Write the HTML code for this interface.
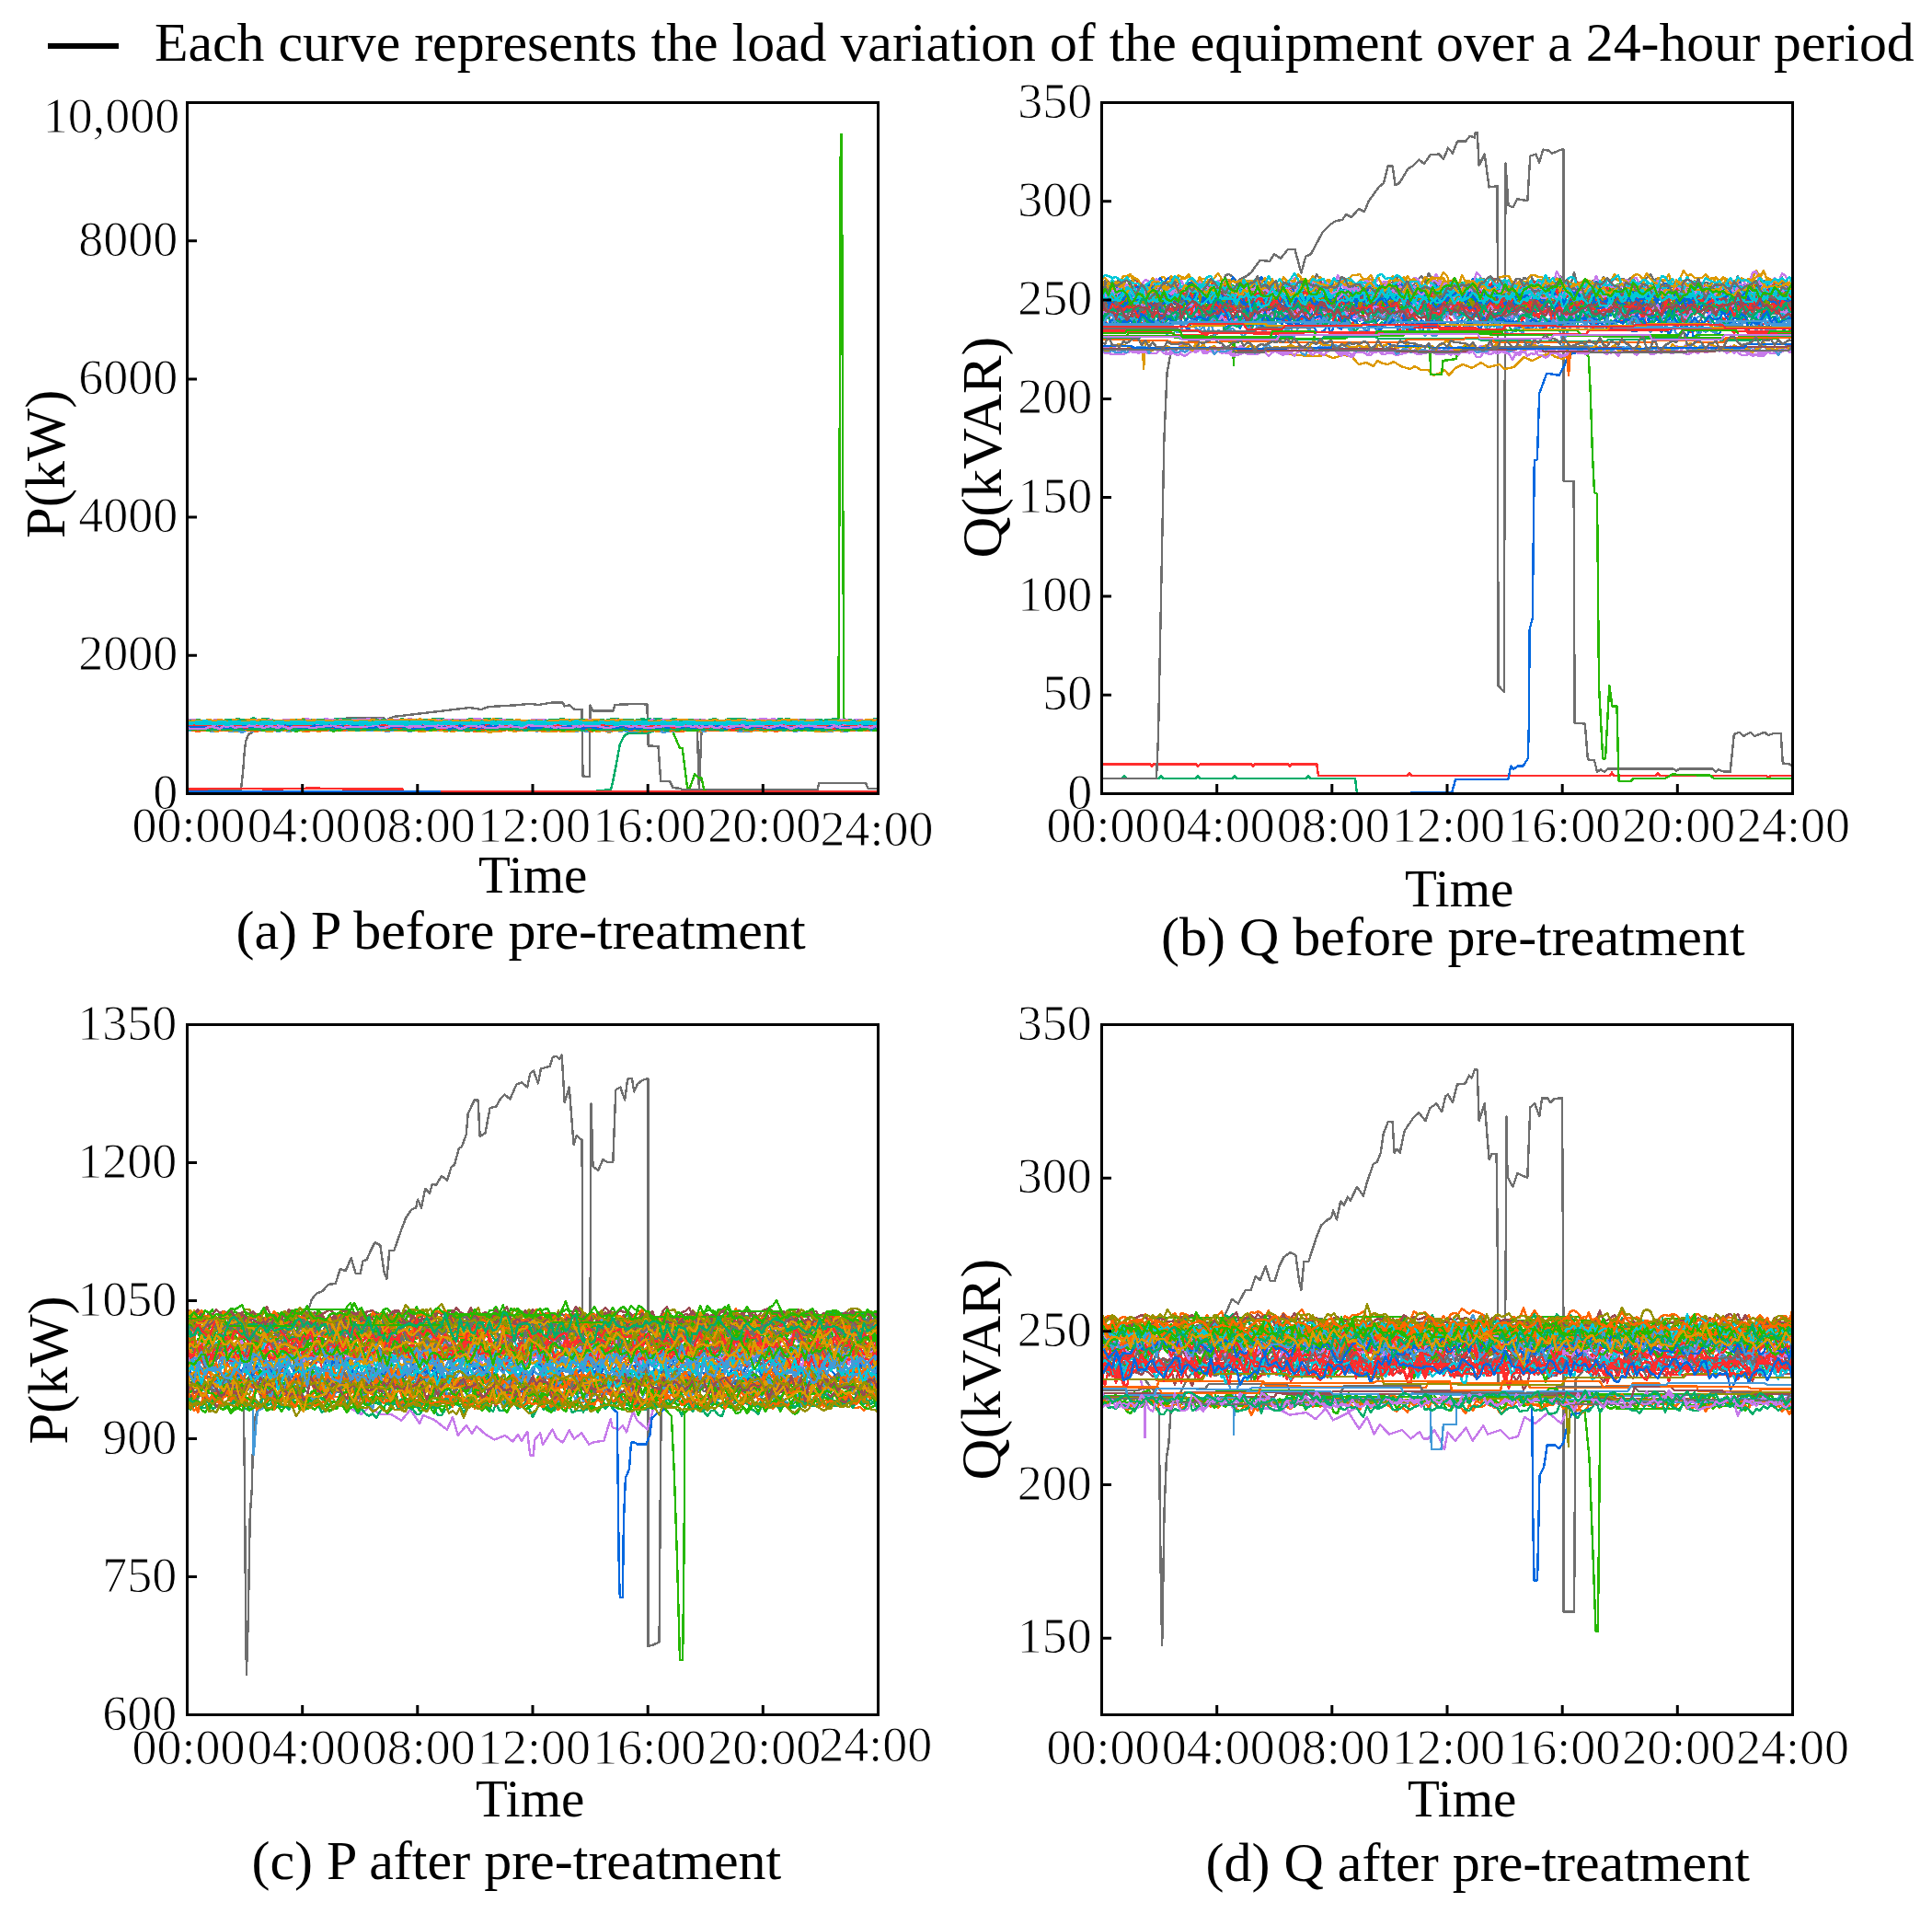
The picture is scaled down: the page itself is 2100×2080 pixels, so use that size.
<!DOCTYPE html><html><head><meta charset="utf-8"><title>Load curves</title><style>
html,body{margin:0;padding:0;background:#fff;width:2100px;height:2080px;overflow:hidden}
svg{position:absolute;left:0;top:0;display:block}
text{font-family:"Liberation Serif","Times New Roman",serif;fill:#000}.tk{stroke:#fff;stroke-width:0.9px}
</style></head><body>
<svg width="2100" height="2080" viewBox="0 0 2100 2080">
<rect width="2100" height="2080" fill="#fff"/>
<defs>
<clipPath id="ca"><rect x="203.5" y="111.5" width="751" height="751"/></clipPath>
<clipPath id="cb"><rect x="1197.5" y="111.5" width="751" height="751"/></clipPath>
<clipPath id="cc"><rect x="203.5" y="1113.5" width="751" height="750"/></clipPath>
<clipPath id="cd"><rect x="1197.5" y="1113.5" width="751" height="750"/></clipPath>
</defs>
<path d="M52 50H129" stroke="#000" stroke-width="6"/>
<text x="168" y="66" font-size="59.8">Each curve represents the load variation of the equipment over a 24-hour period</text>
<g clip-path="url(#ca)" fill="none" stroke-width="2.4" stroke-linejoin="round" shape-rendering="crispEdges">
<path d="M205 857.5l57 0 2-17.5 1.5-20 1.5-14 3-8 6.7-3.5 23.3-2.5 30-2 25.3-7.6 24.7-2 37.4 0 2.1 2 8.2-3.5 31.1-3.7 51.8-6.2 12.4 2 8.3-3 28.7-1.6 16.6-1.6 8.4 1.2 14.3-2.4 12.5 0 2 3.8 5.2-1 5.2 4.4 8.3 0 1 72.8 7.2 .4 .8-77.3 2.9 5.9 22.2 0 1.6-6.7 21.8-.9 13.4 .4 1.3 45 10.8 .6 2.7 37.7 10.1 .7 3.3 6.7 7.4 .7 2.7 1.4 146.7 0 2-7.4 50.5 0 2.7 6 11.4 0" stroke="#6e6e6e"/>
<path d="M756 791l1.9 .5 2 67.3 2.7-66.6 2.4-1.2" stroke="#6e6e6e"/>
<path d="M205 861l390.7 0 49.6-1 18.7-2 2-8 4-20 3.9-21.7 5.1-9.3 5.2-2.6 20.8 0 7-2.4" stroke="#00ad6a"/>
<path d="M700 792.5l30.3 .4 8.7 20.2 2.7 0 5.4 43 2.7 0 5.4-14.8 4 4.1 3.4-0 2.7 13.4 4.7 1.7 185-0" stroke="#26b800"/>
<path d="M900 791.5l11.3 0 .7-131.5 1-270 .8-244 1.2 0 .5 179 .7 205 1.1 250 1.4 11.5 11.3-.5" stroke="#26b800"/>
<path d="M205 857.5l55-.5 40 .5 40-1 40 1 57.3 0 .7 2.3 41.2 0 475.8 0" stroke="#ff2d2d"/>
<path d="M205 860l274.2 0" stroke="#0068e0"/>
<path d="M204 793l3 1 4 0 4 0 4 0 4 0 4-1 4 1 4 1 4-1 4 0 4-1 4 2 4 0 4 0 4-2 4-1 4 1 4 1 4 0 4-1 4 1 3 0 4 1 4-1 4-2 4 1 4 0 4 2 4-1 4 0 4 0 4 0 4 1 4-1 4 0 4 0 4-1 4-1 4 1 4 0 4 1 4 0 3 0 4-1 4 0 4 0 4 1 4 0 4 0 4-1 4-1 4 0 4 2 4 0 4-2 4 2 4 0 4-1 4 1 4 0 4 0 4 0 4-1 3 1 4 1 4-1 4-1 4 0 4 0 4 0 4 2 4-1 4 1 4-1 4 0 4 0 4 1 4-2 4 0 4 2 4-1 4 0 4 1 4-1 3 1 4 0 4-1 4-1 4 0 4 1 4 0 4 0 4 0 4 0 4 0 4 0 4 0 4 0 4 1 4-1 4-1 4 1 4 1 4 0 4-1 3 0 4-1 4 1 4 0 4-1 4 0 4 0 4 0 4 0 4 0 4 0 4 1 4-2 4 1 4 1 4-1 4 0 4 1 4 1 4-1 4 0 3 0 4 0 4 0 4 1 4-2 4 1 4 1 4-1 4 0 4 1 4-1 4 0 4-1 4 0 4 2 4-1 4 0 4 0 4-1 4 1 4-1 3 0 4 0 4 1 4 0 4 0 4 0 4-1 4 1 4 0 4-1 4 0 4 1 4 0 4 0 4 0 4 0 4 0 4-1 4 1 4-1 4 0 3 0 4 0 4 1 4 0 4-1 4 2 4 0 4 0 4 0 4-1 4-1 4 2 4-2 4 0 4 0 4 0 4 0 4-1 4 0 4 2 4-1 3 0" stroke="#dd9900"/>
<path d="M204 793l3 0 4 0 4 0 4 1 4-1 4 0 4 1 4-1 4 0 4 0 4 1 4-2 4 1 4 1 4-1 4 1 4-1 4 1 4-1 4 0 4 0 3 0 4 0 4 0 4 0 4-1 4 1 4 0 4 1 4 0 4-1 4 2 4-2 4-1 4 1 4 0 4-1 4 1 4 0 4 0 4-1 4 1 3 1 4 0 4-2 4 1 4 0 4-1 4 1 4 0 4 1 4-1 4 0 4-1 4 1 4 0 4 1 4 0 4-1 4 1 4 0 4-1 4-1 3 0 4 2 4 0 4-1 4 0 4-1 4 0 4 1 4 0 4 0 4 1 4 0 4 0 4-1 4 0 4 0 4 1 4-2 4 1 4 0 4 0 3 1 4 1 4-1 4-1 4 0 4 0 4 0 4-2 4 2 4 1 4-1 4 1 4 0 4-1 4 1 4 1 4-1 4-1 4 0 4 0 4 2 3 0 4-1 4-1 4-1 4 1 4-1 4 1 4 1 4 0 4 0 4 2 4-2 4-1 4 1 4 0 4-1 4 0 4 0 4-1 4 1 4-1 3 1 4-1 4 3 4-1 4 0 4-2 4 1 4 0 4 0 4-1 4 1 4 0 4 1 4 0 4-1 4 1 4-1 4 1 4-1 4 1 4-2 3 1 4 1 4 0 4 0 4 0 4 1 4 0 4 0 4-2 4 0 4 0 4 0 4 0 4 0 4 0 4 1 4-1 4 1 4-1 4 0 4 1 3 0 4 0 4-1 4 0 4 0 4 0 4 1 4-1 4 0 4 0 4 0 4 1 4 0 4 0 4 0 4 0 4-1 4 1 4-1 4 1 4 0 3 0" stroke="#dd9900"/>
<path d="M204 792l3 1 4-1 4 0 4 0 4-1 4 2 4 0 4-1 4 0 4 0 4-1 4 1 4 0 4-1 4 2 4-1 4 0 4 0 4 0 4-1 4 1 3 1 4-2 4 0 4 0 4 2 4 0 4-1 4 0 4 2 4-1 4 0 4 0 4 0 4-1 4 1 4-1 4-1 4 1 4 0 4 1 4-2 3 0 4 0 4 0 4 2 4 1 4-1 4-1 4-2 4 2 4 1 4 0 4 0 4-1 4 0 4 1 4 0 4-1 4 2 4-1 4-1 4 0 3 0 4 0 4 0 4 0 4 0 4 0 4 0 4-1 4 0 4 0 4 1 4 0 4-1 4 2 4-1 4-2 4 1 4-1 4 1 4 1 4 0 3 0 4 0 4 1 4-2 4 1 4 0 4 0 4 0 4 1 4-1 4-1 4 0 4 1 4 2 4-1 4-1 4-1 4 1 4 0 4 1 4 0 3 0 4 0 4-1 4 0 4 0 4-1 4 0 4 1 4-1 4 1 4 0 4 0 4 1 4-1 4 0 4 1 4-1 4-1 4 1 4 0 4 0 3 0 4 1 4-1 4 0 4 0 4 0 4-1 4 1 4-1 4 2 4 0 4-1 4 1 4-1 4-2 4 1 4 1 4-1 4 1 4 0 4 0 3 0 4 0 4 0 4-1 4 2 4 0 4-2 4 2 4-1 4 2 4-1 4 0 4-1 4 1 4-1 4 0 4-1 4 1 4 0 4 1 4-1 3 0 4 0 4 0 4 1 4-1 4 1 4 0 4-1 4 0 4 0 4-1 4 1 4 0 4 0 4 1 4-1 4 1 4-2 4 2 4-1 4 0 3-1" stroke="#ff6600"/>
<path d="M204 793l3 0 4 1 4-1 4 1 4-1 4 1 4 0 4-1 4 0 4 1 4-1 4 0 4 0 4 0 4 0 4 0 4 0 4 1 4-2 4 1 4 0 3 0 4 0 4 1 4-1 4 1 4-2 4 0 4 0 4 0 4 0 4 2 4-2 4 1 4 0 4 1 4-1 4 0 4 0 4-1 4 0 4 1 3 0 4-1 4 1 4-1 4 1 4 1 4-1 4 0 4-1 4-1 4 1 4 1 4 0 4 0 4 1 4 0 4-1 4-1 4 1 4 0 4 0 3-1 4 1 4-1 4 1 4 0 4 0 4 0 4-1 4 0 4 1 4 1 4-1 4-1 4 0 4 0 4 0 4 0 4 0 4-1 4 0 4 1 3 0 4 1 4 0 4 0 4 1 4 0 4-1 4 0 4 1 4-1 4-1 4 0 4 1 4 0 4 0 4 1 4 0 4 0 4-1 4 1 4-2 3 1 4 1 4 0 4 0 4 0 4-1 4 0 4-2 4 1 4 1 4 0 4 0 4-2 4 2 4 0 4 0 4-1 4 0 4 1 4 0 4 0 3 0 4-1 4 1 4-1 4-1 4 2 4 0 4 0 4 0 4 0 4 1 4 0 4-1 4 0 4 0 4 1 4-1 4-1 4 1 4 0 4 1 3-1 4 0 4 0 4 0 4-1 4 1 4 0 4 0 4-1 4 1 4 0 4 1 4-1 4-1 4 2 4 0 4 0 4 0 4-1 4-1 4 0 3 0 4 1 4 0 4 0 4 2 4-1 4 0 4 0 4 0 4-1 4 0 4 0 4 0 4 0 4 0 4-1 4 1 4-1 4 1 4-1 4 2 3 0" stroke="#dd9900"/>
<path d="M204 794l3 0 4 0 4-1 4 0 4 1 4 0 4 1 4-2 4 0 4 0 4 1 4 1 4-1 4 0 4 2 4-2 4-1 4 2 4-1 4-2 4 2 3 1 4-3 4 1 4 2 4-1 4 0 4 1 4-2 4 0 4 0 4 0 4 1 4-1 4 0 4 1 4 0 4 0 4 0 4-1 4 1 4-1 3 0 4 1 4 0 4-1 4 1 4-1 4 0 4 1 4 0 4-1 4 0 4 1 4 1 4-1 4-1 4 1 4-1 4 0 4 2 4-1 4 0 3-1 4 0 4 0 4 0 4 1 4 0 4 0 4-1 4-1 4 0 4 1 4 1 4 0 4 0 4-1 4 1 4 0 4 0 4 1 4 0 4-1 3-1 4 1 4 0 4-1 4-1 4 1 4 1 4 0 4 0 4-2 4 0 4 3 4-2 4 1 4 0 4-1 4 0 4 0 4 0 4 1 4-1 3 1 4 1 4-1 4 0 4 1 4-2 4 0 4 1 4-1 4 1 4 1 4-1 4-1 4 2 4-1 4 1 4 0 4 0 4-1 4 0 4 0 3-1 4 0 4 1 4 0 4 2 4-1 4-1 4 1 4-2 4 0 4 0 4 1 4 0 4 0 4-1 4 2 4-1 4 0 4 0 4 0 4 0 3 0 4-1 4 1 4 0 4 1 4-1 4 1 4-1 4-1 4 1 4-1 4 0 4 1 4 0 4-1 4 0 4-1 4 1 4 0 4 2 4-1 3-1 4 0 4 0 4 0 4 0 4 1 4 0 4 0 4 1 4-2 4 0 4 1 4 1 4-1 4 0 4 0 4 0 4-1 4 1 4 0 4-1 3 0" stroke="#4499d8"/>
<path d="M204 793l3-1 4 0 4 1 4-1 4 1 4 0 4 0 4 2 4-2 4 0 4 0 4 1 4-2 4 1 4 0 4 0 4 0 4 1 4 0 4-1 4 0 3 2 4-2 4 0 4-1 4 1 4 1 4-1 4 1 4-1 4 1 4 0 4-1 4-1 4 1 4 2 4-1 4-1 4 0 4 0 4 0 4 0 3 1 4-1 4 1 4 0 4-1 4 1 4-1 4 0 4 0 4 1 4-2 4 2 4-1 4-1 4 1 4 1 4 0 4 0 4-1 4 1 4 0 3 1 4-1 4-1 4 1 4 0 4-1 4 1 4-1 4-1 4 0 4 0 4 0 4 1 4 2 4-1 4 0 4-1 4 2 4-1 4 2 4-1 3-2 4 1 4-1 4 0 4 0 4 2 4-1 4 0 4 0 4 0 4 0 4 0 4 0 4 1 4-3 4 1 4 2 4-1 4-1 4 0 4 2 3 0 4-1 4 0 4 0 4-1 4 0 4 1 4 1 4-1 4-1 4-1 4 1 4 1 4 0 4-1 4 0 4 1 4 0 4-1 4 0 4 0 3 1 4-2 4 0 4 1 4 0 4 1 4-1 4 0 4-2 4 2 4 0 4 0 4-1 4 1 4 0 4 0 4 0 4 1 4-1 4 1 4 0 3 0 4-1 4 1 4 0 4-1 4 0 4 1 4-1 4-1 4 2 4 0 4 1 4-2 4 1 4 0 4 0 4-1 4 0 4 0 4 0 4-1 3 0 4 1 4 0 4 1 4 0 4 0 4 0 4-1 4 1 4-1 4 1 4-1 4 0 4 1 4-1 4 0 4 1 4-1 4 1 4-1 4 1 3-1" stroke="#dd9900"/>
<path d="M204 793l3 0 4 1 4 1 4-1 4 0 4 0 4-1 4 0 4 1 4-1 4 1 4-2 4 0 4 1 4-1 4 1 4 1 4 0 4 1 4-2 4 0 3-1 4 1 4 0 4 1 4-1 4 0 4 0 4 1 4 0 4-1 4 0 4 2 4-2 4 1 4 0 4 0 4 0 4-1 4 0 4 1 4 0 3 0 4-1 4 0 4 0 4 1 4-1 4-1 4 1 4 0 4-1 4 0 4 1 4 1 4-1 4 0 4 0 4 0 4 1 4-2 4 1 4 0 3 1 4-1 4 0 4-1 4 1 4 0 4-1 4 1 4 1 4 0 4-2 4 2 4 0 4-1 4 0 4 2 4-1 4 0 4-1 4 0 4 0 3-1 4 2 4 0 4-1 4-1 4 1 4 1 4-1 4 1 4-2 4 0 4 1 4 1 4 0 4-2 4 1 4 1 4 0 4-2 4 1 4 1 3-1 4 0 4 0 4 0 4-1 4 3 4-1 4-1 4 0 4 1 4 0 4 0 4-1 4-1 4-1 4 2 4 1 4-1 4 0 4 1 4 1 3-1 4 0 4 0 4 0 4-3 4 2 4 1 4 0 4 1 4 0 4-1 4 0 4-1 4 0 4 0 4 0 4 1 4 0 4 0 4 0 4 0 3-1 4 0 4 1 4 0 4-1 4 0 4 0 4 1 4-1 4 0 4-1 4 1 4-1 4 2 4 1 4-2 4-1 4 1 4 1 4 0 4-1 3 0 4-1 4 1 4 0 4 0 4 0 4 0 4-1 4 1 4-1 4 1 4 0 4 1 4-1 4 1 4-1 4 0 4 0 4 1 4-1 4-1 3 1" stroke="#ff6600"/>
<path d="M204 791l3 1 4-1 4 2 4-2 4 0 4 1 4-2 4 0 4 2 4-1 4 0 4 2 4-1 4 1 4-1 4-2 4 1 4 1 4 0 4 0 4 0 3 0 4 0 4-1 4 0 4 0 4 1 4 0 4-1 4-1 4 1 4 0 4 0 4 0 4 1 4-2 4 0 4 2 4-1 4-1 4 0 4 0 3 1 4-1 4 1 4-2 4 2 4-1 4 0 4 1 4 1 4 1 4-2 4 1 4-2 4 0 4 0 4 1 4 0 4 1 4 0 4 0 4-1 3 0 4 2 4-2 4 1 4-1 4-1 4 1 4 0 4-1 4 1 4 0 4 1 4-1 4-1 4 0 4 2 4-2 4 0 4 1 4 0 4 0 3-1 4-1 4 0 4 1 4 2 4-1 4-1 4 2 4 0 4 0 4 0 4-1 4-1 4 2 4 0 4-1 4-1 4 0 4 2 4 0 4-2 3 1 4-1 4 1 4 0 4 0 4 0 4-1 4 2 4-1 4-1 4 2 4 1 4-1 4-2 4 0 4 2 4-2 4 1 4 0 4 0 4-1 3 2 4-1 4 0 4-1 4 1 4-1 4 1 4 0 4 0 4 1 4-1 4 0 4 1 4-1 4 1 4 0 4 0 4-1 4-2 4 1 4 1 3-1 4 1 4 0 4 0 4 0 4 0 4 0 4 1 4-1 4 0 4 1 4 0 4-1 4-1 4 1 4 0 4 0 4-1 4 0 4 1 4-1 3 1 4 1 4-2 4 1 4 0 4 1 4 0 4-1 4 0 4 1 4-1 4 2 4-1 4 0 4-2 4 1 4 0 4 1 4-2 4 0 4 1 3-1" stroke="#6e6e6e"/>
<path d="M204 792l3-1 4 2 4-1 4 1 4 0 4 1 4-2 4 0 4 0 4 0 4 1 4-2 4 0 4 0 4 1 4 0 4 1 4 0 4 0 4-1 4 0 3-1 4 1 4 0 4 2 4-1 4-1 4-1 4 1 4 1 4-1 4-1 4 1 4 0 4 0 4 0 4 0 4 1 4-2 4 1 4 1 4 1 3-2 4 0 4 0 4-1 4 1 4 1 4 0 4 0 4-1 4 1 4-1 4 1 4 0 4 0 4 0 4 0 4-2 4 0 4 0 4 1 4-1 3 1 4-1 4 2 4-1 4 0 4 0 4-1 4 2 4-1 4 1 4-1 4 1 4 0 4 0 4 0 4 0 4 1 4-1 4-1 4 0 4 0 3 1 4-1 4 1 4-1 4 1 4-1 4 0 4 0 4 2 4-1 4 0 4 0 4 0 4 0 4-1 4 1 4 0 4 0 4-1 4 1 4-1 3 1 4 0 4-1 4 0 4 1 4 0 4 1 4-3 4 1 4 0 4-1 4 0 4 2 4 0 4 0 4-1 4-1 4 0 4 1 4-1 4 1 3 1 4 0 4-1 4 0 4-1 4 2 4-2 4 2 4-1 4 0 4 1 4 1 4 0 4-1 4-1 4-1 4 1 4 0 4-1 4 0 4 2 3-1 4-1 4 0 4 0 4 0 4 1 4 1 4-1 4-1 4 0 4 0 4 0 4 1 4-1 4 1 4 0 4 1 4-1 4 0 4-1 4 1 3 1 4 0 4 0 4 1 4-2 4 0 4 0 4 0 4 1 4-2 4 1 4 1 4 0 4 1 4-3 4 2 4 1 4-2 4-2 4 1 4 1 3 0" stroke="#26b800"/>
<path d="M204 790l3 1 4 1 4 0 4-1 4 0 4-2 4 0 4 1 4-1 4 0 4 0 4-1 4 1 4-1 4 3 4-1 4 1 4-1 4 0 4 0 4 0 3 1 4 2 4-2 4 0 4-2 4 1 4 0 4 1 4-1 4 1 4-1 4 0 4-1 4 2 4-1 4 1 4-1 4 1 4 1 4-1 4 0 3-1 4-1 4 2 4-1 4-2 4 0 4 0 4 2 4 1 4-1 4-1 4 1 4 0 4 1 4-2 4 0 4 0 4-1 4 2 4 1 4 0 3 0 4-2 4 0 4 1 4 0 4 1 4-1 4 0 4 0 4 1 4-2 4 0 4 0 4-1 4 1 4 1 4-1 4 0 4 2 4-2 4 1 3-1 4 0 4 1 4 1 4-2 4 0 4 1 4-1 4 0 4 0 4 1 4-1 4 1 4 0 4 0 4 1 4 0 4 0 4-1 4-1 4 1 3-3 4 1 4 0 4 1 4 0 4 0 4-1 4 0 4 2 4-1 4 1 4 0 4-1 4 0 4 1 4 1 4-2 4-1 4 3 4-2 4 0 3 1 4 1 4 0 4-1 4 0 4-1 4 0 4 0 4 1 4 0 4 0 4 0 4 0 4 1 4-1 4 1 4 0 4-2 4 0 4-1 4 1 3 1 4-1 4 0 4 1 4 0 4 0 4-1 4 2 4-1 4-1 4 0 4 1 4-1 4-1 4 0 4 1 4 1 4 2 4-2 4-1 4-1 3 0 4 2 4 0 4-1 4-1 4 0 4 2 4 0 4 1 4-1 4-1 4 2 4-2 4 1 4 0 4-1 4 1 4-1 4 0 4 1 4-2 3 2" stroke="#26b800"/>
<path d="M204 792l3-1 4 0 4 0 4 0 4 0 4 2 4 0 4-1 4 0 4 1 4 0 4 0 4 0 4 0 4 0 4-1 4 0 4 0 4 1 4 0 4-2 3 1 4 0 4-1 4 1 4 0 4 0 4 1 4 0 4 2 4-2 4-1 4 1 4 0 4 0 4 0 4 0 4-2 4 1 4 3 4-2 4-1 3-1 4 0 4 2 4 0 4-1 4 0 4 1 4 0 4-2 4 0 4 1 4-1 4 1 4 0 4 0 4 1 4 0 4-1 4 0 4 0 4 1 3-2 4 2 4-1 4 2 4-2 4 0 4 0 4 1 4 0 4-1 4 0 4 2 4-2 4 0 4 0 4 1 4 1 4-1 4-1 4 1 4 0 3-1 4 0 4 0 4-1 4 1 4-1 4 1 4 0 4 0 4 1 4 0 4-1 4 0 4 1 4 0 4-1 4-1 4 1 4-1 4 2 4 0 3-1 4-1 4 1 4 1 4 0 4 0 4 0 4 0 4-1 4-1 4 1 4 1 4 0 4-1 4-1 4 1 4 0 4 0 4 1 4-2 4 2 3 0 4 0 4 0 4 0 4 0 4 0 4-2 4 2 4 1 4-2 4 1 4 1 4 0 4 0 4-2 4 0 4-1 4 0 4 2 4-1 4 0 3-1 4 1 4 1 4 0 4-1 4-1 4 1 4 0 4-2 4 2 4 1 4 0 4 0 4-1 4 1 4 0 4 0 4-2 4 2 4 1 4-2 3 2 4-2 4 0 4 0 4 1 4-2 4 2 4 0 4-1 4 1 4-2 4 1 4 0 4 0 4 0 4 1 4 1 4-1 4-1 4-1 4 1 3-2" stroke="#26b800"/>
<path d="M204 788l3 4 4-1 4-3 4 1 4 0 4 1 4 0 4 1 4-2 4 1 4-1 4 0 4 0 4 0 4 2 4-1 4 0 4-1 4 1 4-1 4 1 3 0 4 0 4 0 4-1 4 0 4 0 4 1 4-1 4 1 4 1 4-2 4 0 4 0 4 1 4 1 4 0 4-1 4 1 4-2 4 1 4 0 3-1 4 2 4 1 4-1 4 1 4-2 4-1 4 0 4 1 4 1 4-1 4 0 4 0 4-1 4 1 4 0 4 0 4-1 4 1 4 0 4 2 3-2 4 0 4 0 4-1 4 0 4 1 4-1 4 1 4-1 4 1 4 1 4-1 4 1 4 0 4 0 4 0 4-1 4 0 4 0 4 0 4 0 3 0 4 0 4-1 4 0 4 1 4 0 4-1 4 0 4 2 4-1 4-1 4 0 4 0 4 0 4 0 4 0 4 1 4-1 4 0 4 1 4-1 3 2 4 0 4 0 4-1 4-1 4 1 4 0 4 0 4-1 4 0 4 0 4 1 4 1 4-2 4 1 4 0 4-1 4 2 4-2 4 0 4 0 3 1 4-1 4 1 4-2 4 0 4 3 4 0 4 0 4 0 4 0 4-3 4 3 4-1 4 0 4 1 4 0 4 0 4-2 4 1 4 0 4-1 3 1 4-1 4 0 4 1 4 0 4 0 4 0 4 0 4-1 4 1 4-1 4 0 4 1 4-1 4 0 4 1 4 0 4 0 4 0 4-1 4 2 3 0 4 0 4-1 4 0 4 0 4 0 4 1 4 0 4 0 4-1 4-1 4-1 4 1 4 1 4 1 4-2 4 0 4 1 4 0 4 0 4 0 3 0" stroke="#ff2d2d"/>
<path d="M204 788l3 2 4 0 4-1 4 0 4 0 4 1 4 2 4-3 4 0 4 0 4 1 4-2 4 0 4 2 4-1 4 1 4 0 4-1 4 0 4 0 4 0 3 0 4 2 4 0 4-1 4-1 4 0 4 1 4 0 4-1 4 2 4-2 4 0 4 0 4 0 4 1 4 1 4-2 4 3 4-3 4 0 4 0 3 0 4 0 4 1 4-1 4 1 4-1 4-1 4 1 4 0 4 1 4 0 4 0 4-2 4 2 4 0 4-1 4 1 4 1 4-3 4 1 4-1 3 0 4 0 4 1 4 0 4 0 4 0 4 0 4 1 4 0 4 2 4-2 4 0 4 0 4-2 4 1 4 0 4 0 4 0 4 1 4-1 4 1 3-1 4 1 4 0 4-1 4 0 4 1 4 0 4-1 4 0 4-1 4 0 4 1 4 0 4 2 4-3 4 2 4-1 4-1 4 2 4 2 4-1 3-2 4 1 4-1 4 0 4-1 4 3 4-2 4 1 4-1 4 0 4 0 4 0 4 0 4 1 4-1 4 1 4 1 4-1 4 1 4-1 4 0 3-1 4 2 4 0 4-2 4 2 4-1 4 1 4-1 4-1 4 0 4 2 4-2 4 1 4 0 4 1 4 0 4-1 4-1 4 0 4 0 4 1 3 0 4 0 4 1 4 0 4 0 4 0 4 0 4-1 4 1 4-1 4-1 4 0 4 0 4 0 4 0 4 1 4 0 4 0 4-1 4 0 4-1 3 1 4-1 4 2 4-1 4 2 4-2 4 1 4-1 4 0 4 1 4 0 4 0 4-1 4 2 4 0 4-1 4-1 4-1 4 3 4-1 4 1 3-1" stroke="#6e6e6e"/>
<path d="M204 792l3-1 4 1 4-1 4 0 4 2 4 1 4-2 4-1 4 1 4 0 4 1 4 0 4-1 4-1 4 1 4-1 4 0 4 2 4-1 4 1 4 1 3-3 4 1 4 1 4 0 4-1 4-1 4-1 4 1 4 1 4 1 4-1 4-1 4 0 4 1 4 0 4 0 4 0 4 0 4 0 4 0 4 1 3-1 4 0 4 0 4 0 4 0 4 1 4 0 4 0 4 0 4-1 4 0 4 1 4 0 4-1 4-1 4 2 4 0 4 0 4 1 4 0 4-2 3 1 4-2 4 0 4 0 4 2 4-1 4 0 4 0 4 0 4 0 4 0 4 0 4 0 4 0 4-1 4 1 4 0 4-1 4 1 4-1 4 0 3 1 4 0 4-1 4 0 4 0 4 1 4-1 4 0 4 1 4 0 4-1 4 1 4 0 4 0 4-1 4 0 4 0 4 0 4 3 4-1 4-1 3-1 4 0 4 1 4-1 4 1 4-1 4-1 4 2 4 1 4-1 4 0 4 0 4-1 4 0 4 2 4 0 4-2 4 0 4 0 4 2 4 0 3-1 4-1 4-1 4 1 4 2 4-1 4 0 4-1 4 0 4 1 4 1 4 0 4-1 4 2 4-2 4 0 4 0 4 1 4-2 4 2 4 0 3-1 4-1 4 1 4 0 4-1 4 0 4-1 4 2 4 0 4 0 4 1 4 0 4-2 4 2 4 0 4-2 4 1 4-1 4 1 4-1 4 0 3 1 4 0 4 0 4-1 4 1 4 0 4 0 4-1 4 2 4 0 4 0 4-1 4 2 4-1 4 0 4-1 4 0 4 1 4-2 4 2 4 1 3-1" stroke="#26b800"/>
<path d="M204 791l3 1 4-1 4 1 4-1 4 1 4 1 4 0 4 0 4-1 4 1 4-1 4 0 4 1 4 0 4-1 4 0 4 0 4 0 4 0 4 1 4-2 3 0 4 0 4 0 4 1 4-1 4 1 4 0 4 2 4-1 4-1 4 0 4-1 4 0 4 0 4 0 4 1 4-1 4 0 4 2 4-1 4 0 3-1 4 1 4 0 4 1 4-1 4-1 4 0 4 0 4 2 4-1 4 1 4 0 4-1 4 0 4 1 4-1 4 0 4-2 4 1 4 0 4 0 3 1 4 0 4-1 4 0 4 0 4-1 4 1 4 1 4-1 4 1 4 1 4 1 4-1 4 1 4 0 4-2 4-1 4-1 4 2 4 0 4-1 3 0 4 1 4 0 4 0 4 0 4 0 4 1 4-1 4 2 4-2 4-1 4 0 4 1 4-1 4 1 4 0 4-1 4 1 4-1 4 1 4 0 3 0 4 0 4-1 4 1 4-1 4 0 4 1 4 0 4 1 4 0 4 0 4-1 4 1 4-1 4-1 4 1 4 0 4 0 4 0 4-1 4 1 3 1 4-2 4 1 4 0 4 1 4 1 4-2 4-1 4 1 4 0 4-1 4 0 4 0 4 1 4 0 4 1 4-1 4 1 4-1 4 1 4 1 3-1 4-1 4-1 4 1 4 1 4-1 4-1 4 2 4-1 4 0 4 1 4-1 4-1 4 1 4 1 4-2 4 0 4 1 4 1 4-2 4 0 3-1 4 2 4 2 4-2 4 0 4 0 4 0 4 0 4-1 4 0 4 1 4-1 4-1 4 1 4 0 4 1 4 0 4-1 4 1 4 1 4-2 3 0" stroke="#00ad6a"/>
<path d="M204 793l3 0 4-1 4 0 4 0 4-1 4 0 4 1 4 0 4-1 4 1 4-1 4-1 4 2 4 1 4-1 4 0 4-1 4-2 4 2 4 1 4-1 3 2 4 0 4-1 4 1 4-2 4 1 4 0 4-1 4 0 4 0 4 1 4 0 4 0 4-1 4 1 4 0 4-1 4 1 4-1 4-1 4 1 3 1 4 0 4 1 4 0 4 1 4-2 4 0 4 0 4 0 4 0 4-1 4 1 4 0 4-2 4 2 4-1 4 1 4 1 4-1 4 0 4 0 3 0 4-1 4 2 4-2 4 0 4 1 4-1 4 0 4 3 4-2 4-1 4 0 4 1 4 0 4-1 4 1 4 1 4-1 4 0 4 0 4-1 3 2 4-1 4-1 4 0 4 1 4 0 4-1 4 1 4-1 4 1 4 1 4 0 4-1 4-1 4 1 4 0 4-2 4 2 4 0 4-1 4 0 3 1 4-1 4 2 4 1 4-2 4-1 4 1 4 0 4 0 4-1 4 1 4-2 4 2 4 0 4 0 4 0 4-1 4-1 4 2 4 0 4 0 3 0 4-1 4-1 4 3 4 0 4-2 4 1 4-1 4 0 4 0 4 2 4 0 4-1 4 0 4-1 4 0 4 0 4 1 4 0 4-1 4 2 3-2 4 0 4 2 4-2 4 1 4-2 4 1 4 1 4-2 4 2 4 1 4-1 4 0 4-1 4 0 4 1 4 2 4-2 4-1 4 1 4 0 3-1 4 0 4 1 4 1 4-1 4 1 4 1 4-2 4-1 4 2 4-2 4 1 4-1 4-1 4 2 4 0 4 0 4-1 4 0 4 0 4 0 3 2" stroke="#00ad6a"/>
<path d="M204 788l3 1 4 0 4 0 4-1 4 0 4 0 4-1 4 2 4 0 4 0 4-1 4-1 4 1 4 1 4 1 4-2 4-1 4-1 4 1 4 0 4 1 3-1 4 1 4 0 4 0 4 0 4 0 4 1 4 0 4-1 4-1 4 1 4 0 4-1 4 1 4 0 4 1 4 0 4-1 4 0 4-1 4 2 3-1 4 0 4-1 4 1 4 0 4 0 4-1 4 1 4 0 4 0 4-1 4 2 4-1 4 1 4 0 4-1 4-2 4 2 4-1 4 1 4 0 3 1 4 2 4-2 4 0 4 0 4-3 4 1 4 3 4-2 4-2 4 1 4 2 4 0 4-2 4 0 4 2 4-1 4 1 4-1 4 1 4 0 3-1 4 1 4 0 4-1 4-1 4 0 4 0 4 0 4 1 4 0 4 0 4 1 4-1 4-2 4 1 4 1 4 0 4 0 4 0 4-2 4 1 3 1 4-1 4 0 4 0 4 1 4 2 4-1 4-1 4 1 4-1 4 0 4-1 4 1 4 1 4-1 4 0 4 1 4-2 4 2 4 0 4-1 3 0 4 0 4 0 4-1 4-1 4 1 4 0 4-2 4 2 4-1 4 1 4 0 4 2 4 0 4 0 4-1 4 2 4-2 4 0 4-2 4 2 3 0 4-1 4 1 4 0 4-1 4 0 4-1 4 2 4 0 4 0 4 0 4-1 4 1 4 1 4-2 4 0 4 0 4 0 4 0 4 1 4 1 3 0 4-1 4-2 4 1 4 1 4-1 4-2 4 1 4 2 4-1 4 1 4 0 4 0 4-1 4 2 4-1 4 1 4-3 4-1 4 1 4 2 3 0" stroke="#ff2d2d"/>
<path d="M204 791l3-1 4 0 4-1 4-2 4 2 4-1 4 2 4 0 4-1 4 0 4 0 4 0 4 1 4 1 4-2 4 0 4 0 4 2 4-2 4 0 4 1 3 0 4-1 4 1 4-2 4 0 4 0 4 1 4 1 4 0 4-1 4 0 4 0 4 0 4 2 4-1 4-1 4-1 4 1 4 1 4-1 4-1 3 1 4 0 4 0 4 0 4-2 4 2 4-1 4 1 4 0 4 0 4 0 4 0 4 1 4 0 4 0 4-1 4 0 4 1 4-3 4 0 4 1 3 0 4 0 4 1 4-1 4-1 4 0 4 1 4 2 4 0 4 2 4-2 4 0 4-1 4-1 4 0 4 1 4 1 4-1 4 2 4-2 4 0 3 2 4-3 4 1 4 1 4-1 4 1 4 1 4-1 4 0 4-1 4 0 4 0 4 0 4 1 4-1 4 1 4 0 4-1 4 0 4 0 4 2 3-2 4 1 4-1 4-3 4 2 4 1 4 0 4 0 4 1 4 1 4-2 4 1 4-1 4-1 4 1 4 1 4-1 4 1 4-2 4 2 4-2 3 1 4 1 4-1 4-1 4 1 4 1 4 1 4-2 4 0 4-1 4 1 4 0 4 1 4-1 4 2 4-1 4 0 4 0 4-1 4-2 4 1 3 0 4 0 4 2 4 0 4-1 4 2 4-1 4 0 4-2 4 3 4 0 4-2 4 1 4 0 4-1 4-1 4 3 4 0 4-1 4-1 4 1 3-1 4 2 4-2 4 0 4 0 4 1 4 0 4-1 4 1 4-2 4 2 4 0 4-1 4-1 4 3 4 0 4-1 4-1 4 0 4 0 4-1 3 0" stroke="#6e6e6e"/>
<path d="M204 790l3 0 4-1 4 1 4 0 4 1 4 0 4-2 4-1 4 1 4 0 4 1 4-2 4 0 4 1 4 0 4 1 4-2 4 1 4 0 4 0 4 1 3-2 4 2 4-2 4 1 4 1 4-1 4 1 4-1 4 0 4 0 4 1 4-2 4-1 4 1 4 2 4 0 4 0 4-1 4 1 4 0 4-2 3 2 4-1 4 2 4-2 4-1 4 1 4 0 4-1 4 1 4-1 4 2 4-1 4 2 4-1 4 1 4 0 4-2 4-1 4 0 4 0 4 2 3-1 4 2 4-2 4 1 4-1 4 1 4-1 4 1 4 1 4 0 4-1 4-1 4 0 4 0 4 1 4-3 4 3 4 2 4-1 4-2 4-1 3 2 4 1 4-1 4-1 4 1 4-2 4 2 4-1 4 0 4-1 4 0 4 0 4 1 4 0 4 1 4-1 4 0 4 0 4 0 4 0 4 0 3 1 4-1 4 0 4 1 4 2 4-1 4-3 4 1 4-1 4 2 4 0 4-1 4 1 4-1 4 1 4-1 4 1 4 0 4-1 4 0 4 0 3 1 4-3 4 2 4 1 4-1 4-1 4 1 4 1 4-2 4 0 4 1 4 0 4 0 4 0 4 0 4 1 4 1 4-2 4 1 4 0 4-1 3 0 4 0 4 0 4 1 4 0 4-2 4 2 4 1 4-3 4 2 4-2 4 1 4 0 4 0 4 1 4 0 4-2 4 0 4 1 4 0 4 0 3 0 4-1 4 0 4 1 4-1 4 1 4 1 4-1 4-1 4 0 4 1 4 0 4 0 4 0 4 0 4 0 4 1 4-2 4 0 4 0 4 1 3-2" stroke="#ff2d2d"/>
<path d="M204 786l3-1 4 3 4 0 4 0 4 0 4-2 4 0 4 1 4-1 4 1 4-1 4 1 4 1 4 0 4 0 4-2 4 1 4 0 4 0 4 0 4 0 3 0 4 0 4 0 4 0 4 0 4-1 4 2 4-1 4 0 4 0 4 1 4-1 4 0 4 0 4 0 4 1 4 0 4-1 4 0 4 0 4-1 3-1 4 3 4-1 4-2 4 2 4-1 4 2 4-1 4-3 4 3 4 1 4-1 4 1 4 0 4 0 4 1 4-1 4 0 4-1 4 0 4 0 3-1 4 1 4 0 4 0 4 1 4 0 4-1 4-1 4-1 4 2 4-1 4 0 4 2 4 0 4 0 4 0 4-1 4 0 4 0 4 1 4-2 3 0 4 1 4-1 4 1 4 0 4-1 4 1 4 1 4 1 4 0 4-1 4-1 4 0 4-1 4 1 4-1 4 0 4-1 4 1 4-1 4 0 3 1 4 1 4 0 4-1 4 1 4 2 4 0 4-1 4-1 4 0 4 1 4-1 4 1 4-1 4 0 4 1 4-1 4-3 4 3 4 0 4 0 3 0 4-1 4 0 4 1 4 1 4-2 4 1 4 0 4 0 4 0 4-1 4 0 4-1 4 0 4 0 4 1 4-1 4 1 4 1 4 1 4-1 3 1 4-2 4 1 4 0 4 0 4 0 4 1 4 0 4 0 4-2 4 0 4 1 4 0 4 1 4 0 4 0 4-1 4 1 4-1 4 1 4-1 3-2 4 2 4 1 4-1 4 2 4-1 4 0 4-1 4 0 4 1 4 0 4-2 4 1 4 0 4 1 4-1 4 0 4 0 4-1 4 0 4 0 3 2" stroke="#6e6e6e"/>
<path d="M204 789l3 0 4-1 4 1 4-1 4-1 4 2 4-1 4 0 4 2 4-1 4 0 4 0 4 0 4-2 4 1 4-1 4 1 4 0 4 2 4 0 4-1 3 0 4 0 4-2 4 1 4 0 4 0 4 2 4-1 4 1 4-2 4 2 4-1 4-1 4 0 4 0 4 1 4 0 4 0 4 0 4 0 4 0 3 0 4 0 4 0 4 0 4-1 4 1 4 0 4-1 4 1 4 1 4-2 4 2 4 0 4 1 4-2 4 1 4 0 4-2 4-1 4 2 4 0 3-1 4-1 4 1 4 0 4 1 4 1 4-1 4 0 4 0 4-1 4 1 4-1 4 1 4 0 4 1 4 0 4 2 4-2 4-1 4-1 4 2 3 0 4 0 4-1 4-2 4 1 4 0 4 1 4 0 4 0 4 0 4 2 4-3 4 0 4 0 4 1 4 0 4-1 4 1 4-1 4 1 4 0 3 1 4-2 4 0 4 1 4-1 4-1 4 3 4-1 4 1 4 0 4-1 4 0 4 1 4-1 4 1 4 0 4-1 4 1 4 0 4 0 4 0 3-1 4 0 4 1 4-2 4-2 4 2 4 1 4 0 4 0 4 1 4 0 4-1 4 0 4 0 4 1 4 0 4-1 4 1 4 0 4-2 4 0 3-1 4 0 4 2 4-1 4 1 4 1 4-1 4 0 4 0 4-1 4 0 4 2 4 0 4-1 4 0 4 1 4-1 4 1 4-2 4 1 4 1 3 1 4-2 4 0 4 0 4 0 4 0 4 1 4 0 4-1 4-2 4 0 4 2 4 1 4-1 4 1 4 0 4-1 4 0 4 0 4 0 4 1 3-1" stroke="#0068e0"/>
<path d="M204 790l3 0 4 0 4 0 4 0 4 0 4-1 4-1 4 0 4 2 4 0 4 0 4 0 4 1 4-1 4 0 4 0 4-1 4 1 4-1 4-1 4 1 3-1 4 0 4 0 4 0 4-1 4 0 4 0 4 3 4-3 4 2 4 1 4-1 4 1 4 0 4 0 4 0 4 0 4-1 4-1 4 2 4-3 3 3 4 0 4-2 4 0 4 1 4 1 4-1 4 0 4 2 4 0 4-2 4 0 4-1 4 0 4 1 4 1 4-1 4 1 4-1 4 0 4 1 3-1 4 2 4-1 4-2 4 2 4-1 4 1 4 1 4-2 4 0 4 2 4-3 4 4 4-3 4 1 4 0 4 0 4 1 4-2 4-1 4 0 3 0 4 2 4 0 4 0 4-2 4 3 4-1 4 0 4 0 4-1 4 1 4 0 4-1 4 0 4 0 4-1 4 0 4 2 4 1 4-1 4 0 3-2 4 3 4-1 4 0 4 0 4 0 4-2 4 1 4-1 4 0 4 2 4 0 4 0 4 0 4-1 4 0 4 0 4-1 4 0 4 1 4 2 3-2 4-1 4 1 4 0 4 0 4-1 4 0 4 0 4 0 4 3 4-1 4-1 4 1 4-1 4 1 4 0 4-2 4 2 4-2 4 1 4 1 3 0 4-2 4 1 4 0 4 2 4-1 4-1 4 2 4-2 4 1 4 0 4 1 4-1 4-1 4-1 4 0 4 2 4-1 4 1 4 0 4 1 3-1 4-1 4 1 4-1 4 1 4-2 4 1 4 0 4-1 4 2 4 0 4-1 4 1 4-1 4 0 4 0 4 0 4 0 4 0 4 0 4 0 3 0" stroke="#0068e0"/>
<path d="M204 788l3 0 4 1 4-3 4 2 4-1 4 0 4-1 4-1 4 1 4 1 4-1 4 0 4 1 4 0 4-1 4 1 4 0 4 0 4 1 4-1 4 2 3-2 4-1 4 2 4 0 4 1 4-2 4 1 4-1 4-1 4 1 4-1 4 2 4-1 4-1 4 0 4 2 4-1 4 0 4-1 4 1 4-1 3 1 4 0 4-1 4 1 4 0 4-1 4 1 4 0 4 0 4 1 4-2 4-1 4 1 4 0 4 1 4-2 4 1 4-2 4 3 4-1 4 2 3-1 4-2 4 0 4 1 4 1 4 0 4 1 4 1 4-2 4 1 4 0 4-1 4 1 4-2 4 1 4 0 4 0 4-1 4 2 4 0 4-2 3 1 4 1 4 0 4 0 4 0 4-1 4 0 4 0 4 0 4-1 4-1 4 2 4 1 4 0 4-1 4 1 4 0 4-1 4 1 4-1 4-2 3 1 4 0 4-1 4 0 4 0 4 2 4 1 4-2 4 3 4-2 4 1 4-1 4 1 4-1 4 0 4-1 4-1 4 1 4 1 4-1 4 2 3 0 4-1 4 0 4 1 4-3 4 3 4-1 4 2 4-3 4 0 4 0 4 1 4 1 4 0 4-2 4 1 4 1 4 0 4-1 4 0 4 0 3 0 4 0 4 2 4 0 4-1 4-2 4 0 4 1 4 0 4-2 4 1 4 0 4 2 4 0 4 0 4-1 4 1 4-1 4 1 4-1 4 1 3 1 4 0 4-3 4 0 4 2 4 0 4-1 4 0 4 2 4-1 4-2 4 1 4 1 4 1 4-1 4-1 4 0 4 1 4-1 4 1 4-1 3 0" stroke="#ff2d2d"/>
<path d="M204 790l3 1 4 0 4 0 4-2 4 0 4 0 4 2 4 0 4-1 4 0 4-1 4-1 4 2 4-1 4 1 4 0 4-1 4 1 4 0 4 0 4 1 3 0 4 0 4 0 4 1 4-2 4 0 4-1 4 0 4 1 4 1 4 2 4-3 4 0 4 0 4 1 4-1 4 1 4 0 4-1 4 0 4-1 3 0 4 1 4 1 4-3 4 2 4 0 4 0 4 0 4-2 4 1 4 1 4-1 4 1 4 0 4-1 4 2 4-2 4 1 4 2 4 0 4-1 3 0 4 0 4 0 4 0 4 0 4 0 4-1 4-2 4 2 4 1 4-2 4 2 4 0 4 0 4-2 4 2 4-1 4-1 4-2 4 3 4-2 3 3 4 0 4 1 4 0 4 0 4 0 4-1 4-1 4 1 4-2 4 0 4 1 4 0 4 0 4 0 4 1 4-1 4-2 4 3 4 0 4-1 3-1 4 2 4 1 4-3 4 2 4 1 4-2 4 0 4 1 4-2 4 2 4-1 4-1 4 1 4 0 4 0 4-1 4-1 4 2 4-1 4 0 3 1 4 1 4-2 4 1 4 0 4 0 4-1 4 1 4 0 4-1 4 3 4-1 4-2 4 1 4 1 4-1 4 1 4 0 4-1 4 0 4-1 3 2 4 0 4 0 4-1 4 1 4-1 4 0 4-1 4 1 4 0 4 1 4-1 4 1 4-1 4 0 4-1 4 2 4-1 4 1 4 0 4 0 3-1 4 0 4 2 4-1 4-1 4 0 4-1 4 0 4 0 4 0 4 0 4 0 4 0 4 1 4 0 4 1 4-1 4-1 4 0 4 2 4-1 3-1" stroke="#00ad6a"/>
<path d="M204 787l3 1 4-1 4 0 4 0 4 0 4-1 4 1 4 0 4 0 4 1 4 0 4-1 4 0 4 0 4 1 4-1 4-1 4 1 4 0 4 1 4-1 3 0 4 0 4 1 4 0 4 1 4 0 4-1 4-2 4 2 4-1 4-1 4 0 4 0 4 2 4 0 4-1 4-2 4 3 4 0 4 0 4 0 3-1 4-1 4 2 4 0 4 0 4 0 4-1 4 2 4-1 4-2 4 1 4 0 4-1 4 0 4 1 4 2 4-3 4 0 4 0 4 1 4 0 3 0 4 2 4-2 4 0 4 1 4 0 4-1 4 0 4 1 4-1 4 1 4 0 4 0 4 1 4 0 4 0 4-2 4 0 4 1 4 1 4-2 3-1 4 2 4 0 4 1 4-2 4-1 4 2 4 0 4-2 4 1 4-1 4 0 4 2 4-2 4 3 4 2 4-2 4-1 4 0 4 1 4-1 3 0 4-1 4 0 4 0 4 1 4 1 4 0 4-2 4 0 4-1 4 0 4 0 4 0 4 1 4 1 4 0 4-1 4-1 4 1 4 1 4 2 3-2 4-2 4 2 4 1 4-1 4-2 4 2 4-1 4-2 4 0 4 2 4-1 4 0 4 0 4 0 4 2 4 0 4-1 4-1 4 1 4 0 3 2 4-2 4 2 4 0 4 0 4-2 4-1 4 1 4-2 4 0 4 3 4 0 4-1 4-1 4 2 4-1 4 0 4-1 4 1 4 0 4-1 3 2 4 0 4 1 4-1 4-1 4 2 4-2 4 1 4-2 4 1 4 0 4 2 4-1 4-1 4-1 4-1 4 1 4 0 4 0 4 1 4 1 3 0" stroke="#0068e0"/>
<path d="M204 790l3-2 4-1 4 1 4 0 4 0 4-1 4 0 4 1 4-1 4 1 4 0 4 1 4 1 4-2 4 1 4 2 4-1 4 0 4 0 4-1 4 0 3 0 4-1 4 1 4 0 4 0 4 0 4 0 4 0 4 0 4 0 4 1 4 0 4-1 4 0 4 0 4 1 4-1 4 0 4 1 4 1 4-1 3-3 4 1 4 0 4 1 4 1 4-2 4 1 4 0 4 0 4 0 4 2 4-3 4 1 4 0 4-1 4 0 4 0 4 1 4-2 4 2 4 0 3 0 4-1 4 2 4 0 4-1 4-1 4-1 4 2 4 0 4 0 4 0 4 0 4-1 4 0 4-1 4 2 4 0 4 0 4-2 4 2 4-1 3 1 4-1 4 0 4 2 4-2 4 1 4 1 4-1 4 2 4-2 4 0 4-1 4 2 4-2 4 1 4-1 4 0 4 3 4-1 4-2 4 0 3 1 4 1 4 0 4 0 4 1 4-2 4 1 4-1 4 1 4 0 4 1 4-1 4-1 4 0 4 1 4 0 4-1 4 1 4-3 4 2 4 0 3-1 4 1 4-1 4 1 4-1 4 0 4 1 4 1 4 0 4 0 4-2 4 0 4 0 4 2 4 0 4-1 4-1 4 1 4 1 4 0 4-1 3 0 4 2 4-1 4 1 4-1 4-3 4 1 4 1 4 0 4 2 4-1 4 2 4-3 4 2 4-2 4-1 4 4 4-2 4-2 4 1 4-1 3-1 4 1 4 1 4-1 4 1 4 1 4 0 4 0 4 0 4-1 4 1 4 0 4-2 4 0 4 0 4 1 4 1 4-2 4 0 4 1 4-1 3 1" stroke="#ff2d2d"/>
<path d="M204 791l3 0 4-1 4 0 4 0 4 0 4 0 4 0 4-1 4 0 4 0 4 2 4-1 4 0 4 0 4 1 4-3 4 3 4 0 4-1 4 0 4-1 3 4 4-1 4-1 4-1 4 0 4 0 4-1 4 0 4 0 4 1 4 1 4 1 4-1 4-1 4 0 4-1 4 0 4 1 4-2 4 3 4 1 3-2 4 0 4 1 4 0 4-1 4 0 4-1 4 2 4 0 4 0 4 0 4-2 4-1 4 1 4 1 4-1 4 0 4 1 4-1 4 3 4-2 3 0 4 0 4 0 4 1 4-2 4 0 4 0 4 1 4 1 4 0 4-1 4 1 4 0 4 0 4-1 4 0 4 0 4-1 4 1 4 0 4-1 3 2 4 0 4-1 4 0 4 1 4 0 4-1 4 0 4-1 4 0 4 0 4 0 4 2 4-1 4 1 4 0 4 0 4 0 4 0 4-1 4 1 3-1 4-1 4 2 4 0 4-1 4 2 4 0 4-1 4-2 4-1 4 2 4 0 4-1 4 1 4-1 4 0 4 2 4-1 4 0 4 3 4-3 3 0 4 0 4-1 4 2 4-2 4 0 4 3 4 0 4 1 4-3 4 1 4 0 4-1 4 0 4 1 4-2 4 0 4 0 4 0 4 0 4 1 3 2 4-1 4-1 4 0 4 1 4 0 4 0 4 0 4-2 4 0 4 1 4-1 4 1 4 1 4-1 4 1 4 1 4-1 4 0 4 1 4-1 3-1 4 0 4 0 4-1 4 1 4-1 4 0 4 1 4 1 4-1 4 0 4 0 4 0 4 0 4 0 4 0 4 1 4-2 4 0 4 1 4 0 3 1" stroke="#00ad6a"/>
<path d="M204 790l3 0 4-2 4-1 4 1 4 1 4 0 4-1 4 1 4 0 4 0 4 2 4-2 4 1 4-1 4 1 4 2 4-3 4 1 4 0 4-1 4 0 3-1 4 0 4 0 4 0 4 2 4 0 4 1 4-1 4 0 4 1 4-3 4 2 4-2 4 2 4-2 4 2 4-2 4 1 4 0 4-1 4 1 3-2 4 1 4 0 4 1 4 0 4 1 4 0 4 1 4-1 4 0 4-2 4 1 4 1 4-1 4 1 4-1 4-1 4 0 4-1 4 2 4 0 3 0 4 1 4-1 4 1 4-2 4 0 4 0 4-1 4 0 4 2 4-1 4 0 4 0 4 1 4 0 4 1 4-1 4-1 4 1 4 2 4-2 3 0 4-1 4 1 4-1 4 1 4 0 4 0 4-1 4 0 4 1 4 1 4 0 4-2 4 2 4-1 4 2 4-3 4 0 4 1 4 0 4 0 3 2 4-2 4 1 4-2 4 1 4-1 4 1 4-1 4 1 4-1 4-2 4 3 4 0 4-1 4 2 4 1 4-1 4-1 4 0 4-2 4 1 3 1 4 0 4 1 4 0 4-1 4 2 4-1 4-1 4 1 4-2 4 2 4 0 4 1 4 0 4 0 4-1 4 0 4-1 4 0 4 1 4-1 3 0 4-1 4 1 4 0 4 0 4 0 4 0 4 1 4 0 4-1 4 1 4-1 4 1 4 0 4 1 4 0 4-1 4 1 4 0 4-1 4 1 3-2 4 1 4-1 4-1 4 1 4 2 4-2 4 0 4 0 4 1 4-1 4 0 4 1 4 0 4 0 4-1 4 1 4-2 4 2 4 0 4-1 3-1" stroke="#0068e0"/>
<path d="M204 787l3 2 4 0 4 0 4 0 4-1 4 1 4 0 4-2 4 1 4-1 4 1 4 0 4 0 4 1 4 0 4-1 4-1 4 1 4 0 4 1 4-2 3 0 4 1 4 0 4 0 4 1 4-2 4 0 4 1 4-1 4 0 4 1 4 1 4-1 4 1 4-1 4 0 4 1 4 1 4-1 4-2 4 0 3 0 4 1 4 1 4-1 4-1 4-1 4 3 4 0 4 1 4-2 4 1 4-2 4 2 4-1 4 1 4-1 4 1 4 0 4-1 4-1 4 1 3 1 4 0 4-2 4 2 4 1 4-2 4 1 4 1 4-2 4 0 4 1 4 0 4-1 4 0 4 0 4 0 4 0 4 1 4 0 4 1 4-2 3 0 4 0 4 1 4-2 4 1 4-1 4 0 4 3 4-1 4 0 4-2 4 1 4 0 4 2 4-3 4 1 4-1 4 1 4 1 4-1 4 1 3-1 4 1 4-1 4-1 4-1 4 2 4 0 4 1 4 1 4-1 4-2 4-2 4 1 4 0 4 2 4 1 4 0 4-1 4 0 4 0 4 0 3 1 4 1 4-3 4 2 4 1 4-2 4 0 4 1 4-1 4 0 4 1 4 0 4-1 4-1 4 0 4 2 4 0 4-2 4 2 4 0 4 1 3-1 4-1 4 1 4 0 4 0 4-1 4 0 4-1 4 0 4 0 4 1 4 2 4-2 4 0 4 1 4-1 4 0 4-1 4 0 4 0 4 2 3-1 4-1 4 0 4 2 4 0 4-1 4 1 4-2 4 0 4 1 4 2 4-1 4-1 4-2 4 3 4 1 4-3 4 0 4 1 4 1 4-1 3 0" stroke="#c67aea"/>
<path d="M204 788l3 1 4-1 4 1 4 0 4 0 4 0 4 1 4 1 4-2 4 1 4-2 4 1 4-1 4 0 4 2 4 1 4-1 4-1 4 0 4 1 4 0 3-1 4-1 4 1 4 1 4 0 4 0 4-2 4 2 4-2 4 0 4 0 4 1 4 0 4 0 4 0 4 0 4 1 4-1 4 2 4-2 4 1 3 0 4-1 4 1 4-1 4 0 4 2 4-3 4 1 4 0 4 0 4 0 4-1 4 1 4 0 4 0 4 3 4-2 4 0 4 0 4 0 4 1 3 0 4-2 4 0 4 0 4 1 4 0 4 2 4 0 4-4 4 1 4-1 4 1 4-1 4 1 4 2 4 0 4-1 4 0 4-1 4 2 4 0 3-2 4 1 4 0 4-1 4 1 4-1 4 0 4 1 4 0 4-1 4 0 4 0 4 0 4 1 4 0 4-2 4 2 4-2 4 2 4 1 4-2 3-2 4 0 4 1 4 2 4-2 4 3 4-2 4 1 4-2 4 1 4-1 4 2 4-1 4 1 4 0 4 0 4-1 4-1 4 1 4 1 4 1 3-1 4-1 4 1 4-1 4-1 4 2 4 0 4 1 4-2 4 1 4 0 4 0 4-2 4 2 4 1 4-1 4 1 4-2 4 0 4-1 4 3 3-2 4 2 4 2 4-1 4-1 4-2 4-1 4 0 4 2 4 0 4-1 4-2 4 2 4 0 4-1 4-1 4 1 4 1 4 0 4-1 4 0 3 2 4 0 4 0 4-1 4 1 4-1 4-1 4 1 4 2 4 1 4-2 4 1 4-2 4 1 4-1 4-1 4-1 4 3 4 0 4-1 4 0 3 0" stroke="#ff2d2d"/>
<path d="M204 791l3-1 4 0 4 0 4 0 4 0 4 0 4 0 4 1 4-1 4 1 4 0 4-1 4 1 4-1 4 0 4-2 4 2 4-1 4 1 4 0 4 0 3 0 4 0 4 0 4 0 4 1 4-4 4 1 4 2 4 0 4 1 4-1 4 1 4-1 4-1 4 0 4 0 4 1 4 0 4 0 4 1 4-1 3 0 4 1 4-1 4-1 4-1 4 2 4 0 4-1 4 2 4-1 4 0 4 0 4 0 4 0 4 0 4 0 4 0 4 0 4 0 4 2 4-1 3 0 4-2 4 4 4-2 4-1 4 0 4 1 4-1 4 2 4-1 4 0 4-2 4 1 4 0 4-1 4 1 4-1 4 0 4 1 4-1 4 1 3-1 4 1 4 0 4 0 4-1 4 0 4 0 4-1 4 0 4 2 4 2 4-1 4 0 4-2 4 1 4 0 4 1 4 0 4-1 4 0 4-1 3 1 4 0 4 0 4 2 4-2 4 0 4 1 4 1 4-1 4-1 4 1 4 0 4 0 4-1 4-1 4 3 4 1 4-2 4 1 4-1 4 0 3 1 4-1 4 0 4 0 4-2 4 1 4-1 4 0 4 1 4 1 4-2 4 1 4-2 4 1 4 1 4 0 4-2 4 0 4 2 4-1 4 0 3 3 4-1 4 0 4-1 4 0 4-1 4 0 4 2 4-2 4 1 4-1 4 2 4-1 4 2 4-1 4-1 4 1 4 0 4-1 4 0 4 1 3 1 4-2 4 0 4 2 4-2 4 1 4 0 4 0 4-2 4 1 4 1 4-1 4 0 4 0 4 0 4 2 4-3 4-1 4 1 4 3 4-2 3 0" stroke="#0068e0"/>
<path d="M204 791l3 1 4 0 4 0 4 0 4 0 4-2 4 0 4 1 4 1 4-3 4 1 4-2 4 3 4-1 4 0 4 0 4-1 4 0 4 1 4 0 4 1 3-1 4-1 4 1 4 1 4-2 4 1 4 2 4-2 4 0 4 0 4 0 4 0 4 1 4 0 4-1 4 0 4-1 4 0 4-1 4 2 4 0 3 1 4-1 4 0 4 0 4 0 4 0 4 0 4-1 4 0 4-2 4 4 4 0 4-1 4-1 4 0 4 0 4 0 4 0 4 2 4-2 4 1 3 0 4 0 4-1 4 0 4 0 4 2 4 0 4 0 4-1 4-1 4 1 4 2 4-1 4-2 4 0 4 0 4 1 4-1 4 2 4 0 4 0 3 0 4-1 4 0 4 0 4-1 4 1 4 0 4 1 4-2 4-1 4 1 4 0 4 0 4 0 4 1 4-1 4 2 4-1 4 1 4 0 4 0 3 0 4-2 4 1 4-2 4 1 4 0 4 0 4 0 4 1 4 1 4 0 4-1 4-1 4-1 4 0 4 1 4 1 4-1 4 1 4 0 4 1 3 0 4 0 4-1 4 0 4-1 4 0 4 0 4 0 4 1 4-1 4 0 4 0 4 1 4-1 4 2 4-1 4 0 4-1 4 2 4 0 4-2 3 1 4 1 4-1 4-1 4 0 4 0 4 2 4-2 4 0 4 0 4 0 4 1 4 1 4-1 4-1 4-1 4 1 4 1 4 2 4-2 4-1 3 1 4-1 4 0 4 0 4 1 4 0 4 0 4 1 4 0 4-2 4 1 4 1 4 0 4 0 4-1 4 0 4-1 4 1 4 0 4 1 4-2 3 1" stroke="#c67aea"/>
<path d="M204 782l3 0 4 0 4 0 4 1 4 0 4-1 4 1 4 0 4 0 4 0 4-1 4 0 4 0 4-1 4 2 4 0 4 0 4-3 4 2 4 0 4-1 3 0 4 1 4 1 4 0 4 0 4 0 4-1 4 0 4 0 4 0 4 0 4 0 4 0 4 0 4 0 4 0 4 1 4-1 4 0 4-1 4 1 3-1 4 1 4 0 4-1 4 1 4 0 4 1 4 0 4 0 4 0 4-2 4 2 4-1 4 0 4 0 4 1 4-2 4 2 4-1 4 0 4 0 3 0 4 0 4 0 4 0 4-1 4 0 4 0 4 1 4 0 4 0 4 0 4 0 4 0 4 0 4-1 4 0 4 0 4 1 4-1 4 2 4-1 3-1 4 0 4 1 4 0 4 0 4 1 4-1 4 1 4 1 4-1 4 0 4-1 4 0 4 0 4 1 4-1 4 0 4 0 4-1 4 1 4 0 3 0 4 0 4 0 4 0 4 1 4 0 4-1 4 0 4 0 4 1 4-1 4-1 4 0 4 1 4 0 4 0 4 0 4 1 4 0 4-2 4 1 3-1 4 1 4-1 4 0 4 1 4 0 4 0 4-1 4 1 4 0 4 0 4 0 4 0 4 0 4 0 4 1 4 0 4-1 4-1 4 2 4 0 3 0 4-2 4 0 4 0 4 0 4 0 4 1 4 0 4 1 4-1 4 0 4 1 4 1 4-1 4-1 4-1 4 1 4-1 4 1 4 0 4 0 3 0 4 0 4 1 4-1 4 0 4 0 4 1 4-1 4 0 4-1 4 1 4 1 4-1 4 0 4 1 4-1 4 1 4 0 4 0 4 0 4-2 3 0" stroke="#00ad6a"/>
<path d="M204 784l3 0 4 0 4 0 4-1 4 0 4 0 4 1 4 0 4 0 4 0 4 0 4 0 4 0 4 0 4 0 4-2 4 0 4 1 4 0 4 0 4 1 3 0 4-1 4 1 4 0 4-1 4 0 4 0 4 0 4 2 4-1 4-1 4 0 4 0 4 0 4 0 4-1 4 0 4 2 4-1 4 1 4 0 3-1 4 0 4 0 4 0 4-1 4 1 4 1 4 1 4-1 4-1 4 1 4-1 4 1 4-1 4 1 4 0 4-2 4 1 4 2 4-1 4 0 3 1 4-1 4 0 4-1 4 0 4 0 4 0 4 1 4 0 4 1 4 0 4-1 4 0 4-1 4 0 4 0 4 1 4 0 4 0 4-1 4 1 3-1 4 0 4-1 4 1 4 1 4 0 4 0 4-1 4 1 4 0 4-1 4 1 4-1 4 0 4 0 4 0 4 0 4 1 4-1 4 1 4 0 3 1 4-2 4 1 4 0 4-2 4 1 4 1 4 0 4-1 4 0 4 0 4 1 4-1 4 0 4 0 4 1 4-1 4 1 4 0 4 0 4 0 3-1 4 0 4 1 4 0 4-1 4 0 4 1 4 1 4-1 4 0 4-2 4 3 4-1 4-2 4 1 4 0 4 0 4 0 4 0 4 0 4 0 3 1 4 0 4 0 4 0 4-1 4 1 4 0 4 0 4 0 4 0 4 1 4-1 4 1 4-1 4-1 4 1 4 0 4 0 4 0 4 0 4 0 3 0 4-1 4 0 4 0 4 0 4 1 4-1 4 1 4 1 4-1 4-1 4 0 4 0 4 0 4 0 4 1 4 0 4 0 4 0 4-2 4 1 3 1" stroke="#dd9900"/>
<path d="M204 783l3 0 4-1 4 2 4-1 4 1 4-1 4 1 4 0 4-1 4 0 4 0 4 0 4 0 4 0 4 0 4 0 4 0 4 1 4-1 4 0 4 1 3-1 4-1 4 2 4 0 4 0 4 1 4-1 4 0 4 0 4-1 4 0 4-1 4 1 4 0 4-1 4 2 4-1 4-1 4 0 4 1 4 0 3 0 4 0 4 0 4 1 4-1 4-1 4 1 4 0 4 1 4-2 4 0 4 0 4 0 4 1 4-1 4 1 4 1 4-1 4 0 4 0 4 0 3 1 4 0 4-1 4 0 4 0 4 0 4 0 4 0 4 0 4 1 4-1 4 0 4 0 4 1 4-1 4 0 4 1 4 0 4-1 4-1 4 1 3 1 4 0 4-1 4 1 4-1 4 1 4 0 4-1 4 0 4 0 4 0 4 1 4-2 4 1 4 0 4 0 4 0 4 1 4 0 4-1 4 0 3 1 4-1 4 1 4-1 4 0 4-1 4 0 4 2 4 0 4-1 4 1 4-1 4 1 4-1 4 0 4 1 4 0 4-1 4 1 4-1 4 0 3 1 4-2 4 1 4 0 4 0 4 1 4 0 4 0 4 0 4-1 4 0 4 1 4-1 4 1 4 0 4 0 4 0 4 0 4 1 4-2 4 0 3 0 4 1 4 1 4-1 4-1 4-1 4 1 4-1 4 2 4-1 4 1 4-2 4 2 4 0 4 0 4 0 4-1 4 1 4 1 4-1 4-1 3 1 4 0 4 1 4-1 4 0 4 0 4-1 4 2 4-2 4 1 4-1 4 0 4 0 4 0 4 0 4 1 4-1 4 1 4 1 4 0 4-1 3-1" stroke="#c67aea"/>
<path d="M204 783l3 0 4 1 4-1 4 1 4 0 4-1 4 0 4 1 4-1 4 0 4 1 4-1 4-1 4 0 4 1 4 0 4 0 4-1 4 1 4 0 4 0 3 1 4 0 4 0 4-1 4 1 4 0 4-1 4 0 4 0 4 0 4-2 4 2 4 0 4-1 4 0 4 1 4 0 4 1 4-1 4 0 4 1 3 0 4 0 4 0 4 0 4-1 4 0 4 1 4-1 4-1 4 1 4 1 4-1 4 1 4 0 4 1 4-1 4-1 4 0 4 1 4-1 4 1 3 0 4 0 4 0 4-1 4 0 4 0 4 1 4 0 4 0 4-1 4 0 4-1 4 1 4 0 4 0 4 1 4 0 4-2 4 1 4 1 4 0 3 0 4 0 4 0 4 0 4 0 4 0 4 0 4-1 4 1 4 0 4 0 4-1 4 0 4-1 4 1 4 1 4 0 4 0 4-1 4-1 4 1 3 0 4 0 4 0 4 0 4 0 4 0 4 0 4 0 4 0 4 0 4 0 4 0 4 1 4 0 4-1 4 1 4 0 4 1 4-2 4 1 4 0 3-1 4 0 4 0 4 0 4 1 4 0 4 0 4-1 4 1 4 0 4 0 4 0 4-1 4 0 4 1 4 0 4 0 4 0 4 0 4-1 4 1 3-1 4-1 4 2 4-1 4-1 4 2 4 0 4 0 4-1 4 1 4-1 4 0 4 0 4 1 4 0 4-1 4 1 4-2 4 0 4 3 4 0 3-2 4 1 4-1 4 0 4 1 4 0 4-1 4 0 4 0 4 0 4 0 4 1 4-1 4 0 4 1 4 0 4 0 4-1 4 0 4 0 4 1 3-1" stroke="#dd9900"/>
<path d="M204 783l3-1 4 0 4 2 4-1 4 0 4 0 4 0 4-1 4 0 4 1 4 0 4 0 4 1 4-1 4 0 4 0 4 0 4 0 4-1 4 0 4 0 3 1 4 0 4 0 4 1 4-1 4-1 4 0 4 1 4 0 4 1 4-2 4-1 4 2 4 0 4-1 4 1 4-2 4 1 4 2 4 0 4-2 3 1 4 0 4 0 4-1 4 0 4 0 4 0 4-1 4 2 4-1 4-1 4 1 4 0 4 1 4 0 4-1 4 0 4 1 4-2 4 1 4 1 3-1 4 1 4 0 4 0 4 0 4-1 4 1 4-1 4 0 4 1 4-1 4 0 4 0 4 1 4 0 4-2 4 0 4 1 4 1 4 1 4-1 3 0 4-1 4 0 4 1 4 1 4-1 4 0 4 0 4 0 4 1 4-2 4 0 4 0 4 0 4 1 4 0 4 1 4-1 4 0 4 0 4 0 3 1 4-1 4 1 4-1 4 0 4 0 4 1 4 0 4 0 4 0 4-1 4 1 4-2 4 0 4 1 4 0 4 1 4-1 4-1 4 1 4 1 3 0 4-1 4 1 4-1 4-1 4 0 4 1 4 0 4 1 4 0 4-1 4 0 4 0 4-1 4 1 4-1 4 2 4 0 4-2 4 1 4 1 3 0 4 1 4-2 4 0 4 0 4 0 4 1 4-1 4 0 4-1 4-1 4 0 4 2 4-2 4 1 4 0 4 1 4 0 4-1 4 1 4-1 3 1 4 0 4-1 4 0 4 1 4 0 4 0 4 0 4 0 4 0 4 0 4-1 4 0 4 0 4 1 4-1 4 0 4 1 4-1 4 0 4 0 3 1" stroke="#c67aea"/>
<path d="M204 783l3 0 4 0 4 0 4 0 4 1 4 1 4-2 4 1 4 0 4-1 4 0 4 0 4 0 4 0 4-1 4 1 4 1 4-1 4 0 4 1 4 1 3-1 4-1 4 0 4 1 4 0 4-1 4 1 4 0 4 0 4-2 4 0 4 2 4 0 4 0 4-2 4 0 4 1 4 2 4-1 4 0 4 0 3-1 4 1 4 0 4 0 4 0 4-1 4 0 4 0 4 0 4-1 4 1 4-1 4 1 4 1 4 1 4 0 4-1 4-1 4 0 4 1 4 0 3-2 4 1 4 1 4-1 4 1 4 0 4-1 4 0 4 1 4 0 4-1 4 0 4 1 4-1 4 1 4-1 4 0 4 0 4 0 4-2 4 2 3 1 4-1 4 1 4 0 4 0 4 1 4-1 4-1 4 0 4 0 4 0 4 0 4 1 4 0 4-1 4-1 4 1 4 1 4 0 4-1 4 1 3-1 4 0 4 0 4 0 4 1 4 0 4 0 4 0 4 1 4-1 4 0 4 0 4-1 4 1 4 0 4 0 4-2 4 1 4-1 4 0 4 1 3 1 4 0 4-1 4 1 4 1 4-2 4 0 4 0 4-1 4 1 4 0 4 0 4 1 4-1 4 0 4 1 4 0 4 0 4-1 4 1 4 0 3 0 4 0 4-1 4 0 4 0 4 0 4 0 4 0 4-1 4 2 4 0 4 0 4-1 4 0 4 0 4-1 4 1 4 1 4-1 4-1 4 1 3-1 4 1 4 0 4 0 4 1 4-1 4 0 4 0 4 0 4 1 4 0 4 1 4 0 4-3 4 1 4 1 4-1 4 0 4 1 4 0 4-1 3-1" stroke="#00ad6a"/>
<path d="M204 783l3 1 4-1 4 0 4 0 4 0 4-1 4 1 4 0 4-1 4 1 4 1 4 0 4-1 4 1 4 0 4 0 4-1 4-1 4 1 4-1 4 0 3 1 4 0 4 1 4-1 4 0 4 0 4 0 4-1 4 1 4-1 4 2 4-1 4 0 4 0 4 0 4 0 4 0 4 0 4 1 4-1 4 0 3 0 4 0 4 0 4 0 4 0 4 0 4 0 4 0 4-1 4 1 4 0 4 0 4 0 4-1 4 1 4 0 4-1 4 0 4 0 4 0 4 1 3-2 4 2 4 0 4-1 4 0 4 2 4-1 4 0 4 1 4-1 4 0 4 1 4-1 4 0 4-1 4 1 4 0 4 1 4-2 4 2 4-3 3 1 4 1 4 1 4-1 4 0 4 0 4-1 4 1 4 0 4 1 4-1 4 1 4-1 4 1 4 0 4-1 4 0 4 0 4-1 4 1 4 0 3-1 4 0 4 1 4 0 4 0 4 0 4-1 4 0 4 2 4-1 4 0 4-1 4 1 4-1 4 1 4 0 4 0 4 0 4 0 4 1 4 0 3 0 4 0 4 0 4-1 4 1 4-1 4 0 4 0 4-1 4 0 4 0 4 1 4 0 4 0 4 0 4 0 4 0 4 0 4-1 4 1 4 0 3 1 4-1 4 0 4 0 4 0 4 0 4 0 4 0 4 1 4-1 4 0 4 1 4-1 4 0 4 1 4-1 4-1 4 1 4-1 4 0 4 1 3 0 4 1 4-1 4 0 4 0 4 1 4 0 4 0 4-1 4 0 4 0 4 1 4-1 4 0 4 1 4 1 4-2 4 0 4-1 4 0 4 1 3-1" stroke="#dd9900"/>
<path d="M204 785l3 1 4 0 4 0 4 1 4-1 4 1 4 0 4 0 4 0 4 0 4 1 4-1 4 0 4 0 4 0 4-1 4 0 4 0 4 0 4 1 4-1 3 1 4-1 4 0 4 0 4 1 4-1 4 1 4 0 4 0 4 0 4-1 4 0 4 0 4 0 4-1 4 0 4 1 4 0 4 0 4 0 4 0 3 1 4-1 4 0 4 1 4 0 4 1 4-1 4 1 4-1 4-1 4-1 4 1 4 0 4 1 4 0 4 0 4 0 4-1 4 0 4-1 4 0 3 1 4 0 4 0 4 1 4 0 4-1 4-1 4 0 4 1 4 1 4 0 4-1 4 1 4-1 4 1 4 0 4-1 4 0 4 0 4 0 4 0 3 0 4 0 4 0 4 0 4 0 4 0 4 1 4 2 4-2 4-2 4 1 4 1 4 0 4 0 4 0 4-1 4 0 4 0 4-1 4 1 4 1 3 0 4 0 4 0 4-1 4 0 4 0 4 0 4 1 4-1 4 0 4 0 4 1 4 0 4 0 4 0 4 0 4 0 4 0 4 0 4-1 4 1 3 0 4-1 4 1 4 0 4 0 4 0 4-1 4 1 4 1 4-1 4-1 4 0 4 0 4 1 4 0 4 0 4 0 4 0 4-1 4 1 4 0 3 1 4-1 4 0 4 0 4-1 4 0 4 1 4 0 4 0 4-1 4 1 4 0 4 0 4 0 4 0 4-1 4 0 4 1 4 0 4-1 4 1 3-1 4 1 4-1 4 0 4 0 4 1 4-1 4 1 4-1 4 0 4 1 4-1 4 0 4 1 4-1 4 0 4 0 4 0 4 1 4 0 4 0 3 0" stroke="#00c8d8"/>
<path d="M204 785l3 1 4 0 4 0 4-1 4 0 4 0 4 0 4 0 4 0 4 0 4 1 4 0 4 0 4-1 4 1 4-1 4 0 4-1 4 1 4 0 4 1 3 0 4-1 4 0 4 1 4-1 4 1 4-1 4 1 4-1 4 1 4 0 4-1 4 0 4 1 4-1 4 0 4 0 4 0 4 1 4-2 4 0 3 0 4 1 4 1 4 0 4-1 4 0 4 0 4 1 4 0 4-1 4 0 4 1 4 0 4-1 4 1 4 0 4-1 4 1 4-1 4 0 4 0 3 1 4 0 4 0 4-1 4 0 4 0 4 0 4 0 4 0 4 1 4-1 4 1 4-1 4 1 4 0 4 0 4 0 4-1 4 1 4-1 4 1 3 0 4 0 4-1 4 1 4 0 4-1 4 1 4-1 4 0 4 1 4 0 4 0 4 0 4-1 4 0 4 0 4 0 4 1 4-1 4 0 4 0 3 1 4 0 4-1 4 0 4 1 4 1 4-1 4-1 4 0 4 1 4 0 4 0 4 0 4 0 4 0 4 0 4-1 4 0 4 0 4 0 4 1 3 0 4 0 4 0 4-1 4 0 4 1 4 1 4-1 4 0 4-1 4 1 4-2 4 0 4 1 4 0 4 1 4 0 4 0 4 0 4 0 4-1 3 0 4 1 4-1 4 1 4 0 4 0 4 0 4 0 4-1 4 0 4 0 4 0 4 0 4 0 4 0 4 1 4-1 4 1 4-1 4 0 4 1 3-1 4 0 4 1 4 1 4-1 4-1 4 1 4 0 4-1 4 0 4 0 4 1 4 0 4-1 4 1 4-1 4 0 4 0 4 0 4 1 4 0 3-1" stroke="#00c8d8"/>
<path d="M204 787l3 0 4-1 4 1 4 0 4 0 4-1 4-1 4 2 4 0 4 0 4-1 4 0 4 0 4 1 4-1 4 1 4-1 4 1 4-2 4 1 4 1 3-1 4 1 4 0 4-1 4 0 4 0 4 1 4 0 4 0 4 0 4 0 4-1 4 0 4 0 4 0 4 1 4-1 4-1 4 1 4 1 4-1 3 1 4-1 4 1 4-1 4 1 4-1 4 0 4 1 4-1 4 1 4-1 4 0 4 0 4-1 4 1 4 0 4 0 4 0 4 0 4 1 4 0 3 0 4-1 4 0 4 0 4 0 4 0 4 1 4 0 4 0 4 0 4-1 4 0 4 1 4 0 4 0 4-2 4 1 4 0 4 0 4 0 4 0 3 1 4-1 4 0 4 1 4-1 4 0 4 0 4 0 4 1 4-2 4 0 4 1 4 1 4-1 4 1 4 0 4-1 4 0 4 1 4 0 4-1 3 0 4 0 4 0 4 0 4 1 4 0 4-1 4 0 4 0 4 0 4 1 4 0 4-1 4 1 4-1 4 0 4 1 4-1 4 0 4 0 4 0 3 1 4 0 4 0 4 0 4 0 4 0 4-1 4 1 4 0 4 1 4-2 4 1 4 0 4 0 4 0 4 0 4-1 4 0 4 1 4-1 4 0 3 0 4 0 4 1 4-1 4 0 4 0 4 0 4 0 4 1 4 0 4-1 4 0 4 0 4 1 4 0 4-1 4 0 4 0 4 0 4 1 4 0 3-1 4 0 4 0 4 0 4 1 4-1 4 0 4 0 4 0 4 0 4 0 4 0 4 0 4 0 4 0 4 0 4-1 4 1 4 0 4 1 4-1 3 0" stroke="#00c8d8"/>
<path d="M204 786l3 1 4-1 4 0 4 1 4-1 4-1 4 0 4 1 4 0 4 0 4 0 4-1 4 1 4 0 4 1 4-1 4 0 4 1 4-1 4 0 4 0 3 0 4 0 4 0 4 0 4-1 4 1 4 0 4 1 4 0 4 0 4-1 4 1 4-1 4 0 4 0 4 0 4 1 4-1 4 0 4 0 4 0 3-1 4 1 4 0 4 0 4 0 4-1 4 1 4 0 4-1 4 1 4 0 4 0 4 0 4 0 4 0 4 1 4-1 4 2 4-1 4-1 4 0 3 0 4 0 4 1 4-2 4 1 4 0 4 0 4 0 4 0 4 0 4 1 4-1 4 0 4 0 4 1 4-1 4 1 4-1 4 0 4 0 4 1 3-1 4-1 4 1 4-1 4 1 4 0 4 0 4 0 4 0 4 0 4-1 4 0 4 0 4 1 4 0 4 0 4 0 4 0 4 0 4 1 4 0 3-1 4 0 4 0 4 0 4-1 4 0 4 1 4 1 4-1 4 0 4 0 4 1 4 1 4-1 4-1 4 0 4-1 4 1 4 0 4 0 4 0 3 0 4 0 4 0 4 0 4 0 4 0 4 0 4 0 4-1 4 1 4 0 4 0 4 0 4 1 4 0 4-1 4 1 4 0 4 0 4-1 4 1 3 0 4 0 4-1 4-1 4 1 4-1 4 2 4 0 4 0 4-1 4 0 4 0 4 0 4 0 4-1 4 0 4 0 4 0 4 1 4 1 4-1 3 0 4 0 4 0 4 1 4-1 4 1 4 0 4-1 4 0 4-1 4 0 4 1 4-1 4 0 4 2 4 0 4-1 4 0 4 0 4-1 4 1 3 1" stroke="#00c8d8"/>
<path d="M204 786l3 0 4 0 4 0 4 0 4 0 4-1 4 1 4 0 4 0 4 1 4-1 4 0 4-1 4 2 4-1 4 0 4-1 4 0 4 1 4-1 4 1 3 0 4-1 4 0 4 1 4 0 4 0 4 0 4 0 4 0 4 0 4 0 4-1 4 2 4-1 4 0 4 0 4 0 4 0 4 0 4 0 4 0 3-1 4 0 4 1 4 0 4 0 4 0 4 0 4 0 4 0 4-1 4 0 4 0 4 1 4 0 4-1 4 1 4-1 4 0 4 1 4 0 4 1 3-1 4 0 4 0 4 1 4 0 4-1 4-1 4 1 4 0 4 0 4 0 4-1 4 1 4 0 4 0 4 0 4 0 4 0 4 0 4-1 4 0 3 0 4 1 4 1 4-1 4 0 4 1 4-1 4 0 4 0 4 0 4 0 4 0 4 0 4 0 4 0 4 0 4 0 4 0 4 0 4-1 4 2 3-1 4 0 4-1 4 1 4-1 4 1 4 0 4 0 4 0 4 0 4-1 4 1 4 1 4-1 4 0 4-1 4 1 4 0 4 0 4 0 4 1 3-1 4 0 4 0 4 0 4 0 4 0 4 0 4 1 4 0 4-2 4 1 4 0 4-1 4 1 4 0 4 0 4 1 4-1 4 0 4 0 4 1 3-2 4 1 4 0 4 1 4-1 4 0 4 0 4 1 4 0 4 0 4 0 4-1 4 0 4-1 4 1 4 0 4 0 4 1 4-1 4 0 4 1 3-1 4-1 4 1 4 0 4 0 4 0 4 0 4 0 4 0 4 0 4 0 4 0 4-1 4 2 4-1 4 0 4 0 4 1 4-1 4 0 4 0 3 0" stroke="#00c8d8"/>
<path d="M204 785l3 0 4 0 4 1 4-1 4 0 4-1 4 1 4 0 4-1 4 2 4-1 4-1 4 2 4 0 4-1 4 0 4 0 4 0 4 1 4 0 4-1 3 0 4 1 4-1 4 1 4 0 4 0 4 0 4 0 4-2 4 0 4 0 4 1 4 0 4 0 4 0 4-1 4 1 4 0 4 1 4 0 4-1 3 0 4 0 4 1 4 0 4-1 4-1 4 1 4 0 4 1 4 0 4-1 4-1 4 0 4 1 4 1 4-1 4-1 4 0 4 1 4 0 4 0 3 1 4-1 4 0 4 0 4 1 4-1 4 0 4-1 4 0 4 1 4 0 4 1 4-1 4 0 4 2 4-2 4 1 4-2 4 2 4-1 4-1 3 1 4 0 4 0 4 0 4 0 4 0 4 1 4 0 4-1 4-1 4 2 4-1 4 0 4 0 4 0 4 0 4 1 4-1 4 0 4 0 4 0 3 0 4-1 4 1 4 0 4 0 4 0 4 1 4 0 4-1 4 1 4-1 4 1 4-1 4 0 4 0 4 1 4-2 4 1 4-1 4 1 4 0 3 1 4-1 4 0 4 1 4 0 4 0 4 0 4 0 4 0 4-1 4 0 4-1 4 1 4 0 4 0 4 0 4 1 4-1 4 0 4 1 4 0 3-1 4-1 4 1 4 0 4 0 4 1 4 0 4 0 4 0 4 0 4 0 4 0 4-1 4 1 4-1 4 0 4 0 4 0 4 0 4-1 4 1 3 1 4-1 4 1 4 0 4-2 4 0 4 1 4 0 4 0 4 1 4-1 4 0 4 1 4-1 4 0 4 0 4 0 4-1 4 1 4 0 4 0 3 0" stroke="#00c8d8"/>
<path d="M204 785l3 0 4 0 4 0 4 0 4 1 4 0 4 0 4 0 4-1 4 1 4 0 4 0 4 0 4 0 4 0 4 0 4-1 4 1 4 0 4-1 4-1 3 0 4 0 4 1 4 0 4-1 4 1 4 0 4 0 4-1 4 1 4 1 4 0 4-1 4 0 4-1 4 1 4 0 4 0 4 2 4-2 4 0 3 0 4-1 4 1 4 0 4 0 4 0 4 0 4 1 4-1 4 0 4 0 4 0 4 0 4 1 4-1 4 1 4 0 4-1 4 1 4-1 4 0 3 0 4 0 4 0 4 1 4-1 4 0 4 1 4 0 4-1 4 0 4 0 4 1 4 0 4 0 4-1 4 0 4 0 4 0 4 0 4 1 4 0 3 0 4 0 4-1 4 1 4 0 4 0 4-1 4 0 4 1 4-1 4 1 4 0 4 0 4 0 4 0 4 0 4 0 4 0 4-1 4 1 4-1 3 1 4 0 4-1 4 0 4 1 4-1 4 1 4-1 4 0 4 0 4 0 4 0 4 0 4 0 4 0 4 0 4 0 4 0 4 0 4 2 4-2 3 0 4 0 4 1 4 0 4 0 4-1 4 0 4 1 4-1 4 0 4 1 4 0 4-1 4 0 4 1 4 0 4 0 4-1 4 0 4 1 4-1 3 0 4 1 4 0 4-1 4 0 4 0 4 1 4-1 4 0 4 0 4 0 4 0 4 0 4 0 4 1 4 0 4 0 4 0 4 0 4-1 4 0 3 1 4-1 4 1 4-1 4 1 4-2 4 1 4 0 4-1 4 1 4 0 4 0 4 0 4 0 4-1 4 1 4 0 4 0 4-1 4 1 4 0 3 1" stroke="#00c8d8"/>
<path d="M204 785l3 0 4 0 4-1 4 0 4-1 4 1 4 1 4 0 4 0 4-1 4 1 4-1 4 0 4 0 4 1 4 0 4 0 4 0 4 0 4 0 4 0 3 1 4-1 4 0 4-1 4 1 4 0 4 0 4-1 4 0 4 0 4 0 4 1 4 0 4 0 4 0 4 0 4 0 4 0 4 0 4-1 4 0 3 1 4 1 4-2 4 1 4 0 4 0 4-1 4 1 4 1 4-2 4 0 4 1 4 0 4-1 4 0 4 1 4 0 4 0 4 0 4-1 4 0 3 0 4 0 4 0 4 1 4 0 4 0 4 0 4-1 4 1 4 0 4 0 4 0 4 0 4 0 4 1 4-1 4 0 4 0 4 1 4 0 4-1 3 0 4 0 4-1 4 0 4 0 4 0 4 1 4 0 4 0 4 0 4-1 4 0 4 0 4 0 4 1 4 0 4 1 4-1 4 0 4-1 4 1 3 0 4-1 4 1 4 0 4 0 4 0 4 0 4 0 4-1 4 1 4 0 4-1 4 2 4-1 4-1 4 0 4 0 4 1 4 0 4 0 4-1 3 1 4 0 4 0 4 0 4 0 4 0 4 0 4 0 4 0 4 1 4-1 4 0 4 0 4 1 4-1 4 0 4 0 4 0 4 0 4 1 4-1 3 0 4 0 4 0 4 0 4 0 4-1 4 1 4 0 4 0 4 0 4 0 4 0 4-1 4 1 4 0 4 0 4-1 4 1 4 0 4 0 4 0 3-1 4 1 4 0 4 1 4-1 4 0 4 0 4-1 4 0 4 0 4 1 4 1 4-1 4 0 4 0 4 1 4 0 4 0 4 0 4 0 4-1 3 0" stroke="#00c8d8"/>
<path d="M204 785l3 0 4 0 4-1 4 0 4 1 4 0 4 0 4 1 4-1 4 0 4 1 4-1 4 0 4 1 4-1 4 0 4 0 4-1 4 1 4 0 4 1 3 0 4 0 4 0 4-1 4 0 4 0 4 0 4 0 4-1 4 0 4 1 4 1 4 0 4-1 4-1 4 1 4 0 4 0 4 0 4 0 4 0 3-1 4 1 4-1 4 1 4 0 4-1 4 1 4 0 4 0 4 0 4 0 4 0 4 0 4 0 4 1 4-2 4 1 4 0 4 0 4 0 4 0 3 0 4 0 4 0 4 0 4 0 4 0 4 1 4-1 4 0 4 0 4 0 4 0 4 0 4 0 4 0 4 0 4 0 4 1 4 0 4-1 4 1 3-1 4-1 4 1 4 0 4 0 4 0 4-1 4 1 4 0 4 1 4 0 4-1 4 0 4 0 4 0 4 1 4-1 4 0 4-1 4 2 4 0 3-1 4-2 4 1 4 1 4 1 4-1 4 2 4-1 4 0 4 0 4-1 4 1 4-1 4 0 4-1 4 1 4 0 4 0 4-1 4 0 4 1 3 0 4 0 4 0 4 0 4-1 4 1 4 0 4-1 4 1 4 0 4-1 4 0 4 0 4 1 4 0 4 0 4 0 4 1 4 0 4-1 4 0 3 0 4 0 4 0 4 0 4 0 4 0 4 0 4 0 4 0 4-1 4 1 4 0 4-1 4 1 4 0 4 0 4 0 4 0 4 0 4 0 4 1 3 0 4-1 4 0 4 0 4 0 4-1 4 1 4 0 4 0 4 0 4 1 4-1 4 1 4 0 4-1 4 1 4 0 4 0 4-1 4 0 4 0 3-1" stroke="#00c8d8"/>
</g>
<rect x="203.5" y="111.5" width="751" height="751" fill="none" stroke="#000" stroke-width="3"/>
<path d="M328.7 862.5v-10.5M453.8 862.5v-10.5M579 862.5v-10.5M704.2 862.5v-10.5M829.3 862.5v-10.5M203.5 712.3h10.5M203.5 562.1h10.5M203.5 411.9h10.5M203.5 261.7h10.5" stroke="#000" stroke-width="3" fill="none"/>
<text class="tk" x="193.3" y="878.5" text-anchor="end" font-size="54">0</text>
<text class="tk" x="193.3" y="728.3" text-anchor="end" font-size="54">2000</text>
<text class="tk" x="193.3" y="578.1" text-anchor="end" font-size="54">4000</text>
<text class="tk" x="193.3" y="427.9" text-anchor="end" font-size="54">6000</text>
<text class="tk" x="193.3" y="277.7" text-anchor="end" font-size="54">8000</text>
<text class="tk" x="195.3" y="143.5" text-anchor="end" font-size="54">10,000</text>
<text class="tk" x="205" y="915" text-anchor="middle" font-size="54">00:00</text>
<text class="tk" x="330.2" y="915" text-anchor="middle" font-size="54">04:00</text>
<text class="tk" x="455.3" y="915" text-anchor="middle" font-size="54">08:00</text>
<text class="tk" x="580.5" y="915" text-anchor="middle" font-size="54">12:00</text>
<text class="tk" x="705.7" y="915" text-anchor="middle" font-size="54">16:00</text>
<text class="tk" x="830.8" y="915" text-anchor="middle" font-size="54">20:00</text>
<text class="tk" x="953" y="919" text-anchor="middle" font-size="54">24:00</text>
<text x="520" y="969.8" font-size="57">Time</text>
<text transform="translate(70 585) rotate(-90)" font-size="60.5">P(kW)</text>
<text x="256.5" y="1030.5" font-size="60">(a) P before pre-treatment</text>
<g clip-path="url(#cb)" fill="none" stroke-width="2.4" stroke-linejoin="round" shape-rendering="crispEdges">
<path d="M1199 830.5l51 0 2 2.5 2-2.5 46 0 2 2.5 3-2.5 35 0 20 0 2 2.5 2-2.5 36 0 2 2.5 2-2.5 27.3 0 1.7 12.2 67 0 30 0 2-2.7 2 2.7 46 0 60 0 20 0 90 0 2-3.2 2 3.2 46 0 2-2.7 2 2.7 36 0 60 0 20 0 2 2.8 3-2.8 24 0" stroke="#ff2d2d"/>
<path d="M1199 845.7l21 0 2-2.7 2 2.7 36 0 2-2.7 2 2.7 36 0 2-2.7 2 2.7 36 0 2-2.7 2 2.7 76 0 2-2.7 2 2.7 49 0 2 16.8" stroke="#00ad6a"/>
<path d="M1199 845.7l58 0 2-45.7 2-100 2-100 2.3-120 3.2-74.2 3.9-21.8 17.6-12 20-4 20-8 16-55.4 9-4.6 5-4 9.7-13.3 10.3 1.3 5-8 7 5 8-10 7.4-.2 7 25.8 4.9-17.9 5.7-2.7 12.2-23 8.8-9 6-4 7-1 4-6 6 3 8-9 6 3 5-12 10.8-14.7 5.2-4.3 4.7-18.5 4.9-0 3 20.8 4.4-2.3 9.5-15.5 5.5-3.5 6.4-6.5 5.6 4.5 7-10 9.3-.4 4.7 5.4 5-12.4 5 6 5-12.9 8.8-0 5-6 5 2 1-5.9 1.9-0 2 35.7 6-11.9 4.9 35.7 9-1 .9 542.6 6.5 7.1 .6-302 .9-272.5 3 45.7 4.9 2 5-9 10.9 2 3-48.6 6-2 3.9 8.9 4-13.9 6 1 3.9 3 9.9-4 2.4-0 .2 360.2 11-0 1 262.8 11.2 1 3.1 38.8 7.1 1 3 12.2 4-2.1 4 2.5 3.3-3.5 71.3-0 3.4 2 4-2 35.4-0 3.6 3.1 3-2.1 5.6 2.1 7.1-0 4.1-40.7 6.2-2.2 4 4.3 8-4.3 4 4.3 11-4.3 4 3.3 6.6-2.2 7.1 0 2.1 32.6 7.1 1.1 4.1 2" stroke="#6e6e6e"/>
<path d="M1482 862.5l96.2-1.5 4-14.3 57.1 0 3-14.2 2.7 3.5 5-3.5 5.6 0 5.1-8.2 1-28.5 1-112.1 3.1-12.2 1-89.6 1-81.5 3.1-1 2.3-71.8 8-21.8 13.8 2 6-11.9 4-9.9 4-2 12-2 19-4" stroke="#0068e0"/>
<path d="M1700 379l22.9 3 3.9 6 2 39.6 2 62.4 2.2 45 3 2 2 207.9 4.2 79.4 2.8 0 4.3-79.4 3.1 22.4 5.1 0 2 81.5 13.2 0 3.1-3.1 34.6 0 7.2-4.1 41.7 1.1 3.1 3 86.6 0" stroke="#26b800"/>
<path d="M1380 380l13.5 4 16.5 2 19.3 1 11.7-1 8 3 11-3 9 1 8 9 8-2 8 4 4-6 6 3 5.7 1 6.3-3 7.6 5 9.9 3 5.5-3 6.4 4 8 0 5.6 5.8 8-2.8 4-3.2 5 6 7-7.8 8-4 10 4 10-6 7.6 5 12-3 5.9 5 9.9-2 11-11 8.9 4 7.9-4 11-4 6.8 4 8 2 8-8 13-4" stroke="#dd9900"/>
<path d="M1703 380l2 27.8 2-27.8" stroke="#ff6600"/>
<path d="M1520 377l34 0 1.3 30 11.7 0 1.5-15 14.5-2 2-12 15-2" stroke="#26b800"/>
<path d="M1238 372l4 0 1 29 2-29 5 0" stroke="#dd9900"/>
<path d="M1335 372l5 0 1 25 1-25 5 0" stroke="#26b800"/>
<path d="M1198 319l3-6 4 6 4 3 4 3 4-4 4 0 4-4 4 8 4 1 4-8 4-5 4 5 4-1 4 7 4-3 4 4 4-8 4 11 4-11 4-7 4 2 3 1 4 11 4-2 4-3 4-2 4 1 4 10 4-9 4-9 4 1 4 4 4 0 4-5 4-3 4 9 4 6 4-1 4-7 4 5 4-4 4 14 3 3 4-13 4 1 4 3 4-3 4-9 4 9 4-6 4-4 4 12 4 3 4-2 4-5 4 1 4-11 4 5 4 8 4-9 4 2 4-1 4-2 3 6 4 7 4-1 4-8 4 3 4 7 4-5 4-3 4-2 4-6 4 8 4 2 4 0 4 6 4-3 4-5 4 4 4-13 4 12 4 7 4-6 3-9 4 8 4 2 4-8 4 3 4 2 4 2 4-3 4 2 4-9 4 4 4 8 4-4 4-8 4-1 4 11 4-7 4 1 4 1 4 12 4-5 3-6 4 3 4-6 4 4 4-9 4 1 4 10 4-2 4-2 4-1 4 7 4-5 4 9 4-1 4 4 4-2 4-14 4-11 4 16 4 10 4 8 3-10 4-4 4 0 4-10 4-2 4 14 4-2 4 6 4-5 4 1 4-5 4 8 4 5 4-6 4-14 4 4 4 5 4-3 4 4 4 6 4-7 3 3 4 0 4 1 4-2 4-15 4-4 4 15 4 3 4-1 4-1 4 2 4 0 4-7 4-4 4 1 4 1 4 3 4-1 4-3 4 7 4-8 3 10 4-12 4 8 4-4 4 9 4 0 4 2 4-12 4 5 4 2 4 5 4 4 4-8 4-4 4 15 4 1 4-4 4-4 4-4 4 3 4-8 3 7" stroke="#969100"/>
<path d="M1198 320l3 2 4-1 4 6 4-1 4-8 4 7 4-11 4 2 4 2 4 2 4-3 4 2 4 2 4 2 4-9 4 0 4-5 4 9 4-3 4 2 4-1 3-4 4 8 4 2 4-2 4 7 4-6 4 0 4 7 4-4 4 5 4-10 4 3 4 8 4-6 4 1 4-3 4 1 4 4 4-11 4 6 4-7 3 6 4 1 4-2 4 2 4 9 4-6 4 0 4-6 4 7 4 2 4-7 4 11 4-9 4 1 4-11 4 10 4-1 4-1 4 7 4-11 4 9 3-1 4-4 4-5 4 1 4-3 4 0 4-2 4 3 4 9 4-6 4 0 4 4 4 5 4-5 4-8 4 18 4-18 4 1 4 0 4 14 4 2 3-6 4 1 4-10 4 14 4-7 4 6 4-1 4-6 4 3 4 2 4 1 4-2 4 1 4-5 4-5 4 6 4-1 4 2 4-4 4-5 4 5 3-6 4-1 4 3 4 7 4-8 4-1 4-1 4 0 4 5 4 2 4-9 4 15 4-8 4 9 4-12 4-3 4 5 4-1 4 4 4-3 4 9 3 0 4-6 4 1 4-4 4 5 4-3 4-9 4 5 4 2 4-1 4 11 4 0 4-2 4-3 4-2 4-8 4 3 4 5 4 2 4-5 4 10 3-7 4 3 4 10 4-18 4-6 4 1 4 12 4 3 4-5 4 4 4-2 4 2 4-5 4 3 4 0 4 5 4 2 4-14 4-1 4 9 4-3 3-2 4-2 4 9 4-11 4 3 4 4 4-5 4-2 4 2 4 13 4-3 4-2 4-4 4-7 4-8 4 4 4 14 4-3 4 0 4 9 4-4 3 10" stroke="#994a52"/>
<path d="M1198 320l3 7 4-1 4-1 4 9 4-3 4-6 4-5 4 6 4-7 4 3 4-1 4 2 4 4 4-1 4-1 4-8 4 2 4-8 4 12 4 1 4 7 3-5 4 4 4-11 4 4 4-2 4 0 4-6 4 4 4-2 4 10 4-7 4 8 4-5 4-2 4-6 4 6 4 7 4-5 4 8 4-3 4-8 3-9 4 4 4 7 4-2 4 14 4-8 4-8 4 7 4 3 4-12 4 5 4 3 4-7 4 0 4 5 4 2 4 4 4-2 4 5 4-9 4 0 3-6 4 8 4-4 4-2 4 5 4 5 4-2 4-2 4-9 4 5 4 4 4-2 4 2 4 1 4-5 4 3 4 3 4 2 4-5 4-8 4 8 3 7 4-6 4 0 4-8 4 1 4 8 4 5 4 1 4-14 4 3 4 4 4 4 4-1 4-5 4 2 4-5 4-5 4 7 4-6 4 0 4 0 3 1 4 8 4 5 4-7 4 4 4-1 4-6 4 3 4 5 4-4 4 2 4-2 4 5 4 7 4-12 4-2 4 8 4-6 4 0 4-10 4 14 3 6 4-4 4 3 4-5 4 5 4 4 4-9 4-15 4 7 4 1 4 5 4 11 4-13 4-2 4-2 4 9 4-2 4 3 4 0 4-7 4 0 3 6 4-5 4-2 4 5 4-4 4 0 4-4 4 2 4 9 4 0 4-4 4 1 4-3 4 8 4-8 4 8 4-7 4-5 4 6 4 4 4-1 3-6 4 6 4-6 4-2 4-2 4 4 4-5 4 3 4 2 4 6 4-2 4-9 4 4 4 6 4-2 4 1 4 4 4-8 4 18 4-17 4-9 3 5" stroke="#0068e0"/>
<path d="M1198 382l3 1 4 1 4 1 4 0 4 0 4 0 4-2 4-1 4-1 4 3 4-2 4 0 4 0 4-1 4-3 4 2 4 4 4 1 4-3 4 3 4 1 3-4 4 0 4-4 4 4 4-1 4-4 4 7 4 0 4-4 4 5 4-4 4-2 4 5 4 0 4 3 4-1 4-1 4-2 4 1 4 1 4 0 3-1 4-2 4 1 4 4 4-4 4-2 4 2 4 0 4 2 4-2 4 4 4-6 4-2 4 1 4 3 4 3 4-4 4 0 4-1 4 1 4-4 3 3 4 0 4 3 4 0 4 3 4 1 4-5 4 0 4 0 4 2 4 1 4-5 4 0 4 2 4-2 4 0 4 3 4 2 4-1 4-1 4-1 3-2 4 2 4 2 4-1 4 0 4-2 4-2 4 1 4 2 4-2 4-1 4 1 4 4 4-1 4-1 4 0 4 0 4-1 4 6 4 0 4-5 3 1 4 1 4-2 4 1 4-2 4 1 4-2 4-2 4 7 4-4 4-2 4-2 4 2 4 0 4 6 4 0 4 3 4-3 4-5 4 3 4 1 3 2 4-3 4-3 4-1 4 4 4 0 4 0 4-3 4-1 4 3 4-3 4 3 4 2 4-6 4 3 4 5 4-6 4 1 4-4 4 4 4 0 3 1 4-4 4-1 4 4 4 3 4-3 4 2 4-5 4 4 4 1 4-2 4 1 4 0 4 2 4-1 4-3 4 2 4-2 4 2 4-1 4-3 3 2 4-4 4 4 4 2 4-3 4 4 4-5 4 2 4-2 4 5 4 3 4-2 4 0 4 2 4-4 4-4 4 1 4-1 4 0 4-2 4-2 3 7" stroke="#c67aea"/>
<path d="M1198 307l3 2 4 13 4-3 4-8 4-2 4 10 4-7 4-6 4-2 4 2 4 8 4-5 4 1 4 3 4 5 4-1 4-1 4-4 4-6 4 5 4-9 3 11 4-1 4-5 4 0 4 9 4-5 4 6 4-4 4-3 4 6 4-5 4 1 4-13 4-1 4 3 4 5 4 5 4-1 4-1 4 2 4 1 3-1 4-8 4 15 4-4 4 4 4-4 4 3 4-1 4 5 4-2 4-3 4-10 4 1 4 1 4 4 4 0 4-14 4 6 4 7 4-1 4 2 3-1 4 2 4 7 4-4 4 0 4 0 4 0 4 3 4-3 4-3 4-2 4-2 4 2 4 4 4-4 4-4 4 0 4-8 4 15 4 5 4-1 3-4 4-5 4-5 4-4 4 7 4-10 4 8 4 4 4 0 4 4 4 2 4 5 4 6 4-3 4-8 4-5 4 5 4-4 4-1 4 5 4-12 3 7 4 1 4-3 4 5 4-7 4 2 4 2 4 4 4-6 4 7 4-13 4 1 4-3 4 8 4 0 4 5 4 2 4 3 4-12 4-4 4 13 3 0 4-10 4 5 4-14 4 15 4-5 4 4 4-2 4-3 4 9 4-7 4-6 4 11 4-4 4-6 4 3 4-2 4 1 4 4 4 7 4-4 3-4 4 1 4-6 4-4 4 7 4-3 4 2 4 7 4-6 4 6 4 0 4 13 4-10 4-5 4 1 4 2 4 1 4-2 4-4 4 1 4 2 3 0 4 2 4-3 4-6 4 9 4-3 4-9 4 10 4 8 4-6 4-7 4 5 4 0 4 4 4-7 4 1 4 0 4 2 4-9 4 11 4 4 3-11" stroke="#6e6e6e"/>
<path d="M1198 323l3-9 4 4 4 0 4-5 4 6 4 2 4-1 4-6 4-4 4 3 4 0 4 2 4 3 4 13 4-11 4 4 4-2 4 2 4-1 4-6 4-6 3 1 4-1 4 2 4-1 4-3 4-5 4 12 4-2 4 5 4 1 4 2 4-3 4 5 4-4 4-5 4 1 4 3 4 0 4-2 4 5 4-10 3 3 4-6 4 1 4 4 4 1 4-4 4 8 4 2 4-9 4 12 4-13 4 1 4 2 4-6 4 4 4-1 4 0 4-3 4 3 4 1 4 6 3-4 4 2 4 1 4 1 4-3 4-9 4 11 4-8 4 8 4 6 4 2 4-11 4 0 4-1 4 5 4-4 4-3 4 9 4-9 4 3 4 0 3-3 4 3 4 3 4 0 4-3 4 1 4 6 4 3 4 1 4-2 4 3 4-4 4-6 4 5 4-2 4-6 4-3 4 4 4-11 4 4 4 4 3 1 4 5 4 2 4 3 4-9 4 5 4 2 4-7 4 8 4-10 4 1 4 2 4 3 4 1 4-2 4 1 4-1 4 5 4-3 4-8 4 4 3 0 4-1 4 4 4 11 4-4 4-3 4-3 4 4 4-2 4-7 4 4 4 3 4 2 4-7 4 3 4-4 4 7 4-11 4 0 4 4 4 2 3-2 4 6 4 2 4 0 4 0 4-4 4-3 4 9 4-3 4 0 4-5 4-3 4 0 4 2 4 4 4-2 4-5 4 2 4 2 4-7 4 2 3 6 4-5 4 1 4 4 4 2 4-2 4-4 4 3 4-3 4-1 4-3 4 5 4 2 4-2 4-1 4 1 4 1 4 3 4-1 4-2 4 5 3-7" stroke="#00c8d8"/>
<path d="M1198 303l3-1 4 5 4 4 4-3 4 0 4-8 4 0 4-2 4 11 4-1 4 2 4 0 4-1 4-7 4 5 4-5 4-1 4 5 4 2 4-6 4 5 3-4 4 0 4-3 4 7 4 0 4-3 4-1 4 0 4 4 4 1 4-2 4-2 4 0 4 0 4 2 4 1 4-2 4-1 4 2 4 7 4-4 3 6 4-9 4-1 4 2 4 6 4-4 4 1 4-8 4 3 4 7 4-3 4-2 4-4 4 2 4 1 4-6 4 7 4-6 4 4 4 0 4 5 3 1 4 0 4-6 4 4 4-5 4-5 4 0 4-1 4 6 4 0 4-5 4 8 4 8 4-8 4 2 4-4 4-2 4 5 4-1 4-6 4 5 3-1 4 0 4-2 4 6 4-8 4 3 4-3 4 5 4-2 4-2 4 7 4-4 4-1 4 5 4 0 4 1 4 5 4-4 4 1 4-9 4 1 3 7 4-9 4 2 4 0 4 2 4 5 4 0 4-5 4 0 4 3 4-3 4 0 4 2 4-1 4-2 4-1 4 2 4 2 4-2 4 2 4 0 3 0 4-4 4 4 4 0 4 1 4-2 4 0 4 7 4 0 4-5 4-1 4 3 4 5 4-6 4 2 4 2 4-5 4-4 4 3 4 11 4-6 3-7 4 0 4 7 4 3 4-1 4-13 4 2 4 1 4-7 4 13 4 4 4-1 4-5 4 6 4-4 4-6 4 10 4-3 4-2 4 1 4-4 3-6 4 5 4-5 4 7 4 0 4-3 4 0 4 8 4-2 4-4 4-5 4-8 4 8 4-8 4 11 4-1 4 7 4-2 4 4 4-2 4 1 3-12" stroke="#dd9900"/>
<path d="M1198 339l3-5 4-5 4-8 4 12 4 7 4-5 4 2 4-3 4-3 4 4 4 4 4 2 4-11 4 6 4-8 4 4 4 4 4 1 4-2 4 0 4-1 3 2 4 4 4-4 4-4 4 3 4-1 4 3 4-5 4-9 4 14 4-5 4 0 4 1 4 2 4-4 4-2 4-5 4 6 4 4 4 3 4-4 3-3 4 3 4-3 4 2 4 4 4 3 4 7 4-8 4-9 4 8 4-1 4-4 4 3 4-7 4 2 4 1 4 3 4-4 4-5 4 3 4 6 3-6 4-3 4 7 4-4 4-3 4 5 4 7 4 12 4-9 4-11 4 3 4 8 4 2 4 3 4-6 4 2 4 0 4-12 4 7 4-5 4 4 3-5 4 3 4-7 4 7 4-7 4 7 4 7 4-10 4-7 4 4 4-5 4 2 4 8 4-2 4 1 4-12 4 10 4 8 4 1 4-7 4 11 3 1 4-11 4-7 4-3 4 18 4-1 4-2 4-6 4 13 4 2 4-3 4 0 4-11 4 5 4-5 4 2 4 6 4 1 4-2 4-4 4 9 3-4 4-10 4 4 4 6 4-2 4 2 4-11 4-8 4 5 4 2 4-1 4 0 4 4 4 2 4-5 4 7 4-8 4 8 4 1 4-13 4 8 3 6 4 4 4-2 4-4 4 1 4 6 4-7 4-1 4-8 4 9 4 4 4 2 4-6 4-1 4-1 4 5 4 0 4-2 4 0 4-5 4 5 3 4 4-1 4 0 4-1 4-1 4-12 4-2 4 7 4 4 4 5 4 3 4-7 4-2 4-4 4 0 4 6 4-6 4 4 4 2 4-7 4 9 3-9" stroke="#00ad6a"/>
<path d="M1198 376l3 3 4-2 4 3 4-1 4 1 4-1 4 1 4 2 4 1 4-5 4 3 4-1 4 0 4 0 4 0 4 1 4-2 4 5 4 1 4-7 4 1 3-6 4 6 4 1 4 1 4-3 4 1 4-2 4 1 4 3 4 3 4-3 4 3 4-2 4 0 4 3 4-2 4-7 4 1 4 8 4-5 4 3 3 2 4-3 4 0 4-3 4 0 4 1 4-1 4 1 4-1 4 5 4-4 4-4 4 0 4 3 4 3 4 0 4-2 4 2 4-6 4 1 4 2 3 0 4 5 4 3 4-5 4-2 4-3 4 5 4-2 4 1 4-1 4 0 4 0 4 1 4 4 4 0 4-3 4-1 4 3 4-2 4 1 4-3 3 2 4 0 4 1 4-3 4 3 4-2 4 1 4 3 4 0 4 0 4-2 4 3 4-4 4 4 4-5 4 0 4 3 4-3 4 0 4-5 4 0 3 1 4-3 4 3 4 3 4 0 4 2 4 2 4 7 4-8 4 0 4 0 4-3 4-1 4-6 4 6 4 1 4 3 4-3 4 0 4-1 4 1 3 1 4-3 4 2 4 2 4-3 4 2 4 4 4-1 4-5 4 3 4 0 4-1 4-1 4 4 4-7 4 1 4-1 4 3 4 3 4-2 4-1 3-1 4 0 4 2 4 4 4 0 4-5 4 0 4-1 4-1 4 2 4-4 4 2 4 6 4-2 4 1 4-1 4 0 4-4 4 2 4-5 4 1 3 3 4 3 4-4 4 6 4-3 4-3 4 2 4 2 4 0 4 3 4-5 4 2 4 1 4 0 4-2 4-1 4 2 4 2 4-2 4-2 4 2 3-1" stroke="#c67aea"/>
<path d="M1198 378l3 6 4-2 4-7 4 5 4 1 4 0 4-1 4 2 4-1 4 0 4 2 4 0 4 1 4 0 4 0 4-5 4-1 4 0 4 4 4 0 4 1 3 2 4 2 4-3 4-3 4 2 4-3 4 0 4 3 4-2 4-1 4 0 4-3 4 7 4-3 4 0 4-4 4 3 4 1 4 2 4-2 4 2 3 0 4-1 4-1 4 1 4-1 4 1 4 2 4 2 4-4 4 0 4-5 4 6 4-3 4 1 4-1 4 1 4 1 4 2 4 2 4-4 4-2 3 0 4-3 4 4 4 4 4-2 4 3 4-7 4 3 4 0 4 4 4-4 4 1 4-1 4 1 4-2 4 3 4 0 4-5 4 3 4-3 4 0 3 4 4-2 4-2 4 6 4-3 4-1 4-1 4 1 4-1 4 3 4-1 4-4 4 5 4-1 4 0 4-3 4 4 4-2 4 1 4 1 4 0 3 0 4-3 4 2 4-1 4-2 4 5 4-2 4 0 4 2 4 2 4-7 4 8 4-3 4 1 4-4 4 1 4-2 4-2 4 6 4 0 4 4 3-1 4-1 4-7 4 1 4 2 4-2 4 1 4 1 4 1 4 0 4-1 4-1 4 2 4-3 4 2 4 2 4-3 4 0 4 1 4 1 4 3 3-3 4 0 4-4 4 2 4 2 4 0 4 0 4-2 4 1 4-1 4 0 4 2 4-6 4-3 4 6 4 2 4 2 4-4 4-3 4 4 4 0 3-2 4 1 4 0 4-1 4-3 4 3 4 4 4 3 4 0 4-1 4 0 4 1 4 1 4-2 4-3 4 2 4 0 4-2 4 0 4-3 4 4 3 0" stroke="#c67aea"/>
<path d="M1198 323l3 3 4 1 4-8 4 6 4-1 4 5 4-2 4-4 4-7 4 8 4-6 4 6 4 4 4-2 4 0 4 2 4-1 4-12 4 5 4-3 4-1 3 2 4 3 4 10 4-4 4-10 4 7 4 1 4 0 4-1 4 0 4-2 4 0 4 2 4-2 4-3 4-6 4 15 4-2 4-2 4 10 4-14 3 12 4-8 4-2 4 3 4-5 4 12 4-12 4 8 4 5 4-5 4-2 4 0 4-14 4-1 4 13 4-9 4 11 4-1 4 2 4 2 4-1 3 5 4-7 4 0 4 0 4-2 4 3 4 2 4-9 4 13 4 4 4-9 4-9 4-4 4 6 4 10 4-5 4-4 4-2 4-2 4 3 4 3 3 2 4 3 4-14 4 3 4 0 4 9 4 3 4-3 4 8 4-5 4 5 4 0 4-4 4-2 4-1 4-6 4-6 4 16 4-8 4-12 4 17 3 1 4-4 4-11 4 10 4-3 4 5 4-11 4 7 4 5 4-4 4-3 4-1 4 8 4 5 4 1 4-9 4 5 4-16 4 13 4-4 4 13 3-5 4-12 4 1 4 1 4 13 4-7 4 12 4-3 4-6 4 4 4-8 4-4 4 4 4-2 4 7 4-2 4-5 4-4 4 3 4-7 4 8 3 4 4-5 4 12 4 4 4-12 4 0 4-7 4-1 4-2 4-1 4 8 4 3 4 4 4 1 4-4 4-5 4 7 4-12 4 2 4 13 4-4 3-5 4 5 4-6 4 5 4 4 4-6 4 4 4 5 4-16 4 4 4 3 4 9 4-8 4 3 4-12 4-3 4 14 4-6 4 9 4-3 4-4 3-2" stroke="#ff2d2d"/>
<path d="M1198 334l3 5 4 7 4-9 4 3 4-4 4 2 4 0 4 0 4 9 4 0 4-13 4 0 4 6 4-6 4 8 4-3 4-7 4 3 4 11 4-5 4-7 3 1 4 0 4-3 4 1 4 6 4-2 4 2 4 5 4-2 4-7 4 16 4-1 4-10 4 2 4-4 4 4 4-6 4 5 4-9 4 3 4 7 3-2 4-2 4 3 4 6 4-1 4 0 4-4 4 1 4 2 4 0 4 1 4-11 4 0 4-6 4 0 4 6 4-8 4 1 4 1 4 8 4-3 3 12 4 3 4-8 4 7 4-7 4-1 4 5 4-10 4-1 4 5 4-2 4 4 4 1 4-3 4 5 4-3 4-1 4 0 4-4 4 4 4-3 3 5 4 3 4-8 4-3 4-9 4 7 4 8 4 5 4-3 4 0 4-3 4-3 4 5 4 0 4 5 4-8 4-4 4 1 4 7 4 2 4-9 3 5 4 7 4-6 4-1 4-1 4 12 4-18 4 5 4-4 4-2 4 4 4 1 4 7 4-4 4 5 4 1 4-15 4 11 4 2 4-8 4-8 3 5 4-1 4 0 4 3 4-4 4 14 4-4 4 4 4-6 4 6 4-11 4-1 4 1 4 4 4 6 4 1 4-4 4 5 4 1 4-7 4 6 3 4 4 1 4-9 4-6 4 6 4 3 4-6 4 0 4 5 4-8 4 4 4 3 4 7 4-7 4-4 4-8 4 3 4 9 4-6 4-1 4 7 3-4 4 0 4 9 4-3 4-4 4-5 4-5 4 9 4 1 4-5 4 2 4-5 4 12 4-6 4 3 4 0 4-3 4-4 4 2 4-1 4 1 3-3" stroke="#ff2d2d"/>
<path d="M1198 328l3 8 4 3 4-6 4 5 4-2 4 0 4 2 4 0 4-7 4 7 4 1 4-8 4 1 4 9 4-10 4 7 4-4 4 6 4-12 4 1 4 1 3 13 4-2 4-5 4-4 4 0 4 1 4 3 4 2 4-7 4 1 4-6 4 2 4 6 4-10 4 10 4 3 4-3 4 4 4 1 4 0 4-2 3-6 4-10 4 5 4-1 4 4 4 8 4-14 4 4 4-3 4 15 4-1 4-3 4 4 4 10 4-1 4-14 4 3 4-11 4 12 4 3 4-8 3-5 4 12 4-3 4 6 4-7 4-2 4-4 4 5 4 4 4-8 4 1 4-2 4 0 4 6 4-3 4 3 4 6 4-11 4 1 4 0 4 2 3-5 4 8 4-6 4 8 4-4 4 4 4-3 4 6 4-5 4-6 4 5 4-13 4 13 4 3 4-3 4-13 4 6 4 8 4 0 4-6 4 0 3-1 4 2 4-6 4-5 4 9 4 3 4-1 4 6 4-7 4-5 4 2 4-4 4 0 4 10 4 1 4 3 4 0 4 4 4-2 4-8 4-6 3 7 4 5 4-1 4 2 4 6 4-7 4-6 4 0 4 4 4-4 4 2 4-10 4 2 4-1 4 3 4 6 4-2 4 3 4 3 4-14 4 14 3 3 4-6 4-4 4 1 4 1 4-3 4 9 4-10 4 0 4 5 4-1 4-5 4 1 4-2 4 3 4-2 4 1 4 4 4 0 4 0 4-13 3 8 4 3 4 7 4 0 4-2 4-5 4-3 4 2 4 7 4-6 4 3 4-3 4 2 4 0 4-3 4 7 4-9 4-3 4 4 4 9 4 1 3-7" stroke="#4499d8"/>
<path d="M1198 334l3-4 4-3 4 10 4-3 4 7 4-7 4 6 4-6 4 0 4 0 4-5 4 10 4-9 4 8 4-4 4 4 4 12 4-14 4-6 4-6 4 10 3-1 4-7 4-3 4 14 4 6 4 1 4-6 4 10 4-10 4 1 4-3 4-4 4 5 4 0 4-7 4-1 4 9 4-3 4-2 4 7 4-3 3 1 4 8 4-10 4-10 4 12 4-5 4-5 4 8 4-1 4-4 4-4 4 13 4-8 4 6 4-5 4 10 4-3 4 1 4-3 4-2 4-10 3 18 4-10 4 0 4 5 4-2 4-1 4 8 4-5 4 1 4-1 4-9 4 8 4-2 4-4 4 3 4 1 4-3 4 2 4 11 4-4 4 8 3-9 4 5 4-7 4-1 4 0 4 1 4-7 4 14 4-4 4-8 4-4 4 0 4 5 4-1 4-1 4 5 4 0 4 4 4-7 4-3 4 9 3-4 4-5 4 3 4-3 4-2 4 0 4 1 4 5 4-5 4-4 4-4 4 10 4-5 4 6 4 0 4 4 4-8 4 7 4 10 4-10 4-2 3-7 4 9 4 0 4 1 4 0 4-3 4 3 4 2 4 1 4 10 4-4 4-2 4-1 4-7 4-9 4 7 4-1 4-8 4 9 4 2 4-7 3-1 4 13 4-5 4-1 4 0 4 2 4 0 4 9 4-15 4 12 4-1 4-3 4 1 4-4 4 1 4-12 4 10 4-8 4 9 4 6 4-12 3 4 4-2 4 1 4-2 4 8 4-7 4 4 4 2 4-3 4-12 4 13 4 4 4-5 4 6 4-2 4-3 4 0 4 4 4 1 4-1 4 4 3-8" stroke="#0068e0"/>
<path d="M1198 318l3 2 4 1 4-3 4 0 4 9 4-5 4-5 4 3 4 7 4-4 4 0 4 1 4 0 4 0 4 1 4-6 4-5 4 3 4 0 4-4 4 8 3 4 4-2 4-1 4-1 4-3 4 1 4 3 4 1 4-1 4 0 4-2 4-4 4 5 4 3 4 0 4-2 4 5 4-4 4-2 4-9 4 10 3-2 4-4 4 6 4-6 4 0 4 5 4-8 4-1 4 2 4-4 4 10 4 0 4-4 4 0 4 7 4 1 4-2 4-5 4 0 4 8 4-4 3-3 4-2 4 7 4-8 4 2 4-6 4 6 4 5 4-4 4-3 4 5 4-1 4 2 4-5 4 2 4 5 4-8 4 0 4-4 4-1 4 2 3 9 4 3 4-1 4-2 4-2 4-3 4-3 4 2 4 15 4-10 4-2 4 1 4 1 4-5 4 9 4-3 4 0 4 1 4-4 4-5 4 8 3-3 4-2 4-1 4 6 4-5 4-9 4 8 4 6 4-5 4 8 4-2 4 2 4-7 4 6 4-4 4 0 4 0 4-1 4 8 4-5 4 5 3-9 4-1 4 5 4-2 4-2 4 1 4 2 4-1 4-5 4 4 4-1 4 0 4 4 4 5 4-2 4-6 4 1 4 4 4 0 4-5 4 3 3 5 4 3 4-4 4 1 4-9 4-2 4 7 4-5 4 10 4-2 4-5 4-6 4 3 4 8 4-7 4 0 4 3 4-2 4 7 4 4 4-17 3 4 4-2 4-8 4 6 4 2 4 4 4-5 4 5 4-1 4-4 4 3 4-5 4 3 4 5 4-5 4 5 4-1 4-1 4-1 4 8 4-4 3-1" stroke="#dd9900"/>
<path d="M1198 326l3 9 4-7 4-8 4 11 4 9 4-4 4 1 4-1 4-2 4 6 4-10 4-8 4 1 4 8 4-3 4-8 4 6 4 4 4 1 4 6 4 8 3-6 4-1 4-3 4-7 4-5 4 2 4 3 4-4 4 3 4 6 4 1 4-5 4-4 4 8 4-4 4-2 4 7 4 5 4-2 4-3 4-1 3-7 4 1 4 6 4 5 4-6 4 3 4-3 4 9 4 1 4-4 4 8 4-4 4-7 4 9 4-12 4-5 4 0 4 13 4-11 4 2 4-10 3 2 4 19 4-6 4-3 4-8 4 21 4-9 4-5 4 1 4 2 4-1 4 2 4-8 4 6 4 5 4 6 4-10 4 1 4-5 4 0 4-5 3 11 4-1 4-4 4-1 4 2 4 4 4-7 4-3 4-1 4 8 4 1 4-3 4 7 4-2 4 6 4-5 4-4 4 10 4-17 4 3 4 0 3 0 4 2 4 1 4-5 4 3 4-2 4-2 4 8 4 4 4-2 4-10 4 7 4-2 4-9 4 4 4-5 4 10 4-4 4 5 4-5 4-1 3-1 4 1 4 4 4 2 4 0 4-4 4 6 4-10 4 0 4 3 4 6 4 4 4-1 4-5 4 0 4 7 4-6 4-2 4 3 4 1 4-1 3-2 4 1 4-4 4 4 4-1 4 0 4-3 4 10 4-14 4 13 4-5 4 3 4 0 4 5 4 5 4-14 4 3 4-2 4-1 4 2 4 1 3-13 4-4 4 4 4 13 4 9 4 2 4-16 4 5 4-14 4 12 4-9 4 5 4 9 4-10 4 7 4-10 4 5 4 2 4 6 4 7 4-14 3-3" stroke="#0068e0"/>
<path d="M1198 327l3-1 4-7 4 3 4 7 4-1 4-3 4 7 4-6 4-3 4-2 4 0 4 4 4 5 4 2 4 11 4-9 4-4 4-6 4 7 4-12 4 12 3 1 4-6 4 4 4-1 4-8 4-7 4 10 4-6 4 12 4-9 4 3 4 17 4-5 4-4 4 5 4-3 4-3 4-8 4-1 4-4 4 3 3 14 4-6 4-7 4 6 4 5 4-10 4-3 4 9 4 3 4-6 4-7 4 3 4 7 4-3 4 7 4-8 4 7 4 1 4-7 4 7 4-9 3 7 4-2 4-7 4 8 4-5 4 3 4-3 4 4 4-2 4 1 4 3 4-6 4 6 4 3 4 0 4-3 4-2 4 5 4-3 4 1 4-1 3-14 4 7 4 3 4 6 4-3 4-14 4 12 4 6 4-4 4-4 4 0 4 0 4-2 4 10 4-12 4 9 4 1 4-3 4-1 4-3 4 1 3-3 4-4 4 3 4-2 4 4 4 6 4 0 4-7 4 3 4-1 4-1 4-6 4 12 4-13 4 9 4 3 4-9 4 7 4-4 4 6 4 0 3-7 4-3 4 10 4 11 4-4 4-6 4 2 4-6 4-1 4 4 4 0 4 5 4-5 4-11 4 4 4 1 4 11 4-9 4 0 4 5 4 5 3 0 4-5 4 1 4 4 4-8 4-3 4-8 4 8 4-5 4 7 4-3 4-5 4 2 4 6 4 7 4 0 4-5 4-3 4 10 4-5 4 8 3-10 4-1 4-2 4 6 4 6 4-12 4-8 4 0 4 12 4 1 4-5 4-10 4 8 4-3 4 12 4-5 4 6 4-4 4 2 4-10 4 6 3 14" stroke="#6e6e6e"/>
<path d="M1198 332l3-9 4-7 4 10 4-9 4 5 4 0 4 4 4-2 4-5 4 3 4 7 4-4 4-1 4 1 4-4 4 3 4-10 4 0 4 2 4 7 4-2 3-7 4 3 4 8 4 0 4-1 4 1 4 9 4-10 4 5 4 0 4-5 4-5 4 2 4-6 4-2 4 9 4 3 4-4 4 1 4-3 4 9 3 0 4-1 4-5 4-3 4 2 4 0 4-1 4-1 4 9 4 0 4-5 4 0 4 1 4-1 4-1 4-9 4 6 4 0 4 2 4-3 4 8 3 0 4-6 4 0 4 7 4-2 4-4 4 4 4-12 4 1 4 8 4-1 4 4 4-6 4-8 4 8 4 5 4 3 4 0 4 1 4-13 4 8 3-1 4-4 4-1 4 4 4 1 4-2 4 0 4-7 4 5 4-1 4 7 4-3 4 2 4-2 4 1 4-3 4-2 4 1 4 10 4 2 4-4 3 2 4-4 4-10 4 7 4-4 4 5 4-2 4-8 4 16 4 1 4 4 4-14 4-4 4 7 4 3 4 0 4-1 4-1 4-5 4-2 4 0 3-1 4 3 4 2 4 2 4-5 4 3 4-1 4 5 4 0 4 7 4-7 4 1 4 1 4-7 4-3 4 7 4-7 4 3 4 3 4-1 4 0 3 2 4-10 4 3 4 3 4 6 4-2 4 2 4-2 4 1 4 0 4-9 4 4 4 1 4-1 4 3 4 3 4-9 4 1 4 5 4 3 4-5 3 5 4-6 4-1 4-6 4 7 4 4 4 3 4 2 4-6 4 7 4-3 4-4 4-3 4 3 4-3 4 5 4 1 4 1 4-3 4-4 4 1 3 2" stroke="#00c8d8"/>
<path d="M1198 319l3-1 4-6 4 6 4 0 4 12 4-2 4-13 4 6 4-2 4 7 4 6 4-13 4 1 4-4 4 3 4 8 4 1 4 0 4-11 4-8 4 6 3 3 4-1 4 6 4-2 4 0 4-6 4-2 4 1 4-3 4 13 4-4 4 0 4 7 4-3 4-10 4-4 4 3 4 6 4-4 4 7 4-7 3 13 4 1 4-8 4-3 4-2 4 3 4-7 4-6 4 13 4 0 4-4 4 8 4-3 4 8 4-5 4-5 4 1 4 2 4 1 4-4 4-4 3 6 4 3 4-17 4 10 4-6 4 4 4-1 4 2 4 11 4-3 4-7 4 15 4-13 4-3 4 0 4 11 4-1 4-9 4 2 4-5 4 7 3 7 4-7 4-6 4 4 4-1 4 7 4-4 4-1 4-3 4 4 4 2 4-5 4 6 4-7 4-7 4 3 4 8 4-7 4-3 4 10 4 8 3-14 4 1 4-1 4 4 4-3 4 6 4 5 4-6 4-1 4-2 4 3 4-6 4 1 4 3 4-12 4 5 4 5 4-1 4 4 4 1 4 3 3-5 4-4 4-1 4 1 4 12 4-2 4 0 4-7 4 4 4-12 4 3 4 9 4-4 4-5 4 2 4 3 4 0 4 7 4-2 4 2 4-4 3 2 4 0 4-12 4 9 4 3 4 6 4-11 4 8 4 1 4-6 4 1 4-3 4 4 4-4 4 5 4-10 4 5 4 10 4-12 4 5 4-2 3-6 4 15 4-2 4 1 4-25 4 9 4 2 4 4 4 4 4-12 4 5 4 15 4-17 4 8 4-8 4 6 4 7 4-1 4 2 4-8 4-7 3 7" stroke="#c67aea"/>
<path d="M1198 322l3-2 4 3 4-6 4 6 4-2 4 7 4-3 4 9 4-3 4-11 4 7 4 1 4-4 4 1 4-1 4 0 4 6 4-3 4 0 4 3 4 2 3 4 4-6 4-6 4-3 4 0 4-4 4-5 4 1 4 5 4 8 4-6 4 9 4 3 4-5 4 5 4-11 4-1 4-2 4-1 4 6 4-1 3-4 4 9 4 1 4 6 4-9 4 4 4-9 4-1 4 5 4 3 4 2 4-4 4 0 4 2 4-1 4 4 4-7 4-2 4-1 4 11 4-6 3-5 4-3 4 4 4 2 4 3 4 12 4-12 4 2 4-5 4 1 4 4 4 0 4 0 4-6 4-6 4-1 4 7 4-2 4 6 4-2 4-1 3 1 4-4 4 13 4-12 4 18 4-3 4-3 4-13 4 6 4 1 4-1 4-1 4-3 4-4 4 10 4-5 4-3 4 5 4-3 4 1 4 0 3-12 4 7 4 6 4 11 4-5 4-3 4-13 4 1 4-2 4 3 4 3 4-3 4 1 4 0 4 5 4-3 4-2 4-4 4 4 4-1 4 11 3-5 4 4 4 4 4-4 4-10 4 5 4 5 4-2 4-4 4-4 4 9 4 4 4-5 4 2 4 2 4-1 4 1 4 4 4-11 4-3 4 2 3-1 4-1 4 6 4-5 4 3 4-9 4 12 4 14 4-9 4 1 4-5 4 10 4-9 4-1 4-8 4 8 4 4 4-9 4 2 4 3 4-4 3 0 4-1 4-5 4 10 4-5 4 0 4-1 4 11 4-6 4 1 4 1 4 3 4-7 4 9 4-10 4 6 4-4 4-8 4 1 4 9 4-2 3-3" stroke="#26b800"/>
<path d="M1198 329l3 5 4-7 4-7 4 10 4-3 4 3 4-1 4 7 4-9 4-3 4-1 4-3 4 11 4-12 4 8 4 5 4-4 4-6 4 9 4-3 4-13 3 10 4 1 4 8 4-4 4-4 4-4 4 4 4 8 4-5 4 3 4-3 4-7 4 1 4 1 4-3 4 7 4-7 4 10 4-9 4 7 4 3 3-5 4-12 4 4 4 8 4-4 4-1 4 7 4 4 4-2 4 1 4 5 4-7 4-2 4-5 4 4 4 4 4-1 4-2 4 4 4-5 4 0 3-2 4 8 4-4 4-6 4 8 4 7 4-6 4 4 4-3 4-9 4 6 4-7 4 1 4 7 4-3 4 2 4-3 4 3 4-4 4 3 4-1 3 11 4-1 4-5 4-8 4 3 4-2 4 5 4-4 4-2 4-8 4 11 4-3 4-4 4 1 4 1 4 10 4-4 4 2 4-5 4 4 4-6 3 6 4 14 4-8 4 0 4 0 4-5 4-5 4 3 4 0 4 1 4 1 4 4 4-4 4-2 4-3 4-8 4 13 4 3 4-4 4 1 4-11 3 7 4 0 4 0 4-6 4 12 4-8 4-5 4 1 4-7 4 9 4 6 4-4 4 3 4-4 4 10 4 5 4-9 4-7 4 6 4-2 4-7 3 11 4 3 4 4 4-6 4-7 4-2 4 1 4 6 4-10 4 6 4 3 4 0 4-10 4 3 4 11 4 2 4-2 4-1 4-8 4 1 4-6 3 0 4 8 4-3 4 2 4 13 4-13 4 0 4-5 4-2 4 0 4 10 4 2 4-4 4-3 4 1 4 3 4-9 4 11 4-3 4 4 4-1 3-10" stroke="#0068e0"/>
<path d="M1198 316l3-7 4-3 4 4 4 7 4-6 4 14 4-7 4 0 4 4 4-8 4 0 4 0 4 1 4-5 4 1 4 8 4 1 4-1 4 3 4 9 4 1 3-16 4 4 4 2 4-11 4 8 4-6 4 7 4-3 4 1 4-1 4 6 4 3 4-2 4-7 4 2 4-9 4 1 4-6 4 2 4-1 4 20 3 2 4-11 4 1 4 4 4 1 4 5 4 3 4-10 4 1 4 2 4-5 4-2 4-1 4-1 4 2 4-4 4 3 4-1 4 7 4-1 4-6 3-3 4 13 4-10 4 4 4 0 4-4 4 3 4 7 4-3 4-7 4-3 4 8 4 5 4-10 4 3 4 4 4 1 4-2 4-3 4 1 4 1 3-5 4 1 4-1 4 0 4 4 4-6 4 3 4 3 4-8 4 2 4 6 4-4 4 1 4 0 4-4 4 4 4-1 4 0 4-6 4 19 4-8 3-6 4-2 4-5 4 3 4-3 4 16 4 2 4-8 4 5 4 3 4 5 4-10 4 1 4-1 4 5 4-5 4-7 4 2 4 2 4-6 4-11 3 4 4 11 4-2 4 5 4 1 4-10 4 5 4 3 4-1 4-2 4-3 4 0 4 3 4 3 4 4 4-12 4-1 4 0 4-5 4-2 4 10 3 10 4 1 4-5 4 2 4-8 4 11 4-7 4-5 4 2 4 13 4-7 4-3 4-5 4 1 4 7 4 0 4 0 4 1 4 1 4-7 4-2 3-3 4 11 4-3 4 3 4-6 4 3 4 4 4-3 4 2 4-5 4-1 4 7 4-4 4 4 4-8 4 8 4-6 4-3 4-6 4 6 4 11 3-4" stroke="#6e6e6e"/>
<path d="M1198 333l3 10 4-5 4 2 4-8 4 3 4-1 4-4 4-3 4 13 4-6 4-7 4 3 4 2 4-6 4-1 4 10 4 7 4-6 4 3 4 2 4-5 3 5 4-5 4 2 4 2 4-8 4-4 4 6 4 2 4-6 4 10 4-1 4-2 4-2 4-4 4 3 4-1 4-5 4 9 4-6 4 9 4-2 3-5 4 1 4 1 4-10 4-1 4 7 4 9 4 0 4 3 4 6 4-13 4 3 4-11 4 8 4-3 4 1 4-2 4 0 4-6 4 5 4-1 3 4 4 0 4 1 4 9 4-6 4-3 4 5 4-8 4-5 4 7 4-5 4 3 4 7 4-1 4-10 4 7 4-10 4 10 4 2 4 2 4-15 3 3 4 0 4 2 4-3 4 3 4 6 4-3 4 2 4 2 4 3 4-5 4-4 4 13 4 2 4-10 4 1 4-1 4-6 4 3 4-6 4 10 3 0 4 1 4-5 4-3 4 0 4 2 4 10 4-10 4 3 4 3 4-7 4 2 4-4 4 5 4 3 4-8 4 14 4-8 4-1 4 6 4 8 3-12 4-2 4-1 4 0 4-4 4-2 4 7 4 10 4-10 4-2 4-1 4-2 4 2 4 5 4 3 4 0 4-1 4-10 4 0 4 1 4 6 3-8 4 8 4 8 4-15 4 4 4-1 4 7 4 11 4-11 4-6 4 6 4-3 4 4 4-1 4 7 4-8 4 0 4-12 4 6 4 1 4-4 3-1 4-6 4 11 4-3 4 0 4 10 4-5 4 5 4-12 4 2 4 7 4 1 4 8 4-3 4 1 4-3 4 1 4-6 4 8 4-3 4 15 3-9" stroke="#6e6e6e"/>
<path d="M1198 321l3-5 4 3 4 1 4-5 4 1 4 7 4 2 4-5 4 3 4 3 4-6 4 2 4 8 4-3 4-10 4 2 4-3 4 3 4 9 4-5 4-7 3 4 4 0 4-1 4 0 4 3 4-3 4-3 4 1 4 0 4 6 4 3 4-9 4 3 4-8 4 10 4-5 4-3 4 4 4-4 4 4 4-2 3 0 4 2 4 4 4-6 4 9 4-2 4 2 4-6 4 6 4-4 4-3 4-2 4 4 4-1 4 3 4 1 4-5 4-2 4 2 4-1 4 2 3 2 4 5 4 0 4-4 4 3 4 0 4-4 4-4 4 0 4-4 4 3 4 0 4-3 4 0 4 4 4-1 4-1 4-1 4 1 4 3 4 1 3-5 4 1 4 4 4 5 4-1 4 0 4 1 4-5 4-1 4-2 4 0 4-3 4 2 4 8 4 3 4 5 4-7 4-8 4 4 4 3 4-3 3 3 4-4 4-5 4 4 4 2 4-3 4 4 4 4 4-7 4 2 4-4 4 4 4-1 4-3 4-4 4 6 4 6 4-6 4 3 4 0 4-1 3-4 4 1 4-7 4 6 4 4 4 1 4 2 4-4 4-4 4-3 4 11 4-6 4 4 4-8 4 2 4 7 4 2 4 1 4-11 4 9 4 3 3-2 4 0 4-2 4 0 4 2 4-3 4-4 4 8 4-1 4 1 4-12 4 1 4 1 4 1 4-3 4 4 4 10 4-6 4-2 4-2 4 9 3-6 4 1 4 8 4-3 4-7 4 2 4-4 4 2 4-1 4 2 4-1 4 0 4-2 4 1 4-5 4 5 4 5 4-3 4 1 4-1 4 6 3-7" stroke="#dd9900"/>
<path d="M1198 314l3-9 4 10 4-6 4-3 4-1 4 5 4 6 4 5 4 0 4-8 4 1 4-1 4 11 4-15 4 5 4 12 4-7 4 2 4-5 4 0 4 1 3 4 4-5 4 2 4 9 4-6 4-13 4-1 4 3 4 10 4-1 4 4 4-2 4-8 4 3 4 11 4 2 4-7 4 3 4-2 4-9 4 4 3 12 4-6 4 2 4-9 4-3 4 0 4-1 4-5 4 5 4 3 4 3 4-3 4 9 4-11 4 0 4 2 4 2 4-2 4-3 4 6 4-4 3 2 4-1 4-1 4 8 4-5 4 7 4-5 4-7 4 4 4-3 4-5 4 7 4 3 4 0 4-1 4 5 4 6 4-12 4-6 4 12 4-15 3 7 4 1 4-3 4 3 4 6 4-3 4-3 4 1 4 1 4-1 4 0 4 5 4-10 4 6 4-5 4 7 4-5 4 1 4 11 4-6 4-2 3-4 4-3 4-7 4 10 4 1 4 11 4-10 4 7 4 1 4-6 4 5 4-5 4-9 4 8 4 5 4-6 4-7 4-8 4 17 4-1 4 7 3-8 4 2 4 0 4 7 4-12 4-3 4 14 4-15 4-1 4 0 4-1 4-2 4 11 4 6 4 0 4 6 4-7 4 3 4-5 4 3 4-2 3-9 4-2 4 4 4 3 4-3 4-1 4-1 4 9 4 5 4-11 4-1 4-9 4 13 4 3 4-1 4-3 4 3 4-7 4 8 4-5 4 2 3 8 4-1 4-11 4 6 4-2 4-1 4 4 4-2 4 3 4-8 4 0 4-1 4 9 4 1 4 0 4-3 4-1 4 5 4 2 4-10 4-2 3 6" stroke="#6e6e6e"/>
<path d="M1198 312l3 0 4 3 4 3 4-3 4-1 4-5 4 1 4 0 4 4 4-10 4 12 4 0 4-7 4 6 4 4 4-10 4 9 4-1 4-1 4 3 4-10 3 10 4-4 4 2 4-1 4-3 4-1 4-1 4 10 4-10 4-5 4 5 4-1 4 2 4-6 4 12 4 4 4-5 4 4 4-6 4 8 4-1 3-6 4 3 4 8 4-8 4-13 4 5 4 9 4-2 4-1 4-3 4 2 4 6 4 1 4-13 4-1 4 1 4 6 4-9 4 12 4-3 4 6 3-5 4 1 4 2 4-2 4-4 4 4 4-1 4 0 4-5 4 6 4 2 4-10 4 5 4 0 4 12 4-10 4-5 4-4 4 8 4-4 4 1 3 3 4 6 4-2 4-5 4 1 4-2 4 9 4-1 4-3 4-2 4-4 4-7 4 8 4-4 4 3 4 9 4 0 4-8 4 0 4 5 4-5 3-6 4 2 4-7 4 15 4-7 4-1 4-1 4 3 4 7 4-4 4-5 4-1 4-2 4 0 4-2 4 5 4 6 4-7 4 1 4 11 4-10 3 9 4-5 4-5 4 0 4-3 4 6 4-2 4 12 4-7 4 7 4-8 4-3 4 1 4 4 4 5 4 1 4-3 4-6 4 1 4 3 4-7 3 6 4 0 4-2 4-1 4-3 4 2 4-2 4 4 4-3 4-1 4 5 4-6 4 7 4 0 4-3 4 5 4 1 4-9 4 3 4 5 4 3 3-10 4 4 4-1 4 4 4 4 4-13 4 1 4 2 4-2 4 0 4 0 4-1 4 1 4 0 4 6 4 1 4-9 4 15 4-15 4 10 4-2 3 0" stroke="#ff2d2d"/>
<path d="M1198 320l3 2 4-7 4-10 4 4 4-1 4 7 4-6 4 1 4 4 4 6 4-3 4 2 4-4 4 4 4-5 4-7 4 7 4-2 4 3 4 8 4-3 3-2 4 1 4 3 4-6 4 7 4-11 4 1 4 8 4-8 4 9 4-5 4 2 4-4 4 4 4-9 4 6 4-2 4 4 4-4 4-5 4 6 3-7 4 5 4 2 4-1 4 1 4 0 4 3 4-6 4 9 4-1 4 5 4-12 4-4 4-5 4 7 4 6 4 4 4 7 4-5 4-2 4 3 3-6 4-3 4 2 4 1 4-1 4-11 4 15 4 1 4-4 4-4 4-3 4 6 4-2 4 5 4-1 4 2 4-7 4 4 4-3 4 9 4-3 3 2 4 3 4-11 4-1 4-2 4-8 4 7 4 5 4-4 4 8 4 2 4-7 4 6 4-1 4-13 4 6 4 6 4 3 4-14 4 14 4-6 3 5 4-3 4 2 4-9 4 3 4-2 4-3 4 1 4-1 4 15 4 1 4 2 4-9 4 0 4 1 4-12 4 9 4-2 4 4 4 4 4-10 3-4 4 7 4 5 4-1 4-4 4-1 4 5 4-6 4 0 4 3 4 2 4-2 4 10 4-16 4 1 4-2 4 8 4-3 4 0 4 4 4-2 3-1 4 3 4 7 4-8 4-12 4 4 4 4 4-5 4 5 4 6 4-1 4-2 4 0 4 4 4-2 4-5 4 7 4 8 4-10 4-6 4 1 3-3 4 5 4-5 4 3 4-3 4 3 4 5 4 0 4-6 4 1 4-4 4 4 4-7 4 6 4-5 4 0 4 9 4-5 4 0 4 6 4-8 3 4" stroke="#26b800"/>
<path d="M1198 341l3 1 4 0 4-8 4 7 4 2 4-3 4 3 4-13 4 6 4-8 4 11 4-5 4-1 4 8 4-15 4 5 4 0 4 4 4 1 4 6 4-6 3 0 4-1 4-4 4 11 4 1 4-8 4-2 4 3 4-1 4 3 4 1 4-10 4 9 4 4 4-7 4-3 4 3 4 1 4-3 4 1 4-1 3 1 4-1 4 9 4-6 4-5 4-5 4 14 4-5 4 1 4 0 4 0 4-9 4 8 4 6 4-2 4-11 4 9 4 2 4-5 4 1 4 1 3-7 4 1 4 7 4-3 4 8 4 4 4-3 4-13 4 4 4 0 4-2 4-7 4 11 4-9 4 4 4-2 4 6 4 2 4 7 4 4 4-8 3-3 4 1 4 0 4-4 4 11 4-2 4-13 4 1 4-3 4 3 4 4 4-4 4 5 4 5 4-1 4-5 4-1 4-5 4 5 4 4 4 0 3 11 4-3 4-11 4-2 4-2 4 9 4-5 4 5 4 0 4 7 4-6 4-2 4-10 4 8 4-4 4-1 4 7 4-4 4 4 4-5 4-8 3 8 4 9 4-1 4-2 4-4 4-2 4-6 4 8 4 2 4-8 4 3 4-3 4 9 4-3 4-7 4 0 4 7 4 5 4-5 4-6 4-6 3 12 4 3 4-5 4 3 4 10 4-5 4-3 4-2 4 0 4-1 4 0 4 5 4-3 4-7 4 8 4-5 4-3 4-8 4 14 4 1 4 5 3 4 4-16 4-6 4 4 4 7 4-9 4-4 4 11 4-8 4 1 4 12 4 5 4-5 4 0 4-8 4 0 4 0 4 2 4 3 4-5 4 4 3-5" stroke="#ff2d2d"/>
<path d="M1198 378l3 4 4 0 4-1 4 2 4 0 4-1 4 1 4-6 4 2 4-2 4 0 4 0 4 7 4-5 4 0 4 0 4 2 4-4 4 1 4 5 4 0 3-3 4 3 4-3 4-2 4-1 4 0 4 1 4 1 4-2 4 8 4-4 4 1 4 0 4-2 4-2 4 1 4 2 4-2 4 1 4-1 4 5 3-4 4 0 4-4 4-1 4 5 4 0 4-1 4 0 4-1 4-3 4 2 4 1 4 6 4 2 4-11 4 4 4 0 4-3 4 3 4-5 4 5 3-4 4 1 4 2 4 2 4-5 4 4 4 3 4-4 4 1 4 3 4-4 4-1 4 3 4-1 4-4 4 6 4-2 4 6 4-3 4-4 4 3 3 2 4-2 4 1 4-2 4 0 4 3 4-2 4 0 4 2 4-3 4 2 4-6 4 4 4-3 4 0 4 1 4 1 4-1 4 5 4-1 4 0 3 0 4-4 4-1 4 2 4 0 4 0 4 3 4-1 4-4 4 1 4-1 4-5 4 4 4-1 4 2 4-2 4 5 4-2 4 0 4 1 4-2 3-2 4 4 4 0 4-3 4 4 4 1 4-6 4 1 4 0 4 4 4-4 4 4 4-3 4 4 4-2 4-2 4 0 4 1 4-2 4 3 4 0 3 1 4 0 4-3 4 4 4-3 4 4 4 1 4-6 4 2 4 1 4-1 4-1 4-1 4 2 4-2 4 3 4-2 4-3 4 3 4 0 4 1 3-1 4 0 4-1 4 0 4 4 4-2 4 2 4-5 4 0 4 3 4-2 4 1 4 1 4-4 4 5 4-2 4 2 4 6 4-6 4-4 4 0 3 5" stroke="#4499d8"/>
<path d="M1198 334l3-4 4-3 4 1 4-7 4 5 4 5 4 2 4-4 4 18 4-5 4-5 4-6 4-7 4-3 4 7 4-2 4 2 4 13 4-4 4-3 4 5 3-2 4-7 4-1 4 5 4 2 4 2 4 0 4-7 4 2 4 5 4 4 4-4 4-12 4-2 4 14 4-11 4 8 4 4 4-12 4-1 4 6 3 5 4-3 4-3 4 3 4 1 4-4 4 4 4 7 4-10 4 5 4-1 4 1 4 1 4-13 4 10 4 2 4-3 4 0 4 1 4 8 4-3 3-13 4 6 4 7 4-9 4 6 4-3 4 5 4-3 4 5 4-10 4-3 4 5 4-6 4-1 4 16 4-10 4 9 4-5 4-2 4-1 4 1 3 0 4 0 4-3 4-2 4-2 4-3 4 6 4 1 4 10 4 0 4-13 4-4 4 6 4-1 4-7 4 0 4 12 4-9 4 2 4 7 4 12 3-11 4-8 4 4 4 0 4-4 4 7 4-3 4 3 4-2 4 1 4 5 4-10 4 14 4 1 4-1 4-4 4 0 4-1 4-3 4 0 4-3 3 5 4 2 4-4 4-11 4 4 4 9 4-8 4-1 4 2 4 7 4-6 4 0 4 10 4-8 4-6 4 9 4 1 4-2 4-6 4-5 4 7 3 0 4 2 4-2 4 4 4 4 4-9 4 10 4-8 4 14 4-15 4 7 4-4 4 3 4 2 4-5 4 4 4 1 4-9 4 9 4-4 4-6 3 5 4 9 4-6 4-6 4 4 4 2 4-7 4-4 4-5 4 10 4 2 4 4 4 5 4-4 4-2 4-13 4 0 4 4 4 6 4-2 4 6 3-5" stroke="#26b800"/>
<path d="M1198 340l3-1 4-7 4 10 4 0 4 11 4-13 4 13 4-7 4-4 4-2 4 3 4 2 4 8 4-12 4-2 4-6 4 8 4 2 4 2 4 0 4-13 3 7 4-5 4 4 4 7 4 1 4 9 4-7 4-5 4-6 4-1 4 0 4 6 4 1 4 5 4-4 4 0 4-8 4-1 4 6 4 7 4-10 3 1 4 9 4-3 4-1 4-1 4-1 4-2 4 2 4 5 4 0 4-4 4 1 4 3 4-5 4 0 4 7 4-5 4-4 4 5 4-3 4-4 3 1 4 4 4 4 4-18 4 2 4 15 4-8 4 8 4 2 4 3 4-7 4 6 4-2 4-4 4-10 4 12 4 5 4-11 4-3 4 8 4 0 3 3 4-7 4 14 4-7 4 3 4-9 4 2 4 4 4-9 4-2 4 1 4-3 4 8 4-5 4 1 4 1 4-6 4-1 4 6 4 6 4 1 3 2 4-2 4-1 4-5 4 4 4-3 4 8 4-1 4-6 4 1 4-3 4-4 4-3 4 7 4 6 4 0 4 1 4 0 4-3 4-14 4 1 3 5 4 1 4-3 4 12 4-12 4 5 4 3 4-3 4 2 4-6 4 0 4 1 4 7 4 0 4-7 4 5 4-4 4 8 4-3 4-6 4 6 3-3 4-6 4 11 4 0 4 5 4-3 4 0 4-2 4 9 4-5 4-12 4-3 4 10 4-4 4 1 4-2 4 2 4-10 4 1 4 5 4 5 3 6 4-10 4 3 4 1 4 2 4-14 4 4 4 11 4-8 4 6 4 2 4 1 4 3 4 1 4-7 4-4 4-2 4 2 4 6 4-3 4 5 3-1" stroke="#0068e0"/>
<path d="M1198 314l3-1 4 5 4-2 4 11 4-10 4 3 4-1 4 3 4-2 4 3 4 0 4-14 4 8 4-3 4 1 4-1 4-3 4 3 4 1 4-2 4 2 3-10 4 8 4 4 4-2 4-3 4-6 4 8 4 9 4-11 4 5 4-2 4 1 4-2 4 1 4-3 4 7 4-4 4-4 4 12 4-1 4-11 3 0 4 7 4-4 4 2 4 4 4 2 4-8 4 5 4 1 4-5 4 0 4 1 4 4 4-12 4 14 4-6 4-1 4 3 4 2 4-6 4 4 3-1 4-18 4 8 4 2 4 3 4 1 4 4 4 6 4-11 4 7 4-8 4 10 4-1 4-9 4 3 4-1 4 0 4 0 4-9 4 11 4-1 3 10 4-2 4-8 4-2 4 1 4-1 4 3 4-1 4-7 4 7 4-7 4 8 4 12 4 0 4-8 4-1 4 0 4-7 4 3 4 3 4 3 3 0 4-2 4-4 4-5 4 2 4 1 4-6 4 6 4 1 4 12 4-11 4-2 4 7 4 2 4-7 4 2 4 7 4-2 4-5 4-3 4 2 3-5 4-2 4 10 4 5 4-4 4-2 4-2 4-2 4-6 4 6 4 3 4-3 4 9 4-5 4 0 4 5 4-4 4-7 4 3 4 9 4-3 3-2 4-3 4 0 4-5 4 3 4 7 4-6 4-1 4 1 4-4 4-4 4 1 4-2 4 4 4 1 4 2 4 7 4-6 4 5 4 0 4 1 3 5 4 1 4-10 4 9 4-6 4-4 4 0 4 4 4 4 4-5 4 1 4-4 4-1 4-2 4 5 4 10 4-8 4-4 4 4 4-6 4 2 3 2" stroke="#c67aea"/>
<path d="M1198 348l3 1 4 5 4-5 4 2 4-6 4 3 4-8 4-7 4 17 4-3 4 5 4-4 4 1 4 5 4 0 4-6 4 6 4-8 4-8 4 2 4 0 3 17 4-8 4-6 4-5 4 9 4-5 4 7 4-3 4 5 4-2 4 2 4-3 4-4 4 3 4 0 4-1 4 0 4 3 4 11 4-6 4 9 3-10 4 4 4-7 4 4 4 0 4-3 4-11 4 10 4-3 4 7 4-4 4 2 4-8 4 0 4 3 4 1 4 1 4-2 4-5 4 4 4-3 3 7 4 6 4-9 4-2 4 8 4-2 4-2 4-5 4-1 4 8 4-5 4 3 4 5 4 3 4-10 4-3 4 1 4-1 4 2 4 9 4 4 3-12 4-4 4 6 4 6 4-4 4 5 4-1 4-4 4-7 4 1 4-1 4 3 4 7 4-3 4 10 4 1 4-14 4-2 4 4 4-2 4 3 3 2 4-4 4-3 4 2 4-2 4 1 4-4 4 5 4-7 4 12 4-8 4 2 4 5 4 0 4-10 4 8 4 9 4-12 4-2 4 4 4 4 3-4 4-8 4 6 4-3 4 3 4-4 4 6 4-4 4 12 4-7 4-2 4-3 4 4 4 1 4-1 4-6 4 7 4-1 4 7 4 2 4-8 3-2 4-6 4 13 4-2 4-1 4 2 4-4 4-1 4 3 4-1 4 6 4-5 4 2 4 4 4 3 4-2 4-5 4 2 4-8 4 2 4 7 3 4 4-9 4-6 4 13 4-16 4 20 4-11 4-5 4 0 4 5 4-5 4 8 4-2 4-1 4-2 4 1 4-6 4 1 4 6 4 15 4-8 3-5" stroke="#ff2d2d"/>
<path d="M1198 312l3 4 4-5 4-2 4 4 4-1 4 12 4-11 4 3 4-2 4-3 4 4 4 0 4-6 4 5 4-2 4-10 4 6 4-5 4-2 4 12 4-1 3 2 4-2 4-3 4-2 4 6 4-2 4 2 4-6 4 5 4 5 4 2 4-8 4 4 4-1 4-13 4 6 4 8 4 0 4 0 4-10 4 8 3-5 4-7 4 6 4 3 4 1 4-6 4 17 4-12 4-2 4 0 4 10 4-3 4 3 4-9 4-1 4 2 4 7 4 0 4 5 4-4 4-8 3-4 4-1 4 10 4 0 4 1 4-3 4 12 4-3 4 2 4-8 4-8 4 0 4 3 4-1 4 0 4-2 4 4 4-2 4 3 4-8 4 1 3 5 4 2 4-3 4 6 4 1 4-2 4-2 4-3 4 4 4 10 4-13 4 0 4-9 4 10 4-2 4 10 4-10 4-7 4 5 4 8 4 7 3-11 4 1 4-3 4 0 4 7 4 3 4-4 4-7 4 2 4 9 4-3 4-9 4 4 4 6 4-5 4-3 4 1 4 12 4-12 4-4 4 11 3-7 4 6 4-5 4 6 4-2 4-7 4-4 4 3 4 0 4-2 4 9 4-6 4-6 4 5 4 8 4-5 4 6 4-3 4-4 4-1 4 10 3-2 4-6 4 5 4-1 4-3 4 8 4-1 4-4 4 5 4-12 4 2 4 2 4 0 4 0 4 1 4 3 4-5 4 0 4 6 4 2 4 2 3-11 4-4 4 13 4-12 4 1 4 5 4-9 4 6 4 0 4 6 4 1 4-4 4-2 4-6 4 2 4 12 4 1 4-13 4 3 4 6 4-7 3 12" stroke="#0068e0"/>
<path d="M1198 326l3-3 4 0 4-2 4 8 4-6 4-4 4 5 4 5 4 1 4-8 4 4 4 5 4-7 4-3 4 5 4-4 4 2 4-8 4 9 4-8 4 10 3-4 4-3 4 7 4 2 4-11 4 6 4 11 4-10 4-3 4-1 4 0 4 2 4 2 4 3 4 4 4 1 4-8 4-7 4 3 4-2 4-7 3 0 4 3 4 11 4-7 4 4 4-4 4-1 4-7 4 5 4 0 4 5 4 1 4-4 4 11 4-5 4 4 4-4 4 7 4-4 4 3 4-4 3-1 4 0 4-5 4 0 4 6 4 1 4-10 4 5 4-2 4-2 4 10 4-4 4-1 4-3 4 3 4 1 4 1 4-2 4 2 4-10 4 4 3-2 4 3 4-2 4-2 4 1 4 7 4 0 4-2 4-4 4 5 4 4 4-5 4 8 4-13 4 1 4 4 4 2 4 6 4-6 4 1 4 4 3-5 4-4 4 12 4-14 4 6 4-3 4-3 4 11 4-1 4-4 4-1 4-2 4-3 4 3 4 3 4 2 4-3 4 4 4-2 4 1 4-2 3-2 4-1 4-7 4 16 4-3 4 4 4-7 4 7 4-13 4 4 4 0 4 0 4 6 4-11 4-6 4 2 4 6 4-5 4 17 4-8 4-1 3-5 4 10 4-6 4 1 4-6 4 2 4 1 4 10 4-5 4-7 4 0 4 4 4-1 4 1 4 5 4-3 4-5 4 2 4 8 4 0 4-6 3 1 4 5 4-2 4-9 4 8 4 0 4 4 4-3 4-7 4 10 4 0 4-7 4-6 4 4 4 9 4-7 4-5 4 1 4 1 4 1 4-7 3 1" stroke="#969100"/>
<path d="M1198 356l3-5 4 2 4-2 4-5 4-2 4 7 4-2 4 8 4-6 4 4 4 1 4-2 4 3 4-9 4 4 4-5 4 12 4-4 4-4 4 1 4-13 3 10 4 6 4 4 4-14 4 7 4 0 4-3 4-4 4 5 4-10 4 1 4 6 4 10 4-4 4 1 4-1 4 4 4-10 4 5 4-9 4-5 3 15 4 1 4 1 4-9 4 11 4 7 4-7 4-8 4 2 4 3 4-6 4 4 4 2 4-4 4-2 4 3 4 10 4 0 4-1 4-7 4 10 3-10 4-15 4 11 4-1 4 4 4 5 4-1 4-3 4 4 4 3 4-7 4 1 4 7 4-8 4-2 4-6 4 4 4 7 4 6 4-4 4-6 3 4 4 3 4-7 4 11 4-11 4-10 4 15 4-6 4 4 4 8 4-8 4-2 4-3 4 1 4-3 4 3 4 0 4 2 4-1 4 6 4-9 3 1 4 5 4-5 4 7 4-9 4-2 4 7 4-1 4-3 4 3 4-2 4 5 4 1 4-2 4-1 4 6 4-10 4-1 4 8 4-4 4-7 3-3 4 3 4 2 4-6 4 9 4-3 4-3 4 6 4 2 4 2 4-4 4 3 4 4 4-2 4 2 4-2 4-1 4-6 4 10 4 2 4 0 3-11 4-3 4-2 4 12 4-2 4-3 4 10 4-6 4 9 4-8 4-3 4-6 4 15 4 3 4-11 4 17 4-11 4-11 4 4 4-2 4 5 3 8 4-1 4-10 4-1 4-1 4-1 4 4 4-7 4-7 4 12 4-5 4 4 4 1 4 3 4 4 4-12 4 11 4-12 4 8 4 7 4-1 3-1" stroke="#0068e0"/>
<path d="M1198 323l3-6 4 0 4 11 4-5 4 8 4-4 4-9 4-8 4 10 4-5 4 2 4-4 4 6 4-5 4 9 4-2 4 3 4-9 4 5 4 0 4 5 3-5 4-1 4-4 4 7 4-1 4-1 4-9 4-1 4 8 4-2 4 9 4 0 4-2 4 5 4-3 4-3 4 3 4 5 4-6 4-4 4 7 3-7 4-2 4 7 4-12 4 6 4 6 4 2 4-11 4 4 4 8 4-10 4 12 4-11 4-1 4 2 4 0 4 4 4-8 4 12 4 3 4-8 3-2 4-2 4-4 4 8 4 2 4-6 4 0 4-3 4-3 4 9 4 6 4-1 4-6 4-10 4 7 4-7 4 8 4 6 4-4 4 6 4-7 3 6 4-2 4 3 4-3 4 2 4-4 4-4 4 2 4 6 4-5 4 1 4-7 4 6 4-1 4 4 4-6 4 1 4-7 4 8 4-3 4 12 3-10 4 8 4 5 4-6 4-2 4 1 4 6 4-5 4-3 4 5 4 1 4-2 4 1 4 6 4-11 4-5 4 6 4-4 4-1 4-5 4 13 3-2 4-4 4 4 4 3 4-6 4 0 4 1 4-2 4-2 4 7 4 1 4-7 4 9 4 0 4-7 4 0 4 4 4 2 4-3 4 4 4 0 3-5 4 3 4 2 4-13 4-1 4 4 4 2 4 11 4-8 4 12 4-10 4-6 4 0 4 2 4 0 4 5 4-1 4-5 4 8 4-2 4 2 3 8 4-13 4 2 4 1 4-2 4 5 4 4 4-6 4 1 4-5 4 1 4-9 4 4 4-2 4-3 4 4 4 17 4-9 4 6 4-10 4-1 3 7" stroke="#ff2d2d"/>
<path d="M1198 333l3 7 4-19 4 6 4 8 4-13 4 1 4 3 4-2 4 0 4 3 4 2 4 0 4-2 4-7 4 3 4 5 4-16 4 14 4 3 4-5 4 7 3 1 4-4 4-4 4 4 4 6 4-6 4-15 4 10 4 4 4-6 4 0 4 4 4 3 4-6 4 3 4 4 4 8 4-4 4-2 4-3 4 2 3-4 4 2 4-7 4 5 4-1 4 0 4 4 4-3 4-4 4-1 4 2 4 1 4 7 4 1 4-3 4-2 4-11 4 3 4 11 4-6 4-3 3 5 4 6 4 4 4 2 4-16 4 1 4-7 4 17 4-9 4 3 4-2 4 7 4-2 4-3 4-4 4 6 4-3 4 14 4-18 4 0 4-7 3 9 4 6 4-5 4 2 4 9 4-7 4-1 4-14 4 11 4 7 4 5 4-12 4 10 4 1 4-9 4-5 4 3 4 8 4-3 4 8 4-6 3-7 4 9 4 0 4-5 4-2 4 2 4-7 4 2 4-3 4 14 4 0 4-2 4 1 4-8 4-3 4 0 4-1 4-5 4 3 4 6 4-2 3 14 4-6 4-8 4 5 4 3 4-2 4 1 4-6 4 4 4-8 4-1 4 9 4-1 4-3 4-4 4 2 4 9 4-3 4 1 4-7 4-5 3 0 4 8 4-4 4 1 4 8 4 5 4-2 4 0 4 0 4-6 4-6 4 2 4-9 4 9 4 2 4 5 4-8 4 4 4 8 4-9 4 12 3-14 4-5 4 5 4 8 4-9 4 7 4 8 4-8 4-4 4-4 4 10 4-5 4 1 4 2 4 0 4 3 4 7 4-1 4-7 4-4 4 7 3-9" stroke="#969100"/>
<path d="M1198 321l3 1 4 8 4 0 4 1 4 1 4 1 4-3 4-11 4 7 4 0 4-6 4 7 4-6 4-2 4 1 4-2 4 6 4 7 4-7 4-3 4 8 3-5 4 0 4-3 4 8 4-11 4-2 4 3 4 6 4 3 4-1 4-5 4 8 4 0 4-5 4 6 4-12 4 1 4 6 4 13 4-7 4-7 3 5 4 1 4-9 4-2 4-2 4 5 4 6 4 6 4-2 4 3 4-8 4-8 4 3 4 2 4 1 4-5 4 4 4 10 4 0 4 2 4-14 3 0 4 8 4-8 4-5 4 1 4 0 4 4 4 1 4 4 4-1 4 4 4-6 4 2 4-3 4 5 4-6 4 2 4-2 4-4 4 2 4 6 3-3 4 7 4-9 4-5 4 5 4 10 4-6 4 1 4-4 4 3 4 1 4-8 4 1 4 0 4 2 4 4 4-3 4 0 4 2 4 0 4 4 3 1 4-4 4 7 4 1 4-5 4 0 4-3 4 12 4-12 4-4 4 2 4-6 4 5 4 1 4 1 4 4 4-1 4-1 4 2 4 7 4-13 3-5 4 11 4-1 4-7 4 1 4 8 4-6 4 10 4-4 4-12 4 12 4-2 4 0 4-3 4-5 4-10 4 16 4-6 4-3 4-1 4 10 3 6 4-3 4-8 4 1 4 0 4 10 4 1 4 7 4-5 4-4 4 5 4-6 4-4 4 9 4-7 4 1 4-2 4 5 4-5 4 4 4-5 3-2 4 3 4 0 4-5 4-6 4 7 4 5 4 6 4-3 4-10 4 4 4-2 4-4 4 7 4-7 4-1 4 3 4-2 4 7 4 1 4 2 3-5" stroke="#0068e0"/>
<path d="M1198 323l3-7 4 6 4-4 4 0 4-3 4 1 4 4 4-3 4 5 4-4 4 1 4-3 4 4 4 6 4-10 4 2 4 7 4-3 4 1 4 0 4-1 3 5 4 0 4-9 4-5 4 2 4 1 4 6 4 0 4-4 4-2 4-1 4 3 4 1 4 2 4 8 4-9 4-3 4-2 4-1 4 10 4 2 3-5 4 2 4 1 4-5 4-6 4 6 4-2 4 3 4-4 4 7 4-1 4 2 4-5 4 10 4-5 4-3 4-3 4 5 4-3 4-3 4 5 3-2 4 1 4-4 4-1 4-3 4 3 4 7 4-5 4 1 4-1 4 1 4-5 4 3 4 0 4 10 4-6 4-2 4 7 4-4 4-2 4 4 3-1 4-1 4 0 4 1 4-5 4-3 4 1 4 3 4 8 4-7 4 0 4 1 4 1 4-2 4-9 4 3 4 3 4-1 4 6 4 7 4-2 3-5 4-5 4 5 4-4 4-4 4 4 4 6 4-6 4 6 4-1 4-4 4 6 4-9 4 8 4-4 4-1 4-2 4 1 4 2 4 7 4-5 3 4 4-8 4 3 4 2 4-1 4-2 4 6 4-9 4-3 4 0 4 0 4 3 4 4 4 2 4 0 4-3 4 8 4-9 4 8 4-3 4-3 3 3 4-2 4 9 4-7 4-4 4-6 4 7 4-2 4-6 4 4 4 8 4-4 4 0 4 2 4-1 4-1 4 3 4 0 4-1 4 1 4-6 3 5 4 0 4-2 4-2 4-2 4-4 4 2 4 0 4 8 4-4 4 8 4-6 4-6 4 5 4-3 4 3 4-4 4 8 4-8 4-2 4 0 3 2" stroke="#00c8d8"/>
<path d="M1198 322l3 0 4 5 4 3 4-4 4-6 4 6 4-6 4 4 4 2 4-1 4-4 4 6 4 3 4 2 4-2 4 1 4-1 4-9 4 1 4 8 4-3 3 5 4-7 4 8 4-6 4 8 4 0 4-12 4 5 4 3 4 2 4-14 4 2 4 3 4 0 4 4 4-3 4 1 4 5 4-1 4 0 4 13 3-5 4-5 4-6 4-7 4 1 4-2 4 13 4-9 4 0 4 12 4-5 4-8 4 4 4 1 4-5 4 8 4 1 4 5 4-7 4-1 4-5 3-1 4 0 4 1 4 6 4-2 4-7 4 11 4-9 4-2 4 5 4 4 4 5 4-9 4-6 4 6 4 13 4-1 4-15 4 0 4 2 4-10 3 14 4 3 4-3 4-1 4 6 4-4 4 0 4 6 4-4 4-8 4-4 4 2 4-1 4-5 4 0 4 15 4-14 4 7 4 6 4 0 4 0 3-4 4-4 4-6 4 12 4 0 4 4 4-2 4 2 4-9 4 1 4 0 4-3 4 3 4 0 4 2 4 0 4-1 4-5 4-4 4 8 4 1 3 2 4 4 4-8 4-4 4 0 4 8 4-1 4-9 4 5 4 11 4-7 4 11 4-11 4 3 4-6 4 7 4 2 4-1 4-7 4 11 4-4 3-5 4 0 4-1 4-4 4 1 4 7 4-10 4-10 4 6 4 1 4 11 4 2 4-2 4-1 4 1 4-3 4-1 4-4 4 10 4-3 4 2 3 2 4 3 4-8 4-2 4-5 4 2 4 5 4-1 4-5 4 7 4 5 4 5 4-5 4-8 4 3 4 2 4 1 4 3 4-7 4-4 4 6 3-1" stroke="#0068e0"/>
<path d="M1198 378l3 3 4 0 4-5 4-1 4-1 4 1 4 1 4 3 4-1 4 0 4 1 4-1 4 2 4 1 4-3 4-1 4 2 4-3 4 3 4 0 4-1 3-2 4-1 4 3 4 3 4-8 4 5 4-4 4 6 4-2 4-2 4 4 4-2 4 1 4 0 4-2 4 4 4-2 4 3 4-5 4-2 4 2 3 2 4 2 4-1 4 2 4-4 4-1 4 1 4-1 4 0 4-2 4 2 4 0 4 0 4 2 4-2 4-6 4 1 4 1 4 2 4 0 4 0 3 6 4-1 4-5 4-1 4 3 4 0 4 0 4-2 4 3 4-2 4 2 4 3 4-6 4 1 4-1 4-2 4 6 4-1 4-1 4 0 4-4 3 6 4-4 4 5 4-3 4 0 4-1 4 0 4 4 4-5 4-2 4-3 4 6 4 4 4 0 4-1 4-5 4 4 4-3 4 5 4-1 4-3 3-1 4 4 4-3 4-3 4 7 4 0 4-2 4-1 4 0 4-2 4 5 4-1 4-5 4 1 4 2 4 1 4-2 4 0 4 3 4-1 4 1 3-2 4-1 4 3 4 0 4-2 4-1 4 1 4 1 4 0 4-2 4 6 4-5 4 4 4-3 4-3 4 6 4-1 4 0 4-1 4-1 4 3 3-5 4 6 4-2 4-3 4 0 4 1 4 2 4-2 4 3 4-7 4 4 4-1 4 1 4-3 4-2 4 3 4 3 4 0 4 0 4-5 4 1 3 2 4 2 4 2 4-2 4 3 4-7 4 3 4-2 4 3 4 1 4 3 4-4 4-1 4-6 4 7 4-1 4 3 4-3 4 0 4-1 4 2 3-1" stroke="#dd9900"/>
<path d="M1198 318l3 5 4-10 4 2 4 0 4-2 4-1 4-3 4 5 4 10 4-1 4-14 4-5 4 2 4 3 4-6 4 5 4 10 4-3 4 5 4-5 4 0 3-3 4 2 4 3 4-4 4 1 4 3 4-8 4 3 4 3 4-5 4 3 4-5 4-6 4 8 4 6 4 1 4 6 4-6 4-5 4 2 4 0 3-6 4-2 4 7 4 5 4 0 4-6 4 1 4-5 4 6 4 5 4-1 4-5 4-2 4-1 4 6 4-10 4 3 4 7 4-10 4 2 4 5 3 6 4-3 4-11 4 7 4 2 4 0 4 3 4-3 4-7 4-3 4 4 4-1 4 11 4 0 4-9 4-2 4 9 4 2 4-7 4 4 4-8 3 3 4-8 4 1 4 7 4 1 4 11 4-16 4-8 4 7 4 8 4 2 4-8 4 4 4 0 4 4 4 2 4-1 4-6 4-14 4 4 4 12 3-1 4 9 4-3 4 1 4-3 4-4 4-4 4 6 4 4 4 1 4-2 4 3 4 1 4-10 4-1 4-2 4 0 4 3 4 1 4-16 4 7 3 7 4-2 4 3 4 6 4-6 4-4 4 5 4 1 4-2 4-10 4 9 4 3 4-3 4 3 4 0 4-2 4 0 4-6 4 2 4-4 4 0 3 8 4 0 4 3 4 0 4 0 4-8 4 11 4 1 4 4 4-2 4-9 4 4 4-4 4 10 4-14 4 3 4-3 4 2 4 12 4-7 4 11 3-5 4-4 4-2 4-1 4-2 4 0 4-4 4-4 4 7 4 0 4-13 4-1 4 14 4-1 4-2 4 3 4-7 4 6 4-11 4 3 4 11 3 0" stroke="#c67aea"/>
<path d="M1198 333l3-5 4 12 4 0 4-4 4 3 4 0 4 1 4-9 4-1 4 0 4 6 4 0 4-9 4 5 4-1 4-8 4 2 4-1 4 1 4 4 4 0 3 6 4 2 4 0 4-5 4-5 4 7 4-2 4 4 4-6 4 3 4-10 4-6 4 5 4 2 4 14 4-3 4-3 4 4 4-4 4-3 4-7 3 5 4-2 4 6 4-6 4 5 4-4 4 13 4-7 4 10 4-15 4 5 4 10 4-11 4 1 4 4 4-1 4-2 4-2 4 1 4-4 4 1 3 7 4 5 4 3 4-6 4-9 4-4 4-4 4 4 4-3 4 6 4-3 4 13 4-4 4 7 4-2 4-1 4-9 4 0 4-4 4 5 4-3 3 6 4 2 4 0 4-2 4-9 4 7 4 4 4 1 4-1 4-3 4 1 4 4 4-5 4-2 4 3 4 1 4 7 4-6 4-6 4 8 4 12 3-8 4-4 4-7 4-5 4 2 4-4 4 5 4 8 4-3 4-4 4 0 4 1 4 6 4-6 4 5 4 7 4-6 4-11 4 6 4-8 4 12 3-1 4-4 4-5 4 2 4 9 4 0 4 4 4-14 4 7 4-2 4-3 4 2 4 2 4-1 4-4 4-3 4-4 4 8 4 7 4-8 4 1 3 4 4 1 4-3 4 4 4-2 4 12 4-11 4-13 4 7 4 6 4 8 4-2 4-5 4 4 4-1 4-10 4-5 4 0 4 12 4 2 4-1 3 2 4-9 4-4 4 2 4 5 4 2 4-9 4 9 4-7 4 2 4 5 4-11 4 1 4 2 4-2 4 3 4-2 4 6 4 10 4-7 4-4 3-2" stroke="#994a52"/>
<path d="M1198 315l3 8 4-6 4 3 4-11 4 3 4-4 4 2 4 6 4-3 4 3 4-4 4 7 4 1 4-2 4-6 4 0 4-1 4 6 4-4 4 8 4-9 3-1 4 6 4-2 4-4 4 3 4 2 4 2 4-1 4-5 4 0 4-7 4 9 4 6 4-7 4 1 4 4 4-5 4-5 4 6 4 1 4 0 3 2 4-10 4 7 4-2 4 1 4 9 4-5 4 7 4-8 4-6 4-8 4 12 4-3 4 2 4 1 4 0 4-2 4 1 4 6 4-7 4 6 3 2 4 5 4-4 4-5 4 4 4-11 4 7 4-1 4-6 4-3 4-3 4 6 4-6 4 4 4-1 4 2 4 8 4-2 4 0 4 5 4-3 3-1 4-4 4 6 4 4 4-4 4 3 4-17 4 3 4 3 4-2 4 9 4-2 4 0 4-1 4 0 4-3 4 2 4 5 4-3 4 0 4 3 3-7 4-7 4 4 4 4 4 2 4 4 4-1 4-5 4-4 4 0 4 6 4 0 4 11 4-13 4 9 4 4 4 0 4-4 4 4 4-2 4 4 3-8 4 1 4-7 4 0 4 0 4-4 4 2 4 4 4-2 4 2 4 2 4 7 4-3 4-1 4-4 4-2 4-2 4 1 4-7 4 7 4 2 3 0 4 2 4 1 4 0 4-1 4-1 4-5 4 6 4 1 4-2 4 2 4 0 4-4 4-1 4-1 4 8 4-5 4 9 4-11 4 6 4-7 3 2 4-2 4 6 4-1 4-8 4 13 4-11 4-1 4 5 4-2 4 5 4-4 4 6 4 0 4 1 4-4 4 1 4-1 4 0 4-1 4-4 3 4" stroke="#c67aea"/>
<path d="M1198 315l3 3 4-5 4-9 4 4 4 4 4 7 4-7 4 2 4-1 4 6 4-3 4-6 4-3 4-2 4 6 4 0 4 4 4 3 4-3 4-3 4 2 3-3 4 1 4 0 4 5 4 0 4-8 4 2 4-2 4 1 4 0 4-2 4 5 4 3 4 1 4-3 4 0 4-2 4-3 4-4 4 0 4 1 3 9 4-6 4 2 4 1 4-2 4 2 4-3 4 3 4-1 4-1 4-2 4 3 4 5 4-8 4 5 4 3 4-8 4 2 4 2 4-2 4 2 3 4 4-5 4-2 4-4 4-3 4 3 4 5 4-2 4 3 4 0 4-3 4-3 4 10 4 5 4-3 4-5 4-3 4-2 4-4 4 6 4 4 3-5 4 10 4-7 4 5 4-4 4-5 4 1 4 5 4-1 4 4 4-2 4 6 4-5 4-6 4-1 4-1 4 1 4 0 4 0 4-6 4 9 3 1 4 2 4 0 4 0 4-5 4-1 4-4 4 7 4 1 4 4 4-4 4 5 4-1 4-5 4-7 4 3 4 4 4 0 4 7 4-8 4 0 3 1 4-4 4 2 4 1 4-1 4 1 4 1 4-5 4 1 4 1 4 11 4-9 4 0 4-1 4 1 4 6 4 0 4 0 4 3 4-10 4-2 3 5 4 3 4 5 4-10 4-5 4 7 4 1 4 0 4-3 4-2 4 3 4 0 4 3 4-6 4 2 4 13 4-5 4-6 4 5 4-2 4 3 3-4 4-5 4 4 4-4 4 3 4-3 4 2 4 1 4 2 4-4 4 6 4 1 4-4 4 10 4-17 4 7 4-1 4-7 4 8 4 2 4 0 3-5" stroke="#00c8d8"/>
<path d="M1198 311l3 16 4-5 4-3 4 6 4-3 4-3 4-7 4 11 4 7 4-1 4-7 4-11 4 2 4 9 4 6 4-1 4-10 4 3 4 11 4-12 4 11 3 0 4-5 4 0 4 4 4-5 4-11 4-2 4 7 4 11 4-6 4-7 4 9 4-2 4 2 4-6 4 8 4-4 4-8 4 5 4 2 4 1 3 4 4 7 4-4 4-10 4-7 4 7 4 0 4 4 4-6 4 4 4-4 4 5 4 6 4 2 4-11 4-5 4 7 4 1 4-12 4 11 4 2 3-4 4-1 4-4 4 6 4 5 4 1 4-11 4 11 4-1 4-5 4 6 4-12 4-2 4-2 4 7 4-4 4 7 4-1 4 3 4-5 4-3 3 9 4 7 4-10 4 1 4 1 4 9 4-5 4-2 4-10 4-3 4 2 4 2 4 0 4-5 4 16 4-6 4-10 4 3 4 7 4-1 4 3 3 3 4-5 4 0 4 0 4 1 4 0 4 2 4-2 4-6 4 2 4 0 4 1 4-2 4 8 4-7 4-2 4 4 4 3 4-1 4 4 4-2 3 11 4-6 4-9 4 7 4-4 4 4 4-5 4-7 4-2 4 5 4 0 4 2 4-1 4 12 4-11 4 0 4 8 4-2 4-14 4 10 4-7 3 1 4-2 4-7 4 15 4-5 4 4 4 1 4 0 4-7 4 10 4-3 4-1 4-1 4 1 4 3 4-14 4 7 4 6 4-10 4 0 4 9 3 8 4-3 4 5 4 0 4-5 4-9 4 6 4 4 4-7 4-3 4 1 4 9 4-9 4 0 4 6 4-10 4 4 4-5 4 11 4-4 4 3 3 2" stroke="#00c8d8"/>
<path d="M1198 345l3 4 4-9 4 1 4 6 4-4 4 5 4-4 4 2 4 2 4-1 4 1 4-3 4-4 4 6 4 4 4-5 4 3 4 4 4 2 4-14 4-1 3 5 4-5 4 1 4-12 4 13 4 6 4-11 4 2 4 2 4 2 4 7 4-8 4-3 4 2 4 9 4-1 4 1 4-2 4-5 4 8 4 2 3-12 4 8 4 5 4-1 4-5 4-5 4 8 4-11 4-1 4 1 4 7 4-6 4 10 4-6 4 3 4 2 4-1 4 0 4 4 4-1 4-8 3-1 4-1 4 1 4-5 4 19 4 9 4-17 4-12 4 0 4 1 4 8 4-9 4 8 4-1 4 7 4-3 4-3 4 5 4-12 4 2 4 4 3-12 4 7 4 0 4 4 4 0 4-4 4 9 4-4 4 9 4-13 4 0 4 1 4 2 4 3 4-2 4-3 4 7 4-1 4-6 4-4 4 9 3 0 4 0 4 9 4-13 4-1 4-3 4 2 4 2 4 0 4 9 4 2 4-4 4-5 4-2 4 11 4-8 4 6 4-4 4 0 4 4 4 1 3 5 4-9 4 1 4-1 4-11 4 5 4-2 4-1 4 5 4 3 4 1 4-9 4 2 4-1 4 3 4 3 4-10 4 12 4 10 4-14 4 6 3-6 4 5 4-10 4 4 4 4 4-6 4 4 4-2 4 4 4 0 4 5 4-8 4-2 4-1 4 9 4-3 4 6 4 2 4-9 4-4 4 0 3 4 4-7 4 15 4-4 4-3 4-8 4 7 4-3 4 2 4-8 4 11 4-8 4 8 4-5 4 2 4 4 4-2 4 2 4-10 4 4 4 2 3-3" stroke="#00c8d8"/>
<path d="M1198 304l3 13 4-10 4 7 4-5 4 3 4-2 4-7 4-4 4 3 4 2 4 6 4 0 4 5 4-9 4 0 4 1 4 7 4 1 4-15 4 5 4-6 3 2 4 1 4-4 4 6 4 6 4-9 4 7 4-2 4 0 4-4 4-5 4 6 4 4 4 1 4-3 4 2 4 0 4-3 4 2 4-1 4 1 3 6 4-4 4-6 4 7 4-6 4 10 4-1 4-11 4 5 4-1 4 1 4-8 4 5 4 1 4 2 4-1 4 1 4 3 4 0 4-5 4 1 3 1 4 1 4 0 4-4 4 0 4 8 4-2 4-4 4-2 4 0 4 1 4 1 4-4 4 9 4 5 4-8 4-7 4 5 4-1 4 3 4-7 3 5 4-2 4 7 4-1 4 4 4-7 4-3 4-1 4 1 4-7 4 4 4 12 4-5 4 5 4-13 4 7 4-1 4 6 4 4 4-12 4 5 3-1 4-4 4 3 4-4 4-1 4-1 4 0 4 8 4 1 4-4 4 6 4-6 4-6 4 0 4 2 4 0 4 3 4-1 4 4 4-4 4 2 3 3 4 4 4 1 4-5 4 0 4-1 4-3 4 1 4 2 4 3 4-3 4-5 4 2 4 1 4-7 4 7 4-1 4 1 4 5 4-10 4-2 3 1 4 5 4-7 4 6 4 4 4 1 4 3 4-1 4 1 4 0 4 0 4-8 4-9 4 6 4-2 4 4 4 0 4 0 4-4 4 5 4-1 3 6 4 0 4-6 4 1 4 5 4 0 4-3 4-3 4 3 4-2 4 3 4-5 4-3 4 12 4-8 4 2 4 2 4 3 4-4 4 1 4 2 3 0" stroke="#dd9900"/>
<path d="M1198 349l3-12 4 3 4-5 4 4 4 0 4 1 4 2 4-5 4 2 4-8 4 3 4-2 4 4 4 2 4 1 4 2 4 1 4-3 4 5 4-3 4-2 3 0 4-4 4-3 4-1 4 11 4-2 4 0 4 4 4 4 4-6 4 9 4-8 4 6 4-1 4 6 4-8 4-10 4 9 4 5 4-6 4 2 3-6 4-4 4 9 4-7 4 5 4-2 4 2 4-1 4-2 4-5 4 9 4-8 4 4 4 4 4-2 4-7 4 8 4 5 4-10 4 3 4-2 3-5 4 4 4-3 4 2 4 8 4 1 4-3 4 5 4-1 4-4 4-4 4-6 4 1 4 12 4-8 4 1 4 11 4-15 4 9 4-7 4 8 3-1 4-13 4-2 4 5 4 4 4 9 4-2 4-9 4 3 4 3 4 6 4-15 4 13 4-7 4 0 4-3 4 11 4-7 4 4 4 2 4 0 3-7 4-10 4 10 4 6 4-7 4 8 4-7 4 6 4-7 4 4 4-1 4 6 4 3 4-5 4 7 4-2 4-14 4 6 4 4 4 3 4-11 3-3 4 11 4-10 4 8 4 2 4-2 4-8 4-4 4 3 4 9 4-4 4 0 4-7 4-1 4 5 4 5 4 5 4-6 4 11 4-10 4 0 3 3 4-5 4 5 4-7 4-4 4-3 4 15 4-13 4 7 4 1 4 0 4-1 4 4 4 2 4-8 4 4 4-6 4 7 4 4 4-7 4-2 3-2 4-2 4 4 4 1 4-4 4-4 4 10 4-4 4 4 4 3 4 3 4 4 4-12 4-5 4 3 4 12 4 2 4-11 4-2 4 2 4-5 3 8" stroke="#c67aea"/>
<path d="M1198 350l3 11 4-8 4-3 4-3 4 5 4-7 4 4 4 0 4-4 4 13 4-14 4 10 4-8 4 2 4 1 4-2 4 2 4 3 4 4 4-7 4-3 3 7 4-2 4-6 4-1 4 6 4 2 4-5 4-1 4 5 4-6 4 5 4 1 4 6 4-1 4-4 4 3 4-11 4 9 4 6 4-10 4-1 3 1 4-6 4 7 4 4 4 2 4 1 4 8 4-10 4 0 4-1 4-5 4-6 4 2 4 8 4-1 4 0 4 2 4-5 4-7 4 3 4 7 3 0 4-2 4 2 4-4 4-1 4 11 4-7 4-8 4 3 4 8 4-7 4 6 4-14 4 6 4-1 4-2 4 5 4 2 4 11 4-2 4-7 3 6 4-2 4 0 4 6 4 4 4-7 4-8 4-5 4 5 4-4 4-6 4 1 4 0 4 8 4 2 4-4 4-6 4 5 4 5 4 2 4-8 3 6 4-2 4-2 4 3 4 7 4-4 4-10 4 6 4-8 4 10 4 0 4 4 4 0 4-7 4 1 4-1 4 0 4-1 4-2 4 1 4 5 3-6 4 9 4-2 4-2 4-3 4 0 4 7 4 6 4-7 4-8 4-3 4 3 4 8 4 1 4 2 4-18 4 5 4 2 4 1 4 8 4-2 3-4 4 1 4 7 4-6 4-2 4-3 4 2 4 6 4-2 4-1 4 2 4 1 4-2 4-1 4-2 4 1 4-5 4 0 4 1 4 2 4 11 3 5 4-15 4 3 4-1 4-7 4-3 4 3 4 7 4 1 4 1 4-3 4 5 4 2 4-12 4 11 4 0 4-5 4-11 4 6 4-3 4 13 3-10" stroke="#4499d8"/>
<path d="M1198 302l3-3 4 1 4 2 4-1 4 3 4 1 4-4 4 6 4 1 4 0 4 5 4-3 4 7 4-2 4-6 4-1 4-2 4 3 4-1 4-8 4 3 3 9 4-2 4-6 4-2 4 5 4 4 4-3 4-7 4-1 4 6 4 1 4 3 4 4 4-6 4 5 4-1 4 2 4-10 4 7 4-1 4-6 3 6 4-1 4 0 4-9 4 8 4 1 4-6 4 6 4-1 4-5 4-6 4 7 4 10 4-7 4 3 4-7 4 2 4-1 4-1 4 11 4-6 3-6 4 6 4-5 4 0 4 2 4 0 4 4 4-3 4 1 4 1 4 2 4-4 4-7 4-1 4 5 4-1 4 1 4-4 4 2 4 5 4 4 3-4 4 0 4 0 4 6 4-3 4 5 4-1 4 4 4-4 4 6 4-6 4-6 4 1 4 1 4 0 4-1 4 0 4-2 4 0 4-2 4 0 3 6 4-10 4 9 4 2 4-5 4-2 4 9 4-4 4 2 4-1 4-3 4 6 4-8 4 6 4 3 4-5 4-10 4 8 4-5 4 9 4-6 3 3 4-4 4-3 4 1 4 10 4-1 4 1 4-4 4-1 4 10 4-12 4 5 4-5 4 0 4-3 4-3 4 11 4 0 4 0 4-6 4 5 3-1 4-4 4 1 4 4 4 7 4-4 4-12 4 1 4 7 4-5 4 6 4-7 4 6 4-7 4 6 4-1 4 2 4 1 4-7 4 3 4 1 3 2 4-3 4 6 4-4 4-5 4 6 4-7 4 4 4-1 4 2 4 3 4-3 4-4 4 5 4-1 4 1 4-4 4 2 4-3 4 4 4-5 3 6" stroke="#00c8d8"/>
<path d="M1198 327l3 4 4 7 4 0 4-11 4 8 4 9 4 0 4-8 4 7 4 0 4-9 4 9 4-5 4 4 4-2 4-13 4 14 4-9 4 8 4-2 4 7 3 2 4-12 4 8 4 2 4-7 4 2 4 8 4-7 4-6 4 2 4-1 4 1 4 2 4-2 4-4 4-4 4 10 4-3 4 8 4-7 4-5 3 7 4 6 4 4 4-6 4-4 4 7 4-7 4 7 4-2 4-6 4 7 4 0 4-10 4 3 4-8 4 4 4 5 4-1 4-2 4 3 4-1 3-7 4 9 4-2 4-1 4 1 4-5 4 2 4 9 4 1 4 5 4-15 4 13 4-4 4 3 4 0 4-13 4 15 4 6 4-14 4-4 4 7 3 4 4-6 4-5 4 5 4-5 4 4 4-8 4 10 4 8 4-17 4 0 4-5 4 4 4 7 4-3 4 1 4 3 4 0 4 2 4-3 4 9 3-1 4-5 4-6 4-1 4 2 4 6 4-2 4-1 4 1 4-7 4 4 4 1 4 1 4 3 4-10 4 2 4 1 4 0 4 16 4-17 4 0 3 2 4-1 4 3 4-2 4 1 4-1 4-7 4 4 4-2 4 8 4-2 4-2 4 2 4-6 4 3 4 6 4-9 4 3 4 10 4 6 4-13 3 0 4 7 4-10 4-3 4-3 4 10 4 3 4-10 4 2 4-4 4 3 4 4 4 10 4 6 4-4 4 1 4 0 4-6 4-8 4-4 4 7 3 2 4-7 4-2 4-6 4 7 4 10 4-5 4 1 4 1 4 0 4 3 4-11 4 6 4-9 4 11 4-1 4 1 4-1 4-8 4-2 4-1 3 6" stroke="#6e6e6e"/>
<path d="M1198 316l3-2 4-2 4 1 4-7 4 3 4 3 4 6 4-8 4 9 4-1 4 4 4 0 4-6 4 2 4-7 4 0 4-1 4 3 4-3 4 0 4 7 3 1 4-8 4 2 4 0 4 2 4 3 4-1 4 2 4-6 4 5 4 6 4-14 4 0 4-2 4 11 4-3 4 8 4-8 4 2 4-6 4-5 3-2 4 10 4-1 4 0 4-8 4 6 4 1 4 5 4-2 4 6 4-3 4 4 4-12 4 4 4 3 4 0 4-7 4 5 4-4 4-1 4 7 3-8 4-1 4-2 4 4 4-2 4 1 4 1 4 0 4 7 4-8 4-2 4 6 4 1 4 7 4-8 4-3 4 3 4 1 4 0 4 4 4-9 3 10 4 1 4-8 4 4 4-5 4 8 4-4 4 0 4-1 4-9 4 1 4 6 4 1 4 5 4-1 4-8 4-2 4-2 4 4 4 3 4-1 3 4 4 1 4-3 4 6 4 0 4-2 4-6 4 4 4 2 4-9 4 2 4-1 4 3 4 1 4-2 4 1 4-5 4 2 4-1 4 0 4 9 3-9 4 7 4-1 4-3 4-3 4 7 4 2 4-7 4-3 4 5 4 4 4-4 4 7 4-1 4-2 4-4 4-4 4 5 4 0 4 2 4-1 3-3 4 3 4 1 4-5 4 4 4 6 4 3 4-8 4 0 4 2 4-13 4 5 4-4 4 6 4-2 4 6 4 0 4-1 4 3 4-4 4 3 3-2 4 1 4-7 4 9 4 3 4 1 4-5 4-2 4 1 4-4 4-3 4 9 4-1 4-5 4 1 4-1 4 0 4 1 4-1 4-3 4 3 3 5" stroke="#dd9900"/>
<path d="M1198 355l3-14 4 4 4 11 4-9 4 3 4-1 4-2 4 7 4-6 4 11 4-16 4 4 4 5 4-3 4-8 4 10 4 3 4-7 4-4 4 8 4-11 3-3 4 10 4 7 4-6 4 6 4-2 4-7 4 8 4-8 4-2 4 6 4 1 4 10 4-5 4-3 4 3 4-1 4-4 4 4 4 6 4-12 3-1 4-5 4 5 4-1 4 1 4 4 4-11 4 2 4 5 4-5 4 7 4 0 4-4 4-1 4 3 4 0 4 4 4 1 4 1 4-2 4-9 3-2 4 12 4 1 4-8 4 3 4 10 4 1 4-5 4-3 4-1 4 0 4-2 4 7 4-5 4 4 4-15 4 12 4-1 4-3 4 9 4-7 3-3 4 1 4 3 4 2 4 0 4-9 4 4 4-8 4 6 4 6 4 3 4 4 4-5 4 4 4 1 4-7 4-4 4-2 4-2 4 2 4 6 3 5 4-15 4 13 4-5 4-6 4 7 4 4 4 6 4 0 4-16 4-2 4 2 4 1 4 3 4 4 4-9 4 3 4 7 4-6 4 8 4-1 3-10 4 5 4-7 4 10 4-4 4-13 4 6 4 6 4-2 4-2 4-2 4 0 4 11 4-4 4 3 4-1 4-6 4 6 4-4 4-2 4 0 3 3 4 4 4 8 4-10 4 1 4-5 4 9 4 6 4-12 4-7 4 1 4 7 4 8 4-9 4-6 4-2 4 0 4 3 4 4 4-4 4 7 3 2 4-7 4 4 4 8 4-14 4-2 4 7 4-3 4-2 4 8 4-6 4 2 4 2 4-4 4-6 4 6 4-1 4 7 4-3 4-1 4-1 3 3" stroke="#00ad6a"/>
<path d="M1198 314l3-3 4 6 4-10 4 4 4-2 4-3 4-1 4 3 4 13 4-5 4-7 4 5 4 12 4-5 4-2 4-6 4-6 4 1 4 4 4-6 4 10 3 13 4-4 4-13 4 4 4-5 4 7 4-3 4-5 4-7 4 4 4 6 4 1 4 5 4-8 4 5 4-6 4-3 4 4 4-3 4 0 4-2 3-6 4 12 4-3 4 5 4-5 4-4 4 16 4-14 4 1 4 3 4 2 4-6 4-1 4 3 4-1 4 3 4-1 4 3 4-1 4 1 4-2 3 2 4-2 4-10 4 2 4 9 4-1 4-2 4 0 4 7 4-3 4 0 4 4 4-3 4 8 4-4 4-1 4-6 4 6 4 1 4-7 4-5 3 7 4 7 4-6 4 0 4-2 4 1 4 4 4 3 4 4 4-3 4-8 4 2 4-5 4 3 4-4 4 2 4-2 4 5 4 5 4-11 4-1 3-4 4-3 4 5 4-3 4 5 4 7 4 3 4-7 4-7 4 0 4 8 4-4 4 6 4 5 4-3 4 3 4-5 4-3 4 3 4-6 4 2 3-1 4-4 4 11 4-2 4 4 4-6 4 14 4-5 4-5 4-8 4 3 4-3 4-5 4 5 4 4 4 0 4 8 4-12 4 2 4 1 4 7 3-3 4-5 4 1 4 6 4 5 4 0 4-12 4 2 4-1 4 8 4-2 4 8 4-18 4-2 4 1 4 5 4-7 4 9 4 13 4-11 4-2 3-3 4 1 4-1 4 4 4 1 4-8 4 5 4 4 4-4 4-1 4-2 4-3 4 10 4 4 4 2 4 2 4 1 4-3 4-9 4 2 4-1 3-5" stroke="#6e6e6e"/>
<path d="M1198 337l3-2 4 6 4-11 4 4 4-1 4 5 4-5 4 2 4 1 4 9 4-4 4-3 4 4 4 3 4-6 4 3 4 1 4-6 4-2 4 4 4-8 3 2 4 8 4-4 4-2 4-5 4 10 4-3 4 0 4-5 4-2 4 3 4 4 4 3 4-7 4 0 4 5 4 10 4-5 4 3 4-4 4-12 3-5 4-1 4 9 4-2 4-1 4-5 4 11 4 2 4-1 4-6 4 6 4 6 4 4 4-5 4-11 4 3 4 8 4 0 4 0 4 0 4-9 3 12 4-9 4-11 4 8 4-2 4 10 4-4 4-2 4-1 4 1 4-3 4 12 4-9 4-1 4 2 4-2 4-1 4-4 4 10 4-4 4 1 3 7 4 0 4-7 4-3 4 3 4-6 4 10 4 0 4 2 4-15 4 8 4 2 4-6 4-2 4 7 4-2 4 4 4-1 4 2 4-2 4-4 3 2 4-6 4 4 4 2 4-9 4 15 4-5 4 1 4-3 4 1 4-5 4 0 4 5 4 8 4-2 4-1 4-2 4-3 4 17 4-17 4-1 3 6 4 2 4-8 4-2 4 0 4-5 4 5 4 3 4 0 4 2 4 2 4-3 4 2 4-3 4-2 4 1 4-1 4 0 4 1 4-2 4 3 3 3 4 8 4-12 4 2 4 6 4 3 4-6 4-7 4 2 4 1 4-3 4 5 4 3 4-6 4-3 4 11 4-7 4-9 4 4 4-2 4-2 3 2 4 6 4-5 4 11 4-6 4 9 4-6 4-3 4-3 4 4 4-9 4 8 4 1 4 3 4-5 4 5 4 0 4 3 4-14 4 2 4 5 3 4" stroke="#ff2d2d"/>
<path d="M1198 358l3 1 4-7 4-5 4 4 4 6 4-8 4 0 4 0 4 6 4-4 4-10 4 3 4 4 4 2 4 1 4-8 4 0 4 3 4 2 4 3 4-1 3 3 4-3 4-6 4 4 4-2 4-2 4 2 4 2 4-9 4-1 4 7 4-11 4 4 4 10 4-4 4 1 4-1 4-1 4 9 4 1 4-4 3 6 4-4 4-12 4 10 4-2 4-1 4 1 4 0 4-4 4 9 4 3 4-8 4-4 4 3 4 3 4-2 4-2 4-2 4 5 4 1 4 4 3 2 4 0 4 3 4-11 4-4 4 5 4 1 4 6 4-4 4 2 4 1 4-1 4 10 4-7 4-6 4 2 4-5 4 9 4-2 4-7 4 7 3 5 4-11 4 4 4-3 4 3 4 5 4-8 4 7 4-4 4-1 4 6 4-7 4 9 4-1 4 1 4-3 4-1 4-13 4-1 4 8 4-4 3 4 4 6 4-7 4-1 4-2 4 3 4 4 4-3 4 2 4 5 4 0 4 2 4-10 4-1 4 5 4 4 4-2 4-5 4 7 4-3 4-3 3 9 4-5 4-7 4 3 4-6 4 2 4 1 4 0 4-1 4 1 4 0 4-2 4 2 4 6 4-5 4 1 4 2 4-4 4 1 4-1 4-5 3 5 4-1 4 10 4-13 4 0 4 5 4 4 4-1 4-3 4-8 4 9 4 4 4 6 4-5 4-3 4-6 4 6 4 3 4-5 4-6 4 4 3 0 4-1 4-7 4 7 4 6 4-6 4 0 4-5 4 3 4 14 4-9 4 3 4-2 4-8 4-4 4 13 4-6 4 9 4-5 4 0 4-4 3 5" stroke="#0068e0"/>
<path d="M1198 315l3 3 4 1 4 7 4 0 4 1 4-7 4-7 4 1 4 8 4 2 4-9 4 9 4 4 4-3 4 1 4-2 4 1 4 5 4-6 4-3 4-1 3 0 4 5 4-1 4 5 4-3 4 5 4-1 4-4 4-4 4-4 4 5 4 1 4 1 4 0 4 0 4 6 4-9 4 1 4-4 4 19 4-3 3-6 4 5 4-2 4-1 4-11 4-2 4 2 4-1 4 12 4 3 4-12 4-7 4 8 4 7 4-7 4-5 4 7 4 2 4-1 4 7 4 1 3 8 4-13 4-3 4 1 4-1 4-4 4 0 4-2 4-2 4 12 4-3 4 0 4-4 4-8 4 8 4-8 4 9 4 3 4-8 4 13 4-14 3 4 4 4 4 10 4-10 4-2 4-1 4 2 4 4 4 0 4-3 4-6 4 2 4 8 4-6 4 3 4-2 4-2 4-5 4 3 4 3 4 6 3-13 4 7 4 4 4 1 4-7 4 0 4 6 4-8 4 9 4 1 4-5 4 2 4-6 4 1 4 3 4-9 4-2 4 10 4 10 4-6 4-9 3 3 4-9 4 2 4 11 4 0 4-3 4 4 4 4 4-10 4-2 4 13 4 0 4 1 4-12 4-4 4 2 4 6 4-5 4-1 4 8 4-9 3 4 4-7 4 10 4-1 4-6 4 1 4 8 4-2 4-3 4 3 4-2 4-4 4 1 4 1 4-2 4 4 4 8 4-1 4-2 4-7 4-1 3 8 4 2 4-3 4 8 4-15 4 7 4-1 4-3 4 5 4 0 4 0 4-15 4 7 4 6 4-4 4-4 4 3 4 4 4-1 4 1 4-10 3 6" stroke="#00c8d8"/>
<path d="M1198 320l3-6 4 7 4-14 4 11 4-2 4 0 4 4 4 11 4-5 4-7 4 1 4 7 4-8 4-4 4 2 4 10 4-11 4 10 4 1 4-4 4 5 3-11 4-1 4-5 4-2 4 3 4 3 4 4 4 4 4-9 4-2 4 11 4-17 4-4 4 11 4 3 4 1 4-9 4 5 4-5 4 13 4-3 3-7 4 10 4 1 4 0 4-3 4 6 4-6 4-7 4 8 4 8 4-7 4-2 4-5 4-11 4 16 4 1 4 0 4-7 4 3 4 10 4 4 3-1 4-10 4-2 4 1 4-1 4 5 4-4 4 1 4-6 4 6 4 10 4-6 4-9 4-3 4 2 4-4 4 2 4 0 4 10 4 3 4-9 3 12 4-7 4-7 4 3 4 0 4 8 4-12 4 7 4-1 4-6 4-2 4 1 4-9 4 8 4 11 4-6 4-3 4-4 4 5 4 12 4-10 3 5 4 3 4-8 4 4 4 0 4-10 4 7 4-3 4 5 4 8 4-11 4-2 4-3 4 1 4-2 4 4 4 4 4-3 4-3 4 1 4-9 3 8 4 6 4 2 4 7 4-9 4-6 4-8 4 5 4 4 4 10 4-8 4 6 4 0 4 2 4-6 4 1 4 0 4-4 4 9 4-15 4 4 3 7 4 2 4-4 4-2 4-3 4 12 4-6 4 4 4-4 4 2 4-2 4 10 4-6 4-1 4-10 4 5 4-7 4 8 4-2 4 0 4 4 3-2 4 2 4-2 4 4 4 0 4 5 4-4 4 2 4 1 4-13 4 5 4-1 4 10 4-7 4 1 4 1 4-8 4 4 4 5 4 1 4-9 3-5" stroke="#26b800"/>
<path d="M1198 342l3 2 4-4 4-4 4 2 4 4 4-3 4 0 4-3 4 0 4 0 4-11 4 1 4 20 4-12 4 0 4 3 4 1 4 7 4-3 4-3 4 1 3-3 4-2 4 10 4-2 4-5 4-7 4 13 4-6 4 3 4-14 4-2 4 4 4 6 4-1 4 12 4-6 4 9 4-12 4 5 4 7 4-20 3 13 4 2 4-2 4 2 4 6 4-12 4 3 4-5 4 3 4-4 4 1 4-7 4 10 4-3 4 5 4 5 4-12 4 2 4 9 4-4 4 0 3-2 4-6 4 5 4-6 4 0 4 5 4 0 4 1 4-2 4 6 4-3 4 4 4-5 4 2 4-2 4-3 4 1 4 4 4-2 4-3 4-1 3-2 4 4 4 6 4-3 4-8 4 17 4-6 4 5 4-3 4-3 4-7 4 4 4 1 4 0 4 1 4 3 4 4 4-3 4 0 4-4 4-8 3 6 4 3 4 0 4 1 4-3 4-5 4 6 4-5 4 1 4-2 4-2 4 10 4 0 4-10 4 6 4-3 4-7 4-1 4 8 4 6 4 8 3-9 4-8 4 13 4-12 4 19 4-11 4-11 4 6 4 7 4-6 4 11 4-5 4 3 4-9 4 8 4-10 4-4 4 9 4 0 4 0 4-3 3 2 4 1 4 2 4 3 4 0 4-8 4 13 4 0 4-14 4 11 4-19 4 11 4-2 4-1 4-4 4 9 4-11 4-1 4 2 4 4 4-3 3 1 4 3 4 1 4 2 4-15 4 2 4 19 4-9 4-3 4 11 4 0 4-4 4-3 4-1 4-2 4 8 4-4 4-5 4 4 4-8 4 9 3 2" stroke="#00ad6a"/>
<path d="M1198 325l3 12 4 2 4 0 4 8 4-14 4 7 4 8 4-5 4-8 4-3 4 2 4 0 4 2 4 7 4-11 4 15 4-3 4-8 4-6 4 7 4-7 3 17 4-11 4-5 4-4 4 2 4 4 4 4 4 5 4 1 4-3 4 1 4-6 4-5 4 6 4 9 4-6 4-1 4 4 4 7 4-5 4-7 3 4 4-4 4 0 4 0 4-3 4-2 4-2 4 7 4-2 4 7 4 4 4-5 4-4 4 6 4 4 4-4 4-4 4-11 4 1 4 8 4 0 3 6 4-7 4 8 4 0 4 2 4-13 4 8 4-3 4-3 4 7 4-2 4 0 4-5 4 5 4-4 4 5 4 0 4-2 4-1 4 1 4 7 3-1 4-5 4 4 4 2 4-3 4 9 4-17 4 2 4-3 4-4 4 3 4 9 4-6 4 3 4-9 4 11 4 4 4 2 4-10 4 12 4 2 3-4 4-8 4 6 4-2 4 0 4-3 4-13 4 4 4 8 4-5 4 0 4 5 4 0 4-13 4 8 4 6 4 3 4-8 4 6 4-2 4-2 3 4 4-1 4 2 4-1 4-3 4-3 4 0 4-4 4 9 4 2 4-3 4 4 4-5 4 1 4-9 4 4 4 6 4 5 4-8 4-2 4 1 3-7 4 12 4 1 4 0 4-4 4-1 4 6 4-7 4-3 4 2 4-4 4 3 4-3 4 10 4-9 4 0 4 7 4-1 4-3 4-3 4 3 3 8 4-9 4-3 4 1 4-2 4 0 4-12 4 10 4 13 4-4 4 0 4-5 4-8 4 9 4-2 4 5 4 1 4 2 4 7 4-3 4-2 3 4" stroke="#994a52"/>
<path d="M1198 356l3-8 4-5 4-1 4 11 4 5 4-6 4 5 4 5 4-7 4-3 4 2 4-2 4 9 4-4 4-8 4 3 4 9 4 2 4-8 4 5 4 1 3-3 4-6 4-2 4-2 4 9 4 2 4-4 4 9 4-15 4 15 4-5 4 2 4 0 4-3 4-1 4 5 4-1 4 6 4-11 4 2 4 3 3-8 4 5 4 2 4-6 4 2 4-2 4 10 4-8 4 3 4-3 4 10 4-10 4 0 4-5 4 10 4-15 4 9 4-2 4-8 4 5 4 1 3 2 4 2 4-3 4-1 4-1 4 10 4 5 4-5 4 0 4-5 4 9 4 2 4-11 4-3 4 2 4-7 4-5 4 3 4 2 4 9 4-1 3-3 4 3 4 1 4 3 4 4 4-6 4 8 4 0 4-4 4 2 4-2 4-3 4-7 4 7 4 4 4-10 4 5 4-3 4-5 4 1 4 0 3 10 4-6 4-6 4 8 4 2 4-1 4 7 4-3 4-7 4 6 4 1 4-15 4 10 4 3 4-7 4 6 4 1 4-1 4-11 4 6 4 8 3 12 4-11 4-7 4-3 4 5 4-4 4 3 4-10 4 2 4 9 4 0 4 0 4-12 4 10 4-2 4 6 4-5 4 3 4-6 4-6 4 1 3 5 4 4 4 0 4 6 4-8 4 0 4 2 4 2 4-8 4 3 4 11 4 1 4-9 4 3 4 1 4-9 4 16 4-8 4 3 4-3 4 3 3-3 4-10 4 7 4 1 4-3 4-2 4 4 4-3 4 6 4-2 4-2 4 5 4 2 4-6 4 5 4-2 4 2 4-6 4-2 4-3 4-1 3 1" stroke="#4499d8"/>
<path d="M1198 361l75 0 4 3 35 0 2-3 30 0 2 0 98 0 2 2 102 0 2-2 66 0 3 2 106 0 1-4 87 0 3-2 82 0 2 5 48 0" stroke="#ff2d2d"/>
<path d="M1198 379l95 0 4-1 47 0 2 3 87 0 3-2 31 0 4 0 45 0 2 3 74 0 4-2 50 0 4-1 26 0 2 3 53 0 4-4 27 0 4 4 98 0 2-5 75 0 3-1 4 0" stroke="#994a52"/>
<path d="M1198 376l31 0 4 2 79 0 3 1 80 0 5-1 47 0 2-6 59 0 5 4 41 0 3 2 81 0 2 1 48 0 4 0 97 0 3-1 104 0 3-4 49 0" stroke="#0068e0"/>
<path d="M1198 357l82 0 4 3 79 0 5-4 58 0 3-1 30 0 5 1 105 0 2 3 89 0 4-1 106 0 4-1 59 0 4 2 28 0 4-4 79 0" stroke="#6e6e6e"/>
<path d="M1198 359l104 0 4 3 55 0 4 1 50 0 3-2 102 0 3-5 81 0 3 2 28 0 4 1 68 0 3-1 56 0 3-1 109 0 5 3 65 0" stroke="#ff2d2d"/>
<path d="M1198 365l26 0 3-3 49 0 1 5 86 0 3 1 96 0 5-3 58 0 1-2 92 0 5 1 79 0 5 1 73 0 5 3 57 0 2-4 74 0 3 2 27 0" stroke="#26b800"/>
<path d="M1198 380l71 0 2-1 36 0 4 0 28 0 4 4 31 0 2-5 50 0 3 3 110 0 4 2 43 0 4-3 29 0 5-3 102 0 3 6 104 0 1-2 110 0 4-4" stroke="#6e6e6e"/>
<path d="M1198 368l39 0 3-2 41 0 4 3 43 0 3-3 73 0 3 3 29 0 3-3 56 0 3 2 109 0 3 2 52 0 2 1 82 0 2-2 40 0 2-2 76 0 4 3 43 0 4-4 31 0" stroke="#00ad6a"/>
<path d="M1198 353l76 0 3-1 108 0 5 3 71 0 1 1 73 0 4-6 93 0 4 1 64 0 5 3 97 0 2-2 33 0 3 1 48 0 4-4 30 0 5 5 21 0" stroke="#4499d8"/>
<path d="M1198 352l69 0 5-2 98 0 3 0 79 0 4 3 56 0 4-3 59 0 4 3 33 0 2 0 77 0 4-3 60 0 5 6 37 0 2 0 65 0 2-7 51 0 2 3 29 0" stroke="#4499d8"/>
<path d="M1198 365l109 0 4 2 48 0 3 1 66 0 1-4 73 0 4-2 47 0 4-1 76 0 1 3 107 0 2 2 82 0 3 1 41 0 5 1 57 0 2-5 15 0" stroke="#26b800"/>
<path d="M1198 362l25 0 2-3 57 0 4 7 95 0 2-6 45 0 3 4 64 0 2-4 107 0 3-1 107 0 5 5 106 0 4-5 58 0 4 7 29 0 4-6 24 0" stroke="#26b800"/>
<path d="M1198 369l33 0 2 1 35 0 5 2 51 0 4-1 61 0 4 1 92 0 2 0 38 0 5-3 61 0 2-2 29 0 2 5 102 0 4 0 69 0 2-2 41 0 3 2 29 0 2-5 72 0" stroke="#ff6600"/>
<path d="M1198 355l97 0 5-1 29 0 4-2 43 0 1 2 90 0 3-1 89 0 4 0 90 0 4 5 90 0 3-4 39 0 2-2 66 0 5 4 54 0 1 0 31 0" stroke="#dd9900"/>
<path d="M1198 372l3 2 4-9 4 10 4 0 4 2 4-6 4 2 4-3 4-3 4 1 4 7 4-5 4 7 4-5 4 5 4 0 4 1 4-7 4 3 4 0 4 0 3-2 4 2 4 0 4 5 4-1 4-6 4 1 4-2 4-2 4-1 4 4 4 1 4 5 4-2 4-4 4 0 4-3 4 7 4-4 4 2 4 8 3-6 4-2 4 1 4-2 4-2 4 1 4-2 4 2 4-4 4 5 4-5 4 5 4 5 4-2 4-4 4 0 4 2 4-6 4 5 4-1 4-2 3 7 4 2 4-5 4 2 4-4 4 2 4-1 4 1 4-3 4 1 4 7 4-2 4-7 4 6 4 4 4-3 4-2 4 1 4-6 4 3 4-1 3 1 4 0 4 2 4 0 4 3 4-5 4 6 4 0 4-5 4-1 4 4 4-7 4 2 4 0 4 1 4 0 4 3 4-4 4 6 4 2 4 1 3-4 4-7 4 10 4-2 4-10 4 1 4 4 4 4 4 0 4-8 4 1 4 6 4-1 4-6 4 4 4-5 4-4 4 5 4-1 4 1 4 5 3-8 4 6 4 5 4-2 4-1 4-2 4 2 4-4 4 2 4 2 4-7 4 8 4 1 4-5 4 1 4 3 4-7 4 5 4 2 4 4 4-2 3-8 4-4 4 15 4-2 4-11 4 11 4 2 4-5 4-2 4-3 4 2 4-6 4-6 4 15 4 0 4-2 4-4 4 4 4 6 4-6 4 0 3-3 4 9 4-1 4-8 4-4 4 0 4 6 4 3 4-1 4-1 4-2 4-5 4 10 4-7 4 1 4-1 4 6 4-6 4 5 4-2 4-3 3 2" stroke="#6e6e6e"/>
<path d="M1198 355l29 0 2 0 61 0 3-3 58 0 5 6 37 0 4-4 82 0 3-1 80 0 3 5 69 0 2-4 54 0 3 1 82 0 3-2 94 0 4 4 72 0" stroke="#ff2d2d"/>
<path d="M1198 366l84 0 3 3 103 0 3-5 107 0 2-1 106 0 3 5 76 0 4-4 55 0 3 0 46 0 3 5 75 0 4-5 73 0" stroke="#c67aea"/>
</g>
<rect x="1197.5" y="111.5" width="751" height="751" fill="none" stroke="#000" stroke-width="3"/>
<path d="M1322.7 862.5v-10.5M1447.8 862.5v-10.5M1573 862.5v-10.5M1698.2 862.5v-10.5M1823.3 862.5v-10.5M1197.5 755.2h10.5M1197.5 647.9h10.5M1197.5 540.6h10.5M1197.5 433.4h10.5M1197.5 326.1h10.5M1197.5 218.8h10.5" stroke="#000" stroke-width="3" fill="none"/>
<text class="tk" x="1187.3" y="878.5" text-anchor="end" font-size="54">0</text>
<text class="tk" x="1187.3" y="771.2" text-anchor="end" font-size="54">50</text>
<text class="tk" x="1187.3" y="663.9" text-anchor="end" font-size="54">100</text>
<text class="tk" x="1187.3" y="556.6" text-anchor="end" font-size="54">150</text>
<text class="tk" x="1187.3" y="449.4" text-anchor="end" font-size="54">200</text>
<text class="tk" x="1187.3" y="342.1" text-anchor="end" font-size="54">250</text>
<text class="tk" x="1187.3" y="234.8" text-anchor="end" font-size="54">300</text>
<text class="tk" x="1187.3" y="127.5" text-anchor="end" font-size="54">350</text>
<text class="tk" x="1199" y="915" text-anchor="middle" font-size="54">00:00</text>
<text class="tk" x="1324.2" y="915" text-anchor="middle" font-size="54">04:00</text>
<text class="tk" x="1449.3" y="915" text-anchor="middle" font-size="54">08:00</text>
<text class="tk" x="1574.5" y="915" text-anchor="middle" font-size="54">12:00</text>
<text class="tk" x="1699.7" y="915" text-anchor="middle" font-size="54">16:00</text>
<text class="tk" x="1824.8" y="915" text-anchor="middle" font-size="54">20:00</text>
<text class="tk" x="1949.5" y="915" text-anchor="middle" font-size="54">24:00</text>
<text x="1527" y="984.9" font-size="57">Time</text>
<text transform="translate(1087.5 606.6) rotate(-90)" font-size="62.2">Q(kVAR)</text>
<text x="1262" y="1038.1" font-size="60">(b) Q before pre-treatment</text>
<g clip-path="url(#cc)" fill="none" stroke-width="2.4" stroke-linejoin="round" shape-rendering="crispEdges">
<path d="M250 1500l12 10 2.9 21.5 1 74.7 1 127.8 1 85.6 1.9-61.9 1-57.1 1-55 2-27.6 .9-37.4 3-41.3 12.3-39.3 20-20 20-40 9-28.2 5-6 6.9-3 5.9-6.9 8-1 4.9-15.9 6 2 6-13.9 4.9 16.9 5 0 3-14 3.9-.9 4-9 5-9.9 5.9 3 4 28.8 3 7.9 2.9-30.7 5 0 8-22.9 4.9-12.9 6-8.9 4.9-2 2-8.9 4 8.9 4-20.8 4.9 4.9 3-9.9 4 1.3 5.9-10.2 6 4.9 4.9-14.9 3.2-1.8 4.8-18 3.2-2 4.7-12.9 2-22.8 7-14.9 3.9 0 2 39.7 6-4 4.9-26.8 7-2 4.9-8.9 4-4 6 5 6.9-15.9 6-2 5.9 5 3-14.9 3.8-3 4.9 13.9 3-15.9 9.9-3 3-9.9 4.2-.7 3 3 2.7-4.3 3 51.6 5-16.8 4.9 62.5 3-9.9 6 4.9 1 266 6.9 0 1-65 1-240.7 2 68.5 5.9 4 5-11.9 4.6 3.1 6.3-.1 3-78.5 5-2.9 4.9 13.9 3-22.9 4.8-.5 2.2 14.4 3.8-8.4 5-4 5-1.5 1.4 0 0 358.5 0 257.7 4.6-.7 4-2 3.6-1.4 1-141.6 1-108 6.4-15" stroke="#6e6e6e"/>
<path d="M380 1530l12.6 6.8 7.4-6.8 6 2 6.4 4.8 12.6 0 11.3 7 9.7-11.8 10.1 14.8 3.9-8.8 12 5 13.9 10.7 6.1-13.7 5.8 19.7 9.2-10.7 6 9 5-8 9.6 8.7 9.9 5.9 11.5-4.6 8.4 6.6 5.6-7.6 4 7 6.2-10.3 3 25.8 3.8-0 1-16.5 6.2-7.6 2.8 12.6 10.5-16.6 4.5 9.6 6.7 4.6 7.1-13.2 5.2 9.1 8-6.1 8.2 12.2 3.8-2 12.5-2 7.1-23.5 2.1 9.2 7.1 2.1 4.2-4.1 4 7.1 7.1-22.4 4.1 9.2 11.2 10.2 4-12.3 3.1-12.1 9.5-1" stroke="#c67aea"/>
<path d="M665 1530l5.8 5 1 85.6 1 83.5 1 31.6 3.1 0 1-82.5 2-46.9 4.1-10.2 2-28.5 4 0 3.2 2 9.1 0 4.1-10.1 2.1-18.4 4.5-4.1 12-7" stroke="#0068e0"/>
<path d="M722 1530l7.9 9.1 3 63.2 3.1 91.7 3 110 3.1 0 1-79.5 1-112.1 0-77.4 5.9-5" stroke="#26b800"/>
<path d="M268 1525l6.7 6.5 1 49.1 2.3-29.6 2-18 10-5" stroke="#4499d8"/>
<path d="M204 1457l3-6 4 6 4 18 4-1 4-3 4-12 4-8 4 3 4-8 4 16 4 1 4-11 4-6 4 3 4-2 4 20 4-8 4 3 4 1 4-12 4 0 3-2 4 7 4-3 4 9 4-5 4-6 4-9 4 5 4 4 4-3 4-2 4-6 4 7 4 7 4-9 4 13 4 12 4 1 4-10 4-10 4 2 3-3 4-5 4 3 4 4 4 18 4-5 4 0 4-6 4-3 4-5 4-4 4 0 4 15 4-19 4 23 4-6 4-15 4 0 4 2 4 4 4 3 3-8 4 5 4 8 4-11 4 2 4-1 4-8 4 13 4 8 4-4 4-1 4-9 4 7 4 4 4-7 4-3 4 0 4-7 4 7 4 6 4 12 3-17 4 8 4-1 4-1 4 1 4-4 4-3 4-4 4 10 4 2 4-9 4-3 4 5 4 23 4-15 4-11 4-8 4 8 4 3 4-2 4-11 3 16 4 4 4-2 4 5 4-6 4 4 4-11 4 15 4-10 4 7 4-12 4-2 4 6 4 10 4 5 4-10 4 12 4-17 4 9 4-9 4 2 3 9 4-1 4-8 4 3 4-5 4-3 4-1 4 0 4 3 4 6 4-2 4 7 4-10 4 2 4-6 4 6 4-2 4 6 4-7 4 12 4-11 3 6 4 0 4-11 4 1 4 2 4 11 4 1 4-13 4-6 4 5 4 3 4-1 4-1 4 10 4 3 4-3 4-16 4 4 4-3 4 5 4 1 3 9 4-9 4 0 4 4 4-17 4 21 4-9 4 12 4-11 4 12 4-7 4 4 4-9 4 8 4 3 4-1 4-10 4 8 4-3 4-6 4-7 3 10" stroke="#969100"/>
<path d="M204 1442l3-1 4-2 4 3 4-6 4-4 4 5 4 3 4-4 4 6 4-2 4-10 4 4 4 8 4 0 4-5 4 5 4 6 4-9 4 1 4 0 4 1 3-5 4 3 4 7 4-4 4-7 4 0 4 0 4 2 4 5 4-5 4 2 4-1 4-2 4-10 4 8 4 1 4 3 4 3 4 9 4-6 4-5 3 1 4 3 4-6 4 3 4-14 4 2 4 11 4 1 4 2 4 0 4 1 4-7 4 3 4 5 4-4 4 1 4 0 4-9 4 8 4 0 4 2 3-3 4 0 4-1 4-6 4 1 4 5 4 4 4-2 4 1 4-2 4 7 4-3 4-6 4 0 4-9 4 8 4-4 4 4 4 0 4-3 4 7 3-3 4 6 4 1 4 0 4 2 4 0 4-4 4-6 4-1 4-3 4-4 4 4 4 6 4 4 4-7 4 2 4-3 4 0 4 6 4 3 4-13 3 7 4 8 4-2 4-7 4 3 4-2 4 7 4 2 4-7 4-5 4 4 4 3 4-4 4 3 4-6 4 4 4-5 4 0 4 8 4-7 4 10 3 3 4-12 4 3 4 4 4-1 4-5 4 10 4-5 4-8 4 5 4 3 4 1 4-3 4-11 4 0 4 19 4-5 4-7 4-4 4 6 4-3 3 19 4-16 4 0 4 3 4 5 4-6 4 2 4 1 4 1 4-2 4-9 4 7 4 3 4-3 4-6 4 6 4 2 4 7 4-3 4-1 4-4 3-1 4-4 4-2 4 5 4 1 4 4 4-2 4 5 4-2 4-3 4-7 4 0 4-3 4 8 4 6 4 0 4 7 4-3 4-9 4-2 4 5 3-7" stroke="#994a52"/>
<path d="M204 1446l3-2 4 7 4-4 4 11 4-9 4-6 4-1 4-8 4-1 4 7 4 0 4-11 4 7 4 10 4-4 4 2 4-3 4 0 4-6 4 2 4 1 3-3 4 5 4-13 4 13 4-6 4-9 4 4 4 8 4-2 4 5 4 6 4-1 4-5 4 4 4-2 4 10 4-10 4 0 4 2 4-2 4-7 3-4 4 9 4-3 4 11 4-11 4 2 4 2 4 6 4 6 4-21 4 16 4 1 4-8 4 7 4-11 4-1 4-6 4 3 4-5 4-1 4 15 3-15 4 12 4 6 4 3 4-5 4 3 4-1 4 0 4-3 4-4 4 2 4 2 4-5 4 1 4 3 4 3 4-9 4 16 4-11 4-3 4 8 3-8 4 1 4 2 4-5 4 1 4 6 4-3 4-1 4 7 4 1 4-10 4 17 4-7 4-11 4-3 4-1 4-1 4 13 4 5 4-16 4 13 3 1 4 10 4 2 4-9 4-6 4-1 4-13 4 6 4 8 4-5 4 2 4-2 4 0 4 5 4 11 4-6 4-8 4 1 4 2 4-4 4-1 3 3 4 0 4-4 4 10 4-1 4 4 4-4 4 1 4-9 4-2 4 4 4-3 4 5 4 0 4 1 4-6 4-3 4 6 4 7 4 0 4-3 3-11 4-6 4 10 4 2 4 0 4-12 4 9 4 2 4 13 4 10 4-7 4-7 4-5 4-6 4 5 4 12 4-13 4-7 4 7 4-5 4-1 3 13 4 5 4-4 4-10 4 0 4 5 4-1 4-5 4 8 4 0 4-1 4-5 4 1 4 1 4-10 4 0 4 0 4 8 4 2 4-1 4 3 3 3" stroke="#26b800"/>
<path d="M204 1525l3-9 4 8 4-11 4-5 4-5 4 4 4 6 4 9 4-11 4 3 4 2 4-3 4 9 4 0 4-7 4-2 4 3 4-10 4-6 4 17 4 12 3-15 4-2 4 5 4-2 4 3 4 3 4 3 4-17 4 6 4 0 4 7 4 4 4-4 4-10 4-3 4 6 4 3 4 2 4-6 4 0 4-8 3 14 4-6 4 3 4-5 4-4 4-4 4 2 4-6 4 18 4-5 4 4 4 3 4 7 4-9 4-2 4-2 4-11 4 2 4 15 4 0 4 0 3-1 4-2 4-20 4 7 4 14 4 7 4-1 4 1 4-9 4 9 4-1 4-1 4 2 4-1 4-17 4 18 4-7 4 7 4-7 4 1 4-2 3 1 4-2 4 9 4-15 4-5 4 13 4 5 4-2 4-6 4-15 4 11 4 16 4 0 4-4 4-8 4 2 4 3 4-8 4 4 4 7 4-9 3 2 4-3 4-4 4-1 4 10 4 0 4-4 4 7 4-8 4-15 4 9 4 6 4 4 4 1 4-5 4-3 4-1 4-4 4 1 4 11 4-2 3 5 4-1 4-5 4 4 4-5 4-5 4 7 4 4 4-11 4-2 4 6 4 8 4-6 4-11 4 14 4 4 4 8 4-3 4-7 4 0 4-6 3 1 4-2 4 1 4 8 4 8 4-8 4 0 4-13 4 2 4-2 4 0 4 1 4 14 4-4 4 2 4-7 4 2 4-1 4 0 4 7 4 7 3-13 4-1 4 5 4 4 4-1 4-1 4-3 4-6 4-1 4-3 4 1 4 14 4-3 4-12 4 8 4-1 4 1 4-14 4 10 4 9 4-2 3 3" stroke="#969100"/>
<path d="M204 1442l3 11 4-3 4 0 4-5 4 15 4-12 4 20 4-9 4 2 4 11 4 3 4-18 4-5 4 5 4 0 4-10 4 2 4 1 4 0 4 18 4-15 3 7 4 2 4-4 4 5 4 8 4-14 4 6 4 1 4-4 4-4 4-1 4-4 4-2 4-2 4 1 4 1 4-4 4-9 4 11 4 12 4-4 3-2 4 0 4 11 4-4 4-6 4-1 4-2 4 16 4-7 4-11 4 3 4 5 4 5 4-7 4-6 4 10 4-5 4-7 4 1 4 4 4-11 3 2 4-7 4 19 4-4 4 8 4-1 4-14 4 2 4 1 4 4 4 0 4-9 4 5 4-4 4 6 4 2 4 9 4 8 4-23 4 10 4 3 3 1 4-21 4 19 4 0 4-15 4 7 4 2 4 3 4-4 4 11 4-4 4-6 4 8 4 1 4 1 4 1 4-2 4 1 4 3 4-11 4 3 3 11 4-12 4-9 4 11 4-10 4 7 4 6 4 0 4-2 4-5 4-8 4 15 4-9 4 3 4-10 4 4 4 5 4-5 4 3 4 0 4-8 3 17 4 0 4-6 4 1 4 0 4-1 4 2 4 5 4-14 4-1 4-1 4 7 4 4 4-1 4-13 4 4 4-8 4 20 4-5 4-7 4 6 3 12 4-16 4 9 4-2 4 7 4-11 4-4 4 9 4-10 4 10 4-3 4 0 4-6 4-3 4 4 4 8 4-5 4-3 4-5 4 11 4 5 3 1 4-5 4-2 4-3 4 3 4 1 4-3 4-2 4 0 4 7 4 1 4 8 4-11 4 3 4-11 4-4 4 2 4-14 4 16 4 4 4 6 3-8" stroke="#c67aea"/>
<path d="M204 1524l3-5 4 3 4 13 4-9 4-3 4 1 4-4 4-4 4-2 4 5 4-3 4 6 4 3 4 3 4 0 4-4 4-4 4 2 4 4 4 3 4-2 3-5 4-2 4 7 4-5 4 0 4-3 4-3 4-3 4 1 4 9 4 4 4-8 4-1 4 1 4 4 4 1 4-4 4-1 4-2 4 1 4 1 3 2 4 0 4 0 4-5 4 9 4-1 4 0 4-1 4-4 4 3 4-3 4-2 4 2 4 5 4-1 4 1 4 6 4-3 4-2 4-8 4 6 3 8 4-4 4-8 4 0 4-2 4 4 4-4 4 7 4-3 4 2 4 0 4 0 4 0 4 1 4-4 4 11 4-7 4-8 4 12 4-10 4 3 3 0 4 3 4-3 4 7 4 1 4-7 4-5 4-6 4 13 4-3 4 0 4 2 4 1 4-3 4 0 4 3 4 6 4 2 4-6 4 6 4-9 3 1 4-1 4 2 4-1 4-3 4 5 4 1 4-9 4 3 4 8 4-5 4-1 4-4 4-2 4 2 4 2 4-3 4 4 4 2 4 2 4-6 3 4 4-2 4-4 4 0 4 1 4-4 4 6 4 0 4-3 4-10 4 5 4 9 4 5 4-2 4 2 4-8 4-3 4 2 4 5 4-4 4-6 3 3 4 6 4 5 4 2 4-7 4 1 4 3 4 1 4 1 4-6 4-4 4 13 4-9 4 1 4-2 4 6 4-3 4 5 4-4 4-5 4 2 3 6 4-1 4 0 4-4 4-1 4 7 4-6 4-2 4-4 4-2 4 7 4-10 4 7 4 3 4 8 4 0 4-1 4 4 4-7 4-11 4 7 3-2" stroke="#ff6600"/>
<path d="M204 1448l3-8 4 13 4-9 4-1 4 1 4 12 4-9 4-3 4-16 4 8 4 8 4-3 4-5 4 8 4-4 4-4 4 12 4-2 4-6 4 11 4-4 3 4 4 1 4-8 4 6 4-8 4-9 4 9 4-7 4-4 4 3 4 1 4 0 4 8 4 7 4-4 4-5 4-7 4 24 4-10 4-7 4 1 3-2 4-3 4 10 4-6 4 5 4-3 4 2 4-9 4 11 4-5 4 8 4-8 4-11 4 9 4-3 4 15 4-10 4 13 4-15 4 4 4 0 3-3 4 9 4 0 4-16 4-5 4 10 4 1 4 7 4-10 4 4 4 7 4-4 4-13 4 0 4-5 4 3 4 14 4-6 4 8 4 2 4-17 3 3 4 9 4 2 4 5 4-4 4 5 4-11 4 3 4-5 4-12 4 7 4 8 4 2 4 3 4-5 4-6 4-1 4 8 4-9 4 12 4 3 3 6 4 1 4-13 4 2 4 5 4-1 4-3 4-2 4 5 4-2 4 17 4-12 4-5 4 3 4-3 4 5 4-18 4 4 4 15 4-1 4-15 3 4 4 6 4 14 4-16 4 1 4 11 4-11 4 9 4-14 4-6 4 15 4 1 4-6 4-1 4 3 4-3 4 5 4-11 4 11 4-5 4 0 3-4 4-1 4 7 4-5 4 4 4 7 4-10 4 2 4-1 4 0 4 4 4 1 4-9 4-5 4 8 4 4 4-4 4-13 4-3 4 0 4 12 3 2 4 3 4 2 4 0 4-7 4 3 4 5 4 4 4-1 4-2 4-14 4 15 4-1 4 0 4-12 4 7 4-6 4 0 4-11 4 23 4 0 3-11" stroke="#26b800"/>
<path d="M204 1464l3-8 4 2 4 0 4 15 4-5 4 2 4 12 4-8 4-4 4 5 4-3 4 2 4-11 4 10 4-6 4 1 4-2 4 12 4-11 4-3 4 3 3 0 4 15 4-10 4 4 4-10 4 11 4-8 4-14 4 8 4 2 4 0 4 11 4-7 4 10 4-8 4-4 4 10 4 1 4-10 4-1 4-9 3-5 4 8 4 12 4 0 4-5 4 9 4-1 4-4 4-10 4 9 4 2 4 10 4-6 4-15 4 0 4 14 4-7 4 8 4-6 4 5 4-1 3-12 4 17 4-12 4 6 4-10 4 6 4 1 4 4 4 1 4 2 4 10 4-2 4-14 4 4 4-7 4-9 4 7 4-6 4 19 4-9 4 5 3-7 4 8 4-10 4-8 4 13 4 12 4-9 4 2 4-7 4 2 4-1 4-2 4 4 4-2 4-8 4 2 4-5 4 24 4-7 4 1 4-1 3 1 4-6 4 1 4-2 4 9 4-20 4 5 4 8 4-1 4 8 4-9 4 3 4-8 4 11 4-7 4-5 4-21 4 25 4 0 4 4 4 1 3-4 4-9 4 1 4 5 4 8 4-7 4-4 4 10 4 10 4-4 4-10 4 3 4-1 4 5 4-9 4-5 4 12 4-4 4-6 4 6 4-6 3-9 4 5 4 14 4-5 4-13 4-14 4 11 4 3 4 13 4 2 4-12 4-6 4 12 4 7 4 6 4-9 4-3 4-1 4 7 4 0 4-4 3 0 4-3 4 0 4-1 4-3 4 0 4 8 4-1 4 0 4 1 4 1 4-4 4 10 4-8 4 12 4-8 4 10 4-11 4-5 4 0 4 2 3 1" stroke="#6e6e6e"/>
<path d="M204 1436l3 0 4 0 4 4 4-4 4 6 4-2 4 1 4 12 4 2 4-17 4 14 4-9 4-4 4 9 4-4 4 1 4-8 4 1 4-9 4 9 4 1 3 6 4-5 4-7 4 19 4-23 4 16 4-5 4 5 4-5 4-8 4 14 4-9 4 5 4-13 4 10 4 10 4-8 4 0 4-1 4 1 4 17 3-15 4-4 4 5 4 10 4-12 4-6 4 4 4 9 4 9 4-7 4 8 4-4 4-8 4-21 4 5 4 13 4-7 4-3 4 8 4-2 4 3 3 6 4-5 4 16 4-8 4 1 4-10 4 4 4-4 4 1 4-6 4-6 4 16 4-11 4 6 4 0 4 5 4-7 4-9 4-1 4 1 4 9 3-2 4 0 4 5 4 4 4 2 4-21 4 10 4 2 4-1 4-9 4 6 4 10 4-5 4-3 4 13 4-8 4-2 4 5 4-6 4-11 4 16 3 0 4 5 4-8 4 0 4 7 4 2 4-5 4-10 4-4 4 14 4 1 4 0 4-8 4 1 4-5 4-9 4 10 4 24 4-12 4-13 4 8 3-2 4-7 4 4 4-1 4-7 4 1 4 6 4 9 4 0 4 0 4 6 4-11 4 2 4-10 4 3 4 7 4-4 4 9 4 0 4-3 4 2 3 1 4 3 4-2 4-12 4 6 4 4 4-9 4-1 4 9 4-9 4 6 4-2 4-2 4-4 4 2 4 3 4 7 4-8 4-1 4-5 4 25 3-13 4 8 4-4 4-7 4-11 4 7 4 11 4-6 4 15 4-21 4 9 4 1 4-5 4 1 4 3 4-4 4-2 4 8 4-5 4-13 4 11 3-4" stroke="#4499d8"/>
<path d="M204 1476l3-1 4-9 4 16 4-4 4 8 4-1 4-1 4-14 4 4 4 0 4-6 4 7 4 13 4-6 4-2 4 1 4-2 4 2 4-8 4-10 4 10 3 22 4-9 4 5 4-10 4 9 4-10 4 2 4-5 4 6 4 13 4-17 4 3 4-1 4 5 4-13 4 13 4 2 4-5 4 3 4-9 4 2 3 3 4 6 4 5 4-10 4 1 4-6 4-5 4 12 4-8 4-10 4 8 4 10 4-5 4 1 4 4 4-2 4 4 4-8 4-3 4-4 4-4 3 3 4 8 4 16 4-11 4 9 4-3 4-14 4-3 4 2 4-10 4 10 4 7 4-2 4-8 4 8 4 6 4 1 4-3 4 0 4-8 4 2 3 3 4 3 4 0 4 5 4 4 4 6 4 4 4-12 4-4 4-13 4 1 4-1 4 1 4 2 4 2 4-12 4 12 4 2 4-8 4 18 4-5 3 8 4-11 4-8 4 1 4-11 4 5 4 3 4 7 4-4 4 14 4 5 4-6 4-5 4-2 4-9 4 12 4-12 4 4 4 9 4-9 4-2 3 6 4-4 4 1 4 2 4 0 4 0 4 6 4-3 4 5 4-3 4 2 4-10 4 8 4-2 4 2 4-5 4 2 4 2 4 1 4-2 4-6 3 11 4-2 4-10 4 12 4-5 4 1 4-3 4 1 4-2 4-16 4 14 4-1 4 6 4 7 4-4 4 0 4-9 4 10 4-3 4 6 4-9 3-5 4 4 4 2 4-5 4-1 4-2 4 14 4-9 4-4 4 0 4 6 4 7 4-5 4-2 4-6 4 19 4-12 4-3 4 9 4-5 4 1 3-4" stroke="#ff2d2d"/>
<path d="M204 1450l3-8 4 1 4 4 4 9 4-8 4-4 4-5 4 6 4 3 4 7 4-8 4-3 4 1 4 3 4-13 4 9 4 20 4-11 4-3 4 4 4-10 3 12 4-8 4 8 4-2 4 0 4-8 4 0 4-3 4-5 4 18 4-6 4 9 4 0 4 1 4-2 4-11 4 3 4 3 4-2 4-2 4 3 3 3 4-9 4 12 4 5 4-10 4-5 4 1 4-7 4-4 4 14 4-5 4 7 4-8 4 12 4-3 4 6 4-8 4 9 4-8 4-10 4 8 3-11 4 1 4 9 4-4 4-1 4-3 4 6 4 3 4 1 4-3 4-5 4-1 4 7 4-2 4-4 4 6 4 1 4-9 4 6 4 1 4-5 3 0 4 7 4 1 4-5 4-8 4 1 4-2 4 7 4 3 4-6 4 2 4 6 4-4 4-9 4 18 4-6 4 11 4-12 4-1 4 0 4-2 3 2 4-5 4 3 4 7 4-4 4-2 4 10 4-14 4-4 4 4 4-5 4 18 4-2 4 1 4 10 4-20 4 6 4 2 4-7 4 13 4-10 3-2 4 0 4 4 4 2 4 5 4-6 4 2 4 5 4-4 4-11 4-4 4 6 4 0 4 2 4 9 4-7 4 2 4-5 4 2 4-5 4 1 3 0 4 1 4 2 4-2 4-3 4 4 4 18 4-15 4-2 4-12 4-3 4 17 4-1 4-11 4 2 4 8 4 3 4-5 4 4 4-4 4 11 3 1 4-11 4 3 4 1 4 7 4-15 4 2 4 2 4-11 4 12 4 4 4 3 4-11 4-7 4-4 4 5 4 10 4-2 4 9 4-4 4-5 3 7" stroke="#26b800"/>
<path d="M204 1529l3 3 4-4 4-5 4 7 4-7 4 1 4 7 4-2 4 1 4 2 4-5 4-1 4-1 4-1 4 1 4 6 4 1 4-2 4-4 4 0 4 1 3-6 4 0 4 11 4-4 4 1 4-1 4 4 4-9 4 4 4 1 4 5 4-3 4-2 4-6 4 5 4 8 4-3 4-6 4-2 4-1 4-1 3 7 4-1 4 1 4 0 4 7 4-5 4 5 4 3 4-3 4 5 4-7 4-4 4-6 4 2 4-6 4 3 4-3 4 8 4 2 4 2 4 5 3 0 4-5 4-1 4-5 4 5 4 7 4 0 4-6 4-1 4-5 4 0 4 2 4 7 4-5 4-5 4-2 4 5 4-1 4-1 4-2 4 0 3 1 4 8 4 0 4-10 4-4 4 4 4 8 4-3 4-4 4 6 4 10 4-8 4-6 4 6 4-4 4 4 4 1 4-10 4 5 4-1 4 1 3 7 4-2 4 0 4-1 4 0 4-4 4 1 4 6 4-10 4-6 4 3 4 9 4-6 4-3 4 5 4 0 4 0 4 2 4-2 4 4 4 1 3-12 4 7 4-1 4 2 4-2 4 1 4-4 4 0 4 5 4 11 4-13 4 0 4 8 4-6 4 5 4 1 4 5 4-6 4 0 4 5 4 1 3-10 4 0 4-3 4-2 4-2 4 3 4-1 4 7 4 2 4 4 4-9 4-9 4 6 4 2 4-3 4 4 4-5 4 1 4 6 4 0 4-7 3 0 4 1 4 0 4 4 4-1 4-2 4 0 4 4 4-9 4 8 4 0 4-2 4-4 4 2 4 6 4-7 4-2 4 5 4-3 4-1 4 3 3 0" stroke="#00ad6a"/>
<path d="M204 1460l3-3 4 9 4-11 4 8 4 9 4 13 4-12 4 4 4-11 4 1 4 0 4-2 4-5 4 7 4-7 4 0 4 5 4 13 4-2 4-6 4 5 3-5 4-7 4 5 4-7 4 12 4-3 4 8 4-5 4 1 4 0 4 4 4-14 4 7 4 1 4-4 4 0 4 0 4 2 4 0 4-3 4 0 3 0 4 5 4-7 4 4 4-2 4-2 4-6 4 13 4 2 4-14 4 16 4 4 4 2 4 4 4-19 4 2 4 5 4 8 4-1 4-9 4-2 3-4 4 5 4 5 4 0 4-5 4 2 4 5 4-4 4-9 4-10 4 9 4 2 4-12 4-2 4 0 4 18 4-16 4 17 4 1 4-8 4 0 3-4 4 13 4-2 4 3 4 2 4-3 4-4 4 9 4-11 4 1 4-1 4-8 4 6 4-3 4 11 4 5 4-1 4 2 4-4 4-15 4-2 3 15 4 0 4 4 4-6 4 6 4-12 4 8 4 5 4-6 4 4 4-15 4 11 4-8 4 4 4-5 4-4 4 0 4 10 4 6 4-3 4-4 3-4 4-1 4-11 4 11 4-3 4 10 4 9 4-13 4 5 4 1 4 4 4-5 4 2 4 5 4-5 4-6 4 7 4-4 4-9 4 14 4-2 3-8 4 4 4-2 4 3 4-1 4 9 4-5 4-11 4 3 4-3 4 5 4-6 4-1 4 9 4 1 4 2 4-4 4 7 4-1 4-3 4-3 3 6 4 2 4-1 4-14 4 6 4 4 4-4 4 1 4 5 4 14 4-14 4-4 4-6 4 5 4 0 4-10 4 20 4-7 4-5 4-1 4 5 3-6" stroke="#26b800"/>
<path d="M204 1469l3-3 4-7 4-1 4 12 4-8 4-2 4 2 4 9 4 6 4-13 4 6 4 4 4-4 4-2 4 3 4-4 4 2 4 5 4-4 4-3 4 1 3-11 4 1 4 3 4 1 4-10 4 16 4 2 4-2 4 5 4-10 4 8 4-12 4 1 4-3 4 12 4 0 4-1 4 1 4-9 4 5 4-5 3 4 4 1 4 7 4-2 4-7 4 4 4-4 4-10 4 14 4-6 4-5 4 2 4-1 4 4 4 1 4 5 4-5 4 12 4-5 4-11 4 12 3-6 4 5 4-1 4 7 4 6 4-11 4-2 4-4 4-11 4 0 4 10 4-1 4 10 4-10 4 4 4-3 4 10 4-5 4 3 4 6 4-13 3 0 4-5 4 4 4-1 4 5 4 4 4 0 4-3 4-13 4 10 4 0 4-6 4 18 4-10 4 4 4-1 4 6 4-3 4-3 4-10 4 17 3 3 4-22 4 5 4-4 4 9 4 7 4-4 4-3 4 2 4-6 4 2 4 3 4 7 4-16 4 13 4-5 4 3 4-5 4-4 4 4 4 8 3-10 4 0 4-3 4 7 4-10 4 10 4-14 4 0 4-1 4 4 4-10 4 20 4 1 4-6 4-1 4 3 4-4 4 8 4-7 4 3 4 4 3-7 4 0 4-1 4 3 4 14 4-16 4 8 4-19 4 24 4-17 4 1 4 1 4 0 4-1 4 1 4 4 4 0 4-3 4 5 4-1 4 2 3-8 4 7 4 13 4-16 4-6 4 1 4 11 4-13 4 3 4 3 4-3 4 6 4-2 4-1 4 6 4-10 4 2 4 2 4 3 4-5 4 3 3 5" stroke="#ff6600"/>
<path d="M204 1472l3-6 4 10 4-9 4 7 4 11 4-2 4-14 4 10 4-10 4 3 4-8 4 10 4-9 4 3 4 2 4-3 4 8 4 6 4-11 4 9 4 2 3-8 4 4 4-3 4 11 4-2 4-11 4 0 4 3 4 17 4-13 4-11 4 13 4 2 4-9 4 6 4-1 4-1 4 0 4 5 4-12 4 10 3 2 4-4 4-2 4 6 4-5 4-4 4 5 4 0 4 10 4-4 4-10 4-5 4 2 4 7 4-7 4 4 4-11 4 4 4-15 4 6 4 9 3 12 4 1 4-10 4 7 4-4 4 3 4-7 4 4 4-6 4 17 4-18 4 6 4-7 4-9 4 10 4 3 4 11 4-6 4-4 4 3 4-8 3 11 4-5 4 3 4-1 4-2 4-7 4 2 4-11 4 10 4-4 4-7 4 4 4 0 4 9 4 11 4-5 4 1 4-2 4 6 4 2 4-14 3 7 4-11 4 16 4-4 4-2 4-20 4 14 4 5 4-1 4 7 4 0 4-7 4 9 4-5 4 0 4-10 4 3 4 4 4 7 4-1 4 1 3-8 4 4 4-2 4-6 4-5 4 7 4-3 4 5 4 9 4-3 4 11 4-6 4-8 4 7 4-7 4-3 4-5 4-2 4 19 4 0 4 8 3-5 4-13 4-4 4-5 4 15 4-13 4 6 4-1 4 4 4-3 4 12 4-11 4-5 4 4 4 10 4-11 4-2 4 1 4 4 4 6 4-5 3-6 4-4 4 4 4-2 4-1 4 8 4-6 4-5 4 16 4 2 4-2 4-7 4 7 4-13 4 17 4-8 4-2 4 3 4-3 4 0 4-10 3 16" stroke="#6e6e6e"/>
<path d="M204 1462l3-13 4-3 4-1 4 1 4 5 4-10 4 2 4 3 4 2 4 2 4-4 4-9 4 6 4 3 4 1 4 1 4 11 4-1 4-5 4-13 4-3 3 17 4-11 4 4 4 8 4 8 4-13 4-3 4 6 4-7 4 4 4-11 4 14 4 4 4-17 4 12 4 0 4-3 4-1 4 6 4 0 4-14 3 9 4 1 4 3 4 1 4-8 4-6 4 2 4 8 4 7 4 0 4-5 4-14 4 6 4 3 4-7 4 8 4 7 4-25 4 1 4 4 4 3 3 9 4 6 4 2 4 0 4 6 4-17 4 1 4 9 4 8 4-9 4-19 4 8 4-3 4 3 4 9 4-6 4 11 4-3 4-9 4-3 4 4 3 11 4 1 4 0 4-15 4 3 4-6 4-3 4 11 4 6 4-14 4 3 4 6 4 0 4-3 4-9 4-1 4 7 4-3 4 3 4 10 4-5 3 5 4-1 4 8 4-6 4-8 4-7 4 4 4 5 4-6 4 3 4 12 4-18 4 5 4 9 4 2 4-5 4-7 4 9 4-5 4-6 4 8 3-7 4 1 4-7 4 0 4 0 4-4 4 9 4 11 4-1 4 4 4-13 4 9 4-6 4 3 4 1 4 11 4-11 4 3 4 2 4-2 4-6 3 0 4 4 4 5 4-2 4-7 4 1 4-3 4 6 4 13 4-8 4-10 4-4 4 9 4-14 4-1 4 9 4 11 4 1 4 0 4-14 4 1 3 0 4 6 4-11 4 4 4 11 4 1 4 1 4-1 4-6 4 0 4-2 4 14 4 3 4-11 4-13 4 2 4 8 4 3 4 1 4-4 4-4 3 4" stroke="#c67aea"/>
<path d="M204 1524l3 2 4-2 4-3 4 11 4 3 4-6 4-6 4-3 4 7 4 0 4-1 4 7 4-4 4 1 4 3 4-8 4 8 4-3 4-2 4-2 4 2 3 5 4-2 4 1 4-4 4 6 4-6 4 0 4-9 4 1 4 5 4 0 4 6 4-2 4 3 4-4 4 0 4 0 4 6 4-3 4 0 4-7 3 3 4 2 4-5 4 2 4 8 4-5 4 1 4-1 4-5 4 1 4 1 4 4 4 6 4-4 4-9 4 9 4-5 4 3 4-3 4 3 4-7 3 1 4 1 4-5 4 10 4 6 4-10 4 8 4-6 4-1 4-2 4 0 4 1 4-1 4-1 4 1 4 3 4-1 4 6 4-4 4 5 4-15 3 8 4-4 4-6 4 11 4-5 4 0 4 0 4 5 4 4 4-4 4-1 4-8 4 6 4 2 4 5 4 3 4-6 4-2 4 4 4 3 4-9 3 4 4-2 4 1 4 1 4 0 4 2 4-2 4 5 4-5 4-2 4-2 4-1 4 6 4 1 4 1 4-2 4 3 4-1 4-5 4 3 4-7 3 2 4 3 4 0 4 1 4-4 4 5 4-1 4 0 4 4 4-1 4 3 4-7 4 2 4 1 4-1 4-5 4 2 4 3 4-6 4 0 4 6 3-1 4 0 4 1 4 3 4-10 4 6 4 4 4-6 4 1 4 6 4-7 4 7 4-6 4-4 4 1 4 2 4 1 4-2 4 4 4-8 4 5 3 0 4 3 4-10 4 3 4-5 4 7 4 2 4 2 4 0 4-7 4 4 4-1 4-2 4-1 4 1 4-5 4 7 4 4 4 2 4-1 4-3 3-7" stroke="#26b800"/>
<path d="M204 1498l3-6 4 1 4-2 4-5 4 3 4 14 4 3 4-7 4-2 4-1 4 9 4-6 4-11 4-3 4 13 4-6 4-1 4 5 4-11 4 16 4-3 3 3 4 1 4-4 4-2 4 10 4 9 4 2 4-6 4-4 4-4 4 0 4-7 4 5 4 8 4-3 4 4 4-7 4-14 4 0 4 5 4 8 3-6 4-3 4 12 4-6 4 3 4 5 4-9 4-7 4 2 4 10 4-6 4-2 4 9 4-1 4-7 4 6 4-5 4-9 4 8 4-2 4 2 3 24 4-18 4-3 4-12 4 4 4 6 4 7 4-7 4 6 4-6 4 2 4 3 4 5 4-2 4-10 4 10 4 6 4-16 4 2 4 3 4-8 3 17 4 0 4 3 4-10 4 1 4-6 4-3 4-2 4 15 4-12 4 11 4-7 4 0 4-4 4-5 4 6 4 4 4 1 4-1 4 1 4 5 3-1 4-18 4 11 4-11 4-3 4 10 4 10 4 9 4-12 4-4 4-2 4-8 4 3 4 6 4-4 4 2 4 0 4-6 4 7 4-4 4 1 3 3 4-3 4 10 4 1 4-5 4-7 4-7 4 21 4-9 4 13 4-10 4-4 4-7 4 1 4 10 4 2 4-4 4 7 4 2 4-4 4-12 3 10 4 7 4 8 4-13 4 3 4 8 4-18 4 10 4-11 4 9 4 0 4-1 4 3 4-3 4-14 4 5 4 5 4-15 4 5 4 1 4 9 3 8 4-8 4 12 4-4 4-8 4-14 4 12 4 3 4 4 4-4 4 0 4-1 4 2 4-4 4-12 4 5 4-1 4-3 4 1 4 0 4 4 3 2" stroke="#ff6600"/>
<path d="M204 1515l3-6 4 10 4 2 4-12 4-1 4 0 4 2 4 1 4-11 4-2 4 4 4-1 4 7 4-2 4 2 4 4 4-3 4-7 4 6 4 5 4-2 3-1 4-1 4 9 4-3 4-16 4 1 4 11 4 9 4-8 4 12 4-13 4 1 4 10 4-13 4-10 4 0 4 10 4 4 4-3 4 0 4 1 3 12 4-15 4 0 4-11 4 10 4 8 4 1 4-4 4 4 4-12 4-3 4 5 4 2 4 7 4 0 4-3 4 1 4-5 4 8 4-3 4 5 3-2 4-3 4-9 4 11 4 4 4-16 4 2 4 8 4 4 4-5 4 2 4 0 4 6 4-1 4 1 4-6 4 3 4-10 4 9 4-7 4-2 3 6 4 5 4-4 4 0 4-8 4-1 4 7 4-1 4 11 4-3 4-3 4 0 4 7 4-4 4-1 4-13 4 2 4 1 4-5 4-3 4 0 3 7 4 5 4 2 4-9 4 13 4-11 4 2 4 1 4-6 4 11 4 0 4-9 4-4 4 2 4 3 4-2 4-4 4 11 4-14 4 1 4 12 3-1 4 0 4 6 4-6 4-5 4 9 4-3 4-3 4 1 4 2 4-4 4 1 4 16 4-17 4-1 4 6 4-1 4-4 4-1 4 5 4 3 3 2 4 1 4 9 4-4 4-14 4-9 4 6 4-5 4 17 4-6 4 2 4-6 4 5 4-10 4 2 4 4 4 4 4 1 4-2 4-4 4-2 3-3 4 12 4-10 4 2 4 7 4-3 4 2 4 1 4-3 4-1 4-3 4-5 4 2 4 1 4 9 4-6 4 3 4 4 4-3 4-3 4-1 3 2" stroke="#6e6e6e"/>
<path d="M204 1472l3 2 4 10 4-8 4 0 4 1 4-12 4-6 4 5 4 1 4 6 4-10 4 5 4 5 4-9 4 12 4 0 4-8 4 14 4 10 4 10 4-16 3-13 4-17 4 11 4-1 4 22 4-9 4 1 4-14 4 9 4 8 4-4 4-11 4 11 4-12 4 5 4 10 4-11 4 1 4-16 4 11 4-1 3 11 4 10 4-14 4 2 4 0 4-10 4 14 4-7 4 4 4 5 4-10 4 2 4 6 4-7 4 1 4 1 4-5 4 10 4-4 4-5 4 3 3 0 4-7 4 12 4-4 4-5 4 5 4 2 4-9 4 6 4 5 4-11 4 16 4-1 4 8 4-5 4-8 4-16 4 13 4-13 4 15 4-15 3 9 4 0 4-1 4 4 4 1 4-8 4 5 4-8 4 6 4 9 4 2 4-7 4-10 4-4 4 10 4-2 4 13 4 11 4-16 4 8 4 3 3-2 4-9 4-17 4 4 4 15 4 2 4 0 4-17 4 10 4 8 4-6 4 0 4-5 4-2 4 9 4 0 4-1 4 4 4 7 4-2 4-11 3-9 4 12 4 9 4-7 4-3 4 7 4-11 4 6 4-7 4 3 4-13 4 11 4 10 4-16 4 6 4-2 4 1 4-1 4 8 4-6 4-4 3 3 4 2 4 5 4-9 4-3 4-10 4 8 4 0 4 9 4 1 4-9 4 2 4 11 4 8 4-3 4-7 4 11 4-12 4 2 4-5 4-7 3 6 4 11 4-15 4 0 4 7 4-12 4 4 4 7 4 5 4 6 4-6 4 2 4-10 4 1 4 3 4-1 4-9 4-2 4 2 4-2 4-2 3 21" stroke="#00ad6a"/>
<path d="M204 1483l3-21 4 8 4 16 4-13 4-6 4 2 4 11 4-11 4 2 4 13 4-4 4-9 4 12 4-12 4-1 4 2 4-12 4 4 4 4 4 5 4-12 3 5 4 14 4-6 4-5 4 2 4 2 4 0 4-18 4 21 4-5 4-1 4 9 4-13 4 3 4-11 4 9 4-1 4 9 4 0 4 6 4-2 3-7 4 10 4-3 4-3 4-8 4 3 4 5 4 0 4-11 4-4 4 7 4-1 4 1 4 8 4-9 4 13 4-15 4 6 4 2 4 4 4-11 3 6 4-1 4-6 4-4 4 1 4-11 4 20 4-10 4-2 4 13 4 12 4 1 4-11 4-6 4 4 4 6 4 7 4-8 4-3 4 5 4-8 3 5 4-15 4 6 4 4 4 5 4-9 4-7 4 17 4 0 4-1 4-3 4-5 4 16 4-9 4-4 4-15 4 4 4 12 4-2 4-2 4 1 3-2 4 6 4 5 4-11 4 15 4-3 4-7 4-1 4-2 4 9 4-6 4-14 4 6 4-3 4 11 4-6 4 0 4 14 4-5 4 2 4-4 3-5 4 10 4 0 4-7 4 3 4-8 4 0 4 6 4-10 4 10 4-3 4 3 4-14 4 13 4-2 4 12 4-8 4 3 4-7 4 5 4 4 3-3 4-11 4 5 4 8 4 2 4-1 4 2 4 5 4-4 4-2 4 11 4-13 4 3 4-9 4 18 4-19 4 1 4-13 4 19 4 1 4 0 3-4 4 9 4 5 4-13 4-2 4 8 4-16 4-1 4 0 4 12 4 0 4 7 4-1 4-18 4 5 4-5 4 0 4-7 4 4 4 1 4-4 3 17" stroke="#ff2d2d"/>
<path d="M204 1522l3 10 4-10 4 1 4 2 4 1 4 6 4-6 4 1 4 3 4 2 4-3 4 7 4-4 4-2 4-5 4-5 4-1 4 4 4 1 4 3 4-1 3 0 4-8 4 5 4 2 4 3 4-3 4 4 4-5 4-1 4 9 4-5 4 1 4-8 4 5 4 0 4 5 4 1 4 1 4 0 4-5 4-2 3 4 4 6 4-5 4-2 4 4 4-6 4-6 4 0 4-2 4 4 4-5 4 8 4 1 4-1 4-4 4 5 4-4 4-3 4 4 4 3 4 0 3 7 4 0 4-8 4-3 4 2 4 2 4 2 4 0 4-2 4 1 4-1 4-7 4-1 4 12 4-3 4-4 4-1 4 7 4-1 4-8 4 0 3 8 4-7 4 9 4 5 4-8 4-1 4 2 4 0 4 3 4-1 4-3 4-3 4 3 4 1 4 5 4-9 4-1 4 2 4-5 4-1 4 1 3 4 4 1 4-1 4 5 4 1 4-4 4-5 4 1 4-3 4 9 4-1 4 1 4-8 4 6 4-4 4 5 4 1 4 1 4 9 4-11 4 0 3 1 4 3 4-8 4-2 4-3 4 7 4 1 4-2 4 4 4-6 4 6 4-5 4 4 4-2 4 7 4-9 4-3 4 4 4 1 4 3 4-1 3-4 4-1 4 8 4 6 4-1 4-6 4 7 4-5 4-7 4 1 4 0 4 3 4 1 4-6 4-2 4 13 4-8 4 1 4 7 4 3 4-3 3-8 4-6 4-1 4 6 4-3 4 2 4-6 4 2 4 2 4-8 4 7 4 3 4-8 4 0 4 3 4 2 4-3 4 4 4 3 4 0 4-1 3 3" stroke="#26b800"/>
<path d="M204 1495l3 2 4 2 4 1 4 2 4-7 4 2 4-4 4 9 4 1 4 11 4-11 4-4 4 4 4-9 4 15 4-18 4-1 4 6 4 11 4 3 4 1 3-8 4 10 4-18 4 12 4 5 4-5 4-5 4-7 4 4 4-7 4 16 4-9 4-10 4-2 4 0 4 22 4-3 4-9 4 9 4-3 4 9 3-11 4 3 4 2 4 5 4-17 4 8 4 5 4-15 4 10 4 5 4 2 4-8 4 3 4-9 4 4 4 6 4 1 4-9 4-4 4-3 4 10 3-4 4-6 4 11 4-6 4 2 4-6 4 3 4 11 4-19 4 3 4 16 4 4 4-19 4 12 4-7 4 0 4 5 4-5 4-3 4 1 4 7 3-7 4 12 4-2 4 12 4-14 4-5 4 2 4-1 4 6 4 1 4 6 4-8 4-1 4-8 4-3 4 8 4 12 4-17 4-2 4 11 4 14 3-3 4-13 4 2 4 0 4-2 4-9 4-6 4 0 4 8 4 1 4 17 4-6 4-5 4 1 4 2 4 8 4-15 4-3 4 4 4-1 4 1 3-9 4 15 4 2 4-6 4 0 4-1 4 0 4 9 4-1 4-2 4-8 4-6 4 18 4 3 4-6 4-6 4 0 4-5 4 22 4-11 4-3 3-2 4-5 4 17 4-9 4 3 4-8 4-3 4-5 4 3 4 4 4-2 4-2 4-2 4 14 4-1 4-3 4-8 4 7 4 1 4-1 4 4 3 15 4-12 4-3 4-3 4 3 4 0 4-14 4 7 4 6 4 8 4 2 4-7 4-7 4 4 4 0 4-5 4-1 4 12 4-7 4 4 4-7 3 10" stroke="#6e6e6e"/>
<path d="M204 1482l3 8 4-10 4 20 4 10 4-6 4-2 4-13 4-5 4 14 4-5 4 1 4 1 4 1 4-8 4 2 4-8 4 10 4 2 4 8 4 4 4-9 3 5 4-5 4 0 4-8 4 1 4 4 4 13 4-6 4-3 4-3 4 2 4 10 4-11 4 16 4-9 4-6 4 8 4-3 4 4 4-9 4-7 3 12 4 1 4-8 4-4 4 0 4 9 4-5 4 19 4-6 4-14 4-4 4 18 4-12 4 13 4-9 4 8 4-20 4-4 4 19 4 8 4-3 3-11 4 8 4-12 4-7 4-1 4 17 4-7 4 22 4-15 4-3 4 7 4-7 4 4 4-9 4 7 4-9 4 12 4 0 4-6 4-2 4 2 3 3 4-3 4-3 4 4 4 2 4 1 4 8 4 2 4-6 4 5 4-5 4-2 4-1 4-9 4 12 4-6 4-6 4-8 4 18 4-5 4 10 3-12 4 0 4 10 4 2 4-1 4-4 4 1 4-10 4 3 4-4 4-5 4-2 4 10 4-1 4 0 4-7 4 3 4 10 4-6 4-7 4 12 3-3 4-2 4 8 4 3 4-2 4-5 4 1 4-5 4 5 4-6 4 13 4-15 4 10 4-7 4-4 4 0 4 9 4-1 4-5 4-9 4 21 3 1 4-7 4-6 4 13 4-8 4 6 4-6 4-3 4-4 4 13 4-9 4 1 4-9 4 2 4 2 4 4 4-4 4 1 4 5 4-1 4-10 3 6 4 0 4 14 4-9 4 5 4-13 4-3 4 5 4 4 4 12 4-14 4 12 4-10 4-1 4-3 4-9 4-1 4 4 4 12 4-1 4 0 3-3" stroke="#0068e0"/>
<path d="M204 1499l3 8 4-11 4-1 4 2 4 12 4-6 4-6 4 7 4 3 4-13 4 3 4 3 4 1 4 4 4-8 4 5 4 6 4-5 4-2 4 4 4-5 3-1 4-5 4 6 4-2 4-10 4 6 4 3 4 22 4-10 4-19 4 10 4 1 4 2 4 7 4-16 4 8 4-2 4-6 4-3 4 6 4 7 3 0 4-1 4-4 4 10 4-1 4 2 4-14 4 3 4-12 4 9 4 8 4-15 4-5 4 13 4 4 4-4 4-13 4 11 4 4 4-2 4-2 3 13 4-2 4 6 4-14 4 0 4 0 4-6 4 7 4 6 4-7 4 9 4-3 4 5 4-8 4-6 4 3 4-2 4-11 4 16 4 17 4-10 3-17 4 7 4 1 4 10 4-17 4 2 4 1 4 4 4-1 4-4 4-1 4 13 4 0 4-7 4-8 4 3 4 2 4 15 4-8 4 3 4-3 3-3 4 5 4 3 4-7 4-5 4 2 4 6 4-13 4 3 4 2 4 2 4 5 4 6 4-4 4 2 4 3 4-13 4 9 4 1 4-3 4 2 3-9 4-2 4 4 4 2 4 10 4-15 4 12 4-11 4 4 4-8 4 11 4 10 4-4 4-10 4 7 4 1 4-1 4-10 4 4 4-5 4 15 3-9 4-6 4-3 4-1 4-4 4 10 4 6 4 4 4-9 4 4 4-8 4-5 4 12 4 4 4-8 4-1 4 15 4-11 4-6 4 14 4-17 3 0 4 7 4-23 4 9 4 10 4-7 4 22 4-4 4-3 4-8 4 1 4 3 4 4 4 13 4-7 4-11 4 7 4 7 4-14 4-4 4 20 3-7" stroke="#ff6600"/>
<path d="M204 1437l94 0 3 4 81 0 2-10 52 0 5 8 41 0 3 3 62 0 4 2 94 0 2-7 34 0 5 7 39 0 2-12 40 0 4 4 46 0 2-1 38 0 5 7 62 0 2-3 28 0" stroke="#26b800"/>
<path d="M204 1433l3 0 4-2 4 1 4-1 4 0 4-2 4 2 4-3 4 1 4 2 4 1 4-2 4 0 4 3 4-5 4-5 4 0 4 8 4-3 4 5 4 2 3 0 4-6 4 12 4-6 4-7 4 1 4-2 4 1 4 3 4-10 4 6 4 9 4 0 4-5 4 1 4-4 4 7 4 8 4-8 4-6 4 8 3-6 4 3 4-7 4 2 4 0 4-1 4 8 4 1 4 5 4-9 4-4 4 7 4-9 4 11 4-9 4 10 4-7 4-6 4 5 4-7 4 5 3-3 4-1 4-2 4 12 4-8 4-6 4-4 4 8 4 7 4 0 4-4 4 8 4 2 4-4 4 0 4-8 4-5 4 15 4-4 4 9 4-5 3-4 4-3 4 10 4-4 4-5 4-8 4 5 4-1 4 5 4-8 4 3 4 2 4 0 4 1 4 2 4 1 4 5 4-13 4 16 4 1 4-12 3-1 4 1 4-8 4 5 4 3 4 6 4-7 4 5 4-1 4-6 4 6 4-6 4 5 4 1 4 5 4-3 4-6 4 8 4-4 4-2 4-2 3-1 4 8 4-2 4 1 4-3 4-6 4-1 4-1 4 8 4 2 4 3 4-2 4-10 4 5 4 0 4 5 4 1 4 1 4 0 4-10 4-3 3 0 4 8 4 3 4-1 4-4 4-2 4 7 4-8 4 4 4 3 4 2 4-6 4 4 4-1 4-2 4-1 4 3 4-7 4-1 4 1 4 3 3-1 4 4 4-6 4 8 4 2 4-2 4 7 4-9 4 0 4-1 4 4 4 0 4-7 4-4 4-1 4 0 4 2 4 4 4 1 4-4 4 4 3-1" stroke="#969100"/>
<path d="M204 1449l3 2 4 7 4 6 4-6 4-11 4 2 4-1 4 3 4 0 4-8 4 13 4-6 4 0 4 7 4-7 4-7 4 3 4 6 4-7 4 8 4 5 3-7 4 8 4-3 4-1 4-6 4 6 4-5 4 7 4-6 4-1 4 10 4-16 4 4 4 6 4 8 4-8 4 6 4-5 4 3 4-8 4-8 3 21 4 6 4-6 4-4 4-3 4-6 4 2 4-5 4 17 4 1 4-15 4 8 4-15 4 5 4-8 4-1 4 2 4 5 4 3 4 4 4 2 3-9 4-4 4 9 4-3 4-7 4 5 4 3 4-3 4 12 4 0 4-5 4-5 4 10 4 10 4-12 4-15 4-3 4 6 4 6 4 6 4-9 3 3 4-6 4-2 4 9 4-5 4-15 4 17 4 0 4 4 4-2 4 3 4-6 4 13 4-17 4-2 4 16 4-8 4 1 4 13 4-7 4-5 3 3 4-13 4 13 4 6 4-3 4-2 4 9 4-8 4-12 4-8 4-4 4 6 4 6 4 10 4-4 4 10 4-8 4-5 4 8 4-6 4 11 3-11 4 8 4-12 4-3 4 5 4-1 4 2 4-9 4 3 4 5 4 3 4 10 4-5 4-5 4-1 4 9 4-6 4-5 4 14 4-9 4-13 3 4 4-4 4-2 4 2 4 19 4-10 4 7 4 3 4-5 4-2 4 0 4-2 4 10 4-1 4-6 4 0 4-8 4 3 4-1 4 5 4-6 3-9 4 4 4-3 4 5 4 5 4 2 4-15 4 15 4-3 4-6 4 13 4-5 4 2 4 14 4-12 4 3 4-6 4-3 4-4 4 9 4-2 3-3" stroke="#26b800"/>
<path d="M204 1486l3-11 4 15 4 2 4-1 4-1 4-7 4 5 4-2 4 2 4-3 4-11 4 6 4 3 4 11 4 1 4 0 4-18 4 1 4 8 4 14 4-13 3-4 4-2 4 10 4-9 4 15 4-9 4-8 4 6 4 3 4-2 4 15 4-7 4-4 4 1 4-6 4 3 4-12 4 6 4 1 4-3 4 5 3 0 4 1 4-3 4 7 4 0 4 2 4-2 4-5 4 8 4 4 4 3 4-5 4-7 4 9 4-15 4 1 4 1 4 1 4-9 4 9 4 10 3 6 4-3 4-10 4-16 4 10 4-1 4 2 4 4 4-2 4-13 4-9 4 18 4 10 4 0 4 7 4-25 4 2 4 15 4 8 4-18 4-1 3 4 4 2 4-2 4 27 4-16 4 3 4 3 4-12 4 2 4 1 4-6 4-2 4 6 4-5 4 13 4-6 4 3 4-11 4 7 4-6 4 7 3 5 4-2 4-7 4-8 4-1 4 12 4 2 4-1 4-3 4-8 4 3 4-8 4 3 4 2 4 9 4-1 4 2 4-2 4-19 4 18 4-9 3 11 4 4 4-7 4 5 4 1 4-1 4-15 4 5 4 12 4-5 4 7 4-5 4 5 4 1 4 3 4 1 4-18 4-4 4 5 4 2 4 5 3-3 4-8 4 5 4 8 4 8 4 0 4-12 4 4 4 2 4-7 4 9 4-3 4 11 4-13 4-13 4-11 4 9 4 13 4 2 4-9 4 4 3-1 4-1 4 2 4 4 4-8 4 8 4-6 4-2 4-6 4 8 4-4 4 0 4 13 4 3 4-7 4-9 4-5 4 2 4 18 4 0 4-11 3 16" stroke="#4499d8"/>
<path d="M204 1479l3 14 4 1 4-6 4 5 4-9 4 4 4 14 4-1 4-2 4-6 4-3 4 6 4-4 4 3 4 3 4-4 4-4 4 4 4-10 4 8 4 7 3-2 4-11 4 11 4-2 4-9 4 0 4 12 4-3 4-13 4 12 4-6 4 4 4-2 4 12 4 0 4-2 4-19 4 15 4-18 4 5 4-5 3 8 4-9 4 6 4 15 4-12 4-1 4-4 4 8 4-2 4 2 4 4 4 1 4-6 4 2 4 3 4-6 4 11 4-6 4-1 4-12 4 16 3-12 4 10 4-3 4-3 4 5 4-8 4-3 4 8 4-2 4-3 4 3 4 4 4-4 4 8 4-15 4 8 4-5 4 3 4 6 4 0 4 1 3-1 4-21 4 20 4-4 4-9 4-4 4 6 4 16 4-4 4 3 4-2 4-13 4 4 4 3 4-7 4 9 4 18 4-2 4-17 4-12 4 6 3 10 4 2 4-4 4-4 4 0 4-1 4 7 4-7 4 7 4-12 4 4 4 7 4-5 4 4 4 3 4-11 4 2 4 0 4 13 4-10 4-7 3 4 4-5 4 16 4 5 4-14 4-1 4 2 4-10 4 4 4-1 4 1 4-2 4 7 4 0 4-11 4 7 4 8 4-3 4-5 4 4 4 5 3-5 4 9 4-8 4 7 4-7 4 4 4-8 4-1 4-9 4 10 4 12 4-7 4 7 4 0 4-4 4-5 4-5 4 0 4-8 4 0 4 5 3 17 4-7 4 2 4-2 4-5 4-1 4-5 4 4 4 8 4 4 4 7 4-11 4 6 4-4 4 7 4-6 4-9 4 7 4-2 4-6 4 1 3 11" stroke="#0068e0"/>
<path d="M204 1474l3-4 4-12 4 1 4 10 4 0 4 2 4-6 4-5 4 8 4-8 4 2 4 2 4 8 4 0 4-13 4 1 4-1 4 11 4-3 4-9 4 9 3-1 4 1 4-6 4 2 4-3 4-2 4 13 4-3 4 6 4-9 4-2 4 11 4 3 4-10 4-5 4 4 4-8 4 5 4 2 4-7 4 7 3 1 4 4 4-4 4 2 4-2 4-1 4 14 4-12 4-9 4 14 4-2 4 1 4-8 4 5 4-8 4 4 4 12 4-2 4-6 4 5 4-2 3-12 4-4 4 11 4-6 4 1 4 1 4 5 4 2 4 4 4 1 4 2 4-4 4-3 4 7 4 0 4-7 4 4 4-5 4 4 4-24 4 18 3 3 4-13 4 2 4 14 4-1 4 5 4-4 4-9 4 10 4 1 4 4 4-9 4-11 4-3 4 5 4 3 4-2 4 2 4-1 4 0 4-4 3 0 4 15 4 8 4-6 4-15 4-1 4 9 4-5 4 5 4 1 4-1 4 3 4-5 4-8 4 13 4 2 4 6 4-4 4-12 4-7 4 3 3 5 4-9 4 5 4 5 4 3 4 0 4-8 4 4 4 2 4-4 4 1 4 7 4-4 4 0 4 3 4-7 4 4 4 0 4-4 4 6 4-4 3-5 4 1 4 1 4 12 4 2 4-6 4 1 4-4 4-4 4 0 4 0 4 10 4-5 4 6 4 1 4 4 4-12 4 8 4-16 4 7 4 2 3 8 4 9 4-25 4 13 4-6 4-3 4 6 4-4 4-8 4 2 4 11 4-7 4 10 4 2 4-6 4-2 4 5 4 1 4-2 4-15 4 4 3 1" stroke="#ff6600"/>
<path d="M204 1476l3 8 4-7 4-5 4 6 4-14 4 14 4-1 4 13 4-12 4-6 4 7 4-11 4 7 4-1 4-4 4 7 4-7 4 6 4 0 4 7 4 0 3-4 4 2 4-12 4-1 4 13 4-5 4 4 4-7 4 6 4-6 4-3 4 6 4-11 4-8 4-1 4 17 4-8 4 19 4-16 4 4 4-9 3 4 4 4 4-2 4-5 4-1 4 8 4 0 4 6 4 1 4 8 4 3 4 3 4-16 4-5 4 7 4 1 4 15 4-24 4 7 4 1 4 1 3 0 4-7 4-3 4-3 4 10 4-3 4 11 4-14 4 8 4-3 4-2 4-1 4-3 4-1 4 5 4 12 4-5 4-8 4 8 4 1 4 5 3-3 4-12 4 7 4 1 4 8 4-11 4 6 4-10 4 3 4 6 4-5 4 9 4-9 4 5 4-1 4 13 4-19 4 9 4-8 4-4 4 0 3-1 4 4 4-9 4 7 4 9 4-8 4-11 4 9 4-11 4 4 4 4 4-5 4 22 4-21 4 3 4 2 4 5 4 0 4-5 4 6 4 10 3-7 4-2 4-4 4-4 4 1 4 2 4 3 4 3 4 3 4 2 4-15 4-6 4 0 4 14 4 0 4 9 4-14 4 1 4 2 4 11 4-2 3 0 4-11 4 8 4 6 4 3 4-7 4-4 4-1 4-1 4-4 4 4 4-11 4 5 4 8 4-9 4 20 4-8 4-5 4 10 4-9 4-2 3 4 4-19 4 23 4-6 4 4 4-6 4-2 4 9 4 1 4-12 4 22 4-17 4-6 4-7 4 22 4-6 4-7 4-4 4 8 4-10 4 12 3 7" stroke="#4499d8"/>
<path d="M204 1517l3 6 4-11 4 6 4-7 4-5 4 4 4-9 4 7 4 4 4 2 4 2 4-7 4 14 4-4 4-15 4 1 4-1 4 4 4-11 4-8 4 13 3 8 4 7 4-11 4-11 4 4 4 12 4-4 4 4 4 6 4-12 4-5 4 3 4-1 4 6 4 5 4 8 4-7 4-7 4 7 4-13 4 12 3-4 4 2 4-3 4 2 4 4 4-10 4-7 4 11 4-6 4 14 4 8 4-16 4-3 4-5 4 4 4 7 4-3 4-4 4-2 4 7 4 5 3-5 4-5 4 3 4-5 4 9 4-3 4-3 4-3 4-7 4 11 4-8 4 11 4 2 4-7 4 4 4 9 4 1 4-15 4 0 4 7 4 0 3-9 4 4 4 2 4 6 4 4 4-10 4 0 4-1 4 10 4-9 4 9 4-9 4-2 4 8 4-5 4-6 4-13 4 13 4 5 4 4 4 5 3-7 4 2 4-1 4-6 4 2 4-1 4-3 4 8 4-7 4 7 4 3 4 0 4 2 4-10 4-2 4-6 4 17 4-9 4 1 4-14 4 6 3 24 4 3 4-13 4-6 4-8 4 6 4-5 4 17 4-7 4 3 4-11 4 9 4-13 4 5 4 9 4-4 4 0 4 6 4-11 4 4 4 9 3 1 4-2 4 6 4-10 4-13 4 14 4 5 4-7 4-6 4 6 4 1 4-12 4 15 4 2 4-3 4-3 4 0 4 4 4 6 4-5 4 5 3-11 4-4 4 1 4 8 4-11 4 13 4-6 4-2 4 7 4-10 4 4 4 0 4 1 4-3 4-1 4 0 4 6 4-5 4-1 4-1 4 1 3 5" stroke="#26b800"/>
<path d="M204 1502l3 3 4-3 4 9 4 0 4 0 4 9 4-2 4-8 4 1 4-8 4 8 4 0 4 6 4-8 4 11 4-15 4 2 4 5 4 0 4-8 4 10 3 7 4-18 4 5 4 14 4-9 4-7 4 7 4-4 4 1 4 2 4 5 4 5 4-4 4 5 4-15 4-3 4 10 4-2 4 5 4-5 4-7 3 10 4 5 4 4 4-4 4 5 4-9 4-1 4 10 4 5 4-19 4-2 4-4 4 17 4-11 4-8 4-6 4 16 4 1 4-3 4 1 4-8 3 12 4-9 4 3 4 2 4-10 4 11 4-9 4 4 4 12 4-4 4 3 4-4 4-7 4 9 4-7 4-10 4 5 4 0 4 2 4-8 4 0 3 13 4 1 4 15 4-12 4 3 4-16 4 4 4-1 4 9 4 3 4-9 4 0 4 7 4-8 4-3 4 11 4 3 4 3 4-10 4 0 4 2 3-2 4 9 4-17 4 18 4-7 4-9 4 10 4-15 4 13 4-14 4 7 4 3 4 3 4-4 4 5 4-1 4-5 4 10 4-1 4 2 4-10 3-2 4 8 4-3 4 0 4 3 4-10 4 8 4-13 4 13 4-9 4 3 4 9 4-2 4 0 4-9 4-4 4-4 4 15 4 6 4 2 4-8 3 6 4-4 4-6 4-3 4-3 4 13 4-5 4 5 4-7 4 5 4 5 4-10 4 0 4 11 4-2 4-1 4 4 4 5 4-1 4-3 4-7 3 13 4-17 4-5 4-1 4 10 4 2 4-5 4 0 4-4 4-1 4-2 4-3 4 4 4 1 4 6 4-6 4-2 4-8 4 5 4 12 4-2 3-6" stroke="#4499d8"/>
<path d="M204 1467l3-3 4 7 4-14 4-3 4 9 4-4 4 2 4 2 4-8 4 7 4-12 4 11 4 9 4-3 4-6 4-7 4-5 4 13 4-3 4-9 4 0 3 1 4 7 4 10 4 3 4 1 4-12 4-5 4 0 4 0 4 8 4 1 4 0 4-4 4 0 4 0 4 5 4-21 4 15 4-1 4 2 4 14 3 0 4-15 4 8 4 0 4-23 4 23 4 0 4-11 4-12 4 20 4-11 4-14 4 18 4 0 4 4 4-1 4-8 4 1 4 5 4-2 4 4 3 2 4-3 4-9 4-4 4-2 4 14 4 1 4 1 4 4 4-10 4 3 4-4 4 8 4-7 4 11 4-8 4 4 4-7 4 16 4-12 4 6 3-11 4-3 4 2 4 7 4 9 4-15 4-7 4 7 4-5 4-6 4 22 4-3 4-4 4-1 4 6 4-5 4-2 4 3 4-6 4 1 4 1 3-3 4 1 4-3 4 11 4 3 4-5 4 0 4-2 4-3 4 9 4 10 4-4 4 5 4-14 4 4 4 8 4 5 4-11 4-3 4-4 4-4 3-6 4 7 4 5 4 4 4-9 4 13 4 0 4 3 4-11 4 6 4-7 4-10 4 0 4 0 4-5 4 7 4 14 4 9 4-13 4-15 4 11 3-8 4 10 4-16 4 6 4 10 4-7 4 4 4 4 4-10 4 7 4-1 4 7 4 3 4-6 4 0 4-1 4-12 4 9 4 9 4-11 4-2 3-9 4 8 4 4 4 4 4 1 4 4 4-12 4-9 4 3 4 10 4-1 4 10 4-11 4-2 4 0 4-5 4 0 4 9 4-4 4-1 4 5 3-9" stroke="#26b800"/>
<path d="M204 1514l3 8 4 2 4 3 4 3 4 0 4-4 4-7 4 4 4-1 4 3 4 0 4 0 4-4 4-1 4 2 4 1 4 5 4-3 4-2 4 2 4-7 3 10 4-3 4 2 4 1 4 1 4-6 4-4 4 4 4-6 4 2 4 3 4-1 4 3 4-2 4-4 4 2 4 6 4-4 4 2 4-1 4-1 3 2 4 1 4-4 4-2 4 6 4-1 4 1 4 2 4-4 4 1 4 2 4-8 4 8 4 1 4-3 4 7 4-5 4-1 4-6 4 8 4 2 3 2 4-8 4 0 4 3 4 2 4 2 4-7 4-3 4 1 4 0 4-4 4 2 4 11 4-5 4-1 4-3 4 3 4-3 4 4 4 6 4 3 3-9 4-10 4 7 4 6 4-7 4 1 4 1 4 3 4 2 4-4 4-8 4 0 4 4 4-6 4 13 4 5 4-4 4-9 4-4 4 5 4-8 3 5 4-6 4 11 4 13 4-13 4-2 4 2 4-1 4 3 4 7 4-4 4-5 4 1 4-7 4 9 4 2 4 1 4-2 4 0 4 1 4-1 3 4 4-7 4 7 4-4 4 0 4-6 4 4 4-4 4 3 4-8 4 7 4 5 4 4 4-5 4-3 4 10 4-8 4 1 4-5 4 5 4 1 3-2 4 2 4-7 4 3 4 1 4 1 4-2 4 3 4 0 4 3 4-9 4 8 4-7 4 7 4 0 4 3 4-7 4 3 4 0 4 1 4 0 3-9 4 9 4-5 4-2 4-5 4 9 4-11 4 3 4 2 4 4 4 5 4-1 4-3 4-3 4 5 4-12 4 7 4-5 4 6 4 4 4-5 3 14" stroke="#00ad6a"/>
<path d="M204 1437l3 7 4-5 4 0 4-5 4 3 4 4 4-13 4 5 4 7 4 4 4-1 4-2 4-12 4 13 4-1 4 4 4 0 4-4 4-3 4-7 4 1 3 5 4 1 4 0 4-6 4 5 4 0 4-4 4 4 4-5 4 5 4 4 4 6 4-2 4-3 4-16 4 10 4 7 4-2 4 3 4-4 4-8 3 0 4 4 4-3 4 13 4-2 4-6 4 7 4-13 4 7 4 8 4-11 4 6 4 9 4-6 4-1 4-9 4 7 4-8 4 5 4 3 4-2 3 2 4-5 4 2 4 7 4-8 4 0 4 0 4 2 4 4 4 2 4-8 4-2 4 1 4 7 4 6 4-13 4 5 4 0 4 3 4-15 4 0 3 6 4-3 4 11 4-2 4-3 4 0 4 2 4 4 4-4 4-6 4 4 4-4 4 3 4-3 4 6 4 4 4-6 4 8 4-3 4-4 4 5 3-16 4 10 4 5 4-8 4-6 4 4 4 6 4 1 4-2 4 12 4-7 4-12 4 5 4 16 4-13 4 1 4-6 4 8 4-3 4 1 4 0 3 2 4-13 4 9 4 1 4 0 4-3 4 6 4 1 4-6 4-3 4 2 4-2 4 1 4 9 4-2 4-5 4 0 4 1 4-9 4 8 4 0 3 0 4-9 4 12 4 0 4-1 4 4 4-6 4 7 4-4 4 2 4 2 4 0 4-6 4-1 4-8 4 1 4-2 4 4 4 1 4-1 4 4 3 8 4 0 4 4 4-4 4-4 4-1 4-5 4 1 4 7 4 0 4 1 4 2 4-2 4-6 4 5 4 0 4-4 4-1 4-1 4 12 4 0 3 0" stroke="#969100"/>
<path d="M204 1475l3-5 4 3 4-3 4 5 4-3 4-10 4 6 4-5 4 5 4 6 4-6 4 4 4-7 4-4 4 15 4-15 4 9 4-4 4 7 4-5 4-9 3-1 4 4 4 6 4 4 4 8 4-6 4 0 4-3 4-6 4 9 4-1 4 14 4-24 4 2 4 8 4-3 4 0 4-7 4 6 4 10 4-3 3 15 4-5 4-5 4 6 4-6 4-17 4 0 4 10 4 10 4-9 4-9 4 4 4-1 4-12 4-4 4 12 4-8 4 5 4 11 4 1 4-3 3-10 4 11 4-1 4-12 4 12 4 9 4-5 4-9 4 4 4-7 4 0 4 11 4-3 4 15 4-21 4 8 4-2 4-5 4-6 4-3 4 10 3-8 4 13 4-9 4 7 4 0 4-1 4 6 4-6 4 8 4-14 4-1 4 10 4 8 4-1 4-13 4 2 4 4 4-3 4 4 4-6 4-4 3-2 4 5 4 7 4-9 4 7 4 1 4 3 4-3 4-2 4-3 4 0 4 4 4 10 4-4 4 0 4-5 4-2 4-5 4 8 4-4 4-4 3-3 4-9 4 15 4 8 4 11 4-6 4-7 4-9 4-6 4 18 4-1 4-4 4-5 4-5 4-3 4 6 4 2 4 0 4 3 4-6 4 2 3 11 4-16 4-2 4 6 4 16 4-19 4 12 4-8 4 7 4-3 4 5 4-12 4 10 4-15 4 9 4-3 4 7 4 3 4 7 4-1 4-6 3 0 4-2 4-3 4-5 4-1 4 8 4-2 4 4 4 2 4-6 4-5 4-4 4-1 4 10 4 3 4 20 4-22 4 5 4-8 4 3 4-1 3 2" stroke="#dd9900"/>
<path d="M204 1478l3-3 4 8 4 10 4-20 4 9 4-2 4 2 4 5 4-2 4-6 4 6 4-5 4 15 4-7 4-11 4-1 4-12 4-2 4 3 4 10 4 10 3 1 4-3 4-4 4-4 4 0 4 3 4-2 4 0 4 3 4-2 4 4 4-10 4 6 4-6 4 9 4-1 4 6 4 5 4 4 4-10 4 8 3-2 4-9 4 8 4-8 4-4 4 0 4 3 4 5 4-6 4 6 4-4 4-6 4 9 4 3 4 1 4-7 4-12 4 8 4 4 4 7 4-11 3 3 4 2 4-4 4-4 4 6 4-1 4-12 4-10 4 12 4 20 4-10 4-3 4 2 4 1 4-1 4 1 4 6 4-8 4-13 4 23 4 4 3-11 4 0 4-1 4 2 4 12 4-2 4-14 4-4 4 5 4-3 4 1 4-1 4 4 4 7 4-16 4 16 4 0 4-5 4-17 4 19 4-4 3-3 4 2 4-6 4 20 4-15 4-9 4 5 4-1 4 9 4-3 4 9 4-4 4-16 4 13 4-6 4 0 4 4 4-4 4 9 4 2 4 1 3-9 4-9 4 3 4 9 4-3 4-7 4 7 4 0 4-2 4 4 4 5 4 4 4-7 4 9 4-14 4 7 4-2 4-8 4-1 4 1 4-1 3 1 4 9 4 1 4-4 4 1 4-8 4-9 4 15 4 2 4-7 4-1 4-1 4 3 4 0 4-1 4 6 4-5 4 0 4 3 4-3 4-8 3 0 4 11 4-6 4 15 4-1 4-3 4 0 4-4 4 10 4-15 4 9 4 8 4-5 4 3 4-2 4-6 4 0 4 0 4 8 4-16 4 9 3-10" stroke="#4499d8"/>
<path d="M204 1474l3 11 4-6 4-21 4 2 4 3 4 5 4 5 4-4 4-1 4 6 4-10 4 8 4-2 4-8 4-5 4 19 4 5 4-23 4-2 4 12 4 3 3-13 4 9 4-4 4 0 4 4 4 0 4 4 4 5 4-3 4 3 4 3 4-8 4 0 4-10 4 17 4-11 4 4 4-5 4 2 4 1 4-1 3 1 4 5 4 1 4 0 4-9 4 1 4 8 4-2 4 10 4-9 4-5 4 2 4 2 4-2 4 3 4 3 4 0 4-11 4-2 4 11 4-4 3-3 4 9 4-3 4 11 4-17 4-2 4 3 4-5 4-5 4 2 4 5 4 6 4 2 4 5 4-10 4 11 4-5 4 7 4 4 4-19 4 0 3 2 4 5 4-4 4-2 4 1 4 7 4 4 4-10 4-11 4 13 4 3 4 0 4-13 4 6 4 1 4 3 4-15 4-1 4 5 4 8 4 4 3 1 4-9 4-3 4 14 4-16 4 1 4 8 4 6 4-2 4-7 4 12 4-2 4-19 4 12 4-8 4 9 4 7 4-6 4 4 4 8 4-6 3-2 4 4 4 3 4 2 4-13 4-7 4 11 4-3 4 3 4 8 4 0 4-8 4 2 4-14 4 3 4 16 4-18 4 18 4-14 4 5 4 4 3-4 4-3 4-10 4 2 4 5 4-8 4 6 4 6 4 4 4-5 4 3 4-4 4-7 4 0 4 8 4-9 4 11 4 4 4 1 4-1 4-2 3 16 4-21 4 3 4-12 4-5 4 7 4 3 4 4 4 5 4-14 4 13 4-9 4 7 4 12 4-21 4 2 4 2 4 9 4-12 4 8 4-17 3 3" stroke="#c67aea"/>
<path d="M204 1503l3-4 4-2 4 8 4 1 4 2 4-9 4 5 4-1 4-4 4 8 4-9 4-7 4 2 4 16 4 8 4-16 4 2 4 3 4-2 4-1 4 4 3 12 4-13 4 1 4-5 4 0 4 2 4 2 4-4 4 8 4 0 4-8 4-16 4 7 4 7 4-3 4 7 4-3 4 3 4 5 4-12 4 3 3 4 4-1 4 9 4-5 4-3 4 6 4 4 4-15 4 2 4 0 4-6 4 0 4 5 4-4 4 1 4 2 4-1 4 6 4-1 4-2 4 5 3-12 4 7 4-1 4-1 4 7 4 3 4-6 4 2 4-9 4 10 4-2 4 5 4 1 4 2 4-9 4 12 4-2 4-14 4 1 4-1 4-5 3-1 4 9 4-2 4-2 4-4 4 12 4-4 4-6 4 4 4-6 4 9 4-3 4-8 4 11 4 7 4-16 4 4 4 3 4 5 4-7 4 2 3-3 4 0 4 5 4 0 4-7 4 10 4-5 4 1 4-3 4 8 4-1 4-10 4 12 4-9 4-3 4-2 4 5 4 0 4 10 4-8 4-1 3-2 4 11 4-12 4 7 4 0 4 3 4 2 4-10 4-3 4 3 4 1 4 11 4-4 4-3 4-4 4 5 4 4 4-16 4-1 4 12 4 2 3 0 4 3 4-3 4 3 4-12 4 6 4-7 4 0 4-3 4 3 4 14 4-6 4 2 4-4 4 1 4-12 4 11 4 3 4 0 4-3 4 12 3-13 4 2 4 4 4-6 4-6 4 9 4 3 4 7 4-9 4-8 4 0 4-1 4-3 4 5 4 0 4 9 4 7 4 3 4-1 4-5 4-1 3-13" stroke="#26b800"/>
<path d="M204 1518l3 0 4-5 4 2 4 2 4 2 4-12 4 4 4 18 4-4 4-16 4 6 4-1 4-11 4 19 4-16 4-2 4 0 4 2 4 2 4 8 4-3 3 3 4-13 4 17 4-4 4-5 4 5 4-2 4-5 4 9 4-5 4-6 4-2 4-1 4 4 4-8 4-1 4 9 4-3 4 0 4 2 4 0 3-3 4 9 4-4 4-16 4 21 4-1 4-4 4 2 4-1 4-3 4 4 4 2 4 5 4-11 4 0 4 3 4 4 4 1 4-9 4 3 4-3 3 10 4-10 4 5 4 1 4-6 4 11 4-11 4 3 4 1 4-7 4 10 4 3 4-6 4-2 4-4 4 3 4 9 4-6 4 0 4 0 4 12 3 6 4-10 4 0 4 1 4-11 4 2 4 8 4 0 4 1 4-1 4-1 4 1 4 3 4 1 4-7 4-6 4 10 4-7 4 5 4 0 4-9 3 5 4-5 4 4 4-5 4-1 4-3 4 4 4 15 4-4 4-7 4-3 4 9 4-5 4 2 4-3 4 4 4 9 4-9 4 10 4-3 4-1 3-1 4-11 4 0 4 9 4-10 4-3 4-5 4 20 4-8 4-5 4 2 4-13 4 15 4 5 4 3 4 0 4-3 4 8 4-9 4-7 4 9 3-7 4-8 4 7 4-2 4 3 4 5 4 6 4-12 4-1 4 9 4-6 4 0 4 9 4-8 4-1 4 2 4-2 4 4 4-3 4 9 4 1 3-7 4-4 4 3 4-3 4 3 4 0 4-2 4 2 4 4 4-5 4 5 4 5 4 1 4-7 4 9 4-8 4-2 4-6 4 4 4-3 4-1 3-1" stroke="#994a52"/>
<path d="M204 1472l3 1 4-1 4-11 4 9 4 7 4-4 4 2 4-16 4 7 4-3 4 2 4-6 4 20 4-9 4 0 4-3 4-3 4 10 4-5 4 3 4-11 3-7 4-1 4 11 4-2 4 6 4 9 4-4 4-12 4 12 4-5 4-8 4 10 4-6 4 1 4-10 4 12 4-9 4 6 4-2 4-7 4 1 3 10 4 0 4-1 4 6 4-1 4 3 4-1 4 2 4 3 4 9 4-15 4 15 4-6 4-9 4 5 4-9 4 6 4-1 4 1 4-8 4 1 3 18 4-14 4-14 4 17 4-3 4 1 4 0 4-1 4 4 4-7 4 0 4 3 4 13 4-9 4-9 4 0 4-2 4 15 4-20 4 9 4 12 3-11 4 4 4 0 4-2 4-12 4 0 4 6 4 8 4-16 4 11 4-8 4 5 4-3 4 6 4 1 4 2 4 0 4-7 4 1 4 6 4-4 3 6 4-8 4 6 4-3 4-4 4 10 4-13 4-6 4 17 4-1 4 1 4 3 4-5 4-6 4 8 4 1 4 7 4-15 4 0 4 4 4 6 3 2 4 7 4-11 4-1 4-4 4 8 4-13 4 5 4-2 4-3 4 5 4-6 4 13 4-2 4-3 4-6 4 3 4-2 4 7 4 2 4-7 3 4 4 1 4 13 4-17 4 1 4-11 4 19 4 7 4-6 4-5 4 0 4-7 4 9 4-6 4 16 4-11 4 0 4-2 4-1 4-2 4-3 3 10 4-11 4 6 4 2 4 0 4-1 4 16 4-18 4-4 4-1 4 1 4-8 4 8 4 3 4 7 4 0 4-6 4 9 4 3 4-5 4 3 3 4" stroke="#00c8d8"/>
<path d="M204 1438l3-1 4 10 4-13 4 3 4-2 4 7 4-1 4 0 4-1 4 1 4 8 4 11 4-11 4-8 4-11 4 16 4-13 4 7 4 2 4-5 4 6 3 4 4 3 4 4 4-6 4-1 4-3 4-3 4-4 4 3 4-5 4 9 4 8 4-4 4-3 4 5 4-14 4 7 4 6 4 14 4-23 4 6 3-5 4 7 4 0 4-8 4 10 4 3 4-14 4 8 4 3 4 5 4 4 4-11 4-1 4 6 4-9 4 10 4-12 4 6 4 5 4-11 4 12 3-17 4 17 4-12 4-6 4 12 4-8 4 7 4-7 4 3 4 4 4-2 4-7 4 8 4-15 4 11 4-16 4 9 4 12 4-7 4-7 4-4 3 7 4-3 4 21 4-4 4-10 4 13 4-21 4 16 4-3 4 3 4-2 4-2 4 10 4 7 4-5 4 4 4-5 4-16 4-4 4 4 4 6 3-7 4-2 4-8 4 1 4 1 4 0 4 17 4 0 4 0 4 4 4-12 4-8 4 18 4-6 4-1 4-2 4 4 4 1 4-1 4 14 4-22 3 7 4 6 4-3 4 6 4-7 4-15 4-2 4 12 4 2 4 9 4-9 4-1 4 6 4-1 4 0 4-7 4 8 4-14 4 12 4-11 4 3 3 11 4-4 4-2 4-6 4 8 4 0 4-5 4 5 4 0 4-14 4 16 4-5 4-1 4 7 4-12 4 6 4-2 4-4 4 8 4 3 4-2 3 6 4-5 4 7 4-6 4-2 4-8 4 13 4-13 4-9 4 8 4 14 4-5 4 0 4 9 4-11 4-1 4 6 4-3 4-1 4-9 4 6 3 1" stroke="#ff2d2d"/>
<path d="M204 1507l3-3 4-6 4 7 4 0 4 0 4 7 4-13 4-6 4 11 4-3 4 5 4-8 4-4 4 5 4 2 4 0 4-5 4 2 4 10 4 2 4 4 3 6 4-8 4-9 4 5 4-2 4-4 4 6 4-6 4 0 4 7 4 4 4-15 4-10 4 5 4 2 4 1 4 7 4 8 4-15 4 6 4 6 3 0 4 1 4-12 4 2 4 15 4-11 4 4 4-7 4 4 4-16 4 15 4 6 4 1 4-2 4-4 4 1 4-2 4 14 4-6 4-2 4-5 3-1 4 18 4 3 4 0 4-18 4-3 4 6 4-6 4 7 4-1 4-2 4-6 4 6 4-12 4 0 4 12 4 7 4-12 4-5 4-5 4 13 3-3 4 0 4 9 4-8 4 11 4-7 4-4 4-5 4 3 4 0 4-2 4 16 4 3 4-9 4 0 4-6 4-1 4-5 4 4 4 14 4-7 3 4 4-9 4-2 4 1 4 9 4 2 4-2 4-10 4 7 4-1 4-4 4-7 4-2 4 8 4 5 4-15 4 2 4 6 4-2 4 17 4-9 3 0 4-1 4 7 4 1 4-12 4 1 4-3 4 0 4 15 4-9 4-4 4 3 4-5 4-1 4-1 4 3 4 1 4 12 4-18 4 1 4 2 3 6 4 0 4 5 4 3 4-6 4 3 4 0 4-12 4 11 4-5 4 0 4-11 4 6 4 4 4 2 4-1 4-9 4 3 4 9 4 5 4-9 3 5 4-13 4 1 4 7 4 10 4-12 4 2 4 3 4 6 4-15 4 5 4 1 4-1 4-2 4 11 4-1 4-2 4-10 4 5 4 7 4-9 3 9" stroke="#26b800"/>
<path d="M204 1434l3 8 4 5 4-3 4 8 4-8 4 0 4-6 4 9 4-19 4 13 4 4 4-9 4 8 4 3 4 8 4-4 4 0 4-9 4 3 4 6 4-7 3 5 4 10 4-7 4-5 4 8 4-16 4-10 4 14 4 5 4-6 4 4 4 9 4-9 4-8 4-8 4 7 4 0 4 4 4 10 4 0 4 0 3-3 4-5 4-1 4-4 4 6 4 8 4 1 4-9 4 2 4 1 4-6 4 3 4-4 4-1 4 7 4 6 4-12 4 15 4 4 4-9 4-10 3 1 4-4 4-6 4 3 4 4 4 3 4 3 4-2 4 1 4-15 4 10 4-6 4-2 4 0 4 8 4 5 4 3 4-2 4-5 4-8 4 15 3-10 4-5 4-1 4 21 4-5 4 6 4-16 4 12 4-6 4 9 4-9 4-2 4 14 4-15 4-2 4 0 4 2 4-1 4 4 4 8 4-18 3 7 4-5 4 11 4 4 4-11 4-1 4 2 4 3 4 5 4 7 4-1 4-8 4-7 4-3 4 7 4-6 4 13 4-10 4 5 4-15 4 8 3 9 4-6 4 2 4 3 4 5 4-6 4-2 4 1 4 2 4-2 4 5 4 5 4-23 4 11 4 3 4-9 4 2 4 16 4-7 4-1 4-1 3-2 4 0 4-6 4 13 4-6 4-5 4 8 4 10 4-2 4-11 4-5 4 9 4 7 4-3 4-3 4-2 4 5 4 1 4-7 4-4 4 10 3-8 4-5 4 16 4-8 4-1 4 0 4-4 4 0 4-8 4 10 4 9 4-6 4-9 4 3 4 13 4-6 4 4 4-5 4-12 4 15 4-2 3 5" stroke="#26b800"/>
<path d="M204 1453l3 3 4-5 4 15 4-2 4-19 4 10 4-5 4 6 4-3 4 5 4-5 4 7 4 1 4-6 4-13 4 8 4-6 4 19 4-10 4 11 4-16 3 7 4 6 4-8 4-1 4-1 4 3 4 6 4 5 4-13 4 6 4 10 4-16 4 2 4 3 4-12 4 7 4 1 4-2 4 4 4-3 4-11 3 25 4-2 4-3 4-4 4 12 4-15 4-9 4 7 4 4 4-3 4-1 4 11 4-11 4-1 4 2 4 14 4-17 4 3 4-7 4 9 4-13 3 14 4 7 4-5 4 3 4-10 4 0 4 16 4-6 4 7 4-8 4-5 4-1 4 0 4-5 4 7 4 4 4-12 4 11 4-9 4 1 4 20 3-3 4 0 4 0 4-4 4-13 4 2 4 0 4 1 4 10 4-4 4-9 4 1 4-8 4 14 4-5 4-1 4 11 4 2 4-3 4-1 4-3 3-2 4 0 4-2 4 2 4-1 4-4 4 2 4 4 4 2 4-13 4 5 4-4 4-2 4 15 4-3 4 8 4-1 4 3 4-14 4 6 4-2 3-4 4 7 4-2 4-1 4-5 4 11 4-10 4 6 4-12 4 8 4-10 4 9 4 1 4-8 4 16 4-13 4-4 4 2 4 0 4 12 4 6 3-13 4 3 4-5 4 1 4 12 4-8 4 10 4-2 4-4 4-8 4 14 4-8 4-5 4 10 4 1 4-7 4-3 4 4 4-3 4-2 4 3 3-7 4 18 4-3 4 1 4 10 4-10 4-2 4-1 4-5 4-4 4 2 4 3 4-1 4-11 4 24 4-1 4-8 4 4 4-1 4-14 4 4 3 4" stroke="#ff6600"/>
<path d="M204 1492l3-5 4 2 4 4 4-3 4 6 4-11 4-1 4-2 4 8 4-6 4 9 4-3 4-8 4-8 4 0 4 19 4-5 4-3 4-4 4 3 4-8 3 8 4-4 4 5 4-10 4 11 4-8 4 17 4-2 4-2 4-9 4 19 4 2 4-6 4-4 4-3 4 4 4-4 4 5 4-11 4 15 4-3 3-11 4-5 4 12 4 5 4-16 4 4 4-2 4 1 4 11 4 1 4-6 4-3 4-4 4-6 4 9 4-1 4 9 4-9 4 12 4 4 4-11 3-4 4-5 4 1 4-2 4-6 4 17 4 0 4-2 4-4 4-1 4-5 4-1 4 16 4-4 4-5 4 0 4-3 4 1 4 3 4-10 4-4 3 20 4-5 4-4 4-9 4 9 4 4 4 1 4 1 4-15 4 9 4-2 4 1 4-9 4 3 4 14 4-9 4 0 4 4 4-9 4 8 4-1 3 8 4-5 4-1 4-6 4 2 4 6 4-6 4 2 4 0 4 3 4-14 4 19 4-5 4 6 4-3 4 2 4-1 4 11 4-14 4-2 4-11 3 4 4 6 4 2 4-7 4 12 4 12 4-2 4-14 4 1 4 10 4-9 4-11 4 8 4 8 4-12 4-1 4 5 4-4 4-2 4 11 4 0 3-1 4-6 4 4 4 0 4-10 4 4 4-6 4 7 4 5 4 1 4-5 4 4 4 8 4-22 4 3 4-1 4 2 4 15 4-5 4-2 4-2 3 4 4 6 4 11 4-11 4-2 4 7 4-9 4-6 4 6 4-7 4 6 4 1 4 7 4 0 4-4 4 1 4-1 4-5 4 5 4 0 4-9 3 0" stroke="#00c8d8"/>
<path d="M204 1451l3 2 4-25 4 15 4 11 4-1 4-8 4 13 4-12 4 2 4-13 4 4 4-5 4 17 4-5 4 6 4-13 4 3 4 3 4 5 4 2 4 0 3-7 4 6 4-13 4 4 4-4 4 21 4-9 4 5 4-5 4-2 4 9 4-2 4 0 4-4 4-10 4 7 4 1 4-6 4 15 4-7 4 6 3-16 4 5 4 2 4 5 4-10 4-1 4 0 4-3 4 9 4 6 4 1 4-2 4 1 4-3 4 4 4-3 4 7 4-8 4-7 4-11 4 3 3 2 4 1 4 3 4-12 4 16 4 4 4-10 4 1 4 5 4 7 4-10 4 2 4 1 4 5 4 5 4 0 4-18 4 11 4-4 4-2 4 11 3 3 4-4 4 2 4-2 4-1 4-4 4 2 4-1 4-8 4 3 4-1 4 0 4-4 4-1 4 5 4 0 4 12 4-7 4 0 4 10 4-10 3-3 4 6 4-3 4 4 4 10 4-11 4-9 4-7 4 6 4 15 4-18 4 2 4 6 4 19 4-12 4-7 4 1 4 9 4 0 4 9 4-9 3-3 4 0 4 1 4 3 4-6 4 1 4-8 4-9 4 1 4 14 4-2 4-5 4 3 4-2 4 4 4-1 4 8 4-1 4 3 4-15 4-10 3 10 4 10 4-6 4-4 4-4 4-6 4 13 4 4 4-8 4 8 4-10 4 11 4 0 4-12 4 1 4 11 4-3 4-4 4 0 4 3 4 5 3-3 4-2 4-2 4 2 4-9 4 8 4 16 4 2 4-25 4 7 4 2 4-8 4 4 4 19 4 3 4-13 4-4 4-17 4 14 4-4 4 14 3-5" stroke="#00ad6a"/>
<path d="M204 1441l3 1 4-18 4 14 4 4 4-3 4-5 4 8 4-10 4 8 4 2 4 8 4-3 4 3 4-7 4 2 4 3 4-12 4 8 4-8 4-1 4 9 3-7 4-1 4 5 4-6 4 11 4-6 4 8 4-13 4-2 4 18 4-7 4-2 4 9 4-11 4 5 4-12 4 13 4-2 4 11 4-8 4 8 3-3 4-4 4-2 4 3 4-6 4-10 4 10 4 4 4-9 4 4 4 4 4-5 4 21 4-7 4-13 4 6 4 11 4-10 4-9 4 6 4 6 3-5 4 6 4-14 4 8 4-5 4 3 4 4 4 7 4 0 4-4 4-3 4-1 4 3 4-2 4 15 4-13 4-3 4-5 4 0 4 6 4-6 3 11 4-13 4 4 4-2 4-8 4 5 4-5 4 9 4-6 4 3 4-3 4-8 4 4 4 11 4-5 4 3 4 6 4-9 4 3 4-4 4 14 3-5 4 7 4-9 4-12 4 6 4 7 4-4 4 2 4-6 4 7 4 0 4-4 4 2 4-2 4-4 4 9 4-2 4 8 4-10 4-7 4 7 3-8 4 14 4 1 4 0 4-12 4-7 4-1 4 1 4 12 4 2 4 5 4 7 4-15 4 8 4 5 4-6 4 5 4 0 4 0 4-4 4-12 3 14 4 9 4-15 4 8 4-5 4 1 4 3 4 0 4-15 4 12 4 0 4 4 4-1 4-4 4 0 4-2 4-5 4-1 4-9 4 13 4-8 3 2 4 15 4-2 4 2 4-3 4-9 4-3 4 0 4-4 4 13 4-12 4 19 4-4 4-8 4 8 4 3 4-7 4-3 4 5 4 1 4-12 3 1" stroke="#dd9900"/>
<path d="M204 1433l3 8 4-2 4 4 4 15 4 0 4-1 4-1 4-6 4 4 4-11 4-3 4 6 4 0 4 0 4-3 4 9 4-2 4-2 4-6 4-5 4 5 3 10 4-10 4-3 4 8 4-2 4-3 4 2 4-7 4 2 4 17 4-1 4 4 4-7 4 4 4-7 4-10 4-3 4 4 4 15 4 0 4-11 3 6 4-13 4 10 4 9 4-8 4 11 4-4 4-12 4-1 4-1 4 9 4 1 4-5 4 6 4-7 4-6 4 3 4-3 4-1 4 3 4-1 3 13 4-7 4 3 4-10 4 5 4 5 4-5 4 9 4-8 4-1 4-5 4 2 4 5 4 1 4 4 4 2 4 0 4-3 4-2 4-11 4 3 3-10 4 4 4 8 4-4 4 8 4 3 4-12 4 7 4-1 4 10 4-6 4 3 4-2 4-3 4-2 4-8 4 6 4-1 4 5 4-7 4-9 3 17 4-7 4 1 4 12 4-10 4-7 4 18 4 3 4-14 4 0 4 13 4 1 4-11 4 2 4-3 4-5 4 7 4 2 4-3 4-2 4 3 3-5 4-12 4 15 4 3 4-2 4-11 4 12 4-3 4-4 4 0 4 5 4 11 4-11 4-15 4 7 4 14 4-1 4-2 4 8 4-1 4 5 3-12 4-10 4 10 4 11 4-14 4 9 4-4 4-15 4-3 4 6 4 12 4 7 4-8 4 4 4-2 4-1 4-5 4 2 4-1 4-17 4 10 3-3 4 3 4 19 4 1 4-11 4 5 4-3 4-7 4-3 4 1 4 2 4 9 4 4 4 9 4-16 4-14 4 2 4 6 4 4 4 1 4 10 3 6" stroke="#26b800"/>
<path d="M204 1499l3 10 4-1 4 1 4 2 4-27 4-2 4 6 4-7 4 12 4 0 4-11 4 6 4 5 4 20 4-10 4-12 4 2 4-8 4 7 4 8 4 1 3-5 4-3 4 4 4 4 4-7 4 4 4 7 4-1 4 6 4-18 4-3 4 8 4 1 4 3 4-10 4 7 4-6 4 5 4 5 4-3 4-3 3 4 4 4 4-1 4-1 4-9 4 9 4-13 4 7 4 0 4 7 4-8 4 11 4-10 4-9 4 18 4-18 4 19 4 3 4-9 4-1 4-14 3 0 4 8 4 5 4 3 4-4 4 9 4-5 4-4 4 12 4 0 4-5 4-7 4 0 4-3 4 6 4 2 4-15 4 5 4 10 4 0 4-16 3-3 4 5 4 4 4-6 4 5 4 11 4-3 4-4 4 13 4-10 4 3 4 8 4-13 4 4 4-4 4 8 4-6 4 4 4 6 4-4 4-5 3 1 4 4 4-1 4-7 4 4 4-1 4 11 4-3 4-1 4 3 4-17 4 9 4-5 4 9 4-6 4 5 4-2 4 13 4-10 4-11 4-5 3 8 4 8 4-8 4-1 4 1 4 1 4 5 4-3 4-5 4 3 4-8 4 9 4 7 4 1 4-8 4-3 4-6 4 6 4-6 4 2 4 14 3-3 4-5 4 5 4-9 4-1 4 3 4 6 4-1 4-1 4 5 4-5 4-11 4 0 4 3 4 7 4-8 4 7 4 0 4 5 4-5 4 0 3-2 4-7 4-4 4 12 4-16 4 3 4 6 4 2 4 4 4 3 4 7 4-4 4 1 4-10 4 9 4-11 4-2 4 7 4-6 4 9 4-4 3 8" stroke="#ff6600"/>
<path d="M204 1472l3 0 4 1 4-2 4-9 4 21 4-2 4-10 4-10 4 3 4 9 4 1 4 5 4-6 4 8 4-9 4 2 4-1 4-13 4-3 4 10 4 3 3-7 4-5 4 14 4 2 4-5 4-6 4 9 4-13 4 5 4 16 4-13 4 7 4-1 4-6 4 3 4 10 4-4 4-15 4 1 4 8 4-8 3-4 4 5 4 10 4-6 4 11 4-7 4 9 4-6 4-9 4 6 4-5 4 5 4-18 4 7 4 11 4 0 4 4 4-4 4-9 4 0 4 7 3 8 4-8 4-4 4-3 4 12 4 8 4-12 4 8 4-7 4 2 4-6 4 3 4-12 4 9 4 6 4 0 4-3 4 2 4-7 4 4 4 2 3 2 4-1 4 16 4-7 4-8 4-3 4 0 4 5 4-11 4-3 4-5 4 16 4-10 4 20 4-7 4 5 4-6 4-2 4-3 4-16 4 19 3-3 4-1 4 4 4-2 4 11 4-10 4 15 4-12 4-16 4 11 4-5 4 2 4-2 4 3 4 9 4-7 4 5 4-11 4 6 4 1 4-3 3 1 4 3 4-6 4-2 4-1 4 12 4-4 4-1 4-2 4 3 4-1 4-3 4 5 4-8 4 10 4 3 4-2 4-13 4 10 4-4 4-13 3 6 4 7 4-13 4 20 4-3 4-1 4-10 4 1 4-1 4 1 4 11 4-9 4 1 4 6 4 10 4-10 4 2 4-3 4-5 4 8 4 11 3-17 4 11 4 6 4-8 4 16 4-9 4-5 4 8 4-7 4-2 4 1 4-2 4 1 4 2 4-5 4-9 4 1 4 7 4-1 4 1 4-4 3 0" stroke="#ff2d2d"/>
<path d="M204 1496l3-17 4 3 4 15 4-5 4-6 4-2 4 10 4 1 4-11 4-7 4 15 4-6 4 2 4-13 4-4 4 8 4 10 4 0 4-13 4 0 4 10 3-4 4-1 4 7 4-14 4 2 4-2 4 7 4-4 4-1 4 12 4-6 4 15 4-11 4-7 4-2 4 4 4-8 4 4 4 0 4 2 4-7 3 21 4 0 4-16 4 7 4 0 4-5 4 5 4-4 4 1 4-11 4 0 4 15 4-2 4 23 4-18 4-8 4 4 4-4 4 0 4 0 4-7 3-1 4 0 4 7 4 9 4-8 4 6 4-8 4 10 4 1 4-1 4-5 4 1 4 5 4-15 4 4 4 0 4 2 4 4 4-2 4 9 4-14 3 8 4 0 4-5 4 9 4-3 4-1 4-6 4-3 4 16 4-14 4 4 4-3 4 0 4 1 4 5 4 8 4-4 4-6 4-1 4 4 4-12 3 11 4-8 4 5 4-5 4 4 4 5 4-9 4 5 4-9 4 12 4-15 4 7 4-1 4 12 4-8 4 3 4 0 4 8 4-3 4 5 4 0 3 10 4 4 4-18 4 13 4-12 4-1 4-1 4-5 4 0 4-8 4 11 4 3 4-1 4-9 4-3 4 0 4 8 4-6 4 15 4 4 4-19 3-2 4 1 4-5 4 2 4 0 4 8 4 3 4-2 4-5 4 6 4 4 4-5 4 9 4-10 4 6 4-1 4 6 4-13 4 4 4 10 4-1 3-6 4 2 4-2 4 2 4 1 4-22 4 9 4 3 4-6 4 11 4 1 4 5 4-14 4-8 4 9 4 6 4-13 4 18 4 0 4-1 4-4 3-3" stroke="#dd9900"/>
<path d="M204 1520l3-12 4 12 4-8 4 2 4 1 4 8 4-5 4 5 4 2 4-6 4-8 4 12 4-10 4-7 4 6 4 11 4-3 4-2 4-15 4 7 4 9 3-7 4-3 4 23 4-14 4 7 4-16 4 7 4 10 4 2 4-14 4 5 4-2 4-2 4-2 4-2 4-2 4 4 4 10 4-6 4-9 4 5 3 2 4-1 4-5 4 5 4 0 4 7 4 4 4-12 4 3 4 4 4-1 4 1 4 3 4-6 4-12 4 4 4 9 4 4 4-2 4-13 4 3 3 0 4 0 4 11 4-9 4-8 4 6 4-3 4 11 4-1 4 12 4-16 4 8 4 5 4 1 4-3 4-16 4 6 4-4 4-2 4 2 4 11 3-15 4 10 4-3 4 5 4 8 4-5 4-1 4 1 4-11 4 7 4-1 4 4 4 5 4-1 4-15 4 4 4 12 4-5 4 4 4-18 4-2 3 9 4-3 4 1 4-2 4-6 4 17 4-8 4-1 4 2 4-7 4 9 4-2 4 0 4 9 4 7 4-15 4 3 4 9 4-8 4 3 4 4 3 0 4-9 4-7 4 13 4 3 4-14 4-9 4 7 4 2 4 7 4 6 4-5 4 1 4-5 4 3 4 3 4-9 4 7 4 0 4-1 4-11 3 11 4-8 4 5 4 3 4-2 4 10 4-12 4 6 4-1 4-4 4-9 4 8 4 14 4 3 4-4 4-3 4-10 4 0 4-5 4 5 4-7 3 6 4 5 4-11 4 2 4-4 4-2 4 7 4-1 4 2 4-14 4 10 4 7 4 6 4-5 4 8 4-2 4-8 4 11 4-22 4 1 4 0 3 17" stroke="#ff6600"/>
<path d="M204 1433l48 0 3 6 110 0 3-3 28 0 3 1 53 0 2 0 78 0 3 2 69 0 4-10 60 0 3 9 41 0 3-3 63 0 4-5 36 0 2 5 37 0 5-6 35 0 4-2 53 0" stroke="#00ad6a"/>
<path d="M204 1496l3 0 4 6 4 7 4-4 4 5 4-4 4 2 4-6 4 3 4-2 4-2 4 8 4-6 4-6 4 0 4 8 4-6 4-2 4-2 4 7 4-12 3 20 4 9 4-11 4-13 4 9 4 5 4-20 4 17 4-4 4 4 4-6 4 1 4 1 4 2 4-2 4-4 4 11 4-2 4-6 4 6 4-3 3-9 4 8 4-3 4-3 4-3 4 4 4-7 4-5 4 14 4-7 4-1 4 21 4-14 4 2 4-7 4 3 4-2 4-4 4 8 4 8 4-7 3-5 4-3 4 9 4-6 4-4 4-4 4-5 4 22 4-12 4 2 4 2 4-6 4-3 4 8 4-1 4-2 4-3 4 6 4-4 4 0 4 12 3 7 4-7 4 6 4-8 4 5 4-3 4 0 4-2 4-6 4 8 4 5 4 10 4-13 4-21 4 13 4-2 4-1 4 10 4-3 4-5 4 0 3-6 4 6 4 8 4-5 4-5 4 9 4-7 4 0 4 6 4 15 4-18 4-5 4-2 4 8 4 1 4-7 4 1 4 5 4-12 4 9 4 10 3-5 4 1 4 0 4-4 4 10 4-1 4-9 4 5 4-5 4 1 4 4 4 4 4-10 4 7 4 2 4-1 4-4 4-12 4 5 4 11 4-9 3 14 4-5 4-2 4-15 4 11 4 8 4-14 4 2 4 5 4-2 4 4 4 1 4-5 4 7 4 0 4-13 4 3 4 4 4-2 4-7 4 8 3 9 4-10 4-4 4-4 4 10 4-5 4 9 4 10 4-10 4-1 4 9 4-20 4-2 4 13 4-8 4-2 4 7 4-11 4 12 4 3 4 2 3-8" stroke="#4499d8"/>
<path d="M204 1498l3 0 4-7 4 5 4-8 4 15 4 0 4 10 4-1 4 1 4-12 4-5 4 16 4-4 4 1 4-3 4 5 4-15 4 2 4 6 4 9 4-2 3-14 4 3 4-12 4 2 4 13 4 10 4-17 4 10 4 6 4-15 4 8 4 3 4-4 4-7 4 1 4 0 4 0 4 5 4-1 4 10 4 1 3-24 4 8 4 4 4 6 4 13 4-5 4-9 4-16 4 0 4 5 4 7 4 10 4-15 4 10 4 3 4 13 4 5 4-17 4-6 4 2 4 0 3-1 4-8 4-4 4 0 4 1 4 13 4 8 4-6 4 0 4-1 4 2 4-6 4-4 4-5 4 3 4 6 4 2 4 2 4 1 4-8 4 7 3-1 4 4 4 0 4-3 4-5 4 0 4-1 4 2 4-1 4 13 4-18 4 2 4-3 4 0 4 7 4 5 4-2 4-12 4 4 4 2 4 11 3-11 4-8 4 2 4 7 4 1 4 1 4 8 4-8 4-4 4 7 4 1 4-8 4-1 4 5 4 0 4 0 4-7 4 4 4-8 4 0 4-7 3 10 4 1 4 4 4 8 4-20 4 9 4-3 4-5 4-2 4 17 4 8 4-14 4-4 4 13 4 0 4-4 4 5 4-3 4-10 4 4 4 1 3 6 4-2 4-2 4-4 4 2 4 7 4 0 4 1 4 9 4-15 4-3 4 2 4 5 4 10 4-18 4 8 4-7 4 3 4-6 4 7 4-2 3-6 4-3 4 3 4-2 4-3 4 0 4 7 4 5 4-6 4 0 4-6 4 5 4 5 4 10 4-3 4 6 4-9 4 4 4-6 4-2 4-1 3 6" stroke="#6e6e6e"/>
<path d="M204 1530l3-4 4 7 4-3 4-6 4-10 4 8 4-7 4-1 4 10 4 2 4-4 4-1 4-2 4 5 4-6 4 4 4-4 4 2 4 12 4-4 4-3 3-2 4-4 4 1 4 3 4-4 4 6 4-6 4 11 4-2 4-10 4 2 4 6 4-1 4 3 4-2 4-2 4-2 4-7 4 5 4 6 4 1 3-10 4 1 4 2 4 2 4 5 4-9 4 2 4 3 4-2 4-3 4 3 4 4 4-4 4 0 4-3 4 11 4-6 4 2 4 2 4-3 4 0 3-3 4 3 4-5 4 7 4-2 4 0 4-2 4 3 4 0 4-8 4-1 4 3 4 2 4 2 4 5 4-5 4 7 4-8 4-6 4 8 4-7 3 9 4-2 4-4 4-4 4 0 4 4 4 8 4 1 4-3 4-2 4 2 4-1 4 3 4 1 4-9 4 9 4-3 4-9 4 4 4 2 4 7 3-6 4 0 4-5 4-1 4 6 4 2 4-1 4-4 4 4 4-13 4 0 4 11 4-1 4 0 4 3 4-4 4 1 4 10 4-1 4-7 4-3 3 0 4-4 4 7 4 2 4-14 4 8 4-4 4 1 4 3 4 7 4-2 4-3 4 7 4-9 4 5 4 5 4-3 4-8 4-2 4-1 4 3 3 12 4-7 4-2 4-4 4-5 4 2 4 8 4 3 4-12 4 6 4 1 4 7 4 1 4-4 4 1 4-3 4 2 4 3 4-5 4-2 4-2 3 2 4-1 4 4 4-1 4-8 4 3 4 11 4-5 4-2 4 2 4-2 4-5 4 4 4-8 4 11 4 2 4-5 4-3 4 0 4-5 4 3 3 3" stroke="#ff6600"/>
<path d="M204 1500l3-7 4 10 4-4 4-9 4 8 4-9 4 12 4-3 4 0 4 0 4-3 4-3 4 4 4-8 4 10 4 4 4 4 4 2 4-2 4 1 4-2 3 1 4-7 4-4 4 9 4 2 4 8 4-11 4-2 4-8 4 10 4 3 4-1 4 0 4-10 4 0 4 19 4-17 4-8 4-3 4 15 4-15 3 11 4 3 4-4 4-2 4 10 4 3 4-12 4 7 4 5 4-9 4 6 4-3 4-8 4 3 4-1 4 2 4 7 4 10 4-3 4-6 4-1 3-11 4 4 4 0 4-3 4 7 4 3 4-5 4 0 4 2 4 0 4 3 4 3 4-1 4-6 4 1 4 10 4-12 4-6 4 10 4-4 4-4 3 4 4 10 4-9 4 4 4 8 4-16 4 3 4 3 4-4 4-5 4 18 4-10 4-4 4 17 4-11 4-2 4 12 4-21 4 0 4 16 4-9 3 1 4-10 4 10 4-6 4 2 4-8 4 10 4-8 4 11 4 2 4-4 4 2 4-5 4 0 4 6 4-3 4 20 4-12 4-3 4-3 4 6 3-3 4-4 4-2 4 8 4-11 4 3 4-3 4 6 4 1 4-5 4 0 4 1 4 7 4-7 4-4 4 9 4-4 4-2 4 7 4-8 4 4 3 5 4-8 4-1 4-12 4 18 4-10 4 13 4-2 4 3 4-3 4 4 4-11 4-5 4 6 4 6 4 3 4-7 4 11 4 5 4-10 4-11 3-7 4 6 4-6 4 11 4 5 4 0 4-2 4 4 4-1 4 4 4 4 4-17 4 3 4-7 4-3 4-3 4 10 4-6 4-2 4 12 4 7 3-1" stroke="#ff6600"/>
<path d="M204 1428l3-4 4 8 4 3 4-8 4-3 4 4 4-5 4 15 4-5 4-2 4 0 4-3 4-3 4 3 4 7 4-6 4 5 4-8 4 3 4 0 4-6 3 4 4 7 4-4 4-3 4 5 4 9 4-12 4 2 4-4 4-1 4 7 4 0 4-1 4 1 4-9 4 4 4-2 4-3 4 4 4 9 4-2 3-1 4-13 4-4 4 11 4 7 4-1 4 0 4-4 4-1 4-2 4 3 4-6 4-1 4 5 4 2 4 7 4 0 4-2 4-8 4 1 4-7 3 8 4-3 4 10 4-2 4 1 4-8 4 2 4-2 4-2 4 1 4 1 4 4 4 1 4 2 4-8 4 5 4 1 4-1 4 6 4-12 4 0 3-4 4 7 4-9 4 21 4-17 4 2 4-2 4 5 4 0 4 2 4-6 4 9 4-5 4-4 4-1 4 8 4-1 4 1 4-4 4-3 4 1 3 2 4-3 4 14 4 4 4-2 4-13 4 2 4 4 4 9 4-8 4-5 4-7 4 7 4 8 4-2 4-8 4-7 4 4 4 1 4 10 4-7 3 5 4-2 4 5 4 1 4-9 4 5 4 0 4 2 4-1 4-2 4 2 4 1 4 3 4-8 4-2 4-1 4-2 4 0 4 7 4-8 4 0 3-3 4 4 4 5 4 1 4 3 4-7 4-6 4 6 4 6 4 4 4-1 4-3 4-11 4-2 4-6 4 9 4 7 4-5 4-1 4 0 4 0 3 7 4 1 4-1 4-1 4 1 4 0 4-1 4-4 4 4 4-4 4 3 4 0 4 2 4-2 4 3 4 4 4 1 4-7 4-4 4 5 4-5 3 1" stroke="#26b800"/>
<path d="M204 1422l3 9 4-3 4-5 4 4 4 6 4-6 4 2 4-6 4 4 4-2 4 2 4-3 4 6 4 7 4-11 4 0 4 2 4-3 4 5 4 2 4-5 3-7 4 9 4 2 4-2 4 0 4 1 4-4 4-2 4 2 4 2 4-4 4 3 4 6 4-3 4 1 4-3 4-2 4-3 4 3 4 8 4-3 3-7 4 1 4 1 4 1 4 1 4 6 4-8 4-1 4-1 4 4 4 1 4 2 4 0 4-4 4-3 4 2 4 3 4-5 4 4 4 3 4 8 3-1 4-10 4 1 4 3 4-1 4-6 4 4 4-3 4 5 4-3 4-7 4 5 4 2 4 1 4-8 4 10 4 0 4-3 4-2 4 9 4-6 3 0 4 2 4-5 4-6 4 12 4 4 4 4 4-10 4-6 4 8 4-9 4 6 4-1 4 0 4-1 4 2 4 1 4-3 4 1 4 4 4 0 3-5 4-7 4 5 4 4 4 3 4-1 4 2 4-6 4-1 4-5 4 4 4 1 4 1 4-3 4 2 4-1 4 3 4 8 4-2 4 3 4-2 3 0 4-10 4 9 4-1 4-4 4-4 4 7 4 3 4-3 4-6 4-1 4-4 4 9 4 3 4 0 4 5 4-2 4-7 4 1 4 0 4-6 3 5 4 5 4-5 4-5 4 0 4 4 4-4 4 6 4 1 4 0 4-6 4-2 4-1 4 3 4 5 4-4 4 2 4 2 4 11 4-12 4-6 3 4 4 2 4-2 4-1 4-1 4 6 4 0 4 4 4 1 4-3 4 2 4 6 4-5 4-9 4-3 4 4 4 1 4 0 4-1 4 2 4 0 3-2" stroke="#994a52"/>
<path d="M204 1510l3-14 4-5 4 7 4 5 4 8 4-4 4-4 4 2 4 3 4 1 4-1 4-4 4-4 4 3 4 3 4-6 4 2 4-3 4 12 4 3 4-12 3-6 4 2 4 8 4-9 4-3 4 2 4 12 4-5 4-2 4 3 4 0 4-4 4 1 4 1 4 1 4 0 4 11 4-10 4-4 4 11 4 0 3 0 4-7 4 9 4-10 4-4 4 4 4-5 4 6 4-1 4 6 4-7 4 4 4-7 4 7 4 7 4-2 4-4 4 0 4 7 4-6 4 1 3 2 4 9 4-10 4-14 4 3 4 3 4 9 4-4 4 2 4-2 4-8 4-1 4-1 4 9 4-2 4-6 4 0 4 6 4 4 4 0 4-5 3 6 4-9 4 21 4-15 4 4 4-5 4 3 4 0 4-9 4 25 4-14 4-11 4 12 4-4 4-3 4 6 4-18 4 7 4-3 4 1 4 2 3-1 4 4 4 9 4-8 4 0 4-2 4 0 4-1 4-1 4 6 4-8 4 5 4 4 4-4 4-4 4 4 4 1 4 1 4 11 4-16 4 6 3 4 4-4 4-1 4-8 4-3 4 3 4 13 4-10 4 9 4-14 4 13 4-2 4 5 4 0 4-8 4 1 4-2 4-15 4 6 4 7 4-5 3 4 4 7 4 1 4 0 4-2 4-1 4 1 4 6 4-7 4 7 4 0 4-9 4 6 4 2 4 1 4-9 4 6 4-12 4 1 4 6 4 5 3-8 4 13 4 11 4-13 4-5 4 3 4-15 4 5 4 3 4 1 4 4 4 0 4-3 4 1 4 0 4-2 4-9 4 18 4-9 4 15 4-12 3-5" stroke="#dd9900"/>
<path d="M204 1448l3 4 4-2 4-5 4 1 4 6 4-2 4-5 4 1 4-13 4 4 4 4 4-1 4 15 4 0 4-1 4-6 4 2 4 9 4-11 4-19 4 22 3-9 4-3 4 5 4 8 4 3 4-9 4 7 4-4 4 4 4-12 4-3 4-11 4 4 4 17 4-10 4 0 4 3 4-5 4 14 4 5 4-2 3-6 4-10 4 16 4-2 4-11 4 8 4 7 4-11 4 7 4-2 4 9 4-17 4 2 4 0 4 4 4-2 4 8 4-2 4 6 4-9 4-1 3 0 4 7 4-13 4 0 4 2 4-2 4 8 4-6 4 13 4-10 4-2 4 6 4-7 4 6 4 3 4-2 4 0 4-3 4-2 4 2 4-13 3 6 4-2 4-5 4 8 4 6 4-6 4 2 4-11 4 17 4 0 4-5 4 15 4-9 4 8 4-18 4 16 4-9 4-3 4-4 4-2 4 12 3 8 4-15 4 3 4-8 4 8 4 2 4-2 4 13 4-10 4 3 4 5 4-5 4 0 4-4 4 3 4-1 4 5 4-2 4-5 4-4 4 2 3-12 4 0 4 4 4 22 4-19 4-8 4-1 4 18 4 9 4-4 4-9 4-1 4 15 4-7 4-10 4-4 4-6 4 10 4 13 4-7 4 0 3-1 4 2 4-9 4-4 4 4 4-2 4 2 4-6 4 3 4 8 4 1 4 3 4-1 4-2 4 6 4-9 4 1 4 5 4-2 4-2 4 7 3-5 4 0 4-12 4 0 4 4 4 4 4 3 4 10 4 1 4 6 4-3 4-9 4-3 4-10 4-2 4 6 4 7 4 9 4-23 4 10 4-5 3 8" stroke="#969100"/>
<path d="M204 1510l3 3 4-4 4-6 4 8 4-9 4 12 4 0 4 4 4-3 4-2 4-5 4 3 4-1 4 1 4-7 4 14 4 3 4 4 4-17 4-2 4 3 3-2 4 3 4 1 4 10 4-4 4-7 4 1 4-5 4 9 4-7 4 13 4 5 4-13 4-2 4 8 4-7 4 12 4 4 4-5 4 2 4-10 3-1 4-2 4 9 4-2 4-16 4 14 4 10 4-1 4-4 4-10 4-11 4 3 4 14 4 4 4 0 4-15 4 4 4 14 4-3 4 0 4-8 3 1 4 5 4 7 4-12 4 4 4 2 4-7 4-4 4-1 4 6 4 1 4-6 4 0 4 5 4 9 4-14 4 1 4-2 4 5 4 4 4-11 3 10 4 2 4-3 4 4 4 1 4 2 4-14 4-10 4 12 4 6 4-2 4 1 4 11 4-13 4 3 4-6 4 0 4 4 4 1 4 5 4 6 3-16 4 4 4-11 4 16 4-13 4 3 4-1 4-3 4 2 4-8 4 8 4 1 4 10 4-3 4-1 4 6 4 10 4-18 4-14 4 17 4-8 3 10 4-8 4 12 4-11 4-8 4 0 4 8 4 6 4 4 4-9 4 2 4-4 4-6 4 14 4 3 4-2 4-6 4 6 4-11 4 7 4 4 3-9 4 7 4-3 4 8 4-10 4-4 4 9 4 3 4-6 4-8 4 10 4-5 4 1 4-2 4 5 4 6 4-8 4 3 4 10 4-9 4 7 3-15 4 12 4-6 4 0 4-1 4-2 4 2 4-3 4 3 4-11 4 13 4 1 4-5 4 1 4-9 4 1 4 13 4-3 4-4 4 4 4 8 3-5" stroke="#26b800"/>
<path d="M204 1469l3-2 4 1 4 9 4 1 4 2 4 2 4-4 4-6 4-4 4 6 4-1 4 2 4-9 4 19 4-14 4-1 4-5 4 13 4-2 4-6 4 1 3 1 4-1 4 7 4-13 4 11 4-4 4-4 4 10 4-11 4 10 4-5 4 2 4 2 4 0 4 0 4-5 4-2 4 3 4 2 4-5 4-4 3 5 4 0 4 4 4 1 4-10 4-3 4 5 4-6 4 13 4 5 4-4 4 3 4 8 4-21 4-10 4 0 4 13 4 7 4-1 4 7 4-3 3-19 4 9 4 4 4 4 4-20 4 15 4-1 4 5 4-9 4-1 4 9 4-6 4 1 4 4 4 8 4-10 4-12 4 2 4 11 4 2 4 7 3-16 4 14 4-6 4-4 4 5 4 6 4-3 4-2 4-14 4 10 4 2 4-11 4 0 4 5 4-5 4 16 4 2 4 4 4-1 4-2 4-3 3 2 4-2 4-6 4 6 4-14 4-4 4-5 4 9 4 8 4 1 4 16 4-9 4-2 4 5 4 8 4-15 4 0 4-7 4 5 4-7 4 15 3-17 4 1 4 0 4 13 4 1 4-1 4-12 4-2 4 10 4 4 4-15 4 8 4 12 4-5 4 0 4-1 4-9 4 5 4 8 4 1 4 0 3-9 4 3 4 10 4-5 4-7 4-1 4-6 4-9 4 5 4 0 4 6 4 3 4 4 4-6 4-4 4 14 4 7 4-11 4-2 4 3 4-10 3-3 4 10 4-11 4 4 4 10 4-13 4-8 4 17 4 0 4 3 4 1 4-8 4-2 4 7 4 1 4-4 4-2 4 9 4 8 4-16 4 13 3-8" stroke="#dd9900"/>
<path d="M204 1525l3 6 4-6 4-1 4 3 4-4 4 11 4-1 4 2 4-8 4 1 4-3 4 2 4 1 4-6 4 1 4 5 4-2 4 3 4-3 4 4 4-5 3 5 4 0 4-2 4-7 4 6 4 0 4 0 4 2 4 10 4-6 4-3 4-4 4 0 4-4 4 1 4 3 4 8 4-5 4-1 4-2 4 2 3-3 4 6 4-5 4-5 4 3 4 6 4 0 4-1 4 5 4-2 4-4 4 5 4 1 4-7 4 5 4 0 4 0 4-4 4 0 4-3 4 3 3-2 4 6 4 2 4-7 4 0 4 1 4-3 4 0 4 11 4-3 4 4 4-7 4 11 4-10 4-3 4 1 4 2 4 0 4-5 4 2 4-4 3 1 4-4 4 9 4-5 4 1 4-1 4 3 4-2 4 6 4 4 4-1 4-3 4-9 4 3 4-1 4 0 4 2 4 3 4-1 4-9 4 5 3-1 4 8 4-4 4 4 4-5 4 7 4-2 4-2 4-2 4-1 4 0 4 0 4 1 4-1 4 3 4 4 4 0 4-2 4 0 4 0 4-2 3-4 4-3 4 1 4 5 4-2 4 3 4 0 4 0 4-1 4 3 4-1 4 1 4-1 4 0 4 3 4-6 4 5 4-4 4 2 4-4 4-3 3 3 4-3 4 2 4 6 4-1 4-10 4 3 4-3 4 6 4-2 4 2 4-7 4 10 4-1 4-1 4 0 4-2 4 4 4 4 4 1 4-4 3 0 4 3 4-3 4-6 4 3 4 2 4 3 4-2 4-6 4 0 4 3 4 1 4-1 4 1 4-6 4-2 4-4 4 7 4-1 4 9 4 0 3 3" stroke="#969100"/>
<path d="M204 1515l3-13 4 12 4-3 4-7 4 5 4 0 4-5 4 5 4 8 4-1 4-9 4-2 4 11 4-8 4 0 4 3 4-13 4 8 4 3 4-12 4 5 3 12 4-2 4-3 4-8 4 6 4 4 4 7 4-4 4 6 4-11 4 13 4-5 4-21 4 10 4 5 4 4 4 4 4-8 4-7 4 2 4 5 3 5 4 4 4-13 4-2 4 3 4-5 4 9 4-15 4 12 4-2 4 5 4-10 4 4 4-9 4 11 4-2 4 6 4-5 4-4 4 4 4-3 3-5 4 10 4 12 4-12 4-5 4-6 4 11 4-9 4 3 4 5 4-1 4-5 4-4 4 10 4-1 4-2 4-2 4 16 4-3 4-7 4-1 3-7 4 4 4 5 4 1 4-2 4 8 4-4 4-3 4-1 4-5 4-8 4 9 4-5 4 2 4 0 4 16 4 2 4-4 4 2 4 1 4-4 3-5 4-4 4-4 4 7 4 5 4-6 4 2 4-2 4 1 4-5 4 8 4-7 4-5 4 1 4-12 4 14 4-4 4 20 4-6 4-13 4-7 3 4 4 11 4 0 4 2 4-13 4 9 4 1 4-6 4 3 4 8 4-3 4-3 4-6 4 15 4-15 4-1 4 15 4-1 4-10 4-2 4-3 3-1 4 5 4 4 4 3 4-4 4 6 4 0 4-5 4-2 4 4 4-4 4 2 4 14 4-13 4 10 4-11 4-3 4 9 4-17 4 13 4-2 3-7 4 24 4-20 4-5 4 1 4 11 4-10 4-1 4 8 4-5 4 9 4-5 4 2 4-1 4 0 4 1 4 3 4 6 4-16 4-2 4 3 3 9" stroke="#994a52"/>
<path d="M204 1431l3 0 4 3 4-9 4 6 4 0 4 1 4-1 4 4 4 6 4-5 4-8 4-3 4 7 4-5 4 1 4 3 4 3 4-1 4-3 4 0 4 5 3 2 4-7 4 1 4 6 4-8 4 3 4-9 4 4 4 1 4 4 4-2 4-2 4 0 4 5 4 0 4-3 4 4 4 4 4-7 4 4 4-5 3 6 4-7 4 2 4-2 4-1 4-2 4 1 4 7 4-5 4-1 4 6 4-6 4 2 4 11 4-15 4-2 4 9 4 5 4 1 4 0 4-6 3 1 4 4 4-2 4-1 4-7 4 5 4-2 4 3 4 0 4-10 4 11 4 0 4-3 4-3 4 9 4-8 4 4 4 0 4-5 4-1 4 0 3-5 4 7 4-2 4 3 4 6 4 2 4-5 4-4 4 1 4 3 4 5 4-2 4-5 4 2 4-5 4 8 4-4 4-1 4 8 4-6 4-6 3 11 4-7 4 0 4-5 4 7 4 1 4-4 4 7 4-12 4 2 4-2 4 1 4-1 4 9 4-6 4 10 4-7 4-4 4 10 4 0 4-5 3-3 4 6 4-3 4 1 4-10 4-4 4 19 4-6 4 1 4 2 4 2 4-1 4-1 4 1 4-9 4 2 4-2 4 5 4 6 4-3 4 1 3-13 4 5 4-3 4 1 4 12 4-6 4 4 4-9 4-3 4 10 4 0 4-8 4 5 4-1 4-5 4 4 4-5 4 8 4 0 4 3 4-6 3-2 4 0 4 3 4-6 4 10 4-3 4-5 4 1 4 8 4-2 4-5 4 0 4-3 4 8 4-7 4 1 4 3 4 6 4 3 4-9 4-3 3 0" stroke="#994a52"/>
<path d="M204 1432l3 3 4-2 4-5 4-4 4 6 4 0 4 6 4 5 4-7 4-9 4 5 4 6 4-3 4-5 4 9 4-1 4-5 4 2 4-4 4 5 4 3 3-7 4 2 4-7 4 5 4 9 4-1 4-1 4 0 4-12 4 6 4 1 4 4 4 1 4-2 4-3 4 5 4-2 4 5 4-3 4 2 4-14 3 3 4 2 4 8 4 3 4-3 4 1 4-3 4 3 4-13 4 5 4-3 4 1 4 5 4 7 4-12 4 0 4 10 4 2 4 0 4-6 4-4 3-2 4-1 4 6 4-4 4-5 4 0 4 2 4-3 4 6 4 3 4 6 4 0 4 2 4-3 4-8 4-7 4 7 4 4 4 2 4 5 4-4 3-6 4 1 4-7 4 3 4 9 4-3 4 3 4-2 4-1 4 3 4-7 4-7 4 1 4 12 4-9 4 7 4-4 4 6 4 5 4-13 4 3 3-3 4 2 4 10 4-5 4 3 4-10 4 0 4 6 4-3 4 4 4 2 4 1 4-8 4 0 4 3 4 4 4-1 4-7 4-1 4-5 4 14 3 2 4-7 4 7 4 4 4-14 4-4 4 15 4-4 4 4 4-10 4 5 4 1 4-6 4 12 4-3 4 0 4-5 4 5 4-1 4-2 4-1 3-5 4 2 4-2 4-8 4 12 4-1 4 10 4-4 4-3 4-1 4-3 4 1 4 2 4-6 4-1 4 3 4 4 4-3 4 0 4-2 4 1 3 0 4 7 4-2 4 4 4-2 4-4 4 0 4 1 4 6 4-8 4-4 4 8 4 7 4-3 4-6 4-8 4 7 4 4 4 3 4-6 4 8 3-4" stroke="#ff6600"/>
<path d="M204 1444l3 0 4 3 4 1 4-2 4-4 4 5 4-2 4-1 4-1 4 4 4-8 4 1 4 3 4 1 4 3 4-2 4 4 4 3 4-11 4 1 4 5 3 3 4 2 4-6 4-5 4 2 4-1 4 6 4-6 4-2 4-2 4 3 4 0 4 2 4 3 4 3 4 2 4-4 4 0 4-7 4 7 4-3 3 2 4 3 4 0 4-1 4-5 4-5 4 0 4 4 4 2 4-5 4 5 4-3 4 7 4-5 4-1 4 4 4 0 4 4 4 1 4-5 4 2 3-3 4-8 4 9 4-2 4 4 4-4 4 16 4-10 4-14 4 11 4-6 4 10 4-1 4 4 4-5 4-6 4 3 4 0 4 1 4-7 4 5 3-4 4 2 4-2 4 5 4-6 4 1 4 0 4-5 4 12 4-13 4 1 4 3 4 4 4 1 4 2 4 4 4 0 4-16 4 6 4 2 4-5 3 5 4 1 4 2 4-6 4-1 4 8 4-3 4 4 4 0 4-2 4-1 4-3 4 4 4-1 4 3 4 3 4-11 4 2 4 1 4 9 4-9 3 3 4 0 4 4 4 7 4-1 4-3 4-4 4 2 4-5 4 4 4-6 4 0 4 4 4-5 4 6 4 4 4 5 4-4 4 3 4-6 4-3 3-10 4 3 4-1 4 3 4 2 4 0 4 2 4 3 4 3 4-12 4 1 4 4 4 1 4 8 4-2 4-5 4 0 4 2 4-10 4-2 4 9 3-2 4 0 4-2 4-4 4 2 4-4 4 8 4 6 4-11 4 4 4-4 4 5 4-3 4 2 4-2 4 1 4-1 4 2 4-7 4 0 4 8 3 6" stroke="#ff6600"/>
<path d="M204 1523l3 2 4 2 4-2 4 1 4-5 4 1 4 4 4-4 4-3 4 6 4-3 4-5 4-1 4 10 4-2 4-1 4 3 4-8 4 4 4 4 4 0 3-8 4 2 4 3 4 0 4 1 4-5 4 6 4-8 4 3 4 1 4 5 4 3 4 1 4-7 4-3 4 11 4-7 4-4 4 12 4-8 4-2 3-5 4 14 4-9 4 2 4 6 4-5 4-8 4 2 4 6 4-5 4-1 4 1 4-4 4-1 4 4 4 3 4 11 4 1 4-15 4 2 4 4 3-9 4 7 4 1 4-3 4-2 4 0 4 2 4 1 4 1 4 3 4-8 4 2 4 9 4 1 4-14 4 9 4 1 4-1 4-3 4-3 4-3 3 9 4-2 4-7 4 5 4 7 4-3 4-1 4-1 4-8 4 0 4-3 4 2 4 12 4-7 4 5 4-2 4-7 4 1 4 12 4-2 4 2 3-2 4-4 4 2 4 4 4 1 4-11 4-3 4 1 4 6 4-5 4 8 4-10 4 4 4 8 4-2 4-8 4 0 4 4 4-4 4 6 4 2 3 4 4-3 4 6 4 6 4-16 4 7 4-1 4-6 4-4 4-1 4 4 4-1 4 1 4 5 4-3 4-4 4 11 4-9 4-3 4 1 4 1 3-1 4 6 4 1 4 4 4-7 4-5 4 4 4-5 4 8 4 0 4 3 4 0 4-3 4-8 4 2 4 4 4-1 4-3 4-3 4 4 4 3 3 1 4 6 4-6 4-2 4-4 4 9 4-6 4 9 4 1 4-8 4-1 4 6 4-1 4-3 4-1 4 0 4-6 4 2 4-3 4-1 4 5 3 3" stroke="#969100"/>
<path d="M204 1438l3-4 4 6 4 2 4-4 4-1 4 4 4-4 4-1 4-5 4 3 4-1 4 6 4-2 4-6 4 8 4-8 4 4 4-1 4 3 4 1 4-2 3 6 4 0 4-10 4 5 4-7 4 19 4-9 4-6 4 5 4 3 4-2 4-2 4-1 4 7 4-6 4 0 4-4 4-4 4 5 4 4 4-6 3 1 4 8 4-4 4-5 4 4 4-3 4 1 4-5 4 3 4 10 4 3 4-7 4-1 4-2 4-3 4 1 4 4 4 0 4-1 4-8 4 7 3 2 4-5 4 1 4 5 4-6 4 5 4 5 4-8 4-9 4 12 4 6 4-5 4-3 4-2 4 2 4-3 4 1 4-3 4-4 4 4 4 4 3 3 4-5 4 0 4-7 4 9 4 2 4-5 4 8 4-4 4 1 4-6 4 3 4-3 4 7 4-5 4 5 4 2 4-7 4 3 4-2 4 5 3-11 4 6 4 4 4-6 4 3 4 0 4-4 4 6 4 10 4-8 4 2 4-1 4-8 4 6 4 6 4-4 4 4 4 1 4-5 4-13 4 7 3 8 4 1 4-6 4-2 4 0 4 2 4 0 4 0 4 2 4-5 4-6 4 1 4-4 4 7 4 5 4-3 4 10 4-7 4-2 4 4 4-1 3 2 4-2 4 4 4-12 4-2 4 0 4 10 4-2 4 0 4 1 4-2 4-3 4 4 4 5 4 3 4-11 4 0 4 1 4 2 4 3 4-9 3 3 4 4 4 10 4-9 4-7 4 5 4-3 4-7 4 10 4 0 4 2 4 1 4-3 4 3 4-5 4 5 4-3 4 3 4 2 4-4 4-1 3-6" stroke="#994a52"/>
<path d="M204 1433l3 2 4 7 4-4 4 8 4 1 4 1 4 2 4-8 4-4 4 8 4 0 4 0 4 3 4-8 4-4 4 3 4 7 4-6 4 5 4-2 4-1 3 1 4-6 4 9 4-3 4 5 4-1 4-3 4-3 4-5 4 4 4 3 4-1 4 2 4-4 4 0 4-8 4 8 4-7 4 3 4 5 4-1 3 1 4 1 4-5 4 13 4-9 4 2 4 6 4-4 4-4 4-5 4-4 4-5 4 17 4-3 4-2 4 8 4-2 4-2 4-6 4 1 4 8 3-4 4 0 4 3 4 2 4-3 4-9 4-4 4 13 4 1 4-3 4-4 4 8 4-4 4-3 4 3 4 0 4-4 4 3 4 5 4-2 4 5 3-1 4-6 4 4 4-2 4 5 4-4 4-2 4 4 4-7 4 0 4 7 4-8 4 6 4-4 4-1 4 3 4 1 4-3 4-4 4 5 4-5 3 5 4 3 4-4 4-4 4-4 4 7 4-3 4 2 4 7 4 2 4-1 4-12 4 2 4 0 4 2 4 4 4 4 4-16 4 5 4 5 4-2 3 4 4-9 4 4 4 3 4 6 4-1 4-7 4 10 4-2 4-1 4-8 4 1 4 4 4-5 4 2 4 7 4-5 4 3 4-4 4-3 4 8 3 2 4-6 4 9 4 0 4-3 4 1 4-3 4 1 4 6 4-8 4 0 4-11 4 1 4 9 4-2 4 4 4 4 4-10 4 0 4-1 4 7 3-4 4-2 4 4 4-1 4 2 4 1 4 3 4 1 4-7 4 2 4-2 4-9 4-1 4 5 4 1 4 6 4 2 4 1 4-7 4 3 4-2 3 5" stroke="#969100"/>
<path d="M204 1505l3-1 4 4 4 0 4 9 4-1 4-18 4 3 4 6 4-4 4 9 4-8 4 12 4-19 4 17 4 10 4-10 4-9 4-5 4 8 4 0 4 6 3-11 4 2 4 3 4 7 4-9 4 21 4-13 4-5 4 10 4 6 4 9 4-18 4 1 4 1 4 0 4-2 4-1 4-6 4 0 4-2 4-2 3 0 4 2 4 10 4 6 4-10 4-10 4 9 4 2 4-1 4-4 4-2 4 1 4 6 4 8 4-8 4-3 4 0 4 6 4-22 4 24 4-3 3-12 4-3 4 9 4 5 4-15 4 7 4 4 4-5 4-4 4 7 4-1 4 0 4 13 4-4 4-1 4 1 4 8 4-4 4-1 4 1 4-12 3 15 4-8 4-3 4 6 4 3 4-14 4 2 4 15 4-12 4-5 4-2 4 6 4-9 4 8 4 2 4-5 4 4 4-2 4 5 4 5 4-10 3 7 4-6 4-5 4-1 4 8 4-12 4-5 4 14 4 0 4-2 4-1 4 3 4 7 4-9 4-3 4 10 4 1 4-5 4 10 4 6 4-4 3-14 4 12 4-6 4 3 4-3 4-7 4-6 4 16 4-4 4-6 4 8 4-5 4 11 4-9 4 12 4-1 4-11 4-8 4 19 4-12 4 8 3-14 4 1 4 4 4 9 4 5 4-1 4-11 4 1 4-3 4 5 4-5 4-7 4 1 4 1 4 10 4-5 4-4 4 12 4-2 4-3 4-2 3 0 4 3 4 5 4-16 4 9 4 4 4-6 4-5 4 4 4 1 4 6 4-6 4 4 4-2 4 1 4-5 4-7 4 3 4 7 4 1 4-2 3-2" stroke="#dd9900"/>
<path d="M204 1467l3-6 4 7 4-5 4 6 4 17 4-21 4-4 4 5 4 2 4-8 4-5 4 5 4 0 4 2 4 19 4-10 4-13 4-7 4 1 4 9 4-5 3 3 4-3 4 8 4-7 4 0 4 6 4 0 4 1 4-5 4-10 4 12 4-7 4-1 4 7 4 5 4-1 4-7 4 5 4-3 4 2 4 1 3-13 4 9 4-12 4 16 4-1 4 6 4-3 4-3 4 6 4-5 4 3 4 5 4-8 4 1 4 7 4 0 4-18 4 11 4-6 4-1 4-10 3 4 4 19 4-14 4 10 4-1 4-8 4 2 4-2 4 7 4-2 4 3 4 12 4-8 4 1 4-1 4 0 4 6 4-18 4 5 4 0 4 0 3 6 4-15 4 14 4-15 4 8 4-1 4-5 4 11 4-18 4 17 4-4 4-5 4-2 4 10 4 0 4-5 4 6 4-10 4 18 4 1 4-8 3 0 4-4 4-4 4 10 4-1 4-2 4-10 4-4 4 9 4 7 4-3 4 4 4 1 4-13 4 1 4 8 4 2 4-1 4-2 4-8 4 4 3-1 4 4 4-7 4 0 4 3 4-2 4 3 4 7 4 8 4-22 4 0 4 3 4 6 4-5 4-3 4 7 4 11 4-7 4 4 4-3 4 5 3-7 4-5 4-4 4 4 4 8 4-11 4-1 4-6 4 5 4 8 4-5 4-2 4 3 4-1 4 8 4 9 4 4 4-18 4-1 4-7 4 6 3 2 4-3 4 21 4-12 4 4 4 5 4-8 4 9 4-11 4-2 4 4 4-6 4 11 4-10 4-15 4 9 4 6 4 6 4 1 4 0 4-3 3-13" stroke="#6e6e6e"/>
<path d="M204 1445l3-3 4 4 4-3 4 5 4-6 4-6 4-5 4 13 4 1 4-2 4-4 4 6 4-11 4 12 4-12 4 7 4 17 4-11 4 9 4 0 4-9 3 0 4-10 4 12 4 3 4-6 4 2 4-6 4 2 4 5 4-6 4-9 4 7 4 3 4 4 4-8 4 11 4-11 4 0 4 14 4-14 4-9 3 18 4 0 4-13 4 4 4 6 4-5 4 7 4-11 4 10 4 13 4-17 4-10 4 10 4 4 4 21 4-15 4-14 4 14 4 6 4-8 4 0 3-3 4-9 4 4 4 5 4 6 4-8 4 4 4-1 4-11 4 7 4-10 4 5 4-10 4 3 4 9 4-10 4 9 4-3 4 10 4-6 4 3 3 0 4 10 4-10 4 16 4-4 4-5 4-13 4-2 4 2 4-2 4 2 4 11 4-5 4-6 4 3 4 8 4-14 4 6 4 13 4 0 4-10 3 2 4-1 4 16 4-13 4-4 4-1 4 1 4 2 4-8 4 8 4 2 4-7 4-8 4 8 4 9 4-8 4-1 4-1 4 1 4 6 4-2 3-7 4 9 4-4 4-4 4 0 4 4 4-1 4 6 4 4 4 5 4-18 4 1 4-9 4 4 4 14 4-10 4 8 4 1 4-12 4 4 4 3 3-2 4 9 4-10 4 2 4 2 4-9 4 9 4-2 4 8 4-2 4-8 4-1 4-4 4 8 4 6 4-3 4-6 4-8 4-3 4 10 4 12 3-2 4 1 4-3 4-3 4 0 4-8 4 7 4-6 4 17 4 0 4-12 4 7 4-5 4 11 4-18 4 5 4 7 4 2 4-20 4 12 4-15 3 8" stroke="#6e6e6e"/>
<path d="M204 1466l3 10 4-5 4-10 4 18 4-3 4-6 4 7 4-8 4-6 4-9 4 14 4-7 4 8 4 6 4-8 4 17 4-16 4-3 4-1 4 3 4 12 3-10 4 6 4 2 4-13 4 2 4 1 4 4 4-2 4-3 4 5 4 1 4-6 4 5 4 4 4-9 4-3 4-1 4 9 4 3 4-16 4 3 3 7 4-9 4 5 4 11 4-5 4 4 4-7 4-8 4 12 4-6 4 12 4-7 4 1 4-17 4 3 4-6 4 22 4-11 4 13 4 1 4-8 3 2 4 0 4 12 4-7 4 0 4-5 4-1 4-5 4 2 4 3 4-2 4 4 4-6 4-7 4 1 4 7 4 4 4-9 4 10 4 1 4-1 3 1 4-2 4 1 4-8 4 3 4 5 4-5 4-7 4 26 4-8 4-12 4 0 4 6 4 6 4-18 4 0 4 18 4 2 4-5 4-10 4-3 3 5 4-6 4-3 4 1 4 8 4-5 4-2 4-4 4 2 4 1 4 14 4-6 4 6 4-2 4 3 4-1 4-5 4-2 4 13 4-3 4 3 3-17 4 9 4 2 4 0 4-8 4-7 4 19 4-5 4 2 4 8 4-6 4-18 4 19 4-5 4 1 4-10 4 7 4 0 4 3 4 8 4 3 3-7 4-3 4-10 4 3 4-5 4 2 4 22 4-19 4 3 4-10 4 2 4 7 4 4 4-11 4 1 4 4 4 1 4 9 4 9 4-3 4-9 3 1 4-5 4 2 4 4 4-12 4-2 4 11 4 6 4-9 4-16 4 9 4-4 4 5 4-2 4 8 4-2 4 8 4 2 4 0 4 5 4-15 3 13" stroke="#ff2d2d"/>
<path d="M204 1488l3-1 4-8 4 9 4 16 4-15 4 0 4-2 4 5 4 13 4-9 4-3 4 6 4-9 4-4 4-13 4 18 4 2 4 10 4-5 4-4 4-3 3-1 4 8 4-9 4 21 4-8 4-9 4-10 4 3 4-8 4 13 4 1 4-3 4-2 4-4 4 7 4 11 4-17 4-1 4 11 4 1 4-12 3-1 4-2 4 7 4-3 4-3 4 9 4-6 4 13 4-2 4-3 4-3 4-1 4-7 4-1 4-5 4 7 4 12 4-4 4 3 4 2 4-8 3 5 4-4 4-4 4 12 4-5 4 15 4-18 4 8 4 7 4-13 4-2 4-5 4 7 4-11 4 12 4 6 4-4 4 2 4-5 4-3 4-7 3 11 4-14 4 8 4 5 4 3 4-7 4 11 4-10 4 2 4 3 4-5 4-3 4 2 4 9 4-4 4-2 4 4 4-5 4 0 4 2 4-5 3-10 4 8 4-2 4 1 4 9 4-5 4 11 4 0 4-13 4 4 4 20 4-10 4 9 4-2 4-16 4 4 4-4 4 2 4 8 4-6 4 0 3 1 4-4 4 14 4-13 4-17 4 24 4-11 4 8 4-2 4-10 4 6 4-7 4 9 4 1 4 3 4-20 4 15 4-10 4 8 4-4 4 2 3-4 4 12 4-2 4-1 4 9 4-5 4 2 4-8 4-1 4-7 4 11 4-9 4-4 4-1 4 14 4 1 4-1 4-2 4-1 4-12 4 17 3-8 4 12 4-5 4-8 4 7 4-3 4-2 4-13 4 8 4-1 4 3 4 11 4-13 4 13 4-4 4-14 4 17 4 8 4-14 4 7 4-2 3 6" stroke="#00c8d8"/>
<path d="M204 1504l3 2 4-2 4 2 4 3 4-8 4 7 4-8 4-6 4 2 4 2 4-3 4-2 4 5 4 5 4 12 4-11 4-3 4 0 4 5 4 3 4-10 3 3 4-1 4 0 4-10 4 20 4-1 4 0 4-7 4-2 4 15 4-20 4-2 4 11 4-3 4 7 4-15 4 10 4 3 4 5 4-7 4-6 3 3 4-2 4 6 4-3 4 5 4-13 4 13 4-1 4 1 4-2 4 3 4 0 4 0 4-5 4-10 4 10 4 4 4-6 4-2 4 16 4-9 3 3 4-1 4-4 4-5 4 6 4 2 4-8 4 2 4-8 4 3 4-6 4-1 4 3 4 5 4-2 4-1 4 11 4 7 4-5 4-4 4-10 3 9 4 2 4-12 4 7 4-3 4 1 4 6 4 4 4-5 4 4 4-1 4 9 4-3 4-2 4 3 4-12 4-7 4 2 4 3 4-2 4-2 3 0 4 5 4 8 4-11 4 0 4-1 4 1 4-5 4 6 4 6 4-10 4 7 4-7 4 0 4 5 4 6 4 0 4-8 4 5 4 4 4-13 3 7 4 4 4-2 4-2 4 5 4-4 4 2 4-12 4 7 4 3 4 4 4-2 4-10 4 18 4-8 4-5 4-4 4-4 4 6 4 5 4 11 3-4 4 3 4 9 4-14 4-6 4 8 4 0 4-9 4 1 4-2 4 4 4 10 4-7 4 2 4-11 4 6 4 3 4-2 4 9 4-5 4-2 3 0 4-7 4-11 4 4 4 11 4-2 4 0 4 6 4-5 4-3 4 9 4-1 4-2 4 0 4-5 4 8 4 3 4-8 4 2 4 6 4 0 3 11" stroke="#969100"/>
<path d="M204 1456l3 7 4-12 4-14 4 9 4 3 4 5 4-11 4-10 4 17 4 1 4 5 4 1 4-11 4 3 4 4 4 0 4 8 4-2 4 10 4-13 4-4 3 0 4-4 4-3 4-3 4 6 4 4 4 6 4-3 4 0 4 9 4-13 4 4 4-9 4 19 4-11 4 6 4 0 4-1 4-1 4-6 4 0 3 1 4 6 4-16 4 5 4 6 4 6 4-7 4 1 4-3 4 6 4-5 4-7 4-4 4 11 4 5 4-2 4-9 4-1 4 8 4 6 4-25 3 13 4 4 4-6 4 2 4 7 4 1 4 5 4-10 4 4 4 6 4-7 4 9 4 5 4-19 4-2 4-6 4 13 4-1 4-13 4 18 4 9 3-1 4-1 4-12 4-1 4 2 4 1 4-4 4-7 4 0 4 4 4 10 4-10 4 5 4-1 4-1 4 5 4 1 4-4 4-2 4-2 4 16 3-5 4-1 4-9 4-3 4-2 4 1 4 13 4-10 4 4 4-7 4 2 4 0 4 0 4-3 4 9 4 0 4-2 4 18 4-16 4 12 4-11 3-5 4 10 4-2 4 2 4 2 4-11 4 4 4 12 4-8 4 0 4-6 4 13 4 4 4-12 4-9 4 14 4 0 4-9 4 11 4-14 4 1 3 7 4 7 4-2 4-6 4 2 4 1 4-14 4 8 4 0 4-6 4 14 4-1 4 0 4 6 4-7 4-1 4-4 4 4 4 4 4-20 4 5 3 5 4 13 4-4 4-4 4 9 4-23 4 10 4-7 4-8 4 7 4 7 4 6 4-4 4 4 4-11 4 1 4 7 4-7 4 4 4 0 4 14 3-15" stroke="#ff2d2d"/>
<path d="M204 1435l3-11 4 8 4 6 4 0 4 0 4-7 4-1 4 5 4 14 4-20 4 1 4 8 4-1 4-2 4 5 4 1 4 2 4 0 4 6 4 3 4-4 3 5 4 0 4-8 4 1 4-10 4 9 4-4 4 1 4 9 4 1 4-8 4 5 4-6 4 9 4-2 4-4 4 0 4-14 4 9 4 8 4-16 3 8 4 3 4-12 4 3 4-1 4 19 4-4 4 5 4-10 4-3 4-7 4 13 4-4 4-7 4-1 4 13 4-2 4-2 4 6 4 1 4-4 3-2 4-8 4-2 4 2 4-2 4-4 4 2 4 5 4 9 4-6 4 1 4 1 4 7 4-4 4 2 4 6 4 1 4-4 4-6 4-14 4 13 3 4 4-7 4-8 4-1 4 12 4 7 4-4 4-3 4 0 4-6 4-2 4 2 4-2 4 4 4-4 4 1 4-3 4 5 4-7 4 6 4-2 3 0 4 9 4 6 4-10 4 11 4-4 4 8 4-19 4 2 4 3 4 7 4-4 4-13 4-1 4 18 4 0 4-4 4 3 4-2 4-4 4-12 3 14 4 3 4 6 4-20 4 11 4-5 4 14 4-20 4 12 4 0 4 2 4-5 4 4 4 0 4-20 4 8 4 13 4 9 4-4 4-10 4 4 3-3 4-8 4 4 4-1 4 6 4-7 4 3 4 5 4-10 4 13 4 2 4 0 4-12 4 6 4-1 4 2 4-2 4-1 4-6 4 1 4 5 3 3 4 2 4-10 4 9 4-5 4 14 4-3 4-2 4-4 4-13 4-1 4 1 4 14 4 4 4-2 4 2 4-12 4 4 4 4 4 3 4-4 3-1" stroke="#dd9900"/>
<path d="M204 1433l40 0 3 8 72 0 2-18 58 0 3 17 102 0 3-12 56 0 5 1 49 0 4 8 62 0 3-4 31 0 4-2 91 0 3-6 54 0 2 4 78 0 2-3 23 0" stroke="#26b800"/>
<path d="M204 1457l3 0 4-3 4 16 4 7 4-14 4 7 4-5 4-4 4 1 4 1 4-6 4 2 4 5 4 2 4-4 4-1 4 0 4 11 4-2 4-15 4 2 3 2 4-11 4 9 4 7 4 0 4-5 4 3 4 10 4 17 4-5 4-12 4-4 4-4 4-3 4-2 4 14 4-9 4-14 4 3 4 7 4-8 3 3 4 6 4 12 4-5 4 8 4-18 4 4 4 0 4-6 4 6 4 20 4-15 4 5 4-5 4-6 4 15 4-6 4-11 4 10 4-2 4-5 3 3 4-8 4-4 4 5 4 0 4 1 4 8 4 8 4-10 4 1 4 0 4-8 4 10 4-4 4 5 4-7 4-6 4 4 4-2 4 13 4-9 3 4 4-5 4 2 4 7 4-11 4 6 4 10 4-5 4 8 4-18 4-4 4-5 4 5 4 11 4 0 4 2 4-10 4 6 4-1 4 7 4-5 3 4 4-5 4-4 4 0 4-4 4-3 4 6 4 4 4 0 4 1 4-8 4-8 4 19 4 2 4-10 4 7 4-8 4-11 4 15 4 1 4 12 3-14 4-10 4 18 4-12 4 3 4-2 4 3 4 2 4-7 4 7 4-1 4-2 4 3 4 9 4-10 4-8 4-8 4 8 4 5 4-12 4 17 3 4 4-13 4 6 4 7 4 5 4 3 4-15 4-6 4 16 4-1 4 4 4-5 4-5 4-11 4-2 4 12 4 3 4 2 4-2 4-5 4 9 3-10 4 5 4-15 4 2 4 16 4-6 4-1 4 0 4 7 4 7 4 12 4-23 4-6 4-7 4 7 4 12 4-16 4 8 4 5 4-9 4 10 3-10" stroke="#969100"/>
<path d="M204 1438l3-1 4-1 4-2 4 1 4-4 4 3 4 0 4-3 4 5 4 0 4-4 4 2 4 0 4-6 4 8 4 7 4-13 4-1 4 3 4 4 4-12 3 7 4-2 4 3 4 7 4-12 4-2 4 5 4 5 4-6 4-7 4 3 4 6 4-5 4 5 4 5 4-1 4-1 4 3 4 0 4-2 4-1 3-5 4-3 4 5 4-1 4 4 4-11 4 10 4 4 4 0 4-5 4-3 4 4 4 8 4-11 4 8 4-5 4-5 4-10 4 5 4 0 4 1 3 1 4-2 4 3 4-4 4 11 4 0 4 2 4 5 4-6 4 8 4-6 4-5 4 4 4 1 4 0 4-2 4 6 4-11 4 4 4 0 4 2 3-4 4 1 4 7 4-1 4 0 4-9 4 3 4-3 4 3 4 0 4 0 4 1 4 3 4-2 4-3 4 6 4-4 4-3 4 4 4 3 4-1 3 2 4-3 4 1 4-10 4 6 4-5 4 6 4 0 4-9 4 15 4-7 4-6 4 6 4 3 4-2 4 1 4-1 4 5 4-4 4 2 4-9 3 6 4 7 4-7 4 9 4-4 4-9 4 6 4 1 4 4 4 1 4-3 4 2 4-6 4-4 4 1 4 6 4-6 4 11 4-8 4 8 4 0 3-11 4 9 4-13 4 1 4 1 4 4 4-2 4 3 4 0 4-4 4 0 4-4 4 0 4 7 4 7 4-3 4-4 4-8 4 3 4-1 4 3 3-7 4 3 4 0 4 4 4 4 4-1 4-4 4 2 4 6 4 2 4-3 4-5 4 5 4-6 4 3 4 4 4 2 4-3 4 2 4-1 4-3 3 5" stroke="#969100"/>
<path d="M204 1491l3 4 4 7 4-22 4 8 4 6 4-7 4-2 4 3 4 1 4 7 4 2 4-2 4-9 4 3 4 3 4-10 4-8 4 17 4-4 4-2 4 1 3-2 4 8 4 4 4-3 4-11 4 3 4-8 4 10 4-7 4-10 4 20 4 15 4-19 4 0 4 10 4-8 4 1 4 0 4 9 4 1 4 2 3-14 4-2 4 14 4-8 4 9 4-5 4 1 4 6 4-17 4 10 4-15 4 10 4-5 4 11 4-4 4 5 4-3 4-7 4 5 4-8 4 3 3-19 4 14 4-5 4 4 4 0 4 2 4 10 4-5 4 4 4-9 4 3 4-2 4 3 4 1 4-5 4-1 4 5 4 5 4-3 4-14 4-2 3-5 4 19 4 4 4-6 4 1 4 5 4 5 4 5 4-16 4 13 4-13 4 7 4 1 4-7 4-8 4 10 4-3 4 8 4-6 4 3 4-2 3-9 4 2 4-4 4 3 4-9 4 7 4 7 4-6 4-3 4 10 4 6 4-3 4 4 4 2 4-14 4 12 4-12 4-9 4 10 4 7 4-5 3-11 4 1 4-2 4 0 4 0 4 13 4 13 4-1 4-4 4-9 4-3 4 2 4-9 4 9 4 15 4-18 4 12 4 1 4 2 4-14 4-1 3 1 4 2 4 4 4 0 4-7 4 13 4-4 4-9 4-5 4-4 4 2 4 17 4-4 4-6 4 13 4-12 4 9 4 2 4-5 4 8 4-7 3-3 4 3 4 6 4 8 4-1 4-11 4-8 4 11 4-14 4 7 4-4 4 7 4-5 4 3 4-7 4 4 4-7 4 7 4-5 4 9 4 3 3-7" stroke="#4499d8"/>
<path d="M204 1429l3 2 4-5 4 5 4 0 4-6 4 1 4 6 4-4 4 1 4 1 4-3 4-5 4 1 4-2 4-3 4 9 4 1 4 3 4-1 4-3 4-6 3 10 4-3 4 3 4 5 4-10 4 5 4 0 4-7 4 3 4 1 4-3 4-6 4 10 4 4 4-1 4 1 4 2 4-6 4-2 4 1 4-2 3 2 4 1 4-5 4-8 4 8 4-3 4 10 4 7 4 4 4-12 4 4 4-9 4 7 4 5 4-2 4-8 4 4 4-4 4-4 4 5 4-1 3-2 4 2 4 2 4 1 4-6 4-3 4 4 4 2 4 1 4 0 4 4 4-1 4-2 4 0 4 4 4-10 4 6 4 0 4 0 4 3 4-5 3 0 4 3 4-5 4 1 4 3 4 1 4-4 4-1 4 7 4-3 4 3 4-7 4-3 4 7 4 3 4-5 4 0 4 4 4-8 4-9 4 13 3 4 4-2 4 4 4 1 4-4 4-4 4-6 4 7 4 4 4-1 4-1 4 2 4-5 4-4 4-2 4 5 4 9 4-1 4-14 4 2 4 4 3 0 4 9 4-1 4 4 4 2 4-16 4 6 4 3 4-6 4 2 4 6 4-3 4 3 4-3 4-12 4 9 4-9 4 5 4 1 4 15 4-10 3-3 4-9 4 14 4 1 4-2 4 2 4 5 4-1 4-7 4 3 4 3 4-4 4-10 4 6 4 0 4 6 4-3 4 1 4-5 4 1 4 3 3-3 4-2 4-1 4-3 4 9 4 2 4 2 4-10 4 0 4-1 4 1 4 4 4 3 4 1 4 3 4-5 4-3 4 3 4-8 4 4 4 5 3-2" stroke="#26b800"/>
<path d="M204 1480l3 1 4-5 4 1 4-8 4 14 4 3 4 4 4-1 4-2 4-12 4 0 4 2 4 1 4 4 4-3 4-3 4 14 4-19 4 2 4 4 4-1 3 5 4 5 4 3 4-8 4-4 4 0 4-5 4 1 4 7 4 4 4-10 4 4 4-3 4 2 4-9 4-3 4 10 4-6 4-3 4 19 4-15 3 14 4-8 4 0 4 1 4 1 4-7 4 4 4-7 4 0 4-7 4 6 4 17 4 6 4-12 4 2 4-2 4-5 4 9 4 7 4-16 4-8 3 9 4-6 4-1 4 0 4 17 4-8 4 15 4-5 4-8 4 9 4 1 4-1 4-13 4-3 4-2 4-7 4 18 4-7 4 7 4-4 4 9 3-7 4 6 4-6 4 1 4-1 4-6 4 17 4-9 4 4 4-4 4-10 4-2 4 13 4-16 4 19 4-6 4-1 4 5 4-7 4 7 4-16 3 10 4-1 4 7 4 8 4-13 4-2 4 5 4 11 4-11 4-3 4-5 4 8 4-9 4 6 4-3 4-8 4 13 4 0 4-7 4-3 4 0 3 12 4 4 4-5 4-6 4-4 4 9 4 0 4 4 4-6 4-16 4 13 4 10 4-4 4 0 4-5 4-5 4 7 4-2 4-1 4 4 4 0 3 15 4-14 4-8 4-3 4 7 4-4 4 12 4-8 4 6 4-13 4 0 4-1 4-2 4 1 4 13 4-14 4 7 4 0 4-8 4 1 4 4 3 1 4-2 4 6 4-4 4 14 4 7 4-11 4-3 4-8 4 15 4-20 4 19 4-6 4-7 4 9 4 1 4-5 4 3 4 3 4-4 4-4 3 5" stroke="#4499d8"/>
<path d="M204 1482l3-1 4 2 4-5 4-6 4 0 4 13 4-2 4-12 4-15 4-1 4 23 4-8 4-3 4-4 4 16 4 1 4-1 4-20 4 0 4 8 4 10 3-5 4-4 4 1 4 6 4-7 4 1 4 4 4 4 4-3 4-8 4 1 4-7 4 0 4 11 4 1 4-14 4 11 4 3 4 0 4-8 4 8 3-2 4 1 4-14 4 3 4 2 4 3 4 10 4-4 4-9 4 3 4 14 4-7 4 12 4-16 4-11 4 4 4 0 4 8 4-5 4 8 4 7 3 7 4-9 4 5 4-11 4-1 4 2 4 5 4 0 4 0 4-2 4-4 4-3 4 2 4 11 4-3 4-8 4-10 4 1 4 8 4-1 4 15 3-12 4 1 4-10 4 4 4 3 4 1 4 13 4-4 4 9 4-2 4-29 4 3 4 11 4-3 4 12 4-18 4-3 4 5 4 1 4 8 4 0 3 4 4-8 4 7 4-2 4-7 4 1 4-5 4-3 4 5 4 7 4-3 4-1 4-7 4 11 4-1 4-2 4 12 4-13 4-4 4 6 4-2 3 8 4 0 4-7 4-3 4-2 4 6 4-2 4-3 4 11 4 4 4-6 4 1 4 3 4-12 4 0 4-2 4-7 4 14 4 3 4-1 4-11 3 7 4 2 4-16 4-5 4 2 4 11 4 3 4 10 4 12 4-6 4-9 4 4 4-13 4 12 4-7 4-5 4 8 4 3 4-10 4 5 4 3 3-8 4 13 4-16 4 9 4-4 4 2 4-4 4-1 4 6 4 7 4-6 4 8 4-6 4 0 4-9 4-6 4 1 4-5 4-1 4 9 4-12 3 14" stroke="#26b800"/>
<path d="M204 1439l3 13 4-1 4-8 4 8 4 3 4 0 4 6 4-5 4-5 4 3 4-11 4-9 4-2 4 5 4 3 4 13 4 4 4-5 4-7 4-4 4 2 3 6 4-8 4 6 4-1 4-2 4 0 4 2 4-2 4-8 4-2 4 9 4-6 4 6 4-4 4 7 4-5 4-1 4 12 4-4 4 7 4-3 3-5 4 0 4 7 4-14 4 1 4 9 4-9 4-9 4 16 4-6 4 10 4 0 4 7 4-9 4 0 4-6 4-1 4-2 4-2 4 2 4 2 3-4 4 0 4-6 4 8 4 8 4-5 4-2 4-14 4 14 4 10 4 7 4-25 4 14 4-10 4 11 4 1 4-12 4 1 4 9 4-11 4 10 3-1 4-6 4-13 4 2 4 12 4 17 4-17 4-1 4-1 4 1 4 11 4-2 4-3 4 6 4 2 4-15 4 14 4-12 4-2 4 9 4-5 3-10 4-4 4 21 4 9 4 1 4 0 4-1 4-18 4 3 4-7 4 6 4-10 4 8 4 2 4 0 4 3 4-3 4-2 4 1 4 1 4-7 3 4 4-3 4 0 4 3 4 16 4-16 4 11 4 6 4-15 4 2 4 1 4 18 4-13 4 1 4-9 4 3 4 2 4-6 4 0 4-9 4 8 3 3 4 4 4 7 4 3 4-2 4-11 4-5 4 4 4 3 4-2 4 6 4-8 4-2 4-5 4-2 4 4 4 1 4 10 4-5 4 2 4-3 3 3 4 3 4 1 4-6 4 3 4-11 4 11 4-3 4 0 4-1 4 3 4 1 4 7 4 1 4-7 4-1 4 11 4-18 4 9 4-3 4-3 3-2" stroke="#00ad6a"/>
<path d="M204 1467l3-7 4 4 4-1 4-12 4 9 4-9 4 11 4-11 4 3 4 7 4 0 4-5 4 6 4-5 4 10 4-7 4 0 4 0 4 6 4-5 4-10 3 4 4 3 4-2 4 10 4-5 4 0 4 1 4 2 4 1 4 11 4-2 4-1 4-6 4-9 4-1 4 7 4-4 4-4 4 3 4-13 4 11 3 7 4-10 4 13 4-9 4-2 4 13 4 12 4-12 4-9 4 6 4-8 4 9 4-2 4 3 4-4 4 0 4-3 4-3 4 1 4 1 4 0 3 0 4-2 4 8 4-5 4 7 4-6 4-9 4 0 4 1 4 5 4 13 4 3 4-3 4 1 4-11 4-3 4 2 4-13 4 19 4-7 4 2 3 4 4-4 4-19 4 24 4 2 4 7 4-2 4-12 4 0 4-8 4 4 4 2 4 4 4 2 4 4 4 5 4 4 4-6 4-1 4-7 4 8 3-9 4 5 4 11 4-10 4-14 4 9 4 7 4-8 4-3 4 3 4-10 4 2 4-8 4 4 4 3 4 12 4 4 4-6 4-3 4-4 4-3 3 7 4 9 4-3 4 12 4 1 4-15 4 0 4-6 4-7 4-2 4 7 4 3 4 13 4-10 4-3 4 0 4 2 4-2 4 1 4-4 4 0 3 11 4 5 4-2 4-3 4-9 4 6 4 12 4-4 4-17 4 14 4-2 4-16 4 8 4 1 4-6 4-2 4 5 4 8 4 6 4-6 4 8 3-17 4 2 4 8 4-7 4-7 4-8 4 9 4 9 4-9 4 22 4-15 4-5 4 0 4-8 4 2 4 11 4 1 4 2 4 10 4-18 4 11 3-2" stroke="#dd9900"/>
</g>
<rect x="203.5" y="1113.5" width="751" height="750" fill="none" stroke="#000" stroke-width="3"/>
<path d="M328.7 1863.5v-10.5M453.8 1863.5v-10.5M579 1863.5v-10.5M704.2 1863.5v-10.5M829.3 1863.5v-10.5M203.5 1713.5h10.5M203.5 1563.5h10.5M203.5 1413.5h10.5M203.5 1263.5h10.5" stroke="#000" stroke-width="3" fill="none"/>
<text class="tk" x="192.3" y="1879.5" text-anchor="end" font-size="54">600</text>
<text class="tk" x="192.3" y="1729.5" text-anchor="end" font-size="54">750</text>
<text class="tk" x="192.3" y="1579.5" text-anchor="end" font-size="54">900</text>
<text class="tk" x="192.3" y="1429.5" text-anchor="end" font-size="54">1050</text>
<text class="tk" x="192.3" y="1279.5" text-anchor="end" font-size="54">1200</text>
<text class="tk" x="192.3" y="1129.5" text-anchor="end" font-size="54">1350</text>
<text class="tk" x="205" y="1917" text-anchor="middle" font-size="54">00:00</text>
<text class="tk" x="330.2" y="1917" text-anchor="middle" font-size="54">04:00</text>
<text class="tk" x="455.3" y="1917" text-anchor="middle" font-size="54">08:00</text>
<text class="tk" x="580.5" y="1917" text-anchor="middle" font-size="54">12:00</text>
<text class="tk" x="705.7" y="1917" text-anchor="middle" font-size="54">16:00</text>
<text class="tk" x="830.8" y="1917" text-anchor="middle" font-size="54">20:00</text>
<text class="tk" x="951.8" y="1913.5" text-anchor="middle" font-size="54">24:00</text>
<text x="517" y="1973.9" font-size="57">Time</text>
<text transform="translate(72.8 1569.6) rotate(-90)" font-size="60.5">P(kW)</text>
<text x="273.5" y="2041.8" font-size="60">(c) P after pre-treatment</text>
<g clip-path="url(#cd)" fill="none" stroke-width="2.4" stroke-linejoin="round" shape-rendering="crispEdges">
<path d="M1245 1500l12 15 2.7 17.9 1.1 105.8 1.2 94 1.2 55.3 1.2-74.1 1.1-70.5 2.4-58.8 2.3-14.1 2.4-37.6 17.4-32.9 20-30 15-30 9-16.3 5-11.9 6.9 4.9 7.9-14.9 5.9-0 5-14.9 5 4.1 6-15 4.9 15.9 5 0 5-15.9 4.9-9.9 7-5 5.9 3 4 29.8 2 7.9 3-30.7 4.9 0 8-24.8 5.9-14.9 7-6 3.8-2 2.1-7.9 4 9.9 4-19.8 3.9 4 4-9 3 4 6.9-14.9 7 9.9 4-14.9 6.9-19.8 4-2 3.9-10 3-20.8 5-12.9 4.9 0 2 33.7 3-4 3 4 5-23.8 3.9-5.9 6-9 5.9-4.9 7 8.9 4.9-13.9 7-5 5.9 9 4-16.9 2.8-2 4.9 8.9 5-19.8 8.9-1 4-8.9 3 2.9 3-8.9 2.9 0 2 55.6 6-18.9 4.9 60.6 3-6 5 0 1 82.4 1 168.7 6.4 0 1.5-105 1-186.8 1 65.6 5.9 10.9 5-14.9 6 3 4.9 1.9 3-76.4 5-4 4.9 13.9 3-19.8 6 0 3 4.9 3.9-3.9 6-1 2.9 0 1.3 226.6-0 331.5 11.8 0 1.2-209.2-0-42.3 7.7-10" stroke="#6e6e6e"/>
<path d="M1240 1500l4 15 .4 47.3 1.1-42.3 4.5-15" stroke="#c67aea"/>
<path d="M1336 1505l4.8 15 0 38.7 1-38.7 4.2-15" stroke="#4499d8"/>
<path d="M1340 1525l19.6 5.5 20.4 0 13 2.5 8.9 4.6 18.1-2.6 10.1 7.3 10.9-11.8 8 12.9 17-8.4 11.2 17.8 8.8-12.8 7.6 18.7 6.4-10.7 10 10.7 14-4.7 9.6 9.4 9.4-7.4 4 7.4 5.4 0 6.6-9.4 7 11.8 4 9.4 3.5-18.8 8.3 9.4 11.7-14.1 7.1 14.1 11.7-16.5 4.7 9.4 14.1-4.7 9.4 9.4 9.5-2.4 7-21.1 11.8 7.1 14.1-11.8 14.1 11.8 7-16.5 11-2.5" stroke="#c67aea"/>
<path d="M1540 1520l14.7 3.5 1.2 51.7 10.6 0 2.4-27.1 14-0 .1-18.1 7-5" stroke="#4499d8"/>
<path d="M1655 1525l10.2 .8 1.2 134 1.2 57.6 3.5 0 2.4-114 4.7-9.4 3.5-23.5 8.3 0 4.6 3.5 4.7-5.9 4.7-21.1 3.5-9.4 10.6-2.4 11.9-5.2" stroke="#0068e0"/>
<path d="M1715 1530l7.8 5.2 4.7 49.4 3.6 94 3.5 94.1 2.3 0 1.2-117.6 1.2-122.2 5.7-4.9" stroke="#26b800"/>
<path d="M1702 1525l3 47 1-44" stroke="#969100"/>
<path d="M1198 1447l3 3 4-2 4 7 4-3 4-18 4 22 4-11 4 6 4-7 4 3 4-3 4 0 4 7 4 1 4-7 4 3 4 7 4 0 4-13 4 5 4 4 3-2 4 2 4 4 4-10 4 6 4 2 4 1 4-2 4-11 4 15 4-2 4-13 4 3 4-1 4 13 4-3 4-7 4 0 4 8 4 1 4-1 3-2 4 9 4-1 4-15 4 0 4 9 4-7 4-2 4 13 4-6 4 9 4-19 4 15 4-13 4 5 4-8 4 4 4 0 4 3 4 16 4-10 3-12 4 0 4 5 4-4 4 3 4 10 4-4 4-2 4-20 4 16 4 8 4-4 4 7 4-10 4-7 4 2 4 11 4-8 4 17 4-12 4 2 3-2 4 7 4-8 4 1 4-10 4 11 4-1 4 2 4-3 4-4 4 0 4 1 4-2 4 1 4 3 4-1 4 5 4-3 4 6 4-5 4-2 3-5 4 14 4-6 4 3 4-9 4 3 4 4 4-4 4 12 4-7 4-3 4 9 4-8 4-4 4-5 4 13 4 2 4-5 4 0 4 6 4 1 3-10 4 7 4-5 4 0 4-1 4-3 4 0 4-2 4-2 4 11 4-5 4-2 4 2 4 0 4-6 4 4 4 7 4 1 4-13 4 8 4-1 3 4 4 10 4-7 4-6 4 2 4-7 4 0 4 6 4-4 4 4 4 6 4 1 4-2 4-12 4 7 4-4 4 11 4 11 4-11 4-3 4-5 3 3 4 8 4-7 4 7 4-8 4-4 4 1 4 12 4-1 4-8 4 3 4 2 4-14 4 10 4-5 4 0 4-14 4 5 4 6 4-1 4 2 3-2" stroke="#26b800"/>
<path d="M1198 1458l3-2 4-2 4-1 4-7 4-2 4 13 4 0 4-8 4 0 4 13 4-4 4 6 4-14 4 7 4 6 4-6 4 0 4 7 4 5 4-10 4-5 3-4 4 8 4-2 4-4 4 0 4 6 4 4 4-7 4-6 4-1 4 5 4-9 4 14 4-6 4 4 4 3 4-15 4 11 4 2 4 5 4 6 3 4 4-14 4-6 4-4 4 5 4 1 4 8 4-2 4 0 4-8 4 1 4 11 4-9 4-2 4 12 4 6 4-8 4-4 4 0 4-5 4-1 3 4 4-6 4-1 4-1 4 3 4 10 4-8 4 8 4-1 4 6 4-7 4-6 4 4 4-2 4-2 4 4 4 3 4 4 4-5 4 2 4-11 3 10 4 0 4-12 4 2 4 6 4 1 4 5 4-5 4 4 4-6 4 9 4-9 4 4 4 1 4 2 4 5 4-11 4-1 4 0 4 4 4-9 3-7 4 7 4 7 4 2 4-4 4-4 4-1 4 8 4-8 4 2 4-6 4 5 4 7 4-7 4-2 4-8 4 9 4 0 4 4 4-7 4 8 3 0 4-6 4 2 4 2 4-10 4 19 4-7 4 2 4-8 4-16 4 10 4 11 4-14 4 24 4-13 4 4 4 6 4-5 4 9 4-6 4 7 3-24 4 3 4-4 4-1 4 12 4-5 4 16 4-12 4-2 4 3 4-4 4 4 4-3 4 9 4 3 4-7 4-12 4 9 4 7 4-2 4-2 3 7 4-6 4-15 4 8 4 14 4 5 4-19 4 3 4-4 4 8 4 1 4 2 4-5 4-12 4 15 4-8 4-2 4 11 4 8 4-14 4-3 3 4" stroke="#4499d8"/>
<path d="M1198 1458l3-2 4-5 4 2 4 2 4 14 4-6 4-2 4-9 4-3 4-6 4 11 4-4 4 6 4-1 4-2 4 9 4-9 4-1 4 5 4-5 4-3 3 11 4-3 4-2 4 2 4 2 4-5 4 2 4-3 4 4 4 2 4 2 4-5 4 2 4 3 4 9 4-14 4-9 4 2 4-1 4 7 4 4 3 0 4 2 4 6 4-16 4 7 4 1 4-7 4 1 4 1 4-1 4-1 4 2 4-7 4 4 4 8 4-1 4-4 4 14 4-5 4-7 4-3 3 3 4 2 4-8 4 4 4 6 4-1 4 10 4 0 4-5 4-6 4 1 4-3 4-4 4 8 4-8 4-2 4 3 4 1 4 1 4-11 4 7 3 7 4 2 4 1 4-1 4-3 4 2 4-7 4-2 4 12 4-3 4-3 4 6 4-1 4-5 4 7 4 7 4-6 4-13 4 1 4 1 4-1 3 7 4-13 4 11 4 2 4 6 4-8 4-7 4 0 4 6 4-1 4-3 4 5 4-9 4 13 4-12 4 3 4 8 4-5 4 17 4-11 4 0 3 2 4-2 4 3 4 2 4-4 4-14 4 15 4-15 4 5 4 1 4-2 4 3 4-6 4-4 4 13 4-6 4-4 4 10 4 6 4-7 4 2 3-2 4-1 4 5 4-1 4 2 4-16 4 6 4-3 4 5 4 4 4-8 4 0 4 2 4 7 4-3 4-2 4-10 4 7 4 10 4-8 4 1 3-13 4 16 4 1 4-5 4 1 4 9 4-13 4 3 4 0 4-1 4 4 4 4 4-16 4 11 4 13 4 5 4-14 4-2 4 0 4 4 4-9 3 1" stroke="#969100"/>
<path d="M1198 1524l3-3 4 5 4-5 4 2 4 1 4-1 4 5 4-1 4-2 4 1 4-3 4-4 4 5 4 3 4-4 4 2 4 0 4 2 4 2 4-4 4 3 3-2 4-1 4-2 4 3 4-4 4-2 4 3 4 2 4 4 4-3 4 4 4-5 4-7 4 2 4-1 4 2 4 4 4 1 4-4 4 7 4-6 3 0 4 1 4-3 4-1 4 8 4-1 4-3 4-3 4 8 4 2 4-5 4 0 4-1 4 1 4-1 4 0 4-3 4 7 4-3 4-7 4 2 3-1 4 5 4-1 4 2 4-1 4 3 4 3 4 1 4-8 4-2 4 8 4-3 4-1 4-2 4 2 4 2 4 3 4 3 4-5 4 2 4 4 3-13 4-3 4 4 4 6 4-3 4-1 4-1 4 2 4-2 4 2 4 0 4-5 4 4 4 3 4 0 4-6 4 3 4 8 4-6 4 2 4-1 3-3 4 3 4-7 4 11 4 5 4-6 4-12 4 1 4 0 4 0 4 8 4-2 4-1 4 1 4 2 4-5 4 6 4-3 4-9 4 8 4-2 3 8 4-8 4 2 4 5 4 3 4-5 4-7 4 3 4 4 4-4 4 2 4-7 4 1 4 2 4 3 4 0 4 4 4 1 4-4 4-1 4 5 3-7 4 5 4-1 4 1 4-5 4 7 4 1 4-7 4 7 4 0 4-2 4-11 4 5 4 8 4-1 4-1 4 2 4-3 4 6 4-8 4-4 3 3 4 5 4-8 4 1 4-3 4 6 4-2 4-2 4 9 4-3 4-3 4 2 4-8 4-2 4 0 4 7 4 6 4-3 4 7 4-5 4 8 3-6" stroke="#ff6600"/>
<path d="M1198 1461l3 0 4-8 4-11 4 3 4 5 4-7 4 10 4 3 4 2 4-9 4 12 4 3 4-10 4-9 4 10 4-1 4-16 4 8 4 9 4-3 4 0 3-15 4 0 4 18 4 4 4-8 4 5 4-1 4-8 4 4 4-8 4 4 4 4 4-1 4 4 4-6 4 3 4 7 4-6 4 0 4-2 4 6 3 2 4-3 4 2 4-1 4-5 4 1 4-1 4 10 4-3 4-5 4-11 4 9 4-5 4 13 4-12 4-9 4 8 4 7 4-3 4 3 4 3 3-10 4-4 4 9 4-1 4 6 4-4 4 3 4-7 4 15 4-5 4-15 4-6 4 3 4 7 4-5 4 12 4 0 4-2 4-16 4 10 4 3 3 2 4 8 4-9 4 2 4 5 4 1 4-2 4-8 4-14 4 10 4-2 4 7 4-3 4-1 4 2 4 2 4 12 4-4 4 1 4-9 4 10 3-5 4-4 4-5 4-4 4 2 4 7 4 9 4-2 4-13 4 2 4 10 4-1 4-6 4-2 4 3 4-10 4 8 4 0 4 9 4 3 4-2 3-7 4-5 4 9 4-8 4 5 4 3 4-3 4 0 4 1 4-3 4 4 4-3 4 2 4-2 4 3 4-2 4-3 4 1 4-4 4 13 4 4 3-3 4-1 4 4 4-9 4-8 4-2 4 1 4 6 4-3 4 7 4-11 4 3 4-5 4 8 4 1 4-1 4-9 4 16 4-5 4-5 4 1 3-1 4 8 4-4 4 12 4-3 4 1 4-7 4-13 4 7 4 3 4-1 4-6 4 3 4 5 4-9 4 13 4-13 4 1 4 2 4 5 4 0 3 6" stroke="#26b800"/>
<path d="M1198 1498l3-11 4 8 4-2 4-6 4-6 4-1 4 18 4-6 4-10 4 9 4-4 4-4 4-12 4 6 4 4 4 5 4-1 4-3 4-7 4 7 4 3 3-4 4 4 4 2 4 5 4 3 4-3 4-9 4 2 4 1 4 9 4-1 4-7 4 2 4-11 4-4 4 6 4-3 4 2 4-4 4 2 4 3 3 1 4 9 4-10 4 3 4 4 4-8 4 4 4-18 4 11 4 9 4 4 4-3 4 5 4-6 4 0 4 3 4-1 4-13 4 17 4-14 4 4 3-1 4 1 4-4 4 8 4 6 4-5 4-2 4 10 4-3 4-4 4-8 4 9 4 12 4-12 4 1 4-3 4-1 4 2 4-1 4 0 4-3 3-15 4 8 4 6 4 7 4 4 4 1 4-4 4-7 4 7 4 4 4-11 4-4 4 6 4 0 4-10 4 15 4-6 4-1 4 3 4-2 4-6 3 0 4 6 4 0 4 7 4-6 4-10 4 15 4-15 4-3 4 4 4 15 4-5 4 1 4 0 4 7 4-9 4 3 4 3 4-7 4 1 4-3 3 0 4-1 4 2 4-5 4 7 4 7 4-8 4-10 4-3 4 2 4-4 4 11 4-5 4-4 4 12 4-12 4 16 4-4 4 2 4-3 4 6 3-3 4 5 4-1 4-4 4-2 4-7 4 9 4 1 4-3 4 3 4-5 4 12 4-4 4-7 4-4 4 2 4 3 4 9 4-19 4 5 4-4 3 11 4 3 4 2 4 1 4-11 4 0 4 1 4 2 4-6 4 0 4 1 4 2 4-1 4 2 4-1 4 7 4 4 4-1 4-8 4-1 4 3 3 3" stroke="#6e6e6e"/>
<path d="M1198 1461l3-3 4 4 4 1 4 15 4-17 4-3 4-12 4 5 4 3 4 13 4-8 4-6 4 7 4-4 4 10 4-5 4-4 4-1 4 8 4 2 4 13 3-10 4 0 4-5 4-7 4 10 4-1 4-7 4 1 4-2 4 9 4-9 4 4 4 5 4-7 4 4 4 0 4-7 4 7 4-8 4 9 4-2 3-7 4 9 4-8 4 7 4-13 4 9 4 2 4 2 4-3 4-2 4 5 4 9 4 4 4-26 4 6 4 2 4 2 4 3 4-3 4-1 4 3 3-2 4 2 4 3 4-7 4-4 4-5 4 2 4 8 4-1 4 3 4 3 4 5 4-12 4 13 4-16 4 3 4 15 4-6 4-3 4-7 4-2 3 3 4 1 4-4 4 6 4-4 4 7 4 1 4 1 4 4 4-4 4 15 4-11 4-1 4-4 4 9 4-4 4 8 4-14 4 7 4 8 4-3 3-3 4-6 4 6 4-16 4 1 4-4 4 4 4 18 4-3 4-9 4-4 4-4 4 2 4 0 4 5 4-5 4 0 4 4 4 8 4 4 4-1 3-5 4-2 4-7 4 12 4-6 4-5 4 9 4-5 4-3 4 6 4 8 4 0 4-5 4-6 4 2 4 2 4-3 4 12 4-11 4 3 4-12 3 7 4-1 4-3 4 2 4-9 4 7 4 2 4 7 4-1 4-11 4 4 4 1 4-4 4-4 4 13 4-1 4-4 4-6 4 6 4-2 4 4 3-6 4-11 4 8 4-6 4 4 4-1 4 3 4 0 4 1 4 6 4-11 4 12 4-1 4 0 4 3 4-5 4 1 4-1 4-10 4 18 4-2 3 2" stroke="#4499d8"/>
<path d="M1198 1452l3 2 4-6 4-1 4-5 4-5 4 2 4 3 4-1 4-4 4 7 4-2 4 3 4-6 4-1 4 9 4-8 4-1 4-1 4-1 4 1 4 7 3-6 4-4 4 7 4 1 4 3 4 0 4 7 4-13 4 7 4-5 4-1 4-1 4-6 4 3 4 2 4-1 4 4 4 2 4 0 4-1 4-5 3-4 4 9 4-4 4 5 4 1 4-1 4 7 4-6 4 0 4-1 4-3 4 4 4 1 4-2 4-7 4 0 4-1 4 3 4-2 4 8 4 1 3-8 4 7 4-7 4-3 4 3 4 5 4-3 4 0 4-1 4 0 4 5 4 1 4-4 4 3 4-8 4 3 4-5 4 6 4 3 4 0 4-2 3 0 4-3 4 5 4 3 4-4 4-1 4 1 4 2 4-3 4 3 4-4 4 2 4 2 4 1 4-3 4 9 4-4 4-3 4 0 4 4 4-6 3-5 4 7 4 3 4 5 4-1 4 0 4-5 4 2 4-5 4 0 4-6 4 3 4 2 4 1 4 5 4-1 4-1 4 0 4-2 4 6 4-5 3 2 4 3 4-10 4 3 4-3 4-1 4 2 4-1 4-4 4 7 4-5 4 0 4 2 4 2 4-2 4 5 4-3 4 1 4-3 4-2 4 1 3-1 4-1 4 0 4 2 4-3 4 1 4 6 4 2 4 6 4-7 4-8 4 0 4 5 4-1 4 0 4 3 4 1 4 0 4 0 4-3 4-3 3 7 4-4 4 1 4-8 4 12 4-6 4 0 4-1 4 3 4 1 4-2 4 2 4 5 4-4 4-2 4 1 4 5 4-8 4 1 4 3 4-11 3 11" stroke="#ff6600"/>
<path d="M1198 1466l3 9 4 1 4-2 4-8 4 6 4-3 4-3 4 6 4 3 4-18 4 6 4 7 4 0 4-1 4-7 4-3 4 5 4-4 4 9 4-7 4-6 3 7 4-5 4 9 4 2 4-4 4 3 4 1 4-8 4 5 4-18 4 12 4 3 4-4 4 11 4-6 4 6 4 3 4 3 4-2 4-4 4 0 3-1 4 1 4-10 4 4 4-3 4-9 4 6 4 0 4 4 4 6 4-5 4-2 4-13 4 15 4 9 4-7 4 15 4-5 4-18 4 5 4 11 3-11 4 0 4 11 4-4 4 1 4-7 4 8 4-15 4-3 4 20 4-7 4-4 4-5 4 9 4 0 4 0 4 8 4-8 4 5 4-11 4-10 3 8 4 1 4-11 4 13 4-5 4 0 4 10 4 9 4-7 4 2 4-3 4 3 4 8 4-15 4 14 4-9 4-6 4 11 4 3 4 2 4-1 3-7 4 3 4-5 4 5 4 11 4-11 4-9 4 6 4 3 4-13 4 4 4 4 4-3 4 1 4 2 4 6 4-1 4-1 4 9 4-3 4 4 3-9 4-13 4 1 4 10 4-3 4 3 4-6 4 3 4 0 4-7 4 3 4-3 4 7 4 1 4 0 4 3 4-10 4-2 4 11 4 2 4-2 3-1 4-5 4 9 4-1 4-4 4-2 4-12 4 6 4 3 4 4 4 1 4 1 4-4 4-5 4 2 4-12 4 7 4-6 4 17 4 3 4-3 3-11 4 6 4 7 4 4 4-6 4 6 4-8 4 2 4-6 4 0 4-1 4 8 4-5 4-2 4-1 4 0 4 5 4 10 4-7 4-9 4 4 3-3" stroke="#26b800"/>
<path d="M1198 1491l3-11 4 14 4-1 4 3 4-13 4 6 4 5 4-1 4-2 4 1 4 2 4-5 4 3 4 4 4-8 4-9 4 11 4-3 4 0 4 18 4-16 3 1 4 2 4 6 4 8 4-12 4-15 4 4 4 4 4-5 4 3 4 2 4 7 4 0 4-2 4-1 4-2 4 6 4-5 4 4 4 0 4-6 3 9 4-2 4-8 4 3 4-5 4-2 4 1 4 12 4-17 4 1 4 4 4 8 4-6 4 1 4-2 4 9 4-7 4-8 4 15 4-11 4-3 3 9 4-6 4-4 4 2 4 10 4 0 4-6 4 2 4 2 4 0 4-5 4 3 4-14 4 23 4-3 4-3 4-11 4 11 4 3 4-8 4-7 3-1 4-2 4 11 4 1 4-2 4-4 4 6 4 2 4 4 4-7 4 2 4 4 4 1 4 2 4-1 4-6 4 5 4 1 4 3 4-12 4-1 3 10 4-3 4-1 4-1 4 3 4-4 4 2 4 2 4 9 4-7 4 16 4-5 4-19 4-10 4 8 4 8 4 7 4-2 4-3 4 1 4-11 3 7 4-15 4 3 4 8 4-7 4 5 4 4 4 3 4 3 4-7 4 8 4 6 4-8 4 1 4 6 4-17 4 8 4-6 4 8 4 4 4-13 3 0 4 5 4-4 4 9 4-8 4-1 4 4 4 6 4-5 4 2 4-6 4 4 4 6 4-4 4-6 4-2 4-5 4 8 4-1 4-10 4 10 3-11 4 1 4 6 4 13 4-4 4-7 4 2 4 4 4 3 4-2 4 9 4-12 4 6 4-5 4-3 4-2 4-2 4 0 4 0 4 10 4 0 3-2" stroke="#994a52"/>
<path d="M1198 1448l3 1 4-6 4 17 4 3 4-2 4-7 4-7 4 7 4 1 4-4 4-2 4 2 4 8 4-1 4 12 4-14 4 3 4-4 4-6 4 17 4-2 3-4 4-3 4 0 4-5 4-7 4 10 4-8 4 9 4 5 4-14 4 1 4 6 4-6 4 3 4 1 4-7 4 2 4 19 4-9 4-15 4 5 3 13 4 0 4-7 4 8 4-14 4 9 4-9 4-2 4 7 4 2 4 0 4 2 4 6 4-8 4-3 4 4 4-8 4 0 4 1 4 0 4 5 3 8 4-10 4 4 4-7 4 2 4-1 4 3 4-9 4 11 4 3 4 6 4-9 4 15 4-11 4-9 4 1 4 4 4-2 4 8 4-3 4 4 3-4 4-4 4 8 4 7 4 7 4-7 4-10 4-9 4 10 4-8 4 1 4 0 4 2 4-6 4 13 4-2 4-4 4 4 4 0 4-6 4 4 3 1 4-9 4 4 4 8 4-10 4-3 4 10 4 15 4-6 4-18 4 17 4-13 4-3 4 15 4-5 4-11 4 3 4 5 4-3 4-1 4 1 3 5 4-6 4 0 4-8 4 7 4 10 4-4 4-3 4 0 4 2 4 7 4-7 4 6 4 3 4-11 4 2 4-5 4 2 4-6 4 8 4 3 3-6 4 0 4 9 4 3 4-11 4-1 4-5 4 9 4-11 4 12 4-2 4-11 4 16 4 3 4-4 4-4 4-4 4-6 4-4 4 16 4 9 3-4 4-7 4-5 4-2 4 7 4-3 4 2 4 16 4-16 4-4 4 4 4 4 4 0 4 4 4 2 4-3 4-3 4 5 4 0 4-15 4-5 3 10" stroke="#dd9900"/>
<path d="M1198 1467l3 1 4 4 4 4 4-1 4-4 4 6 4 1 4-6 4 0 4 7 4-11 4 7 4 5 4-2 4 10 4-8 4 1 4 17 4-7 4-8 4 6 3-5 4-7 4-8 4 1 4 9 4-4 4 7 4 2 4 2 4-20 4 11 4 1 4-3 4-16 4 7 4 0 4 13 4-1 4 5 4-7 4-6 3 6 4 5 4 2 4-6 4 4 4 4 4-5 4 1 4-4 4 8 4-13 4 10 4-4 4 0 4-3 4 3 4-3 4-3 4 11 4-1 4-3 3-6 4-4 4 5 4 0 4-2 4 1 4 3 4 6 4-7 4-3 4-5 4 8 4 0 4 11 4-4 4-4 4 14 4-22 4-4 4 4 4 7 3 6 4-9 4-1 4 0 4 15 4-7 4-4 4 6 4 1 4-8 4-1 4 3 4-3 4 3 4 11 4-15 4-5 4-7 4 15 4-1 4 5 3-3 4-11 4 1 4 15 4-3 4 3 4-10 4-1 4 4 4 7 4 3 4-4 4-13 4 13 4-3 4 8 4-9 4 0 4-5 4 10 4-8 3-2 4-2 4 6 4-5 4 5 4 0 4-5 4 7 4-6 4 5 4-4 4 7 4 2 4-3 4-13 4 17 4-3 4 6 4-7 4-2 4 7 3-6 4-9 4 11 4 0 4 0 4-7 4-5 4 0 4-6 4 17 4-3 4 8 4-3 4 2 4-3 4 0 4-11 4 1 4 13 4 0 4-7 3 11 4-11 4 3 4 14 4 0 4-17 4-5 4 8 4-7 4-6 4 2 4 3 4 15 4-13 4 5 4-10 4 16 4-6 4-16 4 15 4 9 3-3" stroke="#994a52"/>
<path d="M1198 1492l3 14 4-18 4 3 4-2 4 9 4-6 4-20 4 14 4 5 4-5 4-5 4 0 4 6 4 5 4-6 4 7 4-7 4-3 4 5 4 1 4-7 3-1 4-4 4-1 4 7 4 13 4-2 4-13 4 13 4-7 4-5 4-3 4 6 4-5 4-6 4 2 4 4 4 2 4 2 4 4 4-6 4 10 3 7 4-6 4 1 4-14 4 12 4 0 4 3 4-6 4 10 4-10 4-2 4-5 4 5 4 7 4 0 4 3 4-6 4-4 4-5 4 7 4 6 3-6 4 7 4-4 4-13 4-6 4-6 4 15 4 8 4 4 4-2 4 6 4-7 4-3 4 6 4-5 4 5 4-6 4-7 4 3 4 6 4-10 3 3 4 10 4-16 4-10 4 15 4-9 4 7 4 1 4-2 4 0 4 9 4 2 4-9 4 2 4-1 4 5 4-6 4-8 4 12 4 2 4-5 3 4 4-9 4 6 4 1 4 0 4 19 4-14 4-7 4 3 4 5 4-13 4 1 4 6 4-11 4-5 4 6 4 9 4-2 4 4 4-3 4 5 3-7 4 5 4 0 4-4 4 10 4-1 4-7 4-4 4 0 4-1 4-3 4-1 4 11 4 3 4 0 4 8 4-13 4 4 4 2 4-8 4-3 3 4 4 7 4-1 4-8 4 0 4 9 4-10 4 9 4-4 4 2 4 2 4-5 4-7 4 12 4-5 4-1 4 2 4-12 4 11 4-6 4 8 3 2 4-5 4-2 4 6 4-8 4 3 4 2 4-4 4 5 4 5 4-3 4 1 4-11 4-5 4-1 4 13 4 6 4 0 4 1 4-4 4 3 3-6" stroke="#ff2d2d"/>
<path d="M1198 1524l30 0 3-4 104 0 4 3 96 0 3-1 83 0 3-1 94 0 2-2 43 0 4 4 88 0 2 8 68 0 4-4 28 0 2-2 71 0 5-1 13 0" stroke="#26b800"/>
<path d="M1198 1527l3-3 4-7 4 1 4-2 4 5 4 7 4 6 4 2 4-7 4-9 4 9 4-8 4 1 4 2 4-3 4 6 4-2 4 1 4-3 4-3 4-4 3 9 4 1 4 1 4-4 4-1 4 6 4-4 4-3 4 5 4 4 4-3 4-1 4 3 4-6 4 1 4 4 4 0 4 0 4 2 4-1 4-3 3-2 4-1 4 0 4 4 4-1 4-3 4-3 4 3 4-4 4 1 4-2 4 8 4 1 4 1 4-2 4 0 4 2 4-1 4-2 4-1 4 4 3 7 4 1 4-13 4-1 4-8 4 7 4-5 4 4 4 1 4-2 4 4 4-1 4-1 4-6 4 3 4 3 4 0 4-2 4-1 4 10 4-4 3 0 4-4 4 1 4 7 4-4 4 0 4-11 4 7 4 5 4 1 4 6 4 1 4-8 4-1 4-2 4 0 4 3 4-5 4-5 4 3 4 1 3 2 4 6 4-3 4-6 4 4 4 5 4-7 4 3 4-2 4 1 4 6 4-2 4-3 4 0 4-1 4 8 4-3 4-5 4-2 4 5 4-4 3 7 4-3 4 3 4-5 4-1 4 3 4-10 4 5 4 0 4-1 4-1 4 3 4 8 4 2 4-2 4 0 4-1 4 0 4 0 4-9 4 6 3-2 4 2 4 1 4 1 4-7 4 4 4 2 4-1 4-2 4 1 4 0 4-2 4-2 4 6 4-4 4-4 4 0 4 7 4 0 4 0 4 6 3-4 4 2 4-1 4 0 4-1 4-5 4 8 4-2 4 5 4-5 4-10 4 4 4 4 4-2 4-2 4 0 4 7 4-4 4-2 4 8 4-1 3-7" stroke="#26b800"/>
<path d="M1198 1441l101 0 4-1 45 0 5-7 84 0 2 18 40 0 4 0 34 0 3-14 109 0 3 3 102 0 3 6 42 0 2 5 60 0 2-12 92 0 3 12 10 0" stroke="#6e6e6e"/>
<path d="M1198 1464l3-9 4 3 4-9 4 8 4 3 4 4 4 0 4-1 4 8 4-9 4 10 4-19 4 1 4 8 4 12 4-8 4-2 4-17 4 12 4 2 4-3 3 12 4-7 4-5 4-4 4 3 4 4 4-1 4 4 4-4 4 11 4 3 4-3 4-4 4-3 4-1 4 5 4-2 4-16 4 0 4-11 4 12 3 9 4-6 4 0 4 3 4-2 4 0 4 9 4 8 4-12 4-7 4 7 4 13 4 0 4 4 4-12 4-8 4 5 4-1 4 1 4 2 4-5 3-12 4 3 4 21 4-10 4-11 4 15 4-3 4 3 4 1 4-8 4-7 4 5 4 7 4-3 4 4 4-4 4-1 4 1 4 0 4 0 4 3 3-3 4 5 4-7 4 6 4 7 4-3 4-14 4 9 4 9 4-9 4-4 4-12 4 14 4-1 4-2 4 5 4 3 4-7 4 16 4-7 4-8 3 8 4-15 4-2 4 0 4 7 4-1 4 8 4-4 4-1 4-4 4-5 4 2 4 2 4-8 4 14 4-4 4 6 4-1 4 0 4 4 4-3 3 1 4 3 4-6 4 1 4 2 4 2 4 7 4-10 4-10 4 1 4-4 4-5 4 9 4 4 4 14 4-7 4 6 4-1 4-2 4 8 4-21 3 9 4-8 4 8 4-2 4 1 4-6 4-5 4 11 4-8 4 7 4 2 4-6 4 3 4-2 4 13 4-13 4 8 4 2 4-12 4 1 4 5 3-11 4 8 4-4 4 1 4-4 4 12 4-2 4-5 4-8 4 8 4 1 4-8 4 7 4-6 4 10 4 9 4-10 4-6 4 13 4 4 4-5 3-3" stroke="#00c8d8"/>
<path d="M1198 1449l3-6 4 3 4 4 4 2 4-12 4 2 4 0 4 5 4 5 4-7 4 4 4-10 4 5 4 0 4-5 4 4 4 1 4-5 4 13 4-7 4-2 3 1 4 1 4 3 4-1 4 4 4-2 4 1 4-4 4-10 4 7 4 6 4 1 4-2 4-1 4-2 4 3 4 3 4-1 4-3 4 5 4-3 3-6 4 3 4-4 4 7 4-2 4 2 4-4 4 2 4-2 4-1 4 4 4-3 4-8 4 7 4-3 4 3 4-3 4 1 4-1 4 6 4-3 3-5 4 4 4-11 4 8 4-2 4 8 4 1 4-4 4 11 4-3 4-9 4 3 4-2 4 3 4-1 4 5 4-1 4-2 4 1 4-7 4-1 3 8 4 3 4-5 4 4 4-12 4 9 4-2 4 9 4-8 4-2 4 6 4 0 4-7 4 3 4 0 4-1 4-4 4 1 4-6 4-2 4 2 3 2 4 4 4 3 4-1 4 4 4-5 4-9 4-1 4 4 4 13 4 2 4-3 4-2 4-13 4 6 4 7 4-1 4 1 4-4 4-5 4 2 3-1 4 6 4 3 4-4 4 2 4 4 4-5 4 0 4 2 4 10 4-7 4-10 4 4 4 6 4 1 4-9 4 5 4-4 4-1 4 1 4-2 3 1 4 4 4 1 4-4 4 7 4-2 4 0 4-3 4 2 4-6 4-5 4 7 4 6 4-1 4-4 4-1 4 1 4-5 4 0 4 1 4 10 3-9 4 3 4 4 4 1 4 1 4-12 4 7 4-1 4 4 4 0 4-4 4 2 4-3 4 8 4-6 4-7 4 5 4 2 4-5 4 2 4-2 3 2" stroke="#994a52"/>
<path d="M1198 1479l3 2 4-6 4 14 4-5 4 10 4-10 4 0 4-1 4 1 4 5 4-11 4 6 4-13 4 9 4 3 4 7 4-8 4-2 4 4 4 6 4-5 3-3 4-1 4 3 4-4 4 4 4 9 4-2 4-3 4 2 4 1 4-1 4 3 4-6 4 5 4-6 4-5 4-7 4 3 4 8 4 8 4 7 3-19 4 5 4-5 4-9 4-4 4 12 4 9 4 6 4-9 4-10 4 8 4 1 4-8 4 2 4-16 4 19 4-3 4 5 4 5 4 7 4-10 3 8 4-4 4-5 4-2 4 3 4-4 4 4 4-3 4 6 4 5 4-2 4 0 4 1 4-8 4 3 4-1 4-16 4 12 4-3 4 7 4-9 3 9 4 11 4-11 4 0 4 3 4-6 4 5 4-12 4 7 4-1 4-2 4 10 4-3 4-3 4 3 4 4 4-7 4 4 4-6 4-4 4-1 3 14 4-1 4-2 4-2 4-7 4-1 4 5 4-2 4 2 4 2 4-1 4 5 4-3 4-7 4 7 4 1 4 14 4-17 4 3 4 1 4-12 3 3 4 6 4 6 4-6 4-2 4-1 4-14 4 17 4 4 4-6 4-2 4-3 4 2 4-6 4 13 4 0 4-8 4-1 4-4 4 11 4-4 3 2 4-11 4 8 4 6 4 3 4-5 4 2 4 0 4-4 4-2 4 10 4-5 4-1 4-3 4-2 4 4 4 1 4-7 4 14 4-7 4 5 3-9 4 4 4 2 4-2 4-4 4 5 4-3 4 1 4 1 4-6 4 3 4-2 4-8 4 22 4-14 4 4 4-1 4-6 4 10 4 4 4-6 3-6" stroke="#26b800"/>
<path d="M1198 1440l75 0 5 2 37 0 4 9 110 0 3-1 108 0 3-8 43 0 3 9 70 0 4-20 54 0 3 7 89 0 2-5 50 0 4 5 83 0" stroke="#26b800"/>
<path d="M1198 1470l3-6 4 3 4 4 4-6 4-2 4 5 4-6 4 1 4 12 4-12 4 4 4 0 4-12 4 7 4-9 4-2 4 5 4-3 4 16 4 1 4-1 3-14 4 11 4-5 4-6 4-2 4-1 4 14 4-8 4 4 4-7 4 3 4 6 4 5 4-15 4-1 4 15 4-7 4-1 4 4 4-8 4 2 3-3 4 9 4-14 4 13 4-3 4 0 4-1 4 6 4 2 4 2 4-4 4 5 4 7 4-15 4 3 4-13 4 1 4 9 4-2 4 0 4 0 3-2 4 12 4-10 4-7 4 12 4-3 4 3 4 0 4 0 4-5 4 9 4-1 4 0 4 7 4 1 4-3 4-9 4-8 4 1 4 4 4-5 3 6 4 4 4-6 4 7 4 4 4-4 4-9 4-2 4 9 4 0 4-12 4-2 4 3 4 10 4-8 4 14 4 0 4-2 4-1 4-4 4-3 3 8 4-17 4 15 4 9 4-5 4-15 4 8 4 1 4 0 4-2 4 1 4-8 4 5 4 6 4-2 4-5 4 7 4 3 4-11 4 12 4 5 3-3 4-2 4-9 4 6 4-8 4 1 4-4 4 2 4 7 4-2 4-1 4 3 4-5 4-4 4 11 4-7 4 6 4-12 4 1 4 6 4-5 3-10 4 11 4 6 4-6 4 9 4 4 4-6 4-2 4-8 4-5 4 18 4 0 4 3 4-5 4 12 4-16 4-3 4-2 4-1 4 8 4-2 3-3 4 0 4 2 4 5 4-5 4 0 4 7 4 0 4 1 4-4 4 10 4 14 4-21 4-6 4-4 4-4 4 0 4 14 4-9 4-3 4-2 3 6" stroke="#c67aea"/>
<path d="M1198 1483l3 4 4 0 4 1 4-4 4 9 4-8 4 8 4-8 4-1 4-2 4 9 4-6 4 2 4 2 4-4 4-3 4 5 4-5 4-1 4-1 4 6 3-1 4-1 4-5 4 2 4 7 4-2 4-7 4-1 4-11 4 6 4 11 4 9 4-16 4 2 4 5 4-3 4 8 4-4 4 1 4 1 4-6 3-5 4 0 4-3 4-2 4-10 4 23 4 3 4 2 4-3 4 4 4-5 4 1 4 1 4-2 4-3 4-4 4 4 4 2 4-3 4 2 4-3 3-1 4 4 4-6 4 0 4 15 4-1 4-9 4 5 4 3 4 2 4-4 4-8 4 12 4-5 4-9 4 3 4-7 4 5 4-5 4-4 4 15 3-5 4 1 4 12 4-4 4-15 4 1 4 2 4 13 4-13 4-7 4 9 4 12 4-10 4 5 4-1 4-4 4-3 4-3 4-3 4 11 4 5 3-3 4 7 4-9 4-13 4 9 4-2 4 1 4 3 4 3 4-4 4 2 4-2 4 2 4-7 4-4 4 11 4-3 4-3 4 1 4-1 4 12 3 2 4-1 4 5 4-13 4 0 4 3 4-11 4 13 4 3 4 1 4-7 4-4 4-1 4-1 4 6 4 1 4-3 4-4 4 4 4-3 4 0 3 3 4 1 4-3 4 2 4-2 4 2 4 2 4-2 4 6 4-3 4-1 4-7 4-5 4 12 4 2 4 0 4 6 4-3 4-3 4-3 4-3 3-4 4 2 4-6 4 5 4-1 4 0 4 2 4 5 4-4 4 4 4 4 4-5 4 2 4 14 4-5 4-8 4 9 4-12 4 15 4-6 4-2 3-14" stroke="#4499d8"/>
<path d="M1198 1469l3-4 4-3 4 5 4-9 4 7 4-2 4 12 4-6 4-4 4-6 4 0 4 5 4 0 4 8 4-14 4 2 4-2 4 5 4 1 4 9 4 9 3-12 4-2 4-6 4 5 4 0 4 3 4 0 4 4 4 0 4-10 4-10 4 13 4-6 4 6 4 1 4 3 4 11 4-10 4-1 4 4 4 2 3-3 4-6 4-2 4 5 4-2 4-9 4 3 4-1 4-11 4 19 4 4 4-18 4 1 4 15 4 0 4-4 4-4 4 5 4 2 4 8 4-4 3-5 4-5 4-6 4 6 4 14 4-4 4-4 4 0 4-6 4-6 4 10 4-4 4 5 4-11 4-2 4 6 4 6 4-3 4 2 4 0 4 0 3 4 4-6 4 0 4 6 4 1 4-11 4 5 4 5 4 0 4-2 4 4 4-5 4 10 4-2 4 0 4-13 4 2 4-3 4-4 4 1 4 8 3-2 4 0 4 7 4-8 4-3 4 6 4 5 4 4 4-1 4-1 4 2 4-15 4 10 4-1 4-9 4 0 4 17 4-2 4-8 4 6 4 4 3-19 4 7 4 4 4-12 4 5 4 7 4 6 4-14 4-2 4 4 4-1 4-3 4 7 4-5 4 5 4-2 4 4 4 0 4 3 4-5 4-8 3-6 4 8 4-5 4 5 4 6 4 7 4 0 4-14 4 0 4 5 4-2 4 2 4-7 4 4 4 10 4-10 4 12 4-10 4 2 4 4 4-4 3-7 4 12 4 3 4 5 4-8 4-20 4 10 4 2 4 9 4 0 4-5 4 6 4-3 4 0 4 7 4-1 4-9 4 8 4-6 4 4 4 4 3-5" stroke="#6e6e6e"/>
<path d="M1198 1507l60 0 1-6 54 0 4 0 56 0 3 5 35 0 4 1 54 0 1 1 80 0 2-5 109 0 2 5 79 0 5-2 97 0 2 6 66 0 3-2 33 0" stroke="#ff6600"/>
<path d="M1198 1482l3-6 4 4 4 6 4 1 4-19 4 9 4-5 4 10 4-4 4 6 4-10 4 5 4-13 4 16 4 6 4-10 4-2 4 3 4-4 4 7 4-7 3-14 4 12 4 1 4 8 4 8 4-11 4 0 4 13 4-14 4-5 4 11 4-3 4 2 4-4 4 8 4-3 4-2 4-9 4 8 4-2 4-8 3 1 4-2 4 8 4 2 4-6 4 4 4-13 4 0 4 13 4-8 4 2 4-9 4 5 4 13 4 0 4-13 4 13 4-3 4 7 4-3 4-5 3-2 4 5 4-1 4 7 4-10 4-7 4 10 4-10 4 7 4 2 4 1 4 5 4 1 4-9 4 13 4-9 4 1 4-10 4-1 4 2 4 3 3 3 4 4 4 9 4 1 4-18 4 8 4-9 4 12 4-14 4-4 4 2 4 13 4 8 4 0 4-8 4-7 4 0 4 9 4-5 4-4 4 3 3-1 4 3 4-5 4 10 4 2 4-9 4 6 4-7 4 5 4-3 4 4 4-6 4-3 4 0 4 9 4 0 4 1 4-6 4 2 4 0 4-4 3-1 4 7 4-8 4 6 4-6 4-5 4 12 4-3 4-3 4 4 4 1 4-5 4-4 4 14 4 3 4 4 4-11 4-8 4 3 4-5 4 11 3-12 4 6 4 4 4 2 4 2 4-17 4 9 4 4 4 4 4 3 4-11 4 14 4-10 4-4 4 2 4 1 4 2 4 5 4-1 4 4 4-6 3-2 4-5 4 4 4 14 4 2 4-9 4-17 4 11 4-3 4-6 4 4 4 5 4-5 4 2 4-6 4-1 4 1 4 4 4 8 4-8 4-5 3 4" stroke="#994a52"/>
<path d="M1198 1444l3 20 4-14 4 6 4-2 4 7 4-1 4-13 4-3 4-8 4 5 4 5 4 3 4 4 4 12 4-5 4-3 4-16 4 6 4 4 4-6 4-1 3 8 4 0 4 1 4-6 4 0 4-6 4-4 4 0 4 3 4 4 4 1 4 10 4 12 4-11 4-10 4 3 4-2 4 1 4-3 4 8 4 8 3-17 4 7 4-7 4 0 4-2 4 11 4 2 4-6 4-2 4-3 4 4 4 4 4 0 4 4 4 3 4-19 4 6 4 4 4-5 4-1 4-2 3-1 4 7 4 0 4-3 4 4 4-2 4 3 4-2 4 6 4-4 4-7 4 8 4-14 4 12 4 0 4-5 4 16 4-6 4-7 4 0 4 7 3 2 4-8 4 4 4 1 4-12 4-5 4-7 4 20 4-1 4-9 4 13 4 1 4-2 4 3 4-8 4 0 4 2 4 3 4 7 4-12 4-5 3 7 4 1 4 0 4-6 4 9 4 1 4-3 4 0 4-7 4 1 4 1 4 9 4 2 4-3 4-1 4 13 4-6 4-6 4-6 4 2 4-4 3 4 4 5 4-6 4 4 4-2 4 4 4-5 4-4 4 0 4 4 4 2 4 4 4-8 4 10 4-6 4-6 4 6 4 0 4 1 4-6 4 13 3-15 4 2 4 1 4-1 4-2 4 8 4-3 4-2 4-4 4 2 4 0 4-2 4 9 4-3 4 7 4-11 4 7 4 1 4-2 4 5 4-12 3 16 4-7 4-2 4 5 4-6 4-1 4-1 4-3 4 17 4-11 4 0 4-6 4 9 4 6 4 5 4-7 4 3 4-18 4 3 4 1 4-6 3 5" stroke="#00ad6a"/>
<path d="M1198 1460l3 0 4 4 4-15 4 6 4 5 4 5 4-5 4-8 4 2 4 4 4-4 4 5 4-1 4-6 4 12 4-9 4 9 4 1 4 5 4-7 4-1 3-6 4-8 4 2 4 8 4 13 4-4 4 1 4-8 4-2 4-5 4 11 4-2 4 7 4-9 4 3 4-3 4 13 4-14 4-9 4-1 4 5 3 9 4-8 4 6 4 11 4-7 4-10 4-1 4 6 4 14 4-5 4-1 4-1 4-8 4 11 4-8 4 5 4 5 4-1 4-4 4 11 4-11 3-2 4-9 4 2 4 4 4-1 4-1 4 3 4 8 4-16 4 7 4-1 4 6 4-7 4-8 4 2 4-2 4 8 4-2 4-1 4 5 4-9 3-6 4 25 4-14 4-5 4-4 4 8 4 11 4-11 4-1 4-6 4 16 4-13 4 11 4 1 4-6 4-7 4 7 4 10 4-6 4-13 4 4 3 1 4 9 4-12 4 0 4 11 4 3 4-11 4 2 4 9 4 2 4-6 4-7 4 2 4 11 4-14 4 18 4-9 4-4 4 7 4 4 4-4 3 2 4 0 4-3 4 1 4 4 4-9 4-3 4 10 4-18 4 4 4 3 4-1 4 3 4-6 4-5 4 13 4-7 4 2 4 4 4-4 4-4 3 12 4-1 4-4 4-5 4-2 4 7 4 10 4-9 4-2 4 3 4-4 4-5 4 7 4 2 4-4 4 6 4-3 4 0 4-4 4-9 4 13 3 8 4-10 4 6 4-1 4-5 4-7 4 3 4 12 4-10 4 3 4 3 4 2 4-7 4 4 4-4 4 2 4 5 4 10 4 3 4-18 4 8 3-9" stroke="#c67aea"/>
<path d="M1198 1453l3 0 4 6 4 1 4 9 4-6 4-6 4 10 4-7 4 6 4 2 4-12 4-11 4 1 4 13 4-5 4 0 4 7 4 0 4-2 4-10 4 1 3 7 4-7 4 6 4 5 4 1 4 5 4-4 4-1 4-6 4-3 4 14 4-4 4-2 4 3 4-10 4-1 4 6 4-4 4-1 4-6 4 0 3 10 4 3 4 2 4 1 4-7 4-4 4 15 4-8 4-8 4-2 4 9 4-2 4 2 4 0 4 1 4-7 4 5 4-11 4 0 4 1 4 2 3-1 4 14 4-7 4 3 4 1 4-2 4 2 4-10 4 4 4 2 4-3 4 8 4-5 4-5 4 9 4-6 4-5 4 7 4 4 4-14 4-2 3 2 4 2 4 9 4 10 4-7 4 1 4-6 4 2 4 1 4 5 4-3 4 2 4-15 4 10 4 7 4-11 4 3 4-3 4 0 4-5 4 12 3-12 4 2 4 4 4 8 4 3 4-7 4 1 4 0 4 1 4 7 4-19 4-7 4 2 4 13 4 8 4-12 4 4 4 8 4 7 4-8 4-6 3 5 4-1 4-6 4 4 4-3 4 9 4-3 4-8 4 5 4-1 4-4 4 2 4 7 4 4 4-2 4-6 4 5 4 0 4-16 4 1 4-5 3 6 4 7 4 6 4-2 4-5 4-2 4-1 4-3 4 3 4-2 4 8 4 6 4-2 4 6 4-1 4-15 4 13 4-9 4 7 4 0 4-1 3-7 4 4 4 8 4-9 4 2 4-4 4 5 4-13 4 13 4 0 4-7 4 3 4-5 4 2 4 1 4-6 4-3 4 3 4-5 4 16 4 12 3-5" stroke="#26b800"/>
<path d="M1198 1451l3-5 4 1 4 8 4-5 4-5 4-1 4 3 4 0 4-3 4-2 4 3 4 0 4 13 4-5 4-9 4-3 4 5 4 14 4-5 4-4 4 5 3-5 4 5 4 2 4 3 4-7 4-14 4 8 4-3 4-3 4-3 4-2 4 2 4 1 4-3 4 9 4 9 4 1 4-6 4 5 4-17 4 7 3 1 4 3 4-5 4 2 4 4 4-6 4-4 4-3 4-2 4 18 4-13 4 12 4-10 4 12 4-2 4-3 4-1 4 5 4 0 4-1 4-4 3-5 4 10 4-5 4 3 4 13 4-10 4-8 4 1 4-10 4 6 4-7 4 13 4-4 4-16 4 16 4 4 4-5 4-6 4-1 4 6 4 3 3 3 4 5 4 7 4-7 4-6 4-2 4 6 4-9 4 7 4-4 4 6 4 4 4-3 4-8 4-3 4-1 4-4 4-8 4 9 4-2 4-7 3 19 4-4 4 0 4-9 4 14 4-8 4 3 4 0 4 6 4-1 4-2 4-1 4-2 4 10 4-1 4-9 4 7 4-1 4 6 4 5 4-18 3 6 4 4 4-5 4 2 4 1 4-4 4-6 4 7 4-10 4 5 4 2 4-3 4 0 4-5 4 6 4 8 4 10 4-10 4-5 4-5 4-2 3 12 4 3 4-2 4-11 4 3 4-10 4 3 4 7 4-1 4 1 4 16 4-12 4-2 4-5 4 8 4 0 4 3 4 6 4-2 4-13 4-3 3 2 4 6 4-9 4-4 4 13 4 6 4-11 4 1 4 2 4-1 4 6 4 3 4 0 4-4 4 0 4-6 4 1 4 0 4 10 4-5 4-7 3 11" stroke="#4499d8"/>
<path d="M1198 1481l3 5 4 5 4-2 4-3 4-4 4 13 4-4 4 1 4-8 4 5 4-9 4-9 4 9 4-2 4 7 4-8 4 13 4-7 4-1 4-2 4 4 3-3 4 2 4 1 4 3 4-3 4-3 4 2 4 12 4-17 4 11 4-2 4 10 4-16 4-3 4 7 4-3 4 0 4 0 4 6 4-13 4 4 3-3 4 5 4 8 4 7 4-20 4 8 4-5 4 7 4 2 4 1 4-3 4-6 4-11 4 8 4 4 4 0 4-1 4 1 4 5 4-1 4 6 3-14 4 8 4-7 4-1 4 9 4-2 4 3 4-5 4-12 4 15 4 8 4-2 4-9 4 2 4-6 4-3 4 1 4-7 4 0 4-1 4-2 3 3 4 8 4 7 4-4 4-6 4 8 4-4 4 6 4-5 4 4 4 4 4 9 4-12 4-3 4 20 4 3 4-22 4-1 4 5 4 1 4 8 3-12 4-1 4 2 4 6 4-2 4-17 4 13 4 0 4 1 4-8 4 5 4 3 4 0 4 0 4-9 4-7 4 5 4 5 4 3 4 7 4-9 3 12 4 3 4-13 4-2 4-4 4 4 4 9 4-1 4-18 4 13 4-12 4 3 4 8 4-4 4-6 4-5 4 3 4-12 4 15 4 15 4 5 3-14 4-2 4 0 4 6 4-3 4 6 4 2 4-8 4-10 4 4 4 4 4 9 4-11 4 7 4-5 4 4 4 0 4-2 4 8 4-1 4-14 3 10 4 0 4 4 4-5 4 1 4 5 4-1 4-6 4-2 4-1 4 12 4-7 4 1 4-2 4 11 4-10 4 0 4-1 4-2 4 7 4-3 3 6" stroke="#00c8d8"/>
<path d="M1198 1440l3-5 4 12 4-5 4-4 4 6 4-2 4 7 4-5 4-8 4 5 4 5 4-6 4 11 4-2 4-5 4-5 4 3 4-3 4 7 4 5 4-6 3-11 4-2 4 7 4 1 4 9 4-1 4-5 4 8 4 6 4-12 4-5 4 2 4-13 4 3 4-4 4 8 4 16 4-16 4-2 4 8 4 9 3 3 4-11 4-1 4 0 4 3 4 3 4 2 4-3 4-12 4 1 4-4 4 7 4 2 4 0 4-6 4-4 4 20 4-5 4-3 4 0 4 4 3-2 4-1 4 3 4-7 4-2 4 9 4-2 4-6 4 0 4 6 4 1 4-11 4-2 4 2 4 9 4-13 4 18 4-3 4-8 4-7 4 6 3 2 4 7 4 4 4 1 4 3 4-14 4 5 4 4 4-13 4 9 4-6 4 7 4-3 4 4 4-3 4 10 4-11 4 6 4-6 4 6 4-5 3-4 4 5 4-9 4 2 4 15 4-10 4-6 4 8 4 5 4-1 4 3 4-10 4-9 4-5 4 12 4-4 4 5 4-2 4 5 4-16 4 4 3 5 4 4 4-12 4 8 4 4 4-1 4 15 4-5 4-5 4 9 4-12 4 2 4 2 4-7 4-2 4 12 4-17 4 9 4 7 4-5 4 6 3 5 4-14 4 8 4 3 4-2 4-14 4-5 4 10 4 4 4 0 4-1 4 6 4-2 4 3 4 3 4-10 4 6 4 5 4-7 4 0 4-1 3 3 4-1 4-7 4 1 4 6 4-12 4-2 4 7 4 1 4-7 4 4 4 1 4 4 4 0 4-6 4 3 4-4 4 7 4 1 4-6 4 3 3 3" stroke="#00ad6a"/>
<path d="M1198 1452l3 1 4-1 4 5 4-3 4-3 4-1 4 3 4-2 4 0 4-2 4-1 4 6 4-2 4-2 4-6 4 2 4 12 4-2 4-10 4-5 4-7 3 6 4 12 4-1 4-12 4 6 4 0 4 10 4 0 4-14 4 6 4-8 4 0 4 11 4 6 4-10 4 3 4 9 4-7 4-3 4 2 4 0 3 6 4-5 4 6 4-10 4 4 4-2 4 5 4 1 4-7 4 6 4-12 4 6 4 7 4 3 4 0 4-14 4 16 4 0 4-5 4-1 4 1 3-1 4-8 4 7 4 10 4-15 4-8 4 12 4 3 4-4 4-16 4-2 4 11 4 12 4-7 4 7 4-3 4 3 4-1 4 0 4-2 4-15 3-1 4-1 4 10 4-7 4 16 4-4 4 8 4-6 4-7 4 10 4-10 4-3 4 10 4-10 4-3 4 2 4 4 4-3 4 7 4-4 4 10 3-5 4 0 4 3 4 3 4 13 4-17 4-14 4 11 4 0 4-12 4-2 4 9 4 8 4-10 4 4 4 4 4 9 4 0 4-10 4 2 4 10 3 0 4-20 4 2 4 10 4 7 4-16 4 4 4 5 4-3 4-14 4 11 4 1 4 8 4-8 4 0 4 7 4-6 4 0 4 9 4-11 4-11 3 6 4 19 4 1 4 9 4-20 4-2 4 0 4 0 4 0 4 2 4 1 4 3 4-4 4-4 4-7 4 13 4 2 4 2 4-3 4-13 4-3 3 14 4 0 4 0 4-12 4 3 4 2 4-3 4 0 4-1 4 7 4 3 4-1 4 6 4-2 4 4 4 1 4 0 4 1 4-10 4-13 4 6 3-2" stroke="#969100"/>
<path d="M1198 1451l3-10 4 4 4 2 4-1 4-1 4-8 4 12 4 5 4-6 4-11 4 10 4-1 4 10 4-1 4-15 4 1 4 2 4 3 4 8 4-4 4-4 3 0 4 6 4-1 4 2 4-11 4 8 4-1 4 3 4-7 4-11 4 7 4 16 4-1 4 2 4 4 4-18 4 1 4 9 4-5 4-4 4 2 3 12 4 4 4-9 4-14 4-6 4 1 4 16 4-7 4 8 4-2 4 7 4-6 4-1 4 0 4-3 4 0 4 4 4 3 4-9 4 3 4 3 3 6 4-8 4-12 4 7 4 0 4 15 4 0 4-7 4-4 4-10 4 3 4 4 4 5 4-10 4 4 4 2 4 2 4-5 4-8 4 9 4-1 3 16 4-13 4-1 4 4 4-2 4 7 4-1 4-8 4-6 4 9 4-8 4 12 4-6 4 3 4 6 4-17 4 3 4-4 4 2 4-5 4 9 3-7 4 12 4-1 4-1 4 5 4-3 4 2 4 9 4-2 4-9 4 11 4-6 4 3 4-4 4 2 4-15 4 20 4-8 4-8 4 20 4-1 3-9 4-9 4 8 4 1 4-13 4 2 4 7 4-7 4 4 4 2 4-12 4 10 4 5 4 4 4-1 4-3 4 2 4 1 4-6 4-2 4-2 3 5 4-8 4 4 4 11 4-16 4-2 4 8 4 0 4 15 4-12 4-2 4 17 4-8 4-9 4-3 4-5 4 12 4 4 4-9 4-3 4 6 3-7 4 9 4-2 4-6 4 5 4-3 4 4 4 3 4 1 4-2 4 7 4-13 4 0 4 1 4 4 4 3 4-8 4 6 4-7 4 0 4 6 3 1" stroke="#00c8d8"/>
<path d="M1198 1517l80 0 1 2 105 0 3 4 81 0 2-4 54 0 2-4 38 0 3 1 90 0 3-3 70 0 4 4 87 0 2-2 71 0 5 9 31 0 5-8 13 0" stroke="#4499d8"/>
<path d="M1198 1448l3-2 4-2 4 6 4 7 4-9 4-3 4-7 4 7 4 0 4-3 4 7 4-2 4-3 4 4 4-9 4 9 4 2 4-11 4 7 4 2 4 3 3-4 4 3 4-4 4-3 4 0 4 4 4-3 4 4 4 1 4 1 4-1 4-6 4-2 4 5 4-9 4 3 4 4 4 3 4 0 4-6 4-3 3 4 4 1 4-3 4 4 4-1 4 0 4-4 4 1 4 8 4 3 4 0 4-11 4 4 4 2 4-1 4-6 4 3 4 0 4-1 4 5 4 1 3 5 4-2 4-3 4-7 4 3 4-5 4 9 4 2 4 3 4-3 4 5 4-10 4-3 4-5 4 8 4-1 4-3 4 6 4 0 4-1 4-4 3 3 4 0 4-2 4 1 4 4 4-7 4 1 4-1 4 2 4 6 4-1 4-10 4 3 4 3 4 2 4-4 4 8 4-1 4 0 4 2 4 3 3-8 4-1 4 2 4-2 4-7 4 5 4 2 4-3 4 0 4 7 4-2 4 3 4 5 4 0 4-6 4-7 4-3 4 5 4-1 4-2 4 4 3 1 4-1 4 5 4-9 4 2 4 1 4-2 4 1 4 3 4 5 4 0 4-6 4 5 4 0 4 0 4-3 4-5 4 4 4 2 4-7 4 5 3 2 4 3 4-3 4-1 4-7 4 9 4-9 4 2 4 11 4 0 4-5 4 1 4 7 4-7 4-1 4-1 4 1 4-1 4 0 4 3 4 0 3-7 4 4 4 5 4-3 4-1 4-1 4 2 4-5 4 2 4 2 4-2 4-1 4 0 4 0 4-8 4 2 4 11 4-2 4 4 4-4 4-3 3-3" stroke="#26b800"/>
<path d="M1198 1517l44 0 3 6 75 0 2-12 106 0 3 7 47 0 5 0 72 0 5 4 43 0 5-4 48 0 2 2 48 0 4-5 88 0 3 0 107 0 5-1 35 0" stroke="#26b800"/>
<path d="M1198 1433l3-1 4-2 4 0 4 6 4-3 4-2 4 1 4 4 4-1 4-1 4 1 4-7 4 7 4-5 4 2 4-2 4 3 4 0 4-3 4-3 4 7 3-7 4 1 4 2 4 0 4 4 4 0 4 3 4-8 4 8 4-3 4-5 4-4 4 16 4-3 4-5 4-2 4 3 4 3 4-7 4-4 4 1 3-2 4 2 4 5 4-8 4 10 4 4 4-5 4-6 4 4 4 1 4 0 4-5 4-4 4 7 4 6 4-5 4 2 4 2 4 2 4 0 4 6 3-8 4-3 4 5 4-7 4 3 4-4 4 0 4-1 4-3 4 8 4-4 4-2 4 6 4 3 4-4 4 3 4 5 4-4 4-3 4 9 4-4 3-3 4-10 4 3 4 0 4-2 4 5 4 1 4 7 4-2 4-7 4 6 4-8 4-1 4 1 4-6 4 3 4 3 4-4 4 2 4 1 4 3 3 9 4-5 4 0 4-2 4 5 4 0 4-1 4-5 4 1 4 0 4-11 4 13 4-4 4-6 4 6 4 2 4 5 4-5 4 5 4-5 4 2 3 2 4-3 4-8 4-1 4 3 4 5 4 3 4-9 4 10 4-4 4 3 4 8 4 7 4-15 4-2 4 0 4-7 4 7 4-1 4 2 4-3 3 2 4 3 4-1 4 2 4-1 4-1 4-5 4-1 4 1 4-2 4 1 4 4 4 6 4-8 4 1 4-3 4-1 4 4 4 3 4 3 4-1 3-1 4-4 4 1 4-2 4 1 4 1 4 4 4-2 4-2 4-4 4 16 4-11 4-5 4 5 4 0 4 7 4-6 4 1 4-6 4 0 4 6 3-12" stroke="#ff6600"/>
<path d="M1198 1521l3 0 4 2 4-1 4 0 4 2 4 4 4 4 4-2 4-10 4 0 4 4 4-4 4 0 4 1 4 11 4-7 4 1 4 4 4 0 4-10 4 7 3 3 4-1 4-2 4-1 4-4 4 4 4-5 4 2 4-9 4 11 4 2 4-7 4-1 4 1 4-2 4 14 4 1 4-4 4-2 4 11 4-8 3 3 4-5 4-1 4-1 4 2 4-2 4-3 4 1 4-3 4 2 4-2 4 4 4-3 4 5 4-4 4 6 4-4 4-2 4-2 4 4 4-6 3 2 4-1 4-4 4 11 4 1 4-8 4 3 4 5 4-5 4-2 4 8 4-5 4 5 4-5 4 1 4-7 4-3 4 4 4 7 4-5 4 1 3 1 4 5 4-5 4-3 4 4 4 6 4-10 4 8 4-9 4 3 4 4 4 3 4-8 4 6 4 4 4 5 4-9 4 2 4-7 4 3 4-5 3 2 4-1 4 9 4-1 4-8 4 4 4 2 4 1 4-4 4-5 4 4 4 4 4-2 4 2 4-1 4 7 4-7 4 1 4 0 4-4 4 2 3 0 4-1 4 2 4-4 4 3 4 11 4-3 4-6 4-2 4-1 4-2 4-3 4 2 4-1 4-3 4 7 4-9 4 8 4 5 4-5 4-2 3-1 4 1 4-4 4 11 4-4 4-1 4-7 4 10 4 1 4-1 4 2 4-4 4-2 4-1 4-2 4-6 4 13 4-3 4 1 4 6 4-11 3 4 4-1 4-2 4 4 4-2 4-1 4 3 4-3 4 6 4 4 4-10 4-7 4 8 4 3 4-6 4 5 4 1 4-2 4 5 4-4 4 5 3-7" stroke="#ff6600"/>
<path d="M1198 1478l3 4 4-2 4-5 4 1 4-6 4 2 4 10 4 2 4-2 4-6 4-2 4-2 4 0 4 5 4 3 4 6 4-5 4 2 4 8 4-10 4 5 3-12 4 11 4-1 4-8 4 6 4 2 4 0 4 5 4-10 4-8 4 3 4 3 4-3 4 13 4-4 4-14 4 15 4-11 4 4 4 1 4 6 3-1 4 2 4 0 4-6 4 5 4-13 4-4 4 7 4 6 4 9 4-19 4 9 4 6 4 0 4-5 4-9 4-3 4 7 4 2 4-10 4 3 3 8 4-6 4 13 4-5 4-3 4 0 4 13 4 0 4-7 4-7 4 4 4-7 4 2 4 3 4-10 4 10 4-7 4 5 4 4 4-11 4 0 3-1 4 8 4 0 4 1 4 0 4-5 4-6 4 4 4-2 4 3 4 8 4-10 4 11 4 4 4-8 4 7 4 2 4-1 4-3 4-8 4-7 3 10 4 11 4-13 4-5 4 3 4-1 4 9 4 1 4-1 4-1 4-3 4-6 4 10 4 5 4 0 4 0 4 1 4-6 4 15 4-5 4 0 3-1 4-4 4 0 4-11 4 7 4 7 4-19 4 18 4 2 4 0 4-6 4-15 4 10 4 16 4-21 4 9 4 2 4 6 4-17 4 6 4-1 3-7 4 16 4-4 4 1 4-5 4-1 4-3 4 9 4-12 4 5 4-7 4 3 4 4 4 3 4 3 4-4 4-1 4 0 4 10 4-3 4 2 3-3 4-9 4 0 4 4 4-3 4-2 4 4 4-2 4 12 4-9 4-2 4-11 4 6 4 1 4-2 4-3 4 9 4 1 4 1 4 1 4 6 3-3" stroke="#4499d8"/>
<path d="M1198 1474l3 9 4-4 4 6 4 18 4-15 4 17 4-17 4-8 4 6 4-7 4 0 4-3 4 10 4 5 4 9 4-12 4 1 4-6 4 0 4 4 4 5 3 11 4-20 4 1 4-12 4 8 4 2 4-9 4 12 4 9 4-12 4 6 4-2 4-9 4-3 4 4 4 8 4 2 4 0 4 3 4-3 4-3 3 3 4-2 4-6 4 2 4 8 4 4 4-14 4 13 4-7 4 15 4-6 4-1 4 0 4-1 4-2 4-6 4-5 4-3 4 3 4 2 4 9 3-4 4 0 4-2 4-6 4 7 4-2 4-9 4 8 4-3 4-1 4 7 4 11 4-12 4 8 4-3 4 2 4-11 4 0 4 4 4-5 4-2 3 18 4-8 4-2 4-12 4 12 4 0 4 4 4-4 4-5 4 14 4-8 4 0 4 2 4-2 4-2 4-3 4-5 4 8 4-3 4 9 4-12 3-2 4 11 4-4 4-9 4 15 4-6 4 4 4-7 4 6 4-2 4 8 4-8 4 2 4 7 4-19 4 17 4-3 4 6 4-15 4-5 4-6 3 13 4-1 4 11 4-8 4 3 4-2 4-8 4 3 4-9 4 11 4 0 4-1 4-6 4 10 4 2 4-7 4 7 4 3 4-1 4-5 4-6 3 12 4-5 4 6 4-4 4-2 4-1 4 9 4-22 4 8 4 3 4 6 4 1 4-8 4 11 4-6 4 4 4-9 4-4 4-2 4 3 4 7 3-2 4-1 4 1 4 3 4-6 4-3 4 8 4 4 4-6 4 4 4 10 4-14 4-3 4 0 4 8 4 2 4-2 4-10 4 0 4 12 4-3 3 5" stroke="#ff2d2d"/>
<path d="M1198 1518l91 0 2 4 28 0 4-4 62 0 3-4 58 0 3-2 103 0 3 0 94 0 2 4 70 0 3 7 25 0 4-3 81 0 2 3 51 0 2-6 33 0 4-4 22 0" stroke="#994a52"/>
<path d="M1198 1465l3-7 4 8 4 1 4 1 4-1 4-5 4-2 4 1 4 18 4-11 4 6 4-8 4 3 4-11 4 5 4-1 4 2 4-16 4 8 4 10 4-9 3 9 4-10 4 6 4-1 4-4 4-5 4 16 4 4 4-6 4-9 4 7 4 6 4 2 4-1 4-1 4-11 4-15 4 13 4-4 4 20 4-11 3-3 4-6 4 3 4 2 4 7 4 2 4-6 4 1 4 4 4-12 4 15 4-3 4-11 4 4 4 0 4-5 4 12 4-4 4 0 4-5 4 1 3 2 4-4 4 16 4-7 4-2 4 0 4 3 4 1 4-7 4 5 4 2 4 2 4 6 4-6 4-5 4 7 4-6 4 1 4 0 4-5 4 12 3-11 4 9 4 5 4-7 4-6 4-5 4 10 4 10 4-4 4-6 4-5 4 8 4-8 4-6 4 1 4-5 4 9 4 14 4-4 4-15 4 12 3-1 4 5 4-14 4-5 4 0 4 2 4 11 4 1 4-13 4 2 4-2 4 2 4 10 4-3 4 2 4-5 4 2 4 3 4-4 4 4 4 1 3-9 4 8 4 5 4 0 4-11 4-3 4-1 4-4 4 3 4-1 4 8 4-4 4 3 4 8 4 1 4-6 4 8 4-4 4 0 4 5 4-12 3 4 4 1 4 6 4-9 4 2 4-5 4 0 4 7 4-5 4 3 4-4 4 8 4 7 4-5 4-4 4 8 4 0 4-5 4-7 4-2 4 10 3-10 4 6 4-4 4 0 4-2 4 0 4 7 4-2 4 2 4 1 4-4 4 8 4-6 4-11 4 9 4-6 4 14 4-4 4-1 4-2 4-3 3-4" stroke="#969100"/>
<path d="M1198 1464l3-14 4 13 4 1 4-14 4-2 4 16 4 5 4 2 4-11 4 2 4-4 4 6 4 1 4-4 4 4 4-1 4 2 4 3 4 7 4-20 4 11 3-2 4 3 4 10 4-9 4-3 4-7 4 13 4-5 4-1 4 8 4-1 4 1 4-2 4-8 4 15 4-8 4-1 4-3 4 6 4-12 4 7 3 3 4-5 4 13 4-17 4 1 4 9 4 4 4-8 4-3 4-1 4 10 4-5 4 1 4-9 4 5 4-6 4 18 4-6 4-7 4 3 4 0 3-8 4 12 4-12 4-9 4 13 4-2 4-3 4 2 4 9 4-9 4-1 4 5 4-1 4-1 4 16 4-9 4-2 4-6 4-1 4 2 4 3 3-14 4 11 4 1 4 3 4-2 4-8 4-2 4 12 4 2 4-5 4 2 4 0 4 8 4 0 4-7 4 0 4 2 4-19 4 13 4 2 4 3 3-4 4-6 4-1 4 14 4-6 4-8 4 1 4 13 4-16 4-3 4 11 4 4 4 0 4 4 4-8 4 4 4-1 4 2 4 7 4-10 4 3 3 3 4-3 4 10 4-8 4-3 4 3 4-3 4 6 4 5 4-7 4-3 4 0 4 10 4-7 4 3 4-2 4-5 4-4 4 1 4-2 4 4 3-6 4 5 4 3 4 9 4-9 4-2 4 5 4-10 4 5 4-2 4 15 4-5 4 7 4-2 4 5 4-10 4-9 4 2 4-3 4 0 4 2 3-6 4 13 4-5 4-3 4 2 4-2 4 0 4 0 4-5 4 9 4-3 4-2 4 9 4-4 4 10 4-1 4-18 4 8 4-4 4 10 4-1 3-7" stroke="#c67aea"/>
<path d="M1198 1511l39 0 4-2 69 0 4-5 85 0 4 12 53 0 5-10 83 0 2 5 71 0 3 4 68 0 4-8 84 0 5 5 28 0 3 4 45 0 3-3 87 0 1 3" stroke="#6e6e6e"/>
<path d="M1198 1481l3-5 4-1 4-10 4 13 4 7 4-13 4 0 4 1 4 1 4 9 4-6 4 12 4-8 4-11 4-3 4 14 4 2 4 2 4 1 4-11 4-1 3 0 4 12 4-1 4-4 4-9 4 4 4 2 4 4 4-4 4 5 4 0 4-12 4 7 4-9 4 10 4-9 4 1 4 3 4 1 4 4 4 5 3 0 4 2 4-5 4 2 4 1 4-6 4 6 4-12 4 6 4 4 4-8 4 1 4 2 4 0 4 2 4-1 4 6 4-5 4-4 4-15 4 5 3 8 4-6 4 14 4-2 4-1 4-6 4-3 4 5 4 4 4 1 4 3 4-2 4-5 4 7 4 1 4-2 4-3 4-1 4 4 4 1 4-12 3 13 4 3 4-4 4-14 4 13 4 4 4-4 4-11 4 5 4 10 4-2 4 8 4-8 4-13 4 6 4-5 4-9 4 7 4 1 4-8 4 6 3 19 4 4 4-13 4 4 4 5 4-8 4 8 4 5 4-4 4-10 4-11 4 12 4 0 4 0 4-1 4-4 4 10 4-6 4 0 4 4 4-2 3 0 4-6 4 1 4 12 4 0 4-5 4-3 4 1 4 6 4 4 4-1 4 2 4-3 4-9 4 8 4-3 4-6 4 4 4-8 4 3 4-2 3-7 4 3 4 5 4-6 4 2 4 4 4-1 4-6 4 0 4-10 4 18 4-3 4 0 4-4 4 8 4 0 4-6 4 0 4 6 4 5 4 1 3-11 4 8 4-3 4 5 4-9 4 6 4-18 4 9 4 7 4-2 4-8 4 7 4 7 4 0 4 2 4-15 4 6 4 6 4-1 4 5 4-2 3 1" stroke="#ff2d2d"/>
<path d="M1198 1441l57 0 2-9 105 0 2 11 68 0 3-9 33 0 5-3 53 0 2 13 40 0 3 5 66 0 2-14 92 0 2 11 52 0 2-8 45 0 2 10 54 0 4-8 56 0" stroke="#26b800"/>
<path d="M1198 1479l3-9 4 3 4 3 4 14 4-10 4-7 4 4 4 5 4-4 4-11 4 19 4 0 4 1 4-6 4-11 4 11 4-4 4 11 4-10 4 0 4 2 3 3 4-3 4 1 4-1 4-16 4 7 4-6 4 13 4-4 4-4 4-1 4 1 4 10 4-16 4 10 4-2 4 9 4 9 4-2 4 11 4-14 3 4 4-2 4-5 4-12 4-1 4 3 4 7 4-5 4 7 4 8 4-5 4 1 4 6 4 3 4-17 4-5 4 1 4-1 4-1 4 4 4 1 3-3 4 3 4 1 4-15 4 15 4 0 4-4 4 4 4 0 4 5 4-5 4 0 4 2 4-3 4 5 4-3 4 4 4-4 4-8 4 6 4-2 3 9 4 2 4-7 4 3 4 6 4-8 4-2 4-4 4-1 4 10 4-8 4 7 4 2 4-13 4 10 4 0 4 11 4 3 4 0 4-11 4-9 3 10 4-6 4 6 4-9 4 2 4-8 4 7 4 5 4-3 4-13 4 9 4-2 4 9 4 1 4-4 4-7 4 6 4 4 4 5 4 0 4-5 3 5 4-11 4 5 4-5 4 4 4 6 4-5 4-3 4 1 4 1 4 5 4 1 4 5 4-12 4 0 4 10 4 4 4-14 4-4 4 8 4-1 3-5 4 11 4 10 4-4 4-1 4-8 4 1 4-1 4-7 4 14 4-16 4-5 4 1 4 6 4 1 4 5 4-6 4 2 4 6 4-11 4 2 3 8 4-7 4-1 4-1 4 2 4-1 4-9 4 12 4 1 4-9 4 12 4-9 4 1 4 6 4 3 4 2 4 1 4-10 4 9 4 4 4-15 3-3" stroke="#6e6e6e"/>
<path d="M1198 1514l3 5 4 4 4 2 4-6 4 6 4-2 4-3 4-2 4-5 4 3 4-2 4-2 4-1 4 6 4 2 4 0 4 7 4-3 4-1 4-3 4 5 3-5 4 0 4 2 4 0 4 8 4-1 4-4 4-4 4 5 4 4 4-8 4 3 4-7 4-2 4 3 4 3 4 2 4-1 4 2 4-4 4 0 3-7 4 4 4-3 4 4 4 4 4 5 4-5 4 5 4-11 4-1 4 11 4-2 4-6 4 14 4-7 4-4 4-4 4-3 4 6 4-2 4 2 3 1 4-6 4 6 4 0 4-1 4-2 4 8 4-6 4 0 4 4 4 1 4-3 4 2 4-4 4 2 4-3 4 3 4 8 4-4 4-3 4 0 3-3 4 1 4-2 4 3 4 0 4-3 4 4 4 0 4-1 4-6 4 5 4 3 4 1 4 1 4-7 4 1 4-2 4 3 4-5 4-1 4 3 3 6 4 2 4-5 4 3 4 7 4-3 4-9 4 0 4-1 4-1 4 2 4 4 4 1 4-7 4 5 4-7 4-2 4-4 4 0 4 0 4 8 3 0 4 5 4 4 4-4 4-1 4 0 4-4 4 9 4-14 4 0 4 5 4-2 4 7 4-4 4 2 4 0 4 2 4 0 4 1 4 4 4 3 3-4 4-8 4 4 4-1 4-3 4 5 4-4 4 5 4-8 4 11 4-6 4-2 4 1 4 6 4-2 4-6 4 5 4-6 4 8 4-7 4-2 3 5 4 3 4-4 4-3 4 5 4 7 4-5 4-6 4 3 4-5 4-1 4 8 4-4 4 1 4 2 4-8 4 11 4-1 4-2 4 2 4-8 3 5" stroke="#26b800"/>
<path d="M1198 1514l89 0 2-1 102 0 4 2 96 0 5 0 56 0 3-3 79 0 2 2 90 0 4 6 43 0 4-13 39 0 4 4 52 0 3 4 70 0 2-3 1 0" stroke="#994a52"/>
<path d="M1198 1442l3 8 4 5 4 0 4 0 4-2 4-2 4 0 4 2 4 9 4-8 4-2 4-7 4 0 4 16 4-16 4 0 4-1 4 0 4-5 4 11 4 15 3-13 4-11 4 1 4 3 4 3 4-2 4 7 4 3 4-2 4-1 4 1 4 5 4-2 4-6 4-1 4 0 4-5 4 15 4-9 4-5 4-3 3 6 4-1 4-6 4-1 4 11 4-2 4-4 4 1 4 5 4 3 4 9 4-19 4 2 4 12 4-1 4-4 4-6 4 12 4-2 4-2 4 2 3-10 4 1 4-7 4-1 4 3 4 11 4 8 4-12 4 2 4-2 4 4 4-2 4-5 4 2 4 6 4-8 4 0 4-8 4 8 4 2 4-2 3-8 4 12 4 0 4-9 4 4 4-3 4 12 4 4 4-15 4 10 4 0 4-13 4 14 4-16 4 4 4 0 4 5 4 9 4-17 4 10 4 6 3-15 4 7 4 0 4-3 4 3 4 9 4-4 4-7 4-4 4 20 4-10 4-4 4-6 4 7 4 2 4-5 4 6 4-1 4 2 4-7 4 3 3-3 4 9 4 2 4 0 4 5 4-9 4-7 4-5 4 14 4 2 4-4 4-15 4 10 4 4 4-8 4 5 4 4 4-10 4 0 4 9 4-1 3-4 4-7 4 3 4 13 4-1 4-8 4-5 4 0 4 2 4 9 4-1 4-1 4-6 4 8 4-1 4-8 4 11 4 3 4-10 4-3 4-2 3 3 4 10 4-1 4-3 4 2 4-6 4 4 4 9 4-4 4-13 4 12 4-4 4 5 4 3 4-7 4 0 4 4 4-2 4-9 4-2 4 3 3-6" stroke="#dd9900"/>
<path d="M1198 1446l3-2 4-3 4 9 4 0 4-4 4-1 4-2 4 4 4 0 4-4 4-2 4-3 4 3 4 9 4-1 4-6 4 5 4-4 4-5 4 4 4 2 3-1 4 3 4 4 4-1 4-4 4 1 4-3 4-1 4-8 4 18 4-5 4-15 4 1 4 10 4-6 4 4 4 13 4-4 4 0 4-7 4 3 3 3 4-11 4 8 4-2 4 5 4 1 4-6 4-8 4 7 4-3 4-1 4 10 4 2 4-8 4 3 4 3 4 0 4-1 4 3 4 0 4 5 3-9 4 4 4 1 4-2 4-7 4 3 4 0 4-1 4-5 4 6 4 7 4-5 4-8 4 4 4-4 4 0 4 0 4 4 4-6 4 7 4 2 3-2 4 4 4-5 4 3 4-4 4-3 4 4 4-3 4-1 4 3 4 8 4-5 4-6 4 1 4-4 4 6 4 1 4-4 4 1 4 4 4-5 3 2 4 1 4-3 4-1 4 0 4 12 4 0 4-7 4 5 4-2 4 0 4-1 4-1 4 2 4 0 4-7 4 1 4-4 4 6 4 1 4 2 3-1 4 3 4 3 4-6 4-5 4-2 4 8 4 0 4 3 4-4 4 3 4 0 4-1 4 2 4-9 4-7 4 7 4 6 4-1 4-1 4 1 3-5 4-2 4 1 4 4 4-9 4 1 4 4 4 1 4 5 4-2 4-4 4 1 4-1 4 8 4-1 4-1 4 1 4 4 4 1 4-2 4-5 3 6 4-10 4 3 4 1 4-7 4 6 4-1 4 1 4 1 4-5 4 5 4-2 4-4 4 4 4 7 4-4 4 8 4-7 4-1 4 3 4-2 3-2" stroke="#26b800"/>
<path d="M1198 1489l36 0 4-3 87 0 2 7 78 0 2-5 60 0 5-6 107 0 4 11 27 0 3-1 57 0 4 0 29 0 2-9 37 0 4 4 66 0 3 7 94 0 2-12 37 0" stroke="#ff2d2d"/>
<path d="M1198 1482l3-4 4 4 4 13 4-11 4-7 4 17 4-11 4-7 4 2 4-2 4 3 4 10 4-1 4 2 4 8 4-10 4 7 4-8 4 5 4-7 4 3 3 3 4-3 4-5 4 10 4-10 4 7 4-7 4 1 4-5 4 6 4 7 4-6 4 17 4-9 4-9 4 8 4-1 4 1 4 7 4-20 4 8 3-4 4 4 4-14 4 12 4-5 4 4 4 10 4-3 4 1 4 6 4-12 4-11 4 21 4-9 4 3 4-10 4-1 4 5 4 9 4-1 4 5 3-8 4-8 4 2 4-2 4-1 4-2 4-4 4 6 4 2 4 0 4-7 4 10 4 3 4 0 4 7 4-9 4-2 4 1 4-7 4-1 4 3 3-3 4 6 4 13 4-8 4 7 4-6 4 6 4-4 4-1 4 2 4-6 4-4 4-2 4 7 4 7 4-11 4 1 4 3 4-15 4 14 4 1 3 3 4-3 4-1 4-7 4 4 4-6 4 5 4 14 4-15 4 2 4-2 4 7 4-8 4 5 4 2 4-1 4 1 4 8 4-7 4-9 4-7 3 1 4 3 4 13 4 6 4-19 4 10 4 1 4 1 4 10 4-3 4-12 4-7 4 1 4 4 4-15 4 13 4 11 4-8 4-2 4 12 4-13 3 4 4 1 4 1 4 2 4 5 4-11 4 6 4-4 4 1 4 1 4-1 4 9 4-12 4-3 4 7 4 5 4-1 4-12 4 8 4-6 4 6 3 10 4-18 4 8 4 3 4-3 4 12 4-8 4-2 4-2 4 3 4-1 4 4 4-1 4 1 4-1 4-9 4 8 4 9 4-11 4 4 4-7 3 5" stroke="#00c8d8"/>
<path d="M1198 1444l3-6 4-6 4 2 4 6 4-3 4 5 4-2 4 4 4-11 4-2 4-2 4 2 4 7 4 2 4-5 4-2 4 1 4 2 4 0 4-1 4 3 3-7 4 1 4-1 4-2 4 4 4 0 4 1 4 4 4 3 4-6 4 4 4-4 4 0 4-1 4-4 4-4 4 14 4-7 4-1 4-3 4 4 3-5 4 4 4-3 4 1 4 3 4 11 4-7 4-9 4 9 4-4 4-6 4 7 4 4 4-4 4 4 4-3 4-3 4 5 4-2 4 4 4 0 3-7 4-1 4 6 4-2 4 2 4 5 4-2 4 6 4-2 4-2 4-4 4-3 4-2 4 1 4-3 4 10 4-8 4 5 4-1 4-8 4 3 3 2 4-3 4 3 4-1 4-2 4 6 4-2 4-1 4-1 4 3 4 1 4-4 4 3 4-4 4 2 4-2 4 2 4 1 4 1 4-1 4-2 3 6 4-5 4-3 4 6 4-2 4-1 4 1 4 2 4-2 4 1 4 0 4 1 4 6 4-5 4 4 4-10 4 8 4-1 4 1 4-1 4 1 3-2 4 0 4 1 4 8 4 1 4 4 4-12 4 1 4-1 4-5 4-11 4 12 4-1 4-3 4-3 4 9 4-3 4-3 4 5 4-2 4 4 3-1 4 0 4 4 4 5 4-3 4-10 4 5 4 4 4-6 4 0 4 2 4-4 4 0 4-1 4 1 4 4 4-7 4 4 4-1 4-3 4 2 3-5 4 4 4 3 4-7 4-1 4 4 4-4 4 9 4-8 4 8 4 5 4-3 4 2 4-6 4 5 4-1 4-7 4 4 4 1 4 0 4 5 3-8" stroke="#994a52"/>
<path d="M1198 1468l3 6 4-14 4-8 4 2 4-1 4 4 4-14 4 14 4-2 4 0 4 9 4 5 4-6 4-1 4-4 4-9 4 3 4 7 4-13 4-3 4 7 3 0 4 7 4-4 4-1 4 0 4-3 4 7 4 1 4 3 4 3 4-1 4 0 4-11 4 12 4-1 4-4 4 13 4 3 4-2 4-9 4-11 3 8 4-1 4 3 4 2 4-5 4-6 4-7 4 10 4 3 4-4 4-9 4 16 4-3 4-6 4-2 4-3 4 4 4 8 4 0 4-1 4 0 3 2 4 6 4-7 4-6 4-2 4 8 4 2 4-3 4-9 4 4 4 3 4-3 4 0 4 0 4 7 4-1 4-4 4 8 4 0 4-7 4 7 3 3 4-4 4 3 4-8 4-5 4 8 4 3 4-6 4 4 4-4 4-3 4 3 4-1 4-12 4 8 4 15 4-4 4-2 4 2 4 3 4-3 3-7 4 0 4-1 4 10 4 6 4-14 4 7 4 0 4-13 4 5 4-7 4 3 4 6 4-12 4 3 4 1 4-3 4 11 4-2 4 11 4 1 3-5 4-2 4 0 4-7 4 3 4-7 4 1 4 7 4 0 4-6 4 1 4 2 4 3 4 9 4-1 4-10 4 5 4-3 4-2 4 0 4 12 3-7 4 7 4-1 4-17 4-2 4 3 4-3 4-4 4 9 4-5 4 2 4 6 4 4 4-1 4-2 4-4 4 9 4 5 4-13 4 2 4 3 3 3 4-1 4-8 4 2 4 1 4-7 4 7 4 9 4-5 4 10 4-9 4-5 4 6 4 0 4-4 4 4 4-2 4-9 4 4 4-1 4 2 3 5" stroke="#ff6600"/>
<path d="M1198 1434l3 4 4 5 4 1 4 3 4-8 4-2 4 1 4 0 4-5 4 5 4 6 4 4 4-1 4 2 4-13 4 9 4-4 4 5 4-4 4-2 4 1 3 7 4 2 4-7 4 1 4 1 4 2 4-4 4 5 4-1 4-1 4 5 4-3 4 3 4-5 4-1 4-3 4 4 4 1 4-1 4 1 4-4 3 1 4-4 4 2 4-6 4 8 4 8 4-5 4 0 4 3 4-2 4-2 4-6 4 8 4-4 4-2 4 4 4 4 4-5 4-10 4 4 4 3 3 2 4-5 4 3 4 0 4 1 4-1 4 1 4 1 4-6 4 7 4 4 4-5 4 8 4-2 4-4 4-5 4 0 4 0 4 10 4-6 4 6 3-3 4-5 4-2 4-3 4 7 4 2 4-4 4 11 4-10 4 5 4 4 4-7 4 0 4 4 4-10 4 3 4-3 4-2 4 11 4-6 4 5 3-1 4 3 4-2 4-3 4-7 4 6 4 8 4-5 4-1 4 1 4 4 4-5 4 1 4-1 4 0 4 3 4 1 4-2 4-4 4-2 4 0 3 6 4 2 4-12 4 6 4 1 4 0 4-3 4 3 4-3 4 4 4 3 4-6 4 1 4-2 4 4 4 1 4-5 4 4 4 3 4-1 4-6 3 10 4-11 4-1 4 7 4-1 4 0 4 0 4 4 4-6 4-1 4 2 4-1 4 2 4-5 4 7 4-4 4 5 4-1 4-1 4-2 4 7 3 5 4-9 4-4 4-1 4-5 4 7 4 1 4-1 4 3 4-4 4 2 4-3 4 4 4-4 4-2 4 2 4-4 4 6 4 9 4 2 4-8 3-7" stroke="#ff6600"/>
<path d="M1198 1442l3-4 4-4 4-2 4 5 4 3 4-4 4-3 4-2 4 2 4 7 4-3 4 0 4-3 4-5 4 6 4 1 4 1 4-4 4-3 4 4 4 7 3 0 4-4 4-2 4 0 4-2 4 5 4-6 4 11 4-10 4-2 4 7 4-3 4 6 4-6 4-2 4 8 4-6 4 7 4-7 4 0 4 1 3 5 4 2 4-8 4 0 4-1 4-1 4 1 4-1 4 3 4-2 4 3 4-10 4 4 4 4 4-1 4-5 4 14 4-3 4-4 4 9 4-8 3-3 4 6 4 1 4 4 4-11 4 0 4 2 4 6 4-4 4-2 4-2 4 12 4-8 4 0 4-7 4 10 4-7 4 3 4 3 4-1 4-1 3-1 4-1 4 2 4 6 4 2 4-10 4 4 4-6 4 3 4 2 4 7 4-5 4-1 4-2 4-2 4 8 4-9 4 5 4-4 4 8 4 0 3-4 4-1 4 3 4-3 4 2 4 7 4-9 4-2 4-2 4 4 4-1 4-5 4 6 4-5 4 2 4-3 4 8 4-7 4-2 4 4 4 0 3 7 4 0 4-1 4-4 4 4 4-1 4-4 4-1 4 3 4 1 4-3 4 2 4 4 4-7 4-2 4 1 4 2 4 1 4 3 4-9 4 2 3 1 4 1 4 7 4-6 4-2 4-1 4 5 4 4 4 0 4-1 4-7 4 3 4 5 4-7 4-3 4 6 4 1 4 2 4-5 4 1 4 1 3 2 4-2 4-9 4 6 4-1 4 1 4 3 4-3 4 3 4-2 4 0 4 4 4-9 4 8 4 8 4-9 4 0 4-5 4 0 4-2 4 7 3 0" stroke="#969100"/>
<path d="M1198 1488l3-7 4 7 4-7 4 18 4-5 4 10 4 2 4-18 4-12 4 2 4 2 4-1 4 9 4 3 4 0 4-5 4 15 4-12 4-8 4-1 4 7 3 0 4 5 4-9 4-4 4 13 4 8 4-5 4-8 4-3 4 7 4-3 4-3 4 7 4 12 4-20 4-9 4 5 4 11 4 2 4-15 4 7 3 0 4-7 4-11 4 17 4-1 4 2 4 2 4 2 4-11 4 4 4 9 4 0 4-12 4 9 4 8 4-2 4 3 4 3 4-9 4 6 4-6 3-6 4-2 4 0 4 9 4-7 4-7 4 9 4-3 4 3 4 2 4 3 4-7 4-6 4 17 4-6 4-5 4 10 4-4 4-2 4 2 4 12 3 1 4-19 4 5 4-3 4 11 4-11 4 1 4 2 4-6 4 3 4-1 4 9 4-2 4-2 4 5 4-7 4-1 4-4 4 3 4 5 4-10 3 13 4 0 4-4 4-12 4 2 4 13 4 15 4-15 4-3 4-7 4 10 4-7 4 3 4-1 4 0 4 0 4-1 4-7 4-9 4 14 4 7 3-4 4-5 4 0 4 5 4 0 4 0 4-14 4 17 4-9 4 9 4-5 4-7 4 23 4-12 4 9 4-4 4-14 4 13 4-16 4 12 4-6 3 5 4-9 4-1 4 1 4 11 4 1 4-2 4-2 4 13 4-13 4 3 4-4 4-2 4-3 4 5 4 2 4-1 4-1 4 4 4 1 4-8 3-3 4-1 4 0 4 1 4 4 4-4 4-3 4 5 4 4 4-2 4 13 4-7 4-21 4 11 4-3 4 4 4 1 4-4 4 6 4 1 4-1 3 6" stroke="#ff2d2d"/>
<path d="M1198 1467l3 4 4-12 4-1 4 10 4-4 4-8 4 5 4-7 4-7 4 11 4 2 4-10 4-4 4 5 4 5 4 0 4-5 4-4 4-4 4 4 4 4 3 4 4 3 4 5 4-17 4 10 4 3 4-1 4-10 4 5 4 7 4-11 4-4 4 5 4-4 4 17 4-15 4 6 4-1 4 11 4-6 4-1 3-4 4 0 4-10 4 11 4 6 4-9 4 11 4-8 4-2 4 3 4-4 4 5 4 4 4-5 4-9 4 13 4-1 4 0 4 3 4 2 4 2 3-11 4 4 4 11 4-11 4 2 4-16 4 10 4-7 4 3 4 11 4-1 4-6 4-2 4-8 4 5 4 7 4-7 4-2 4 4 4 15 4-6 3-9 4-4 4-5 4 7 4-1 4 5 4-1 4 13 4-8 4-1 4-1 4-7 4 2 4 0 4 6 4-9 4 12 4-13 4 0 4 5 4 4 3 3 4 4 4-6 4 12 4-23 4-4 4-3 4 4 4 1 4 12 4 3 4-9 4 6 4-6 4 19 4-20 4 13 4-8 4-3 4 8 4 8 3-4 4-5 4 2 4 6 4-9 4-5 4 2 4 12 4-6 4 3 4 2 4-6 4-2 4 1 4-4 4 1 4-6 4-4 4 13 4-8 4 4 3-1 4 5 4-2 4 6 4 3 4-10 4-1 4 8 4-1 4 9 4-17 4 2 4 7 4-2 4-5 4 3 4-3 4-4 4 11 4 4 4 6 3-26 4 8 4-5 4 7 4-8 4 1 4-1 4-3 4 17 4-7 4 1 4-3 4-3 4-9 4 7 4 5 4-2 4-3 4 14 4 6 4-15 3 0" stroke="#ff6600"/>
<path d="M1198 1519l40 0 4-3 45 0 2 3 62 0 5-7 90 0 3 3 49 0 2 10 31 0 4-11 65 0 1-2 55 0 3 9 83 0 2 2 38 0 4-1 28 0 1 2 52 0 4-4 77 0" stroke="#4499d8"/>
<path d="M1198 1452l3 6 4 5 4 5 4-2 4 0 4-1 4-1 4 2 4-4 4 3 4 8 4 3 4-9 4 4 4-8 4-11 4 13 4 5 4-9 4 0 4-5 3 6 4 2 4 2 4 6 4-1 4 11 4-9 4-7 4 11 4-14 4 1 4-3 4-3 4 11 4-7 4 8 4-23 4 17 4-4 4 1 4-6 3-6 4 15 4 9 4-3 4-6 4-2 4 4 4-7 4 12 4-5 4 4 4-10 4 7 4-3 4-8 4 12 4-3 4-6 4 5 4-5 4 3 3 6 4-6 4 0 4-8 4 14 4-6 4-3 4-4 4 6 4 9 4-10 4 1 4 8 4-1 4-4 4-8 4-3 4-1 4 9 4 2 4-7 3 3 4 2 4-4 4 7 4-8 4 2 4 19 4-5 4-12 4 7 4-4 4-1 4 0 4-8 4 3 4 8 4-5 4-1 4 0 4 10 4-1 3 1 4-18 4 14 4 7 4-5 4 12 4-17 4 8 4 6 4-21 4 10 4-5 4-4 4 8 4 0 4-1 4-1 4 16 4-8 4 1 4-7 3-9 4 13 4-4 4-3 4 1 4-2 4 6 4-3 4 4 4-7 4 12 4 0 4-5 4 0 4-2 4 4 4-1 4 0 4-4 4 9 4-14 3 2 4-5 4 0 4 13 4-1 4 7 4-1 4-21 4 10 4 7 4 0 4 1 4-8 4-4 4-17 4 13 4 4 4 4 4-6 4 12 4-2 3-6 4 9 4-4 4 4 4 1 4-6 4-6 4 5 4-7 4 9 4-5 4 1 4-1 4-13 4 6 4 15 4 3 4-1 4-11 4 10 4-6 3-9" stroke="#26b800"/>
<path d="M1198 1512l3 8 4 1 4-1 4 4 4 5 4-4 4 2 4-4 4 6 4 1 4-3 4-7 4-2 4 0 4-1 4 7 4-2 4 0 4-3 4 6 4-3 3 1 4 4 4-1 4-2 4 9 4-3 4 4 4-11 4-2 4 3 4-7 4 7 4-4 4 3 4 7 4-2 4-11 4 3 4 5 4-1 4 1 3 4 4-15 4 2 4 4 4 2 4 0 4 4 4 7 4-11 4 2 4-1 4-2 4 4 4 1 4 1 4-6 4-8 4 5 4 11 4-2 4-6 3 7 4 1 4-1 4-4 4 10 4-2 4-2 4-10 4 0 4 7 4 0 4 3 4-4 4 4 4-6 4 0 4-1 4 3 4-6 4 6 4-4 3-1 4 1 4-1 4 1 4-3 4 6 4-4 4-1 4 0 4-3 4 8 4-3 4 7 4-4 4-2 4 0 4-3 4 2 4-2 4 0 4-2 3 7 4 1 4 3 4-3 4 0 4-3 4-1 4 1 4-4 4 9 4-4 4-6 4-1 4 4 4-3 4 1 4 2 4 0 4 3 4 1 4-6 3-2 4 5 4 4 4 7 4-8 4-4 4-2 4-3 4 6 4 5 4-1 4 4 4-7 4 3 4-3 4 0 4 7 4-1 4 2 4-7 4 0 3-2 4-4 4-6 4 14 4-9 4 11 4-9 4-2 4-2 4 5 4 3 4-6 4 0 4 9 4-4 4 3 4 4 4-4 4-3 4-1 4 2 3 4 4-2 4 2 4-14 4 1 4 11 4 14 4-10 4-6 4-1 4 5 4-3 4 1 4-9 4 10 4 2 4-1 4-1 4-1 4-6 4-1 3 0" stroke="#c67aea"/>
<path d="M1198 1447l3-6 4 14 4-1 4-1 4 1 4 7 4 0 4-1 4-15 4 9 4 3 4-1 4-5 4-11 4-1 4 23 4-17 4 12 4 1 4-1 4 4 3-9 4 6 4-5 4-9 4 16 4-1 4-2 4 6 4-8 4-6 4 5 4-5 4-3 4-4 4 8 4 1 4-9 4 13 4-11 4 10 4 2 3-9 4 4 4 0 4-3 4 6 4-1 4 0 4-7 4 5 4 5 4 2 4 10 4-9 4-10 4-5 4 5 4-3 4 3 4-5 4 0 4 11 3 1 4 3 4-10 4-7 4-2 4 17 4-1 4 3 4-11 4 6 4-8 4 1 4-2 4 20 4-16 4-3 4 6 4 4 4-11 4-6 4 15 3 0 4-8 4 18 4-5 4-4 4 7 4-10 4 2 4 0 4-6 4 7 4-6 4-6 4-1 4 9 4-5 4 8 4-9 4-3 4 0 4 8 3 4 4-4 4 8 4 6 4-14 4 7 4-4 4 0 4-2 4 9 4-10 4 10 4-18 4 5 4-3 4 16 4-9 4 0 4-3 4 2 4 2 3-4 4-4 4 5 4 8 4-17 4 8 4 0 4 6 4 0 4-2 4-11 4 10 4-10 4 1 4-7 4 18 4-4 4 1 4-1 4-2 4-1 3 1 4 11 4 1 4-3 4-10 4 1 4-7 4 23 4-6 4-4 4 1 4-8 4-1 4 2 4 5 4-3 4 6 4-11 4 8 4-5 4 7 3 4 4-3 4 1 4 1 4-12 4 0 4 3 4 3 4-11 4 10 4-8 4 6 4 0 4 13 4-14 4-5 4 18 4-6 4-1 4-13 4-4 3 7" stroke="#ff6600"/>
<path d="M1198 1429l3 5 4 0 4-5 4 3 4 5 4 4 4-8 4 2 4 2 4 3 4-4 4-7 4 1 4 3 4-1 4-4 4 4 4-9 4 6 4 1 4 1 3 5 4-7 4 5 4 3 4-8 4 8 4 1 4-5 4 2 4-6 4 1 4 10 4-8 4 4 4 4 4-1 4-2 4-7 4-3 4 5 4 3 3-1 4 2 4-4 4-6 4 2 4 2 4 3 4 1 4 4 4-5 4 2 4 5 4-11 4 0 4-1 4 6 4-1 4 3 4-2 4-6 4 2 3-3 4 7 4-1 4 6 4-1 4 3 4-8 4 3 4-4 4-15 4 13 4-3 4 2 4 0 4-1 4 4 4 5 4-3 4 3 4 1 4-6 3 1 4 2 4-7 4-1 4 0 4 7 4-1 4 0 4 0 4 3 4-4 4 9 4-10 4-2 4 9 4-5 4 1 4 5 4-3 4-6 4 8 3-10 4 11 4-8 4-3 4 3 4-1 4-3 4 6 4 0 4-3 4 0 4 1 4 2 4 3 4-6 4 7 4-2 4 9 4-9 4-4 4 1 3 0 4 7 4-8 4 0 4 5 4 6 4-6 4 3 4-5 4 6 4-10 4 0 4-3 4 9 4-1 4-5 4-9 4 8 4-1 4 4 4 2 3 5 4-14 4-2 4 2 4 9 4 6 4-3 4-4 4 4 4-7 4 9 4-6 4-1 4 1 4 4 4-3 4 0 4-2 4-2 4 7 4 3 3-12 4 3 4 9 4-1 4 2 4-13 4 9 4 2 4 4 4-8 4-3 4 2 4 2 4-2 4 1 4 4 4-6 4-3 4 0 4 6 4-1 3 2" stroke="#969100"/>
<path d="M1198 1448l3-1 4 0 4 3 4 3 4-10 4-5 4 15 4-3 4-1 4 0 4 10 4-11 4-10 4 7 4 1 4-2 4-1 4-1 4 4 4 9 4-10 3 2 4 1 4-3 4-5 4 8 4 3 4-6 4 5 4-2 4-6 4 4 4 11 4-7 4-6 4 10 4-3 4 11 4-8 4-8 4 4 4-4 3 6 4-4 4-10 4-2 4 23 4-19 4 6 4-7 4 10 4 0 4 1 4-1 4-4 4-5 4-3 4 1 4 5 4 0 4 4 4 6 4-7 3 8 4 0 4-1 4-14 4 6 4 4 4-3 4-2 4-7 4 15 4-3 4-8 4 8 4-11 4 5 4-1 4-2 4 13 4-2 4 2 4-5 3-9 4 3 4 6 4 9 4-12 4 8 4 1 4 3 4-8 4 6 4-4 4-3 4-14 4 6 4 12 4-14 4 2 4 9 4 0 4-15 4 13 3-4 4 3 4-3 4-8 4 10 4-6 4 9 4 7 4-4 4-4 4 9 4-6 4-1 4-12 4 15 4-1 4-1 4 0 4-1 4 1 4-2 3 4 4-8 4 0 4-4 4 10 4-11 4 6 4 2 4-8 4 9 4-1 4-3 4-1 4 3 4-7 4 13 4-2 4-4 4 6 4-4 4-5 3 4 4-12 4 15 4-5 4-2 4 0 4 6 4-1 4-8 4 14 4-6 4-7 4 6 4-19 4 16 4-2 4 1 4-10 4 3 4 1 4 3 3 2 4 1 4 7 4 0 4-6 4-5 4 4 4 5 4 3 4-3 4 12 4-23 4 4 4 11 4-5 4-3 4 7 4-2 4-4 4 9 4-3 3-8" stroke="#00c8d8"/>
<path d="M1198 1519l106 0 2 7 71 0 3-2 75 0 4 0 107 0 3-4 94 0 4-2 83 0 4 3 91 0 5-6 53 0 4-2 41 0" stroke="#969100"/>
<path d="M1198 1465l3 5 4 4 4-15 4 11 4 1 4-8 4 15 4-3 4-7 4-5 4 5 4-7 4 11 4-7 4 6 4-4 4-10 4 5 4 12 4-7 4-6 3 5 4-8 4 3 4 5 4-11 4 7 4 2 4-1 4-2 4 2 4 12 4-7 4 1 4-6 4 2 4-7 4 8 4 8 4-5 4-7 4 14 3-17 4 3 4 3 4-4 4-1 4 19 4-14 4-3 4 9 4-4 4 6 4-7 4 8 4-2 4 1 4-12 4 15 4 6 4-10 4 3 4-10 3 2 4 0 4-15 4-5 4 16 4-3 4 5 4 3 4-3 4 5 4 0 4-17 4 6 4 2 4-9 4 15 4-10 4-5 4 3 4 17 4-2 3-10 4-8 4 4 4 5 4 10 4 2 4 0 4-5 4 3 4 4 4-16 4 11 4-7 4 9 4-6 4-6 4 1 4-12 4 28 4-18 4 17 3-6 4-4 4 2 4 4 4-11 4 0 4 7 4 1 4 0 4-4 4 1 4 4 4-5 4 3 4-2 4 5 4-4 4-5 4 12 4-7 4 5 3-13 4 7 4-5 4 2 4-12 4 5 4 3 4 1 4 6 4 8 4-8 4-2 4-3 4 3 4 4 4 2 4 0 4-3 4 5 4-1 4-10 3 4 4 4 4 3 4 1 4 10 4-5 4-3 4 0 4-1 4 2 4-4 4-10 4-3 4 13 4-5 4 1 4-3 4 0 4 7 4 4 4 0 3 0 4-7 4 1 4-5 4-9 4 6 4 0 4 4 4 1 4 8 4-8 4 1 4-1 4-5 4 2 4 0 4-6 4-1 4 17 4-10 4-1 3 5" stroke="#ff2d2d"/>
<path d="M1198 1499l109 0 3-6 88 0 4 3 100 0 2 8 79 0 5 1 110 0 4-8 85 0 5 0 38 0 2-4 63 0 2 4 51 0" stroke="#969100"/>
<path d="M1198 1527l3-2 4 5 4-1 4 2 4-5 4 1 4 2 4 1 4 4 4-8 4-10 4 1 4 6 4 4 4 3 4 7 4 0 4-6 4 4 4-4 4 2 3 0 4-2 4-11 4 13 4-2 4-4 4 0 4 1 4-6 4 3 4-8 4 10 4 0 4 0 4 0 4 7 4-1 4-1 4-1 4-6 4-6 3 3 4 14 4-13 4 6 4 3 4 1 4 0 4-3 4-3 4-3 4 5 4-5 4-3 4 9 4-1 4-3 4 0 4 0 4-2 4-3 4 9 3-10 4 4 4 7 4 1 4-4 4 2 4-1 4 6 4 5 4-12 4 7 4-6 4 2 4-2 4-2 4-4 4 9 4 0 4-1 4-4 4 3 3 2 4-3 4-1 4-5 4 9 4-1 4 2 4-3 4-1 4 1 4 2 4 0 4-10 4 8 4-5 4 7 4 1 4-5 4 1 4-1 4-4 3 0 4 2 4 2 4 2 4 7 4-4 4-3 4 0 4-2 4 6 4-1 4 0 4-6 4 6 4-1 4 1 4-3 4 7 4-1 4-1 4-10 3 2 4 1 4 3 4 7 4 3 4-6 4-3 4 2 4-5 4-6 4 12 4-5 4-8 4 5 4-2 4-2 4-3 4 9 4 2 4 2 4 0 3 3 4-5 4-6 4 2 4 3 4-9 4-1 4 15 4-10 4 4 4 2 4 2 4-10 4 7 4 2 4 1 4 0 4-8 4-6 4 5 4 0 3 1 4 4 4-6 4 4 4 2 4-3 4-3 4 10 4-4 4 3 4 5 4-6 4 2 4-5 4 3 4-4 4 2 4 4 4-3 4-1 4 2 3-3" stroke="#00ad6a"/>
<path d="M1198 1461l3 8 4 7 4-5 4-4 4 10 4-7 4 1 4 0 4-8 4-6 4 9 4 1 4-1 4-2 4-3 4-5 4 0 4 9 4 2 4 1 4-12 3 5 4 2 4 5 4 0 4 0 4-8 4 2 4 5 4 2 4-6 4-4 4 0 4-3 4 4 4 0 4 15 4-7 4 3 4-1 4-8 4-3 3 1 4-1 4 15 4-15 4 3 4 4 4-1 4 2 4 3 4 7 4-14 4-2 4 2 4 0 4-4 4 6 4-2 4 3 4-5 4 0 4 6 3 7 4 6 4 1 4-9 4-5 4-6 4-2 4-1 4 9 4-2 4-10 4 6 4 12 4-8 4-2 4 3 4-1 4 6 4 1 4 0 4-7 3 6 4-9 4 5 4 1 4 0 4-3 4-2 4 1 4-6 4-5 4 16 4 0 4-5 4 1 4-11 4 4 4 12 4-15 4 3 4 8 4-7 3 5 4-7 4 12 4-2 4 3 4-8 4-7 4 13 4-9 4 9 4 2 4 12 4-18 4 8 4-5 4 3 4-4 4-3 4-2 4 1 4 0 3 0 4 2 4-5 4 4 4 11 4-2 4-18 4 7 4-10 4 9 4 1 4 3 4 2 4-14 4 0 4 8 4 4 4 10 4-4 4-18 4 7 3 0 4 2 4-2 4 13 4-8 4 2 4 2 4 0 4 0 4 2 4-8 4 2 4 7 4-1 4 1 4 0 4 0 4-6 4-1 4-10 4 6 3-1 4-12 4 16 4-1 4 5 4 3 4-10 4 10 4 0 4-11 4 0 4 3 4 10 4-2 4-11 4 3 4 5 4 0 4 3 4-5 4 12 3-18" stroke="#0068e0"/>
<path d="M1198 1487l3 0 4-4 4 13 4-2 4-10 4-9 4 3 4 4 4-1 4 0 4-9 4 11 4 2 4 5 4-10 4-2 4 6 4 14 4-4 4-9 4-3 3 4 4-10 4 4 4 10 4-8 4 6 4-3 4 4 4 7 4-15 4 0 4 1 4 7 4-5 4-10 4 14 4-9 4 10 4-16 4-13 4 20 3 0 4 5 4 0 4 3 4-9 4-2 4 10 4-1 4-5 4-6 4 4 4-8 4 18 4-1 4 1 4 4 4-8 4 9 4-16 4 9 4-8 3 4 4 3 4 0 4 8 4-6 4-5 4 15 4-22 4 14 4-8 4 11 4-8 4-11 4 13 4 0 4-16 4 1 4 13 4 4 4 1 4 8 3-11 4-4 4-7 4 10 4 6 4-9 4 3 4-3 4 3 4-4 4 4 4 2 4 9 4-12 4 3 4-6 4 2 4-3 4 5 4-6 4 5 3 4 4 3 4-13 4 1 4-6 4 8 4-2 4 3 4 4 4-9 4 13 4-7 4-2 4-6 4 10 4-2 4-1 4 4 4 0 4-4 4 6 3 3 4-8 4-6 4 6 4-6 4-3 4 8 4 0 4 8 4 3 4-11 4 11 4-2 4-11 4 0 4-5 4 2 4 2 4 1 4 4 4 1 3 6 4 5 4 3 4-12 4 4 4-15 4 3 4 3 4 1 4-3 4 6 4-6 4 6 4-4 4-11 4 8 4 4 4 4 4 2 4 1 4-4 3-4 4 4 4-6 4 1 4 11 4-1 4 7 4-8 4 0 4-2 4 4 4-9 4-5 4 2 4-8 4 1 4 1 4 16 4-11 4 1 4 2 3-6" stroke="#ff2d2d"/>
<path d="M1198 1438l3 6 4 0 4 4 4-8 4 6 4 6 4-9 4 1 4 0 4 1 4 6 4-5 4 1 4-6 4 3 4 5 4-3 4 1 4 1 4 4 4 4 3-1 4-5 4-5 4-3 4-16 4 6 4 5 4 6 4 11 4-8 4 3 4-16 4 4 4 18 4-13 4 1 4 4 4-1 4 0 4-2 4 6 3 0 4 0 4-20 4 8 4 9 4 5 4-8 4 5 4-6 4-1 4 17 4-5 4-17 4 3 4 12 4-9 4 9 4-9 4 7 4 3 4-6 3-5 4 1 4-12 4 15 4-7 4 2 4 0 4 4 4 7 4-8 4-2 4-3 4 0 4 9 4 0 4 4 4-2 4-6 4 5 4 3 4 1 3 3 4-6 4 1 4-1 4-1 4-3 4 7 4 0 4 0 4 0 4 1 4 1 4-2 4-11 4 6 4-4 4 2 4-3 4 1 4-8 4 0 3 5 4 6 4 0 4-1 4-1 4 7 4-6 4 0 4-6 4 0 4 7 4-6 4 3 4 0 4 4 4 4 4 4 4-13 4 6 4-12 4 7 3 8 4-1 4-3 4-1 4-3 4 4 4-1 4 5 4 0 4-3 4-9 4-7 4 9 4 6 4-10 4 4 4 1 4 7 4-3 4 4 4-2 3-3 4 2 4-5 4 6 4-5 4 9 4 9 4-17 4 2 4 20 4-11 4 2 4-9 4-5 4-7 4-9 4 21 4-2 4-6 4 16 4-5 3 2 4 4 4-4 4 4 4-9 4-3 4 11 4-5 4 4 4-16 4 5 4 8 4-10 4 14 4 8 4-9 4-3 4-1 4-12 4 9 4-10 3 4" stroke="#26b800"/>
<path d="M1198 1493l3-4 4-8 4 6 4-16 4 9 4 20 4-2 4-2 4-20 4 13 4-1 4 1 4-8 4-3 4 11 4 4 4 4 4-11 4-4 4-7 4 1 3 18 4-10 4-1 4 4 4 3 4-4 4 6 4 1 4-17 4 16 4-8 4 4 4-1 4-4 4 6 4-1 4 17 4-8 4 0 4-3 4-4 3 3 4-15 4-4 4 10 4-1 4-3 4 7 4 1 4-9 4 10 4 4 4-4 4-9 4 6 4 7 4-3 4 2 4 6 4-1 4-15 4 2 3 5 4-5 4 1 4 9 4-11 4 8 4 2 4 2 4 0 4-3 4 11 4-11 4-13 4 4 4-9 4 9 4-12 4 6 4 7 4-2 4 3 3-2 4 3 4 0 4 1 4-2 4 0 4 0 4 4 4 4 4-5 4-2 4 5 4-2 4-1 4-11 4 2 4 4 4 3 4 13 4-4 4-12 3-1 4 2 4 10 4-9 4-4 4-13 4 7 4 10 4 1 4 0 4 7 4-6 4 5 4-1 4-5 4 6 4-4 4-10 4 2 4 9 4 3 3-2 4-11 4 17 4-16 4 4 4 0 4-2 4 7 4-4 4-7 4 9 4-5 4 10 4 2 4 7 4 1 4-7 4 2 4-13 4-3 4 14 3-7 4 1 4-4 4 7 4 2 4 4 4-8 4-5 4 0 4-8 4 0 4 11 4-6 4-2 4 5 4 9 4-5 4-9 4-1 4 19 4-5 3 4 4-5 4 2 4-3 4 19 4-6 4-10 4 2 4-4 4 10 4-9 4-3 4-2 4 2 4 10 4-8 4-10 4-6 4 7 4-3 4 3 3 15" stroke="#0068e0"/>
<path d="M1198 1508l61 0 4 6 105 0 4-11 46 0 1 0 73 0 5-2 79 0 2 10 53 0 2-10 106 0 4 7 29 0 3-5 28 0 3 4 94 0 3 2 45 0" stroke="#ff6600"/>
<path d="M1198 1520l69 0 5 4 33 0 3 2 105 0 2-5 92 0 4-6 25 0 4-1 100 0 3 0 49 0 2 12 82 0 3-2 30 0 2-3 100 0 2 1 30 0 1-5 4 0" stroke="#6e6e6e"/>
<path d="M1198 1433l3 7 4 5 4-10 4 9 4-5 4-2 4 2 4-4 4 0 4 2 4-3 4 6 4-6 4 2 4-1 4 2 4 5 4-3 4 4 4-5 4 2 3-2 4-2 4 4 4-2 4-1 4-2 4 2 4 5 4 6 4-6 4 0 4-2 4 1 4 3 4-9 4 5 4-4 4 10 4 3 4-9 4-2 3-4 4 0 4 0 4 2 4-4 4-2 4 9 4 2 4-6 4 5 4 0 4-3 4 1 4 1 4 9 4-4 4-2 4-4 4 4 4-7 4-3 3 6 4 2 4 4 4-4 4 1 4 4 4-5 4 0 4-5 4 6 4 0 4-4 4 5 4-1 4 5 4-9 4 0 4 8 4-2 4-6 4 4 3 3 4-2 4-2 4 5 4-11 4-4 4 3 4 8 4 0 4-2 4 8 4-10 4-1 4 4 4-2 4 3 4-2 4 5 4-9 4 0 4 7 3-6 4 12 4-5 4-5 4 0 4 0 4 0 4 4 4-1 4-5 4 5 4 2 4-2 4-2 4-7 4 11 4 1 4-1 4-7 4 4 4-4 3-2 4-3 4 3 4 5 4-2 4-5 4-1 4-1 4 5 4-3 4 7 4 1 4 2 4-5 4 9 4-12 4 4 4-7 4 6 4 3 4-2 3 1 4-2 4 1 4 5 4-2 4 4 4 1 4-4 4 3 4 0 4-2 4 4 4-9 4 2 4 5 4-4 4-7 4 1 4 5 4-5 4-2 3 4 4 2 4-7 4 5 4 1 4 6 4-2 4-5 4 0 4 3 4-1 4 3 4-6 4 3 4-7 4 9 4 1 4-4 4 3 4-2 4 1 3 3" stroke="#ff6600"/>
<path d="M1198 1467l3-3 4-9 4 11 4-8 4 7 4-1 4-3 4 4 4-11 4 12 4-3 4-11 4-4 4 13 4 14 4-19 4-2 4 7 4-1 4-4 4-6 3 13 4-3 4 11 4 3 4-14 4-7 4 7 4 3 4-1 4-3 4 0 4 7 4-3 4 2 4-8 4-6 4 8 4 9 4-5 4 1 4-2 3-7 4 6 4 4 4-2 4-2 4 0 4-1 4 3 4 1 4 0 4-8 4-17 4 6 4 17 4 2 4 6 4-20 4 4 4-6 4 6 4 5 3 7 4 6 4-14 4-7 4 1 4 2 4-2 4 5 4 7 4-15 4-2 4 14 4-2 4 11 4-11 4 10 4 4 4-5 4-2 4-4 4 8 3-3 4 7 4-5 4-2 4 2 4-3 4 7 4-12 4 4 4-2 4-9 4-7 4 6 4 7 4-2 4-16 4 18 4-6 4 2 4 19 4-4 3-13 4-1 4 7 4 4 4 2 4-11 4 5 4 5 4 5 4-14 4 5 4 11 4-17 4 0 4 12 4-6 4 13 4-11 4-6 4 3 4 3 3-8 4 0 4 5 4 3 4-14 4 3 4 0 4 1 4 12 4 3 4-16 4-8 4 9 4 8 4-5 4-3 4 3 4 1 4 1 4-12 4 8 3 6 4 3 4-11 4 2 4-11 4 4 4-5 4 9 4 6 4-1 4-2 4 7 4-3 4 11 4-9 4 5 4-11 4-2 4 9 4-10 4 0 3 8 4 7 4-12 4-2 4 11 4-17 4 9 4 0 4 13 4-2 4 2 4-15 4 0 4 3 4-6 4 7 4-4 4 5 4-6 4 3 4-1 3 4" stroke="#4499d8"/>
<path d="M1198 1509l26 0 1 7 30 0 2-7 42 0 5 1 54 0 3-2 93 0 4 0 65 0 3 7 61 0 3 1 77 0 4-4 98 0 5-7 37 0 2-2 105 0 3 2 27 0" stroke="#4499d8"/>
<path d="M1198 1461l3-4 4 2 4-3 4-1 4-8 4-7 4 4 4-1 4 1 4 5 4 2 4-8 4-7 4 13 4-1 4 4 4 10 4 3 4-13 4 5 4-13 3 4 4 19 4-10 4 4 4-12 4 11 4-2 4 0 4-4 4-10 4 6 4 1 4-8 4 1 4 5 4 8 4 1 4-5 4-1 4 5 4-7 3-1 4-8 4 7 4 2 4-1 4 0 4 3 4 5 4 0 4-1 4-16 4 9 4 2 4 1 4 8 4-1 4 2 4 3 4-13 4 6 4-8 3-2 4 2 4 5 4-4 4-5 4-11 4 20 4-6 4-5 4 9 4-5 4-9 4 8 4 3 4 5 4-10 4 9 4-7 4 1 4 1 4 7 3-3 4 3 4 4 4-10 4 9 4-4 4 1 4-10 4 4 4-1 4 8 4 4 4-12 4 10 4-1 4-8 4-8 4 13 4-2 4 6 4 4 3 7 4-6 4-9 4 1 4-1 4 1 4 1 4-6 4-2 4 9 4-2 4-5 4 3 4-11 4 6 4 1 4-11 4 3 4-3 4 1 4 13 3-4 4 2 4 1 4 0 4-6 4 0 4 12 4-5 4-2 4 5 4-3 4 12 4-16 4 0 4 9 4-8 4 3 4 1 4-3 4 10 4-13 3 4 4 2 4-6 4 8 4 2 4-6 4 3 4-3 4 5 4 3 4-3 4-2 4-5 4 2 4 1 4-12 4 4 4 4 4 0 4-9 4 1 3-3 4 16 4-9 4 2 4-2 4 11 4 0 4 0 4 5 4 1 4-1 4 0 4-5 4-9 4 9 4-2 4 1 4 12 4-13 4-7 4 4 3-1" stroke="#26b800"/>
<path d="M1198 1530l3-3 4 1 4-7 4 9 4-7 4 7 4 0 4-7 4 6 4-5 4-8 4 5 4 10 4 3 4-13 4 3 4 6 4 0 4 1 4-17 4 15 3 4 4 0 4-3 4-16 4 6 4 4 4 8 4-3 4-6 4 1 4-5 4 8 4-5 4 3 4-1 4-1 4-9 4 3 4 5 4 7 4-4 3-4 4 0 4 1 4-5 4 10 4 2 4-3 4 3 4-8 4 9 4-5 4-2 4 0 4-6 4 5 4 5 4-6 4 5 4-1 4 4 4 1 3-11 4 10 4-4 4 2 4 1 4-7 4 6 4 2 4-1 4-5 4 6 4-3 4 0 4-3 4-3 4 1 4 5 4-3 4 2 4-4 4 3 3-4 4 5 4-2 4 6 4-4 4-1 4-4 4 3 4 2 4-5 4-2 4 8 4 0 4 2 4-11 4 4 4-6 4 5 4-3 4-2 4 4 3 7 4-5 4 5 4 2 4-4 4-4 4 3 4 4 4-12 4 3 4 6 4-4 4 4 4-2 4 0 4-1 4-1 4 3 4-2 4-2 4 2 3 6 4-1 4-1 4 0 4-11 4 7 4-4 4-4 4 9 4-1 4 4 4 5 4-8 4 3 4 0 4 1 4-6 4 9 4 0 4-10 4 3 3 1 4 3 4 0 4-2 4-3 4 4 4-2 4-3 4-9 4 5 4 1 4 2 4 0 4 11 4-2 4 0 4 4 4-1 4-2 4 0 4-1 3-5 4 2 4-1 4-2 4 0 4-2 4 8 4 0 4-7 4 3 4-3 4 7 4-4 4 2 4-2 4-1 4 2 4-3 4 5 4 3 4-5 3 3" stroke="#c67aea"/>
<path d="M1198 1453l3 3 4 3 4 1 4 2 4-13 4-2 4 9 4 7 4 2 4-19 4 11 4 12 4-4 4 5 4-3 4-1 4-13 4-4 4-5 4-2 4 9 3-2 4 3 4 8 4-13 4 19 4-7 4-3 4-1 4 11 4-16 4 12 4-1 4 0 4-1 4-10 4 0 4 5 4 1 4-3 4 7 4 3 3-3 4-5 4 3 4-5 4 5 4 1 4-17 4 15 4 3 4 2 4-7 4 5 4 2 4 7 4-2 4-11 4-7 4 3 4 8 4 6 4 0 3-16 4 6 4 7 4-11 4 5 4-2 4-6 4 5 4 4 4-8 4 4 4 11 4-4 4 2 4-12 4 0 4 24 4-7 4-13 4 5 4-3 3 4 4-2 4-9 4 3 4 8 4 0 4-5 4 5 4 4 4-1 4-3 4 4 4-12 4 18 4-5 4 2 4-10 4 3 4-7 4 15 4-3 3 0 4-11 4 6 4-1 4-11 4 8 4 9 4-5 4 5 4-18 4 3 4 13 4-11 4 6 4 10 4-9 4-14 4-1 4 18 4-6 4-6 3 2 4 7 4 0 4-2 4-15 4 13 4-2 4 8 4-4 4-4 4-3 4 9 4 5 4 2 4-3 4-15 4 14 4 3 4-12 4 12 4 0 3-1 4 4 4-4 4-6 4-2 4-4 4 0 4 11 4-10 4 4 4-1 4 9 4-2 4 1 4-7 4 2 4-7 4 3 4 8 4-2 4-7 3 8 4-4 4-1 4-3 4 6 4-2 4 0 4-2 4-8 4 0 4-10 4 14 4 4 4-5 4 0 4-3 4 2 4 5 4-5 4 4 4-12 3 6" stroke="#00ad6a"/>
<path d="M1198 1464l3 0 4-7 4-4 4 0 4 2 4 3 4-6 4 13 4-16 4 10 4-4 4 3 4 3 4-10 4 5 4-1 4 0 4 4 4 1 4 3 4 8 3-6 4-1 4-5 4-9 4 4 4-3 4 2 4-2 4-1 4 13 4-6 4-2 4 13 4-8 4 2 4-10 4-2 4 5 4 9 4 5 4-6 3-6 4 8 4 0 4-4 4-9 4 5 4 2 4-1 4-6 4 2 4 2 4 7 4-6 4-1 4 7 4-16 4 10 4-10 4 12 4-3 4-8 3-3 4 6 4 3 4-4 4 9 4-3 4 2 4 4 4 2 4 9 4 5 4-9 4 1 4-16 4 1 4 9 4 1 4 0 4 4 4-3 4-2 3-9 4-3 4 11 4-2 4-12 4 7 4 9 4-10 4 8 4 0 4-12 4 4 4 1 4-5 4 7 4 0 4 4 4-4 4-7 4 4 4-5 3-1 4 4 4 3 4 1 4 9 4-5 4 0 4-5 4 13 4 7 4 7 4-17 4 2 4 1 4-10 4-5 4 4 4 2 4-9 4 17 4-5 3-4 4-3 4 10 4 1 4-5 4 6 4-12 4-4 4-1 4 8 4-3 4 2 4 3 4 9 4-14 4 2 4 7 4-13 4 5 4 4 4-1 3 9 4-18 4 6 4 6 4-2 4-6 4 7 4-1 4 2 4 0 4-6 4-9 4-2 4 7 4-1 4-1 4-3 4 3 4-13 4 13 4 5 3 4 4-3 4 2 4 3 4-1 4-6 4 2 4-9 4 8 4 2 4 1 4 7 4-4 4-3 4-4 4 4 4 9 4-5 4-5 4-10 4 6 3 6" stroke="#dd9900"/>
<path d="M1198 1519l3-2 4 1 4 6 4-2 4-3 4-2 4-1 4 7 4 0 4 0 4 2 4-5 4-1 4-1 4 6 4-7 4 4 4 2 4-3 4 1 4-5 3 7 4-9 4-1 4 1 4 3 4 2 4 2 4-5 4 2 4 3 4 2 4 0 4-4 4 6 4-2 4-4 4 4 4-7 4 8 4 2 4 3 3-1 4-4 4 0 4-1 4-2 4 1 4 11 4-12 4-1 4-1 4 7 4-10 4 4 4-9 4 4 4 5 4-2 4 5 4-6 4 9 4 1 3-10 4 1 4-2 4 8 4-4 4-2 4 1 4-1 4 6 4-7 4 0 4 5 4 7 4-7 4-4 4 1 4 1 4 2 4-6 4-2 4 1 3 2 4 3 4-3 4 3 4-5 4 2 4 6 4 4 4 3 4-6 4-2 4-5 4 10 4 3 4-2 4-11 4 8 4-8 4 0 4 2 4-2 3-2 4 1 4-1 4 3 4-5 4 0 4 4 4 5 4-3 4-2 4 8 4-8 4 1 4-4 4-2 4 13 4-6 4 5 4 2 4-7 4 3 3 3 4-12 4 3 4 2 4 5 4-4 4-8 4 8 4-1 4-5 4 9 4 1 4-7 4-2 4-1 4 4 4 0 4 5 4 0 4-3 4 4 3 3 4-10 4 1 4-1 4-4 4 2 4 7 4 1 4-2 4 5 4-10 4 5 4-4 4-4 4 7 4-6 4 11 4-8 4 2 4-3 4 2 3-2 4 8 4-2 4-3 4 6 4-7 4 7 4-7 4 0 4-1 4 4 4-1 4-5 4 2 4 3 4 2 4-1 4 2 4-6 4 11 4-5 3-3" stroke="#00ad6a"/>
</g>
<rect x="1197.5" y="1113.5" width="751" height="750" fill="none" stroke="#000" stroke-width="3"/>
<path d="M1322.7 1863.5v-10.5M1447.8 1863.5v-10.5M1573 1863.5v-10.5M1698.2 1863.5v-10.5M1823.3 1863.5v-10.5M1197.5 1780.2h10.5M1197.5 1613.5h10.5M1197.5 1446.8h10.5M1197.5 1280.2h10.5" stroke="#000" stroke-width="3" fill="none"/>
<text class="tk" x="1186.8" y="1796.2" text-anchor="end" font-size="54">150</text>
<text class="tk" x="1186.8" y="1629.5" text-anchor="end" font-size="54">200</text>
<text class="tk" x="1186.8" y="1462.8" text-anchor="end" font-size="54">250</text>
<text class="tk" x="1186.8" y="1296.2" text-anchor="end" font-size="54">300</text>
<text class="tk" x="1186.8" y="1129.5" text-anchor="end" font-size="54">350</text>
<text class="tk" x="1199" y="1917" text-anchor="middle" font-size="54">00:00</text>
<text class="tk" x="1324.2" y="1917" text-anchor="middle" font-size="54">04:00</text>
<text class="tk" x="1449.3" y="1917" text-anchor="middle" font-size="54">08:00</text>
<text class="tk" x="1574.5" y="1917" text-anchor="middle" font-size="54">12:00</text>
<text class="tk" x="1699.7" y="1917" text-anchor="middle" font-size="54">16:00</text>
<text class="tk" x="1824.8" y="1917" text-anchor="middle" font-size="54">20:00</text>
<text class="tk" x="1948.5" y="1916.5" text-anchor="middle" font-size="54">24:00</text>
<text x="1530" y="1973.9" font-size="57">Time</text>
<text transform="translate(1087.2 1608.4) rotate(-90)" font-size="62.2">Q(kVAR)</text>
<text x="1310.5" y="2044" font-size="60">(d) Q after pre-treatment</text>
</svg></body></html>
